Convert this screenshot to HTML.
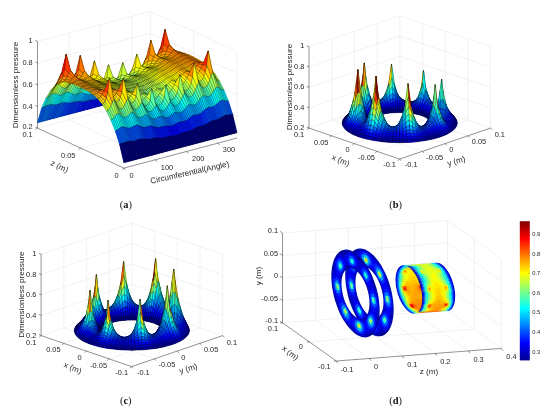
<!DOCTYPE html>
<html lang="en"><head><meta charset="utf-8"><title>Pressure distribution</title>
<style>html,body{margin:0;padding:0;background:#fff}body{width:550px;height:410px;overflow:hidden}svg{display:block}text{font-family:"Liberation Sans",sans-serif;fill:#262626}.cap{font-family:"Liberation Serif",serif;fill:#111}</style></head>
<body>
<svg width="550" height="410" viewBox="0 0 550 410">
<path d="M155.3 159.8L68.9 119.8M68.9 119.8L68.9 33.1M186.7 151.4L100.3 111.4M100.3 111.4L100.3 24.7M218.1 143.1L131.7 103.1M131.7 103.1L131.7 16.4M80.7 148.1L193.7 118.1M193.7 118.1L193.7 31.4M37.5 106.4L150.5 76.4M150.5 76.4L236.9 116.4M37.5 84.8L150.5 54.7M150.5 54.7L236.9 94.8M37.5 63.1L150.5 33.1M150.5 33.1L236.9 73.1M37.5 41.4L150.5 11.4M150.5 11.4L236.9 51.4M150.5 98.1L150.5 11.4M236.9 138.1L236.9 51.4M37.5 128.1L150.5 98.1M150.5 98.1L236.9 138.1" stroke="#e4e4e4" stroke-width=".5" fill="none"/>
<path d="M37.5 128.1L37.5 41.4M37.5 128.1L123.9 168.1M123.9 168.1L236.9 138.1M37.5 128.1L35.3 127.1M37.5 106.4L35.3 105.4M37.5 84.8L35.3 83.8M37.5 63.1L35.3 62.1M37.5 41.4L35.3 40.4M123.9 168.1L121.9 169.5M80.7 148.1L78.7 149.5M37.5 128.1L35.5 129.5M123.9 168.1L125.5 170.1M155.3 159.8L156.9 161.8M186.7 151.4L188.3 153.4M218.1 143.1L219.7 145.1" stroke="#262626" stroke-width=".5" fill="none"/>
<defs><g id="sa"><path color="#0063ff" d="M1534 780l14-3-43 150-14 4zm-14 1l14-1-43 151-14 3zm-14 1l14-1-43 153-14 4zm-14 1l14-1-43 156-15 4zm-14 3l14-3-44 159-14 4zm-15 7l15-7-44 160-14 3zm-14 8l14-8-43 156-14 4zm-14 10l14-10-43 152-14 4z"/>
<path color="#0053ff" d="M1421 819l14-8-43 146-14 4zm-14 8l14-8-43 142-14 3zm-14 5l14-5-43 137-14 4z"/>
<path color="#06fff9" d="M1577 681l14-2-43 98-14 3z"/>
<path color="#0053ff" d="M1379 835l14-3-43 136-15 4zm-14 3l14-3-44 137-14 4z"/>
<path color="#06fff9" d="M1563 680l14 1-43 99-14 1z"/>
<path color="#0053ff" d="M1350 841l15-3-44 138-14 3z"/>
<path color="#06fff9" d="M1549 677l14 3-43 101-14 1z"/>
<path color="#0053ff" d="M1336 846l14-5-43 138-14 4z"/>
<path color="#16ffe9" d="M1535 674l14 3-43 105-14 1z"/>
<path color="#0053ff" d="M1322 853l14-7-43 137-14 4z"/>
<path color="#16ffe9" d="M1521 676l14-2-43 109-14 3z"/>
<path color="#0043ff" d="M1308 862l14-9-43 134-14 4z"/>
<path color="#16ffe9" d="M1507 685l14-9-43 110-15 7z"/>
<path color="#0043ff" d="M1294 872l14-10-43 129-14 3z"/>
<path color="#16ffe9" d="M1493 698l14-13-44 108-14 8z"/>
<path color="#03f" d="M1280 881l14-9-43 122-14 4z"/>
<path color="#06fff9" d="M1478 713l15-15-44 103-14 10z"/>
<path color="#03f" d="M1266 889l14-8-43 117-15 4z"/>
<path color="#00f5ff" d="M1464 726l14-13-43 98-14 8z"/>
<path color="#00e5ff" d="M1450 736l14-10-43 93-14 8z"/>
<path color="#03f" d="M1252 895l14-6-44 113-14 4z"/>
<path color="#7f8" d="M1620 609l15-1-44 71-14 2z"/>
<path color="#00e5ff" d="M1436 742l14-6-43 91-14 5z"/>
<path color="#02f" d="M1237 900l15-5-44 111-14 3z"/>
<path color="#00e5ff" d="M1422 744l14-2-43 90-14 3z"/>
<path color="#7f8" d="M1606 604l14 5-43 72-14-1z"/>
<path color="#02f" d="M1223 903l14-3-43 109-14 4z"/>
<path color="#00e5ff" d="M1408 744l14 0-43 91-14 3z"/>
<path color="#02f" d="M1209 907l14-4-43 110-14 4z"/>
<path color="#8f7" d="M1592 593l14 11-43 76-14-3z"/>
<path color="#00e5ff" d="M1394 744l14 0-43 94-15 3z"/>
<path color="#02f" d="M1195 912l14-5-43 110-14 4z"/>
<path color="#98ff67" d="M1578 583l14 10-43 84-14-3z"/>
<path color="#02f" d="M1181 918l14-6-43 109-14 3z"/>
<path color="#00e5ff" d="M1380 749l14-5-44 97-14 5z"/>
<path color="#b8ff47" d="M1564 581l14 2-43 91-14 2z"/>
<path color="#00e5ff" d="M1365 759l15-10-44 97-14 7z"/>
<path color="#02f" d="M1167 926l14-8-43 106-14 4z"/>
<path color="#00e5ff" d="M1351 772l14-13-43 94-14 9z"/>
<path color="#02f" d="M1153 934l14-8-43 102-14 4z"/>
<path color="#b8ff47" d="M1550 594l14-13-43 95-14 9z"/>
<path color="#00d4ff" d="M1337 788l14-16-43 90-14 10z"/>
<path color="#a8ff57" d="M1536 617l14-23-43 91-14 13z"/>
<path color="#0012ff" d="M1139 941l14-7-43 98-15 4z"/>
<path color="#98ff67" d="M1522 639l14-22-43 81-15 15z"/>
<path color="#00c4ff" d="M1323 801l14-13-43 84-14 9z"/>
<path color="#7f8" d="M1507 658l15-19-44 74-14 13z"/>
<path color="#0012ff" d="M1124 947l15-6-44 95-14 3z"/>
<path color="#00b4ff" d="M1309 812l14-11-43 80-14 8z"/>
<path color="#67ff98" d="M1493 670l14-12-43 68-14 10z"/>
<path color="#d9ff26" d="M1664 559l14 0-43 49-15 1z"/>
<path color="#00b4ff" d="M1295 820l14-8-43 77-14 6z"/>
<path color="#0012ff" d="M1110 952l14-5-43 92-14 4z"/>
<path color="#57ffa8" d="M1479 676l14-6-43 66-14 6z"/>
<path color="#d9ff26" d="M1650 548l14 11-44 50-14-5z"/>
<path color="#00a4ff" d="M1281 824l14-4-43 75-15 5z"/>
<path color="#0012ff" d="M1096 955l14-3-43 91-14 4z"/>
<path color="#57ffa8" d="M1465 675l14 1-43 66-14 2z"/>
<path color="#00a4ff" d="M1267 826l14-2-44 76-14 3z"/>
<path color="#0012ff" d="M1082 958l14-3-43 92-14 4z"/>
<path color="#e9ff16" d="M1635 527l15 21-44 56-14-11z"/>
<path color="#57ffa8" d="M1451 669l14 6-43 69-14 0z"/>
<path color="#00a4ff" d="M1252 829l15-3-44 77-14 4z"/>
<path color="#0012ff" d="M1068 960l14-2-43 93-14 3z"/>
<path color="#67ff98" d="M1437 663l14 6-43 75-14 0z"/>
<path color="#00b4ff" d="M1238 833l14-4-43 78-14 5z"/>
<path color="#0012ff" d="M1054 964l14-4-43 94-14 4z"/>
<path color="#ffe500" d="M1621 495l14 32-43 66-14-10z"/>
<path color="#7f8" d="M1423 664l14-1-43 81-14 5z"/>
<path color="#00b4ff" d="M1224 842l14-9-43 79-14 6z"/>
<path color="#0012ff" d="M1040 968l14-4-43 94-15 4z"/>
<path color="#7f8" d="M1409 679l14-15-43 85-15 10z"/>
<path color="#00a4ff" d="M1210 853l14-11-43 76-14 8z"/>
<path color="#ffb400" d="M1607 475l14 20-43 88-14-2z"/>
<path color="#0012ff" d="M1026 974l14-6-44 94-14 4z"/>
<path color="#67ff98" d="M1394 701l15-22-44 80-14 13z"/>
<path color="#0094ff" d="M1196 865l14-12-43 73-14 8z"/>
<path color="#57ffa8" d="M1380 724l14-23-43 71-14 16z"/>
<path color="#ff9400" d="M1593 506l14-31-43 106-14 13z"/>
<path color="#fff500" d="M1565 586l14-35-43 66-14 22z"/>
<path color="#ffc400" d="M1579 551l14-45-43 88-14 23z"/>
<path color="#ffe500" d="M1707 530l14 0-43 29-14 0z"/>
<path color="#0012ff" d="M1011 980l15-6-44 92-14 3z"/>
<path color="#d9ff26" d="M1551 610l14-24-43 53-15 19z"/>
<path color="#37ffc8" d="M1366 743l14-19-43 64-14 13z"/>
<path color="#0094ff" d="M1182 876l14-11-43 69-14 7z"/>
<path color="#c8ff37" d="M1537 624l14-14-44 48-14 12z"/>
<path color="#26ffd9" d="M1352 757l14-14-43 58-14 11z"/>
<path color="#0012ff" d="M997 986l14-6-43 89-14 4z"/>
<path color="#0084ff" d="M1168 883l14-7-43 65-15 6z"/>
<path color="#ffe500" d="M1693 518l14 12-43 29-14-11z"/>
<path color="#b8ff47" d="M1522 630l15-6-44 46-14 6z"/>
<path color="#16ffe9" d="M1338 765l14-8-43 55-14 8z"/>
<path color="#0002ff" d="M983 990l14-4-43 87-14 4z"/>
<path color="#0084ff" d="M1154 888l14-5-44 64-14 5z"/>
<path color="#16ffe9" d="M1324 767l14-2-43 55-14 4z"/>
<path color="#b8ff47" d="M1508 625l14 5-43 46-14-1z"/>
<path color="#0002ff" d="M969 992l14-2-43 87-14 4z"/>
<path color="#0084ff" d="M1139 890l15-2-44 64-14 3z"/>
<path color="#ffc400" d="M1679 490l14 28-43 30-15-21z"/>
<path color="#16ffe9" d="M1310 765l14 2-43 57-14 2z"/>
<path color="#b8ff47" d="M1494 610l14 15-43 50-14-6z"/>
<path color="#0012ff" d="M955 993l14-1-43 89-14 3z"/>
<path color="#0084ff" d="M1125 891l14-1-43 65-14 3z"/>
<path color="#16ffe9" d="M1296 763l14 2-43 61-15 3z"/>
<path color="#0012ff" d="M941 994l14-1-43 91-14 4z"/>
<path color="#0084ff" d="M1111 891l14 0-43 67-14 2z"/>
<path color="#d9ff26" d="M1480 586l14 24-43 59-14-6z"/>
<path color="#ffa400" d="M1664 432l15 58-44 37-14-32z"/>
<path color="#26ffd9" d="M1281 765l15-2-44 66-14 4z"/>
<path color="#0012ff" d="M927 995l14-1-43 94-14 4z"/>
<path color="#0084ff" d="M1097 894l14-3-43 69-14 4z"/>
<path color="#26ffd9" d="M1267 777l14-12-43 68-14 9z"/>
<path color="#ffb400" d="M1750 519l14 0-43 11-14 0z"/>
<path color="#f9ff06" d="M1466 571l14 15-43 77-14 1z"/>
<path color="#0012ff" d="M913 996l14-1-43 97-15 4z"/>
<path color="#0094ff" d="M1083 900l14-6-43 70-14 4z"/>
<path color="#16ffe9" d="M1253 795l14-18-43 65-14 11z"/>
<path color="#ffe500" d="M1594 583l14-27-43 30-14 24z"/>
<path color="#ffa400" d="M1608 556l14-41-43 36-14 35z"/>
<path color="#ffe500" d="M1452 601l14-30-43 93-14 15z"/>
<path color="#06fff9" d="M1239 813l14-18-43 58-14 12z"/>
<path color="#e9ff16" d="M1438 644l14-43-43 78-15 22z"/>
<path color="#b8ff47" d="M1424 678l14-34-44 57-14 23z"/>
<path color="#f9ff06" d="M1580 598l14-15-43 27-14 14z"/>
<path color="#0084ff" d="M1069 909l14-9-43 68-14 6z"/>
<path color="#ffb400" d="M1736 510l14 9-43 11-14-12z"/>
<path color="#0012ff" d="M898 1000l15-4-44 100-14 3z"/>
<path color="#98ff67" d="M1409 702l15-24-44 46-14 19z"/>
<path color="#ff5300" d="M1622 515l14-72-43 63-14 45z"/>
<path color="#00f5ff" d="M1225 827l14-14-43 52-14 11z"/>
<path color="#7f8" d="M1395 718l14-16-43 41-14 14z"/>
<path color="#e9ff16" d="M1566 603l14-5-43 26-15 6z"/>
<path color="#0084ff" d="M1055 917l14-8-43 65-15 6z"/>
<path color="#ff5300" d="M1650 295l14 137-43 63-14-20z"/>
<path color="#02f" d="M884 1004l14-4-43 99-14 4z"/>
<path color="#00e5ff" d="M1211 837l14-10-43 49-14 7z"/>
<path color="#67ff98" d="M1381 726l14-8-43 39-14 8z"/>
<path color="#0084ff" d="M1041 924l14-7-44 63-14 6z"/>
<path color="#ffa400" d="M1722 491l14 19-43 8-14-28z"/>
<path color="#e9ff16" d="M1551 598l15 5-44 27-14-5z"/>
<path color="#ff1200" d="M1636 443l14-148-43 180-14 31z"/>
<path color="#00d4ff" d="M1197 842l14-5-43 46-14 5z"/>
<path color="#0012ff" d="M870 1008l14-4-43 99-14 4z"/>
<path color="#67ff98" d="M1367 726l14 0-43 39-14 2z"/>
<path color="#0073ff" d="M1026 929l15-5-44 62-14 4z"/>
<path color="#0012ff" d="M856 1012l14-4-43 99-14 4z"/>
<path color="#00d4ff" d="M1183 842l14 0-43 46-15 2z"/>
<path color="#f9ff06" d="M1537 578l14 20-43 27-14-15z"/>
<path color="#67ff98" d="M1353 718l14 8-43 41-14-2z"/>
<path color="#0073ff" d="M1012 930l14-1-43 61-14 2z"/>
<path color="#0012ff" d="M842 1014l14-2-43 99-14 3z"/>
<path color="#ff8400" d="M1708 465l14 26-43-1-15-58z"/>
<path color="#00e5ff" d="M1168 838l15 4-44 48-14 1z"/>
<path color="#0073ff" d="M998 929l14 1-43 62-14 1z"/>
<path color="#7f8" d="M1339 701l14 17-43 47-14-2z"/>
<path color="#ffa400" d="M1793 523l14-2-43-2-14 0z"/>
<path color="#02f" d="M828 1014l14 0-43 100-14 4z"/>
<path color="#00e5ff" d="M1154 833l14 5-43 53-14 0z"/>
<path color="#ffe500" d="M1523 531l14 47-43 32-14-24z"/>
<path color="#0084ff" d="M984 926l14 3-43 64-14 1z"/>
<path color="#02f" d="M814 1013l14 1-43 104-15 4z"/>
<path color="#ffa400" d="M1779 519l14 4-43-4-14-9z"/>
<path color="#98ff67" d="M1325 690l14 11-43 62-15 2z"/>
<path color="#ff9400" d="M1651 545l14-31-43 1-14 41z"/>
<path color="#ffb400" d="M1637 567l14-22-43 11-14 27z"/>
<path color="#00f5ff" d="M1140 833l14 0-43 58-14 3z"/>
<path color="#ffd500" d="M1623 581l14-14-43 16-14 15z"/>
<path color="#ff6300" d="M1665 514l14-38-43-33-14 72z"/>
<path color="#a8ff57" d="M1311 715l14-25-44 75-14 12z"/>
<path color="#0084ff" d="M970 924l14 2-43 68-14 1z"/>
<path color="#02f" d="M800 1012l14 1-44 109-14 4z"/>
<path color="#8f7" d="M1296 749l15-34-44 62-14 18z"/>
<path color="#c8ff37" d="M1453 679l14-26-43 25-15 24z"/>
<path color="#f9ff06" d="M1467 653l14-40-43 31-14 34z"/>
<path color="#ff6300" d="M1694 450l14 15-44-33-14-137z"/>
<path color="#00f5ff" d="M1126 842l14-9-43 61-14 6z"/>
<path color="#ffd500" d="M1609 586l14-5-43 17-14 5z"/>
<path color="#67ff98" d="M1282 776l14-27-43 46-14 18z"/>
<path color="#ff9400" d="M1765 511l14 8-43-9-14-19z"/>
<path color="#b8ff47" d="M1439 697l14-18-44 23-14 16z"/>
<path color="#ffa400" d="M1481 613l14-67-43 55-14 43z"/>
<path color="#47ffb8" d="M1268 794l14-18-43 37-14 14z"/>
<path color="#0094ff" d="M956 924l14 0-43 71-14 1z"/>
<path color="#00f5ff" d="M1112 856l14-14-43 58-14 9z"/>
<path color="#03f" d="M785 1011l15 1-44 114-14 3z"/>
<path color="#98ff67" d="M1424 705l15-8-44 21-14 8z"/>
<path color="#ff4300" d="M1679 476l15-26-44-155-14 148z"/>
<path color="#ffa400" d="M1509 404l14 127-43 55-14-15z"/>
<path color="#ffe500" d="M1595 583l14 3-43 17-15-5z"/>
<path color="#26ffd9" d="M1254 805l14-11-43 33-14 10z"/>
<path color="#00e5ff" d="M1098 870l14-14-43 53-14 8z"/>
<path color="#0094ff" d="M942 928l14-4-43 72-15 4z"/>
<path color="#ff8400" d="M1751 504l14 7-43-20-14-26z"/>
<path color="#98ff67" d="M1410 704l14 1-43 21-14 0z"/>
<path color="#03f" d="M771 1012l14-1-43 118-14 4z"/>
<path color="#ff6300" d="M1495 546l14-142-43 167-14 30z"/>
<path color="#26ffd9" d="M1240 810l14-5-43 32-14 5z"/>
<path color="#00d4ff" d="M1084 879l14-9-43 47-14 7z"/>
<path color="#ffd500" d="M1581 571l14 12-44 15-14-20z"/>
<path color="#0094ff" d="M928 934l14-6-44 72-14 4z"/>
<path color="#03f" d="M757 1014l14-2-43 121-14 4z"/>
<path color="#26ffd9" d="M1226 807l14 3-43 32-14 0z"/>
<path color="#ff9400" d="M1836 535l15-1-44-13-14 2z"/>
<path color="#00d4ff" d="M1070 884l14-5-43 45-15 5z"/>
<path color="#98ff67" d="M1396 692l14 12-43 22-14-8z"/>
<path color="#ff7300" d="M1737 503l14 1-43-39-14-15z"/>
<path color="#0094ff" d="M913 940l15-6-44 70-14 4z"/>
<path color="#03f" d="M743 1018l14-4-43 123-14 4z"/>
<path color="#00d4ff" d="M1055 885l15-1-44 45-14 1z"/>
<path color="#ff9400" d="M1822 535l14 0-43-12-14-4z"/>
<path color="#ff7300" d="M1723 514l14-11-43-53-15 26z"/>
<path color="#26ffd9" d="M1212 796l14 11-43 35-15-4z"/>
<path color="#ff7300" d="M1709 532l14-18-44-38-14 38z"/>
<path color="#0094ff" d="M899 944l14-4-43 68-14 4z"/>
<path color="#ffc400" d="M1566 552l15 19-44 7-14-47z"/>
<path color="#ff9400" d="M1694 551l15-19-44-18-14 31z"/>
<path color="#03f" d="M729 1023l14-5-43 123-14 3z"/>
<path color="#b8ff47" d="M1382 658l14 34-43 26-14-17z"/>
<path color="#ffa400" d="M1680 566l14-15-43-6-14 22z"/>
<path color="#00d4ff" d="M1041 880l14 5-43 45-14-1z"/>
<path color="#ff9400" d="M1808 533l14 2-43-16-14-8z"/>
<path color="#ffb400" d="M1666 577l14-11-43 1-14 14z"/>
<path color="#0094ff" d="M885 945l14-1-43 68-14 2z"/>
<path color="#37ffc8" d="M1198 778l14 18-44 42-14-5z"/>
<path color="#03f" d="M715 1026l14-3-43 121-14 4z"/>
<path color="#ffb400" d="M1652 583l14-6-43 4-14 5z"/>
<path color="#00e5ff" d="M1027 872l14 8-43 49-14-3z"/>
<path color="#ffd500" d="M1510 636l14-31-43 8-14 40z"/>
<path color="#fff500" d="M1496 658l14-22-43 17-14 26z"/>
<path color="#0094ff" d="M871 943l14 2-43 69-14 0z"/>
<path color="#ff8400" d="M1794 532l14 1-43-22-14-7z"/>
<path color="#03f" d="M701 1027l14-1-43 122-14 4z"/>
<path color="#e9ff16" d="M1482 674l14-16-43 21-14 18z"/>
<path color="#ffa400" d="M1524 605l14-37-43-22-14 67z"/>
<path color="#57ffa8" d="M1183 767l15 11-44 55-14 0z"/>
<path color="#98ff67" d="M1326 756l14-31-44 24-14 27z"/>
<path color="#ffc400" d="M1638 585l14-2-43 3-14-3z"/>
<path color="#d9ff26" d="M1340 725l14-53-43 43-15 34z"/>
<path color="#7f8" d="M1311 776l15-20-44 20-14 18z"/>
<path color="#ffa400" d="M1552 542l14 10-43-21-14-127z"/>
<path color="#d9ff26" d="M1468 683l14-9-43 23-15 8z"/>
<path color="#e9ff16" d="M1368 543l14 115-43 43-14-11z"/>
<path color="#0043ff" d="M687 1027l14 0-43 125-15 4z"/>
<path color="#00f5ff" d="M1013 864l14 8-43 54-14-2z"/>
<path color="#0094ff" d="M857 938l14 5-43 71-14-1z"/>
<path color="#ff8400" d="M1780 535l14-3-43-28-14-1z"/>
<path color="#67ff98" d="M1297 788l14-12-43 18-14 11z"/>
<path color="#7f8" d="M1169 787l14-20-43 66-14 9z"/>
<path color="#ff9400" d="M1538 568l14-26-43-138-14 142z"/>
<path color="#ffe500" d="M1354 672l14-129-43 147-14 25z"/>
<path color="#ff9400" d="M1880 553l14-2-43-17-15 1z"/>
<path color="#d9ff26" d="M1453 684l15-1-44 22-14-1z"/>
<path color="#57ffa8" d="M1155 815l14-28-43 55-14 14z"/>
<path color="#ffb400" d="M1624 582l14 3-43-2-14-12z"/>
<path color="#57ffa8" d="M1283 792l14-4-43 17-14 5z"/>
<path color="#ff8400" d="M1766 542l14-7-43-32-14 11z"/>
<path color="#0043ff" d="M672 1025l15 2-44 129-14 3z"/>
<path color="#37ffc8" d="M1141 836l14-21-43 41-14 14z"/>
<path color="#06fff9" d="M999 861l14 3-43 60-14 0z"/>
<path color="#00a4ff" d="M843 932l14 6-43 75-14-1z"/>
<path color="#ff8400" d="M1752 553l14-11-43-28-14 18z"/>
<path color="#ff9400" d="M1866 554l14-1-44-18-14 0z"/>
<path color="#26ffd9" d="M1127 849l14-13-43 34-14 9z"/>
<path color="#d9ff26" d="M1439 678l14 6-43 20-14-12z"/>
<path color="#57ffa8" d="M1269 789l14 3-43 18-14-3z"/>
<path color="#0043ff" d="M658 1023l14 2-43 134-14 4z"/>
<path color="#ffb400" d="M1610 580l14 2-43-11-15-19z"/>
<path color="#ff9400" d="M1738 564l14-11-43-21-15 19z"/>
<path color="#06fff9" d="M985 867l14-6-43 63-14 4z"/>
<path color="#00b4ff" d="M829 927l14 5-43 80-15-1z"/>
<path color="#16ffe9" d="M1113 854l14-5-43 30-14 5z"/>
<path color="#ff9400" d="M1851 555l15-1-44-19-14-2zm-128 21l15-12-44-13-14 15z"/>
<path color="#06fff9" d="M971 878l14-11-43 61-14 6z"/>
<path color="#0053ff" d="M644 1022l14 1-43 140-14 4z"/>
<path color="#57ffa8" d="M1255 774l14 15-43 18-14-11z"/>
<path color="#ffa400" d="M1709 584l14-8-43-10-14 11zm-113-1l14-3-44-28-14-10z"/>
<path color="#16ffe9" d="M1099 853l14 1-43 30-15 1z"/>
<path color="#00c4ff" d="M815 925l14 2-44 84-14 1z"/>
<path color="#e9ff16" d="M1425 666l14 12-43 14-14-34z"/>
<path color="#ff8400" d="M1837 556l14-1-43-22-14-1z"/>
<path color="#00f5ff" d="M957 888l14-10-43 56-15 6z"/>
<path color="#0053ff" d="M630 1022l14 0-43 145-14 4z"/>
<path color="#ffa400" d="M1695 591l14-7-43-7-14 6zm-114 5l15-13-44-41-14 26z"/>
<path color="#ffb400" d="M1567 615l14-19-43-28-14 37z"/>
<path color="#00c4ff" d="M800 928l15-3-44 87-14 2z"/>
<path color="#ffc400" d="M1553 635l14-20-43-10-14 31z"/>
<path color="#16ffe9" d="M1085 845l14 8-44 32-14-5z"/>
<path color="#00f5ff" d="M942 894l15-6-44 52-14 4z"/>
<path color="#ff8400" d="M1823 560l14-4-43-24-14 3z"/>
<path color="#ffe500" d="M1539 652l14-17-43 1-14 22z"/>
<path color="#0063ff" d="M616 1026l14-4-43 149-14 3z"/>
<path color="#7f8" d="M1241 741l14 33-43 22-14-18z"/>
<path color="#ffb400" d="M1681 595l14-4-43-8-14 2z"/>
<path color="#fff500" d="M1525 665l14-13-43 6-14 16z"/>
<path color="#00c4ff" d="M786 934l14-6-43 86-14 4z"/>
<path color="#00f5ff" d="M928 895l14-1-43 50-14 1z"/>
<path color="#ff9400" d="M1923 574l14-3-43-20-14 2z"/>
<path color="#ff8400" d="M1809 565l14-5-43-25-14 7z"/>
<path color="#c8ff37" d="M1369 735l14-24-43 14-14 31z"/>
<path color="#e9ff16" d="M1383 711l14-29-43-10-14 53z"/>
<path color="#0063ff" d="M602 1031l14-5-43 148-14 4z"/>
<path color="#a8ff57" d="M1355 753l14-18-43 21-15 20z"/>
<path color="#26ffd9" d="M1070 829l15 16-44 35-14-8z"/>
<path color="#f9ff06" d="M1511 674l14-9-43 9-14 9zm-100-13l14 5-43-8-14-115z"/>
<path color="#ffb400" d="M1667 597l14-2-43-10-14-3z"/>
<path color="#00c4ff" d="M772 940l14-6-43 84-14 5z"/>
<path color="#ff8400" d="M1795 573l14-8-43-23-14 11z"/>
<path color="#98ff67" d="M1340 764l15-11-44 23-14 12z"/>
<path color="#ff9400" d="M1909 575l14-1-43-21-14 1z"/>
<path color="#00f5ff" d="M914 891l14 4-43 50-14-2z"/>
<path color="#fff500" d="M1397 682l14-21-43-118-14 129z"/>
<path color="#0053ff" d="M588 1037l14-6-43 147-15 4z"/>
<path color="#f9ff06" d="M1497 678l14-4-43 9-15 1z"/>
<path color="#ffa400" d="M1653 600l14-3-43-15-14-2z"/>
<path color="#ff9400" d="M1781 582l14-9-43-20-14 11z"/>
<path color="#00c4ff" d="M758 944l14-4-43 83-14 3z"/>
<path color="#98ff67" d="M1326 769l14-5-43 24-14 4z"/>
<path color="#47ffb8" d="M1056 806l14 23-43 43-14-8z"/>
<path color="#a8ff57" d="M1227 627l14 114-43 37-15-11z"/>
<path color="#ff9400" d="M1895 576l14-1-43-21-15 1z"/>
<path color="#a8ff57" d="M1198 794l15-44-44 37-14 28z"/>
<path color="#0053ff" d="M574 1042l14-5-44 145-14 4z"/>
<path color="#7f8" d="M1184 818l14-24-43 21-14 21z"/>
<path color="#f9ff06" d="M1483 680l14-2-44 6-14-6z"/>
<path color="#ff9400" d="M1767 591l14-9-43-18-15 12z"/>
<path color="#06fff9" d="M900 881l14 10-43 52-14-5z"/>
<path color="#ffa400" d="M1639 606l14-6-43-20-14 3z"/>
<path color="#57ffa8" d="M1170 832l14-14-43 18-14 13z"/>
<path color="#00c4ff" d="M744 944l14 0-43 82-14 1z"/>
<path color="#8f7" d="M1312 768l14 1-43 23-14-3z"/>
<path color="#d9ff26" d="M1213 750l14-123-44 140-14 20z"/>
<path color="#ff9400" d="M1753 598l14-7-44-15-14 8zm127-20l15-2-44-21-14 1z"/>
<path color="#0053ff" d="M559 1045l15-3-44 144-14 3z"/>
<path color="#ffb400" d="M1625 616l14-10-43-23-15 13z"/>
<path color="#47ffb8" d="M1156 838l14-6-43 17-14 5z"/>
<path color="#67ff98" d="M1042 791l14 15-43 58-14-3z"/>
<path color="#f9ff06" d="M1468 680l15 0-44-2-14-12z"/>
<path color="#16ffe9" d="M886 868l14 13-43 57-14-6z"/>
<path color="#00c4ff" d="M730 941l14 3-43 83-14 0z"/>
<path color="#ffa400" d="M1738 605l15-7-44-14-14 7z"/>
<path color="#ffb400" d="M1610 629l15-13-44-20-14 19z"/>
<path color="#98ff67" d="M1298 760l14 8-43 21-14-15z"/>
<path color="#ff8400" d="M1866 582l14-4-43-22-14 4z"/>
<path color="#0053ff" d="M545 1046l14-1-43 144-14 4z"/>
<path color="#47ffb8" d="M1142 837l14 1-43 16-14-1z"/>
<path color="#ffc400" d="M1596 642l14-13-43-14-14 20z"/>
<path color="#8f7" d="M1028 809l14-18-43 70-14 6z"/>
<path color="#f9ff06" d="M1454 685l14-5-43-14-14-5z"/>
<path color="#ffa400" d="M1724 610l14-5-43-14-14 4z"/>
<path color="#00d4ff" d="M716 935l14 6-43 86-15-2z"/>
<path color="#ffd500" d="M1582 655l14-13-43-7-14 17z"/>
<path color="#ff9400" d="M1966 596l14-2-43-23-14 3z"/>
<path color="#ff8400" d="M1852 587l14-5-43-22-14 5z"/>
<path color="#67ff98" d="M1014 834l14-25-43 58-14 11z"/>
<path color="#0063ff" d="M531 1045l14 1-43 147-14 4z"/>
<path color="#26ffd9" d="M872 855l14 13-43 64-14-5z"/>
<path color="#f9ff06" d="M1440 697l14-12-43-24-14 21z"/>
<path color="#ffd500" d="M1568 666l14-11-43-3-14 13z"/>
<path color="#57ffa8" d="M1000 851l14-17-43 44-14 10z"/>
<path color="#47ffb8" d="M1128 828l14 9-43 16-14-8z"/>
<path color="#ffa400" d="M1710 615l14-5-43-15-14 2z"/>
<path color="#a8ff57" d="M1284 747l14 13-43 14-14-33z"/>
<path color="#ff8400" d="M1838 594l14-7-43-22-14 8z"/>
<path color="#f9ff06" d="M1426 713l14-16-43-15-14 29z"/>
<path color="#ff9400" d="M1952 597l14-1-43-22-14 1z"/>
<path color="#0063ff" d="M517 1043l14 2-43 152-14 4z"/>
<path color="#00e5ff" d="M702 927l14 8-44 90-14-2z"/>
<path color="#e9ff16" d="M1412 729l14-16-43-2-14 24z"/>
<path color="#ffe500" d="M1554 675l14-9-43-1-14 9z"/>
<path color="#47ffb8" d="M986 860l14-9-43 37-15 6z"/>
<path color="#37ffc8" d="M858 849l14 6-43 72-14-2z"/>
<path color="#ff9400" d="M1824 602l14-8-43-21-14 9z"/>
<path color="#ffa400" d="M1696 620l14-5-43-18-14 3z"/>
<path color="#d9ff26" d="M1398 742l14-13-43 6-14 18z"/>
<path color="#ff9400" d="M1938 598l14-1-43-22-14 1z"/>
<path color="#ffe500" d="M1540 681l14-6-43-1-14 4z"/>
<path color="#0063ff" d="M503 1043l14 0-43 158-14 3z"/>
<path color="#57ffa8" d="M1114 807l14 21-43 17-15-16z"/>
<path color="#37ffc8" d="M972 861l14-1-44 34-14 1z"/>
<path color="#c8ff37" d="M1384 752l14-10-43 11-15 11z"/>
<path color="#00f5ff" d="M687 921l15 6-44 96-14-1z"/>
<path color="#ff9400" d="M1810 610l14-8-43-20-14 9z"/>
<path color="#47ffb8" d="M844 855l14-6-43 76-15 3z"/>
<path color="#ffa400" d="M1682 626l14-6-43-20-14 6z"/>
<path color="#fff500" d="M1526 687l14-6-43-3-14 2z"/>
<path color="#b8ff47" d="M1370 758l14-6-44 12-14 5z"/>
<path color="#ff9400" d="M1924 599l14-1-43-22-15 2z"/>
<path color="#0073ff" d="M489 1045l14-2-43 161-14 4z"/>
<path color="#ff9400" d="M1796 617l14-7-43-19-14 7z"/>
<path color="#b8ff47" d="M1270 740l14 7-43-6-14-114z"/>
<path color="#47ffb8" d="M829 867l15-12-44 73-14 6z"/>
<path color="#37ffc8" d="M957 854l15 7-44 34-14-4z"/>
<path color="#ffb400" d="M1668 635l14-9-43-20-14 10z"/>
<path color="#b8ff47" d="M1242 781l14-24-43-7-15 44z"/>
<path color="#98ff67" d="M1227 800l15-19-44 13-14 24z"/>
<path color="#00f5ff" d="M673 919l14 2-43 101-14 0z"/>
<path color="#fff500" d="M1512 692l14-5-43-7-15 0z"/>
<path color="#8f7" d="M1213 812l14-12-43 18-14 14z"/>
<path color="#b8ff47" d="M1355 761l15-3-44 11-14-1z"/>
<path color="#ffa400" d="M1782 624l14-7-43-19-15 7z"/>
<path color="#ff8400" d="M1910 602l14-3-44-21-14 4z"/>
<path color="#ffb400" d="M1654 645l14-10-43-19-15 13z"/>
<path color="#0073ff" d="M475 1049l14-4-43 163-14 4z"/>
<path color="#37ffc8" d="M815 877l14-10-43 67-14 6z"/>
<path color="#7f8" d="M1100 767l14 40-44 22-14-23z"/>
<path color="#c8ff37" d="M1256 757l14-17-43-113-14 123z"/>
<path color="#06fff9" d="M659 923l14-4-43 103-14 4z"/>
<path color="#47ffb8" d="M943 840l14 14-43 37-14-10z"/>
<path color="#ffc400" d="M1640 656l14-11-44-16-14 13z"/>
<path color="#7f8" d="M1199 818l14-6-43 20-14 6z"/>
<path color="#ffa400" d="M2009 621l14-1-43-26-14 2z"/>
<path color="#fff500" d="M1497 699l15-7-44-12-14 5z"/>
<path color="#ffa400" d="M1768 629l14-5-44-19-14 5z"/>
<path color="#37ffc8" d="M801 884l14-7-43 63-14 4z"/>
<path color="#ff8400" d="M1895 608l15-6-44-20-14 5z"/>
<path color="#0073ff" d="M461 1056l14-7-43 163-15 4z"/>
<path color="#b8ff47" d="M1341 760l14 1-43 7-14-8z"/>
<path color="#ffc400" d="M1625 666l15-10-44-14-14 13z"/>
<path color="#06fff9" d="M645 931l14-8-43 103-14 5z"/>
<path color="#fff500" d="M1483 708l14-9-43-14-14 12z"/>
<path color="#7f8" d="M1185 818l14 0-43 20-14-1z"/>
<path color="#ffa400" d="M1753 635l15-6-44-19-14 5z"/>
<path color="#ff9400" d="M1881 616l14-8-43-21-14 7z"/>
<path color="#0063ff" d="M446 1064l15-8-44 160-14 3z"/>
<path color="#ffa400" d="M1995 621l14 0-43-25-14 1z"/>
<path color="#37ffc8" d="M787 884l14 0-43 60-14 0z"/>
<path color="#ffd500" d="M1611 676l14-10-43-11-14 11z"/>
<path color="#00f5ff" d="M631 940l14-9-43 100-14 6z"/>
<path color="#67ff98" d="M929 817l14 23-43 41-14-13z"/>
<path color="#f9ff06" d="M1469 720l14-12-43-11-14 16z"/>
<path color="#b8ff47" d="M1327 759l14 1-43 0-14-13z"/>
<path color="#ff9400" d="M1867 624l14-8-43-22-14 8z"/>
<path color="#ffa400" d="M1739 640l14-5-43-20-14 5z"/>
<path color="#0063ff" d="M432 1071l14-7-43 155-14 4z"/>
<path color="#ffd500" d="M1597 685l14-9-43-10-14 9z"/>
<path color="#f9ff06" d="M1455 731l14-11-43-7-14 16z"/>
<path color="#b8ff47" d="M1085 648l15 119-44 39-14-15z"/>
<path color="#8f7" d="M1171 811l14 7-43 19-14-9z"/>
<path color="#ff9400" d="M1981 619l14 2-43-24-14 1z"/>
<path color="#37ffc8" d="M773 878l14 6-43 60-14-3z"/>
<path color="#00f5ff" d="M617 947l14-7-43 97-14 5z"/>
<path color="#b8ff47" d="M1057 811l14-41-43 39-14 25z"/>
<path color="#8f7" d="M1043 832l14-21-43 23-14 17z"/>
<path color="#ff9400" d="M1853 633l14-9-43-22-14 8z"/>
<path color="#e9ff16" d="M1441 742l14-11-43-2-14 13z"/>
<path color="#ffa400" d="M1725 647l14-7-43-20-14 6z"/>
<path color="#ffe500" d="M1583 692l14-7-43-10-14 6z"/>
<path color="#0063ff" d="M418 1077l14-6-43 152-14 4z"/>
<path color="#c8ff37" d="M1313 762l14-3-43-12-14-7z"/>
<path color="#e9ff16" d="M1071 770l14-122-43 143-14 18z"/>
<path color="#7f8" d="M1029 841l14-9-43 19-14 9z"/>
<path color="#00f5ff" d="M603 950l14-3-43 95-15 3z"/>
<path color="#ff9400" d="M1967 618l14 1-43-21-14 1z"/>
<path color="#8f7" d="M915 786l14 31-43 51-14-13z"/>
<path color="#ffa400" d="M1839 641l14-8-43-23-14 7z"/>
<path color="#d9ff26" d="M1427 751l14-9-43 0-14 10z"/>
<path color="#ffb400" d="M1711 655l14-8-43-21-14 9z"/>
<path color="#47ffb8" d="M759 867l14 11-43 63-14-6z"/>
<path color="#ffe500" d="M1569 699l14-7-43-11-14 6z"/>
<path color="#8f7" d="M1157 798l14 13-43 17-14-21z"/>
<path color="#c8ff37" d="M1299 770l14-8-43-22-14 17z"/>
<path color="#67ff98" d="M1015 842l14-1-43 19-14 1z"/>
<path color="#d9ff26" d="M1413 758l14-7-43 1-14 6z"/>
<path color="#ffa400" d="M1825 648l14-7-43-24-14 7z"/>
<path color="#00f5ff" d="M589 949l14 1-44 95-14 1z"/>
<path color="#c8ff37" d="M1285 783l14-13-43-13-14 24z"/>
<path color="#ff8400" d="M1953 620l14-2-43-19-14 3z"/>
<path color="#ffb400" d="M1697 665l14-10-43-20-14 10z"/>
<path color="#ffe500" d="M1555 705l14-6-43-12-14 5z"/>
<path color="#b8ff47" d="M1271 795l14-12-43-2-15 19z"/>
<path color="#ffb400" d="M2052 651l15 0-44-31-14 1z"/>
<path color="#b8ff47" d="M901 766l14 20-43 69-14-6z"/>
<path color="#57ffa8" d="M745 851l14 16-43 68-14-8z"/>
<path color="#ffc400" d="M1683 674l14-9-43-20-14 11z"/>
<path color="#ffa400" d="M1811 653l14-5-43-24-14 5z"/>
<path color="#d9ff26" d="M1399 763l14-5-43 0-15 3z"/>
<path color="#ff8400" d="M1939 627l14-7-43-18-15 6z"/>
<path color="#7f8" d="M1001 835l14 7-43 19-15-7z"/>
<path color="#ffe500" d="M1541 713l14-8-43-13-15 7z"/>
<path color="#a8ff57" d="M1257 804l14-9-44 5-14 12z"/>
<path color="#00f5ff" d="M574 944l15 5-44 97-14-1z"/>
<path color="#a8ff57" d="M1143 780l14 18-43 9-14-40z"/>
<path color="#ffc400" d="M1669 684l14-10-43-18-15 10z"/>
<path color="#ffa400" d="M2038 647l14 4-43-30-14 0zm-241 11l14-5-43-24-15 6z"/>
<path color="#ff8400" d="M1925 638l14-11-44-19-14 8z"/>
<path color="#d9ff26" d="M887 786l14-20-43 83-14 6zm497-20l15-3-44-2-14-1z"/>
<path color="#fff500" d="M1527 722l14-9-44-14-14 9z"/>
<path color="#a8ff57" d="M1242 809l15-5-44 8-14 6z"/>
<path color="#7f8" d="M731 836l14 15-43 76-15-6z"/>
<path color="#ffd500" d="M1654 694l15-10-44-18-14 10z"/>
<path color="#c8ff37" d="M873 814l14-28-43 69-15 12z"/>
<path color="#06fff9" d="M560 938l14 6-43 101-14-2z"/>
<path color="#8f7" d="M986 819l15 16-44 19-14-14z"/>
<path color="#ff9400" d="M1910 649l15-11-44-22-14 8z"/>
<path color="#ffb400" d="M1782 663l15-5-44-23-14 5z"/>
<path color="#fff500" d="M1512 731l15-9-44-14-14 12z"/>
<path color="#a8ff57" d="M859 833l14-19-44 53-14 10z"/>
<path color="#d9ff26" d="M1370 770l14-4-43-6-14-1z"/>
<path color="#ffa400" d="M2024 639l14 8-43-26-14-2z"/>
<path color="#a8ff57" d="M1228 811l14-2-43 9-14 0z"/>
<path color="#ffd500" d="M1640 702l14-8-43-18-14 9z"/>
<path color="#ffa400" d="M1896 660l14-11-43-25-14 9z"/>
<path color="#f9ff06" d="M1498 741l14-10-43-11-14 11z"/>
<path color="#8f7" d="M844 842l15-9-44 44-14 7z"/>
<path color="#ffb400" d="M1768 670l14-7-43-23-14 7z"/>
<path color="#16ffe9" d="M546 933l14 5-43 105-14 0z"/>
<path color="#8f7" d="M716 829l15 7-44 85-14-2z"/>
<path color="#ffd500" d="M1626 709l14-7-43-17-14 7z"/>
<path color="#d9ff26" d="M1356 774l14-4-43-11-14 3z"/>
<path color="#ffa400" d="M1882 670l14-10-43-27-14 8z"/>
<path color="#f9ff06" d="M1484 751l14-10-43-10-14 11z"/>
<path color="#c8ff37" d="M1129 769l14 11-43-13-15-119z"/>
<path color="#a8ff57" d="M1214 808l14 3-43 7-14-7z"/>
<path color="#ff9400" d="M2010 632l14 7-43-20-14-1z"/>
<path color="#98ff67" d="M972 790l14 29-43 21-14-23z"/>
<path color="#ffb400" d="M1754 678l14-8-43-23-14 8z"/>
<path color="#c8ff37" d="M1100 804l14-21-43-13-14 41z"/>
<path color="#8f7" d="M830 842l14 0-43 42-14 0z"/>
<path color="#b8ff47" d="M1086 819l14-15-43 7-14 21z"/>
<path color="#ffe500" d="M1612 716l14-7-43-17-14 7z"/>
<path color="#98ff67" d="M702 837l14-8-43 90-14 4z"/>
<path color="#26ffd9" d="M532 932l14 1-43 110-14 2z"/>
<path color="#d9ff26" d="M1342 781l14-7-43-12-14 8z"/>
<path color="#e9ff16" d="M1470 759l14-8-43-9-14 9z"/>
<path color="#ffb400" d="M1868 676l14-6-43-29-14 7zm-128 12l14-10-43-23-14 10z"/>
<path color="#d9ff26" d="M1114 783l15-14-44-121-14 122z"/>
<path color="#ffc400" d="M2096 689l14 1-43-39-15 0z"/>
<path color="#a8ff57" d="M1072 826l14-7-43 13-14 9z"/>
<path color="#ff8400" d="M1996 631l14 1-43-14-14 2z"/>
<path color="#a8ff57" d="M1200 804l14 4-43 3-14-13z"/>
<path color="#98ff67" d="M688 852l14-15-43 86-14 8z"/>
<path color="#ffe500" d="M1598 723l14-7-43-17-14 6z"/>
<path color="#c8ff37" d="M1328 790l14-9-43-11-14 13z"/>
<path color="#e9ff16" d="M1456 766l14-7-43-8-14 7z"/>
<path color="#8f7" d="M816 834l14 8-43 42-14-6z"/>
<path color="#26ffd9" d="M518 939l14-7-43 113-14 4z"/>
<path color="#ffb400" d="M1854 681l14-5-43-28-14 5z"/>
<path color="#ffc400" d="M1726 699l14-11-43-23-14 9z"/>
<path color="#8f7" d="M674 867l14-15-43 79-14 9z"/>
<path color="#98ff67" d="M1058 827l14-1-43 15-14 1z"/>
<path color="#ff7300" d="M1982 642l14-11-43-11-14 7z"/>
<path color="#c8ff37" d="M1314 798l14-8-43-7-14 12z"/>
<path color="#ffe500" d="M1584 731l14-8-43-18-14 8z"/>
<path color="#ffc400" d="M2082 680l14 9-44-38-14-4z"/>
<path color="#e9ff16" d="M1442 772l14-6-43-8-14 5z"/>
<path color="#26ffd9" d="M504 950l14-11-43 110-14 7z"/>
<path color="#ffc400" d="M1712 709l14-10-43-25-14 10z"/>
<path color="#c8ff37" d="M958 738l14 52-43 27-14-31z"/>
<path color="#ffb400" d="M1840 684l14-3-43-28-14 5z"/>
<path color="#7f8" d="M660 878l14-11-43 73-14 7z"/>
<path color="#b8ff47" d="M1186 798l14 6-43-6-14-18z"/>
<path color="#ff8400" d="M1968 659l14-17-43-15-14 11z"/>
<path color="#c8ff37" d="M1300 805l14-7-43-3-14 9z"/>
<path color="#98ff67" d="M802 817l14 17-43 44-14-11z"/>
<path color="#fff500" d="M1570 740l14-9-43-18-14 9z"/>
<path color="#16ffe9" d="M490 962l14-12-43 106-15 8z"/>
<path color="#ffd500" d="M1698 718l14-9-43-25-15 10z"/>
<path color="#a8ff57" d="M1044 821l14 6-43 15-14-7z"/>
<path color="#e9ff16" d="M1428 778l14-6-43-9-15 3z"/>
<path color="#ff9400" d="M1954 678l14-19-43-21-15 11z"/>
<path color="#ffb400" d="M1826 688l14-4-43-26-15 5z"/>
<path color="#67ff98" d="M646 881l14-3-43 69-14 3z"/>
<path color="#ffb400" d="M2067 661l15 19-44-33-14-8z"/>
<path color="#b8ff47" d="M1286 811l14-6-43-1-15 5z"/>
<path color="#fff500" d="M1556 749l14-9-43-18-15 9z"/>
<path color="#06fff9" d="M476 972l14-10-44 102-14 7z"/>
<path color="#ffa400" d="M1939 694l15-16-44-29-14 11z"/>
<path color="#ffd500" d="M1684 726l14-8-44-24-14 8z"/>
<path color="#c8ff37" d="M1172 797l14 1-43-18-14-11z"/>
<path color="#d9ff26" d="M1414 783l14-5-44-12-14 4z"/>
<path color="#ffb400" d="M1812 694l14-6-44-25-14 7z"/>
<path color="#fff500" d="M1542 758l14-9-44-18-14 10z"/>
<path color="#ffb400" d="M1925 705l14-11-43-34-14 10z"/>
<path color="#67ff98" d="M632 878l14 3-43 69-14-1z"/>
<path color="#06fff9" d="M461 979l15-7-44 99-14 6z"/>
<path color="#b8ff47" d="M1271 813l15-2-44-2-14 2z"/>
<path color="#a8ff57" d="M1030 809l14 12-43 14-15-16z"/>
<path color="#b8ff47" d="M788 789l14 28-43 50-14-16z"/>
<path color="#ffe500" d="M1669 733l15-7-44-24-14 7z"/>
<path color="#d9ff26" d="M1399 789l15-6-44-13-14 4z"/>
<path color="#ffb400" d="M1797 703l15-9-44-24-14 8z"/>
<path color="#c8ff37" d="M1158 802l14-5-43-28-15 14z"/>
<path color="#fff500" d="M2139 742l14 1-43-53-14-1z"/>
<path color="#f9ff06" d="M1527 767l15-9-44-17-14 10z"/>
<path color="#ff9400" d="M2053 636l14 25-43-22-14-7z"/>
<path color="#ffc400" d="M1911 712l14-7-43-35-14 6z"/>
<path color="#ffe500" d="M1655 740l14-7-43-24-14 7zm-711-131l14 129-43 48-14-20z"/>
<path color="#b8ff47" d="M1257 814l14-1-43-2-14-3z"/>
<path color="#ffe500" d="M916 785l14-47-43 48-14 28z"/>
<path color="#c8ff37" d="M1144 811l14-9-44-19-14 21z"/>
<path color="#e9ff16" d="M902 808l14-23-43 29-14 19z"/>
<path color="#ffc400" d="M1783 715l14-12-43-25-14 10z"/>
<path color="#7f8" d="M618 868l14 10-43 71-15-5z"/>
<path color="#d9ff26" d="M1385 795l14-6-43-15-14 7z"/>
<path color="#f9ff06" d="M1513 776l14-9-43-16-14 8z"/>
<path color="#ffc400" d="M1897 714l14-2-43-36-14 5z"/>
<path color="#c8ff37" d="M888 819l14-11-43 25-15 9zm241 0l15-8-44-7-14 15z"/>
<path color="#ffe500" d="M1641 747l14-7-43-24-14 7z"/>
<path color="#c8ff37" d="M1016 789l14 20-44 10-14-29z"/>
<path color="#fff500" d="M2125 729l14 13-43-53-14-9z"/>
<path color="#ffc400" d="M1769 728l14-13-43-27-14 11z"/>
<path color="#d9ff26" d="M774 753l14 36-43 62-14-15z"/>
<path color="#ffb400" d="M930 738l14-129-43 157-14 20z"/>
<path color="#ff6300" d="M2039 621l14 15-43-4-14-1z"/>
<path color="#d9ff26" d="M1371 802l14-7-43-14-14 9z"/>
<path color="#e9ff16" d="M1499 783l14-7-43-17-14 7z"/>
<path color="#b8ff47" d="M1243 814l14 0-43-6-14-4zm-128 9l14-4-43 0-14 7z"/>
<path color="#ffd500" d="M1755 740l14-12-43-29-14 10z"/>
<path color="#b8ff47" d="M874 819l14 0-44 23-14 0z"/>
<path color="#ffe500" d="M1627 754l14-7-43-24-14 8z"/>
<path color="#ffc400" d="M1883 713l14 1-43-33-14 3z"/>
<path color="#8f7" d="M603 854l15 14-44 76-14-6z"/>
<path color="#d9ff26" d="M1357 809l14-7-43-12-14 8z"/>
<path color="#e9ff16" d="M1485 790l14-7-43-17-14 6z"/>
<path color="#ff5300" d="M2025 646l14-25-43 10-14 11z"/>
<path color="#ffe500" d="M1741 750l14-10-43-31-14 9z"/>
<path color="#ff7300" d="M2011 683l14-37-43-4-14 17z"/>
<path color="#fff500" d="M1613 763l14-9-43-23-14 9z"/>
<path color="#c8ff37" d="M1229 813l14 1-43-10-14-6z"/>
<path color="#ffa400" d="M1997 714l14-31-43-24-14 19z"/>
<path color="#b8ff47" d="M1101 824l14-1-43 3-14 1z"/>
<path color="#ffd500" d="M2111 701l14 28-43-49-15-19z"/>
<path color="#ffc400" d="M1869 712l14 1-43-29-14 4z"/>
<path color="#c8ff37" d="M1343 815l14-6-43-11-14 7z"/>
<path color="#ffe500" d="M760 729l14 24-43 83-15-7z"/>
<path color="#ffc400" d="M1983 736l14-22-43-36-15 16z"/>
<path color="#c8ff37" d="M859 810l15 9-44 23-14-8z"/>
<path color="#e9ff16" d="M1471 796l14-6-43-18-14 6zm-470-33l15 26-44 1-14-52z"/>
<path color="#ffe500" d="M1727 758l14-8-43-32-14 8z"/>
<path color="#a8ff57" d="M589 839l14 15-43 84-14-5z"/>
<path color="#c8ff37" d="M2182 810l14 2-43-69-14-1z"/>
<path color="#fff500" d="M1599 772l14-9-43-23-14 9z"/>
<path color="#ffd500" d="M1969 750l14-14-44-42-14 11z"/>
<path color="#c8ff37" d="M1215 814l14-1-43-15-14-1z"/>
<path color="#ffb400" d="M1855 715l14-3-43-24-14 6z"/>
<path color="#b8ff47" d="M1087 821l14 3-43 3-14-6z"/>
<path color="#c8ff37" d="M1329 820l14-5-43-10-14 6z"/>
<path color="#e9ff16" d="M1457 801l14-5-43-18-14 5z"/>
<path color="#ffc400" d="M746 754l14-25-44 100-14 8z"/>
<path color="#fff500" d="M1713 764l14-6-43-32-15 7z"/>
<path color="#f9ff06" d="M1585 782l14-10-43-23-14 9z"/>
<path color="#ffe500" d="M1954 756l15-6-44-45-14 7zm-1223 33l15-35-44 83-14 15z"/>
<path color="#b8ff47" d="M575 834l14 5-43 94-14-1z"/>
<path color="#d9ff26" d="M845 790l14 20-43 24-14-17z"/>
<path color="#ffb400" d="M1841 727l14-12-43-21-15 9z"/>
<path color="#c8ff37" d="M2168 799l14 11-43-68-14-13z"/>
<path color="#f9ff06" d="M717 815l14-26-43 63-14 15z"/>
<path color="#c8ff37" d="M1201 818l14-4-43-17-14 5zm114 6l14-4-43-9-15 2z"/>
<path color="#f9ff06" d="M1571 792l14-10-43-24-15 9z"/>
<path color="#d9ff26" d="M1443 807l14-6-43-18-15 6z"/>
<path color="#ffb400" d="M2096 645l15 56-44-40-14-25z"/>
<path color="#fff500" d="M1699 769l14-5-44-31-14 7z"/>
<path color="#d9ff26" d="M703 829l14-14-43 52-14 11z"/>
<path color="#c8ff37" d="M1073 813l14 8-43 0-14-12z"/>
<path color="#ffe500" d="M1940 755l14 1-43-44-14 2z"/>
<path color="#ffc400" d="M1826 745l15-18-44-24-14 12z"/>
<path color="#c8ff37" d="M561 845l14-11-43 98-14 7z"/>
<path color="#e9ff16" d="M1556 801l15-9-44-25-14 9z"/>
<path color="#c8ff37" d="M1187 822l14-4-43-16-14 9z"/>
<path color="#d9ff26" d="M1429 814l14-7-44-18-14 6z"/>
<path color="#c8ff37" d="M1301 826l14-2-44-11-14 1z"/>
<path color="#ffd500" d="M1812 763l14-18-43-30-14 13z"/>
<path color="#fff500" d="M1684 774l15-5-44-29-14 7z"/>
<path color="#c8ff37" d="M689 834l14-5-43 49-14 3z"/>
<path color="#b8ff47" d="M547 865l14-20-43 94-14 11z"/>
<path color="#fff500" d="M987 747l14 16-43-25-14-129z"/>
<path color="#67ff98" d="M2225 900l14 0-43-88-14-2z"/>
<path color="#ffe500" d="M1798 779l14-16-43-35-14 12zm128-33l14 9-43-41-14-1z"/>
<path color="#e9ff16" d="M2154 778l14 21-43-70-14-28zm-612 30l14-7-43-25-14 7z"/>
<path color="#c8ff37" d="M1173 827l14-5-43-11-15 8z"/>
<path color="#f9ff06" d="M831 756l14 34-43 27-14-28z"/>
<path color="#ffe500" d="M959 785l14-23-43-24-14 47z"/>
<path color="#d9ff26" d="M1414 821l15-7-44-19-14 7z"/>
<path color="#f9ff06" d="M945 801l14-16-43 0-14 23z"/>
<path color="#fff500" d="M1670 781l14-7-43-27-14 7z"/>
<path color="#a8ff57" d="M533 885l14-20-43 85-14 12z"/>
<path color="#d9ff26" d="M1059 803l14 10-43-4-14-20z"/>
<path color="#c8ff37" d="M1286 828l15-2-44-12-14 0z"/>
<path color="#fff500" d="M1784 790l14-11-43-39-14 10z"/>
<path color="#c8ff37" d="M675 828l14 6-43 47-14-3z"/>
<path color="#ffb400" d="M2040 766l14-41-43-42-14 31z"/>
<path color="#ffe500" d="M2026 792l14-26-43-52-14 22z"/>
<path color="#e9ff16" d="M931 808l14-7-43 7-14 11zm597 7l14-7-43-25-14 7z"/>
<path color="#8f7" d="M519 900l14-15-43 77-14 10z"/>
<path color="#ffd500" d="M973 762l14-15-43-138-14 129z"/>
<path color="#d9ff26" d="M1400 827l14-6-43-19-14 7z"/>
<path color="#c8ff37" d="M1158 830l15-3-44-8-14 4z"/>
<path color="#fff500" d="M1656 790l14-9-43-27-14 9z"/>
<path color="#f9ff06" d="M2012 808l14-16-43-56-14 14z"/>
<path color="#67ff98" d="M2211 894l14 6-43-90-14-11z"/>
<path color="#ff6300" d="M2054 725l14-69-43-10-14 37z"/>
<path color="#ffd500" d="M1912 730l14 16-43-33-14-1z"/>
<path color="#f9ff06" d="M1770 798l14-8-43-40-14 8z"/>
<path color="#c8ff37" d="M1272 830l14-2-43-14-14-1z"/>
<path color="#8f7" d="M505 908l14-8-43 72-15 7z"/>
<path color="#ff6300" d="M2082 509l14 136-43-9-14-15z"/>
<path color="#d9ff26" d="M1514 820l14-5-43-25-14 6z"/>
<path color="#e9ff16" d="M917 808l14 0-43 11-14 0zm1081 7l14-7-43-58-15 6z"/>
<path color="#f9ff06" d="M1642 802l14-12-43-27-14 9z"/>
<path color="#c8ff37" d="M1386 833l14-6-43-18-14 6z"/>
<path color="#e9ff16" d="M1045 793l14 10-43-14-15-26z"/>
<path color="#c8ff37" d="M1144 830l14 0-43-7-14 1z"/>
<path color="#d9ff26" d="M661 813l14 15-43 50-14-10z"/>
<path color="#00f5ff" d="M2268 1010l15-1-44-109-14 0z"/>
<path color="#f9ff06" d="M1756 802l14-4-43-40-14 6z"/>
<path color="#fff500" d="M2140 746l14 32-43-77-15-56z"/>
<path color="#f9ff06" d="M1628 814l14-12-43-30-14 10z"/>
<path color="#c8ff37" d="M1258 832l14-2-43-17-14 1z"/>
<path color="#f20" d="M2068 656l14-147-43 112-14 25z"/>
<path color="#ffb400" d="M1898 722l14 8-43-18-14 3z"/>
<path color="#d9ff26" d="M1500 826l14-6-43-24-14 5z"/>
<path color="#ffd500" d="M817 694l14 62-43 33-14-36z"/>
<path color="#7f8" d="M2197 883l14 11-43-95-14-21z"/>
<path color="#c8ff37" d="M1372 838l14-5-43-18-14 5z"/>
<path color="#d9ff26" d="M1984 811l14 4-44-59-14-1z"/>
<path color="#e9ff16" d="M903 801l14 7-43 11-15-9z"/>
<path color="#d9ff26" d="M1130 829l14 1-43-6-14-3z"/>
<path color="#f9ff06" d="M1742 803l14-1-43-38-14 5z"/>
<path color="#e9ff16" d="M1614 825l14-11-43-32-14 10z"/>
<path color="#00f5ff" d="M2254 1008l14 2-43-110-14-6z"/>
<path color="#ffa400" d="M1884 745l14-23-43-7-14 12z"/>
<path color="#d9ff26" d="M1486 832l14-6-43-25-14 6zm-242 3l14-3-43-18-14 4z"/>
<path color="#f9ff06" d="M1031 788l14 5-44-30-14-16z"/>
<path color="#0053ff" d="M2312 1146l14-3-43-134-15 1z"/>
<path color="#c8ff37" d="M1358 842l14-4-43-18-14 4z"/>
<path color="#ffc400" d="M1870 779l14-34-43-18-15 18z"/>
<path color="#e9ff16" d="M647 786l14 27-43 55-15-14z"/>
<path color="#000080" d="M2355 1331l14-4-43-184-14 3z"/>
<path color="#ffe500" d="M1856 807l14-28-44-34-14 18z"/>
<path color="#d9ff26" d="M1600 834l14-9-43-33-15 9z"/>
<path color="#f9ff06" d="M1728 803l14 0-43-34-15 5z"/>
<path color="#e9ff16" d="M1969 794l15 17-44-56-14-9z"/>
<path color="#f9ff06" d="M1841 827l15-20-44-44-14 16z"/>
<path color="#c8ff37" d="M2069 860l14-25-43-69-14 26z"/>
<path color="#d9ff26" d="M1472 838l14-6-43-25-14 7z"/>
<path color="#f9ff06" d="M2083 835l14-34-43-76-14 41z"/>
<path color="#d9ff26" d="M1116 825l14 4-43-8-14-8z"/>
<path color="#98ff67" d="M2183 872l14 11-43-105-14-32z"/>
<path color="#d9ff26" d="M1230 838l14-3-43-17-14 4z"/>
<path color="#f9ff06" d="M888 785l15 16-44 9-14-20z"/>
<path color="#00f5ff" d="M2240 1004l14 4-43-114-14-11z"/>
<path color="#c8ff37" d="M1344 845l14-3-43-18-14 2z"/>
<path color="#b8ff47" d="M2055 875l14-15-43-68-14 16z"/>
<path color="#0053ff" d="M2298 1147l14-1-44-136-14-2z"/>
<path color="#fff500" d="M1016 792l15-4-44-41-14 15z"/>
<path color="#000080" d="M2341 1334l14-3-43-185-14 1z"/>
<path color="#d9ff26" d="M1586 842l14-8-44-33-14 7zm241-1l14-14-43-48-14 11z"/>
<path color="#ffd500" d="M2097 801l14-44-43-101-14 69z"/>
<path color="#f9ff06" d="M1713 808l15-5-44-29-14 7z"/>
<path color="#d9ff26" d="M1458 846l14-8-43-24-15 7z"/>
<path color="#fff500" d="M1002 800l14-8-43-30-14 23z"/>
<path color="#a8ff57" d="M2041 881l14-6-43-67-14 7z"/>
<path color="#d9ff26" d="M1216 841l14-3-43-16-14 5z"/>
<path color="#c8ff37" d="M1813 848l14-7-43-51-14 8z"/>
<path color="#ffc400" d="M2126 726l14 20-44-101-14-136z"/>
<path color="#c8ff37" d="M1571 847l15-5-44-34-14 7z"/>
<path color="#ffe500" d="M633 749l14 37-44 68-14-15z"/>
<path color="#ffc400" d="M760 786l15-31-44 34-14 26z"/>
<path color="#c8ff37" d="M1330 848l14-3-43-19-15 2z"/>
<path color="#e9ff16" d="M1102 820l14 5-43-12-14-10z"/>
<path color="#000080" d="M2327 1338l14-4-43-187-15 0z"/>
<path color="#0063ff" d="M2283 1147l15 0-44-139-14-4z"/>
<path color="#f9ff06" d="M1699 819l14-11-43-27-14 9z"/>
<path color="#ff7300" d="M775 755l14-60-43 59-15 35z"/>
<path color="#fff500" d="M988 808l14-8-43-15-14 16z"/>
<path color="#06fff9" d="M2226 1002l14 2-43-121-14-11z"/>
<path color="#ffe500" d="M746 802l14-16-43 29-14 14z"/>
<path color="#fff500" d="M1955 753l14 41-43-48-14-16z"/>
<path color="#c8ff37" d="M1443 853l15-7-44-25-14 6z"/>
<path color="#ff8400" d="M803 555l14 139-43 59-14-24z"/>
<path color="#a8ff57" d="M2169 870l14 2-43-126-14-20zm-142 8l14 3-43-66-14-4z"/>
<path color="#d9ff26" d="M1202 843l14-2-43-14-15 3z"/>
<path color="#ffa400" d="M2111 757l15-31-44-217-14 147z"/>
<path color="#c8ff37" d="M1799 849l14-1-43-50-14 4z"/>
<path color="#ffe500" d="M874 761l14 24-43 5-14-34z"/>
<path color="#c8ff37" d="M1557 852l14-5-43-32-14 5z"/>
<path color="#e9ff16" d="M1685 836l14-17-43-29-14 12z"/>
<path color="#c8ff37" d="M1316 850l14-2-44-20-14 2z"/>
<path color="#fff500" d="M732 806l14-4-43 27-14 5z"/>
<path color="#f9ff06" d="M974 812l14-4-43-7-14 7z"/>
<path color="#000080" d="M2312 1342l15-4-44-191-14 1z"/>
<path color="#c8ff37" d="M1429 859l14-6-43-26-14 6z"/>
<path color="#0063ff" d="M2269 1148l14-1-43-143-14-2z"/>
<path color="#a8ff57" d="M2155 883l14-13-43-144-15 31z"/>
<path color="#e9ff16" d="M1088 816l14 4-43-17-14-10z"/>
<path color="#8f7" d="M2126 928l15-22-44-105-14 34z"/>
<path color="#98ff67" d="M2141 906l14-23-44-126-14 44z"/>
<path color="#d9ff26" d="M1671 852l14-16-43-34-14 12z"/>
<path color="#ff4300" d="M789 695l14-140-43 174-14 25z"/>
<path color="#16ffe9" d="M2212 1004l14-2-43-130-14-2z"/>
<path color="#67ff98" d="M2112 947l14-19-43-93-14 25z"/>
<path color="#c8ff37" d="M1543 856l14-4-43-32-14 6z"/>
<path color="#ffb400" d="M618 726l15 23-44 90-14-5z"/>
<path color="#d9ff26" d="M1188 844l14-1-44-13-14 0z"/>
<path color="#c8ff37" d="M1785 842l14 7-43-47-14 1zm-484 10l15-2-44-20-14 2z"/>
<path color="#f9ff06" d="M960 811l14 1-43-4-14 0z"/>
<path color="#000080" d="M2298 1346l14-4-43-194-14 3z"/>
<path color="#c8ff37" d="M1657 866l14-14-43-38-14 11z"/>
<path color="#57ffa8" d="M2098 959l14-12-43-87-14 15z"/>
<path color="#c8ff37" d="M1415 864l14-5-43-26-14 5z"/>
<path color="#a8ff57" d="M2013 866l14 12-43-67-15-17z"/>
<path color="#fff500" d="M718 800l14 6-43 28-14-6z"/>
<path color="#0063ff" d="M2255 1151l14-3-43-146-14 2z"/>
<path color="#16ffe9" d="M2198 1012l14-8-43-134-14 13z"/>
<path color="#e9ff16" d="M1899 865l14-36-43-50-14 28z"/>
<path color="#b8ff47" d="M1885 889l14-24-43-58-15 20z"/>
<path color="#c8ff37" d="M1529 861l14-5-43-30-14 6z"/>
<path color="#f9ff06" d="M1074 814l14 2-43-23-14-5z"/>
<path color="#ffc400" d="M1913 829l14-61-43-23-14 34z"/>
<path color="#ff8400" d="M604 755l14-29-43 108-14 11z"/>
<path color="#b8ff47" d="M1643 877l14-11-43-41-14 9z"/>
<path color="#47ffb8" d="M2084 966l14-7-43-84-14 6z"/>
<path color="#d9ff26" d="M1173 843l15 1-44-14-14-1z"/>
<path color="#ffb400" d="M590 797l14-42-43 90-14 20z"/>
<path color="#a8ff57" d="M1870 904l15-15-44-62-14 14z"/>
<path color="#06fff9" d="M2184 1026l14-14-43-129-14 23z"/>
<path color="#000080" d="M2284 1349l14-3-43-195-14 6z"/>
<path color="#ffe500" d="M576 829l14-32-43 68-14 20z"/>
<path color="#d9ff26" d="M1287 855l14-3-43-20-14 3z"/>
<path color="#c8ff37" d="M1401 868l14-4-43-26-14 4z"/>
<path color="#ffb400" d="M1941 631l14 122-43-23-14-8z"/>
<path color="#d9ff26" d="M1771 830l14 12-43-39-14 0z"/>
<path color="#0063ff" d="M2241 1157l14-6-43-147-14 8z"/>
<path color="#fff500" d="M946 806l14 5-43-3-14-7z"/>
<path color="#ffc400" d="M860 730l14 31-43-5-14-62z"/>
<path color="#f9ff06" d="M562 849l14-20-43 56-14 15z"/>
<path color="#06fff9" d="M2170 1040l14-14-43-120-15 22z"/>
<path color="#c8ff37" d="M1515 868l14-7-43-29-14 6z"/>
<path color="#b8ff47" d="M1629 884l14-7-43-43-14 8z"/>
<path color="#ffe500" d="M704 782l14 18-43 28-14-15z"/>
<path color="#98ff67" d="M1856 911l14-7-43-63-14 7z"/>
<path color="#fff500" d="M1060 815l14-1-43-26-15 4z"/>
<path color="#47ffb8" d="M2070 966l14 0-43-85-14-3z"/>
<path color="#00f5ff" d="M2155 1053l15-13-44-112-14 19z"/>
<path color="#000080" d="M2270 1353l14-4-43-192-14 9z"/>
<path color="#ff8400" d="M1927 768l14-137-43 91-14 23z"/>
<path color="#d9ff26" d="M548 859l14-10-43 51-14 8z"/>
<path color="#c8ff37" d="M1387 871l14-3-43-26-14 3z"/>
<path color="#d9ff26" d="M1273 858l14-3-43-20-14 3z"/>
<path color="#0063ff" d="M2227 1166l14-9-43-145-14 14z"/>
<path color="#b8ff47" d="M1998 844l15 22-44-72-14-41z"/>
<path color="#e9ff16" d="M1159 841l14 2-43-14-14-4z"/>
<path color="#c8ff37" d="M1501 877l14-9-43-30-14 8z"/>
<path color="#f9ff06" d="M1757 824l14 6-43-27-15 5z"/>
<path color="#b8ff47" d="M1615 888l14-4-43-42-15 5z"/>
<path color="#00e5ff" d="M2141 1063l14-10-43-106-14 12z"/>
<path color="#8f7" d="M1842 910l14 1-43-63-14 1z"/>
<path color="#fff500" d="M932 796l14 10-43-5-15-16z"/>
<path color="#0053ff" d="M2213 1175l14-9-43-140-14 14z"/>
<path color="#fff500" d="M1045 818l15-3-44-23-14 8z"/>
<path color="#000080" d="M2256 1357l14-4-43-187-14 9z"/>
<path color="#d9ff26" d="M1259 861l14-3-43-20-14 3z"/>
<path color="#c8ff37" d="M1373 873l14-2-43-26-14 3z"/>
<path color="#47ffb8" d="M2056 963l14 3-43-88-14-12z"/>
<path color="#b8ff47" d="M1487 885l14-8-43-31-15 7z"/>
<path color="#f9ff06" d="M1743 845l14-21-44-16-14 11z"/>
<path color="#00d4ff" d="M2127 1070l14-7-43-104-14 7z"/>
<path color="#e9ff16" d="M1145 839l14 2-43-16-14-5z"/>
<path color="#0053ff" d="M2199 1184l14-9-43-135-15 13z"/>
<path color="#b8ff47" d="M1600 888l15 0-44-41-14 5z"/>
<path color="#e9ff16" d="M1728 875l15-30-44-26-14 17z"/>
<path color="#ffc400" d="M690 749l14 33-43 31-14-27z"/>
<path color="#fff500" d="M1031 822l14-4-43-18-14 8z"/>
<path color="#000080" d="M2242 1361l14-4-43-182-14 9z"/>
<path color="#c8ff37" d="M1714 899l14-24-43-39-14 16z"/>
<path color="#98ff67" d="M1828 896l14 14-43-61-14-7z"/>
<path color="#b8ff47" d="M1473 892l14-7-44-32-14 6z"/>
<path color="#d9ff26" d="M1245 862l14-1-43-20-14 2z"/>
<path color="#c8ff37" d="M1359 875l14-2-43-25-14 2z"/>
<path color="#a8ff57" d="M1942 930l14-31-43-70-14 36z"/>
<path color="#0053ff" d="M2185 1192l14-8-44-131-14 10z"/>
<path color="#8f7" d="M1928 952l14-22-43-65-14 24z"/>
<path color="#00d4ff" d="M2113 1073l14-3-43-104-14 0z"/>
<path color="#a8ff57" d="M1700 917l14-18-43-47-14 14z"/>
<path color="#ffd500" d="M918 783l14 13-44-11-14-24z"/>
<path color="#ffa400" d="M804 781l14-21-43-5-15 31z"/>
<path color="#b8ff47" d="M1586 889l14-1-43-36-14 4z"/>
<path color="#d9ff26" d="M1956 899l14-39-43-92-14 61z"/>
<path color="#f9ff06" d="M1131 837l14 2-43-19-14-4z"/>
<path color="#000080" d="M2228 1364l14-3-43-177-14 8z"/>
<path color="#ff8400" d="M818 760l14-30-43-35-14 60z"/>
<path color="#57ffa8" d="M2042 958l14 5-43-97-15-22z"/>
<path color="#67ff98" d="M1914 966l14-14-43-63-15 15z"/>
<path color="#fff500" d="M1017 823l14-1-43-14-14 4z"/>
<path color="#ff9400" d="M846 711l14 19-43-36-14-139z"/>
<path color="#ffc400" d="M790 794l14-13-44 5-14 16z"/>
<path color="#b8ff47" d="M1458 898l15-6-44-33-14 5z"/>
<path color="#98ff67" d="M1686 930l14-13-43-51-14 11z"/>
<path color="#e9ff16" d="M1984 831l14 13-43-91-14-122z"/>
<path color="#0043ff" d="M2170 1197l15-5-44-129-14 7z"/>
<path color="#c8ff37" d="M1345 877l14-2-43-25-15 2z"/>
<path color="#d9ff26" d="M1231 863l14-1-43-19-14 1z"/>
<path color="#57ffa8" d="M1900 973l14-7-44-62-14 7z"/>
<path color="#00d4ff" d="M2099 1074l14-1-43-107-14-3z"/>
<path color="#b8ff47" d="M1572 892l14-3-43-33-14 5z"/>
<path color="#000080" d="M2214 1368l14-4-43-172-15 5z"/>
<path color="#ffd500" d="M775 797l15-3-44 8-14 4z"/>
<path color="#fff500" d="M1003 822l14 1-43-11-14-1z"/>
<path color="#a8ff57" d="M1814 862l14 34-43-54-14-12z"/>
<path color="#f9ff06" d="M1117 836l14 1-43-21-14-2z"/>
<path color="#ff7300" d="M832 730l14-19-43-156-14 140z"/>
<path color="#8f7" d="M1672 936l14-6-43-53-14 7z"/>
<path color="#f9ff06" d="M1970 860l14-29-43-200-14 137z"/>
<path color="#b8ff47" d="M1444 901l14-3-43-34-14 4z"/>
<path color="#0043ff" d="M2156 1201l14-4-43-127-14 3z"/>
<path color="#67ff98" d="M2028 959l14-1-44-114-14-13z"/>
<path color="#c8ff37" d="M1330 880l15-3-44-25-14 3z"/>
<path color="#ff9400" d="M676 685l14 64-43 37-14-37z"/>
<path color="#d9ff26" d="M1217 863l14 0-43-19-15-1z"/>
<path color="#ffc400" d="M903 771l15 12-44-22-14-31z"/>
<path color="#b8ff47" d="M1558 901l14-9-43-31-14 7z"/>
<path color="#57ffa8" d="M1885 972l15 1-44-62-14-1z"/>
<path color="#000080" d="M2200 1372l14-4-44-171-14 4z"/>
<path color="#00d4ff" d="M2085 1075l14-1-43-111-14-5z"/>
<path color="#8f7" d="M1658 937l14-1-43-52-14 4z"/>
<path color="#ffd500" d="M761 792l14 5-43 9-14-6z"/>
<path color="#f9ff06" d="M1103 837l14-1-43-22-14 1z"/>
<path color="#b8ff47" d="M1430 903l14-2-43-33-14 3z"/>
<path color="#fff500" d="M989 819l14 3-43-11-14-5z"/>
<path color="#67ff98" d="M2013 973l15-14-44-128-14 29z"/>
<path color="#0043ff" d="M2142 1204l14-3-43-128-14 1z"/>
<path color="#57ffa8" d="M1999 994l14-21-43-113-14 39z"/>
<path color="#b8ff47" d="M1544 913l14-12-43-33-14 9z"/>
<path color="#c8ff37" d="M1316 883l14-3-43-25-14 3z"/>
<path color="#47ffb8" d="M1985 1014l14-20-43-95-14 31z"/>
<path color="#e9ff16" d="M1202 862l15 1-44-20-14-2z"/>
<path color="#000080" d="M2185 1376l15-4-44-171-14 3z"/>
<path color="#26ffd9" d="M1971 1032l14-18-43-84-14 22z"/>
<path color="#00e5ff" d="M2071 1080l14-5-43-117-14 1z"/>
<path color="#57ffa8" d="M1871 962l14 10-43-62-14-14z"/>
<path color="#8f7" d="M1644 931l14 6-43-49-15 0z"/>
<path color="#a8ff57" d="M1530 925l14-12-43-36-14 8z"/>
<path color="#fff500" d="M1089 838l14-1-43-22-15 3z"/>
<path color="#b8ff47" d="M1416 903l14 0-43-32-14 2z"/>
<path color="#ffb400" d="M889 766l14 5-43-41-14-19z"/>
<path color="#16ffe9" d="M1957 1044l14-12-43-80-14 14z"/>
<path color="#0043ff" d="M2128 1207l14-3-43-130-14 1z"/>
<path color="#98ff67" d="M1758 960l14-31-44-54-14 24z"/>
<path color="#c8ff37" d="M1302 886l14-3-43-25-14 3z"/>
<path color="#d9ff26" d="M1772 929l14-53-43-31-15 30z"/>
<path color="#ffc400" d="M747 779l14 13-43 8-14-18z"/>
<path color="#ffe500" d="M975 814l14 5-43-13-14-10z"/>
<path color="#7f8" d="M1743 981l15-21-44-61-14 18z"/>
<path color="#e9ff16" d="M1800 746l14 116-43-32-14-6z"/>
<path color="#000080" d="M2171 1379l14-3-43-172-14 3z"/>
<path color="#00e5ff" d="M2057 1089l14-9-43-121-15 14z"/>
<path color="#e9ff16" d="M1188 860l14 2-43-21-14-2z"/>
<path color="#98ff67" d="M1516 934l14-9-43-40-14 7z"/>
<path color="#ff9400" d="M619 798l14-38-43 37-14 32z"/>
<path color="#06fff9" d="M1943 1050l14-6-43-78-14 7z"/>
<path color="#ffc400" d="M605 820l14-22-43 31-14 20z"/>
<path color="#57ffa8" d="M1729 994l14-13-43-64-14 13z"/>
<path color="#fff500" d="M1075 839l14-1-44-20-14 4z"/>
<path color="#0043ff" d="M2114 1212l14-5-43-132-14 5z"/>
<path color="#b8ff47" d="M1402 904l14-1-43-30-14 2z"/>
<path color="#98ff67" d="M1630 921l14 10-44-43-14 1z"/>
<path color="#ffa400" d="M875 771l14-5-43-55-14 19z"/>
<path color="#00d4ff" d="M2042 1102l15-13-44-116-14 21z"/>
<path color="#c8ff37" d="M1288 887l14-1-43-25-14 1z"/>
<path color="#ffe500" d="M1786 876l14-130-43 78-14 21z"/>
<path color="#ff4300" d="M633 760l15-69-44 64-14 42z"/>
<path color="#ffd500" d="M591 830l14-10-43 29-14 10z"/>
<path color="#000080" d="M2157 1383l14-4-43-172-14 5z"/>
<path color="#7f8" d="M1857 944l14 18-43-66-14-34z"/>
<path color="#98ff67" d="M1502 940l14-6-43-42-15 6z"/>
<path color="#47ffb8" d="M1715 1000l14-6-43-64-14 6z"/>
<path color="#00c4ff" d="M2028 1116l14-14-43-108-14 20z"/>
<path color="#ffa400" d="M861 782l14-11-43-41-14 30z"/>
<path color="#ffd500" d="M961 807l14 7-43-18-14-13z"/>
<path color="#06fff9" d="M1929 1052l14-2-43-77-15-1z"/>
<path color="#e9ff16" d="M1174 859l14 1-43-21-14-2z"/>
<path color="#ff4300" d="M662 543l14 142-43 64-15-23z"/>
<path color="#0043ff" d="M2100 1219l14-7-43-132-14 9z"/>
<path color="#fff500" d="M1060 840l15-1-44-17-14 1z"/>
<path color="#ffb400" d="M847 793l14-11-43-22-14 21z"/>
<path color="#b8ff47" d="M1388 905l14-1-43-29-14 2z"/>
<path color="#00b4ff" d="M2014 1128l14-12-43-102-14 18z"/>
<path color="#ffa400" d="M733 755l14 24-43 3-14-33z"/>
<path color="#d9ff26" d="M1274 888l14-1-43-25-14 1z"/>
<path color="#a8ff57" d="M1615 916l15 5-44-32-14 3z"/>
<path color="#000080" d="M2143 1387l14-4-43-171-14 7z"/>
<path color="#98ff67" d="M1487 942l15-2-44-42-14 3z"/>
<path color="#47ffb8" d="M1701 999l14 1-43-64-14 1z"/>
<path color="#0043ff" d="M2086 1228l14-9-43-130-15 13z"/>
<path color="#ffb400" d="M833 800l14-7-43-12-14 13z"/>
<path color="#ff0200" d="M648 691l14-148-44 183-14 29z"/>
<path color="#00b4ff" d="M2000 1138l14-10-43-96-14 12z"/>
<path color="#f9ff06" d="M1160 858l14 1-43-22-14-1z"/>
<path color="#06fff9" d="M1915 1050l14 2-44-80-14-10z"/>
<path color="#b8ff47" d="M1374 908l14-3-43-28-15 3z"/>
<path color="#ffc400" d="M947 802l14 5-43-24-15-12z"/>
<path color="#fff500" d="M1046 839l14 1-43-17-14-1z"/>
<path color="#b8ff47" d="M1601 932l14-16-43-24-14 9z"/>
<path color="#000080" d="M2129 1391l14-4-43-168-14 9z"/>
<path color="#03f" d="M2072 1237l14-9-44-126-14 14z"/>
<path color="#d9ff26" d="M1260 887l14 1-43-25-14 0z"/>
<path color="#98ff67" d="M1473 942l14 0-43-41-14 2z"/>
<path color="#00a4ff" d="M1986 1145l14-7-43-94-14 6z"/>
<path color="#ffc400" d="M819 803l14-3-43-6-15 3z"/>
<path color="#a8ff57" d="M1587 955l14-23-43-31-14 12z"/>
<path color="#57ffa8" d="M1801 1020l14-27-43-64-14 31zm-114-33l14 12-43-62-14-6z"/>
<path color="#37ffc8" d="M1787 1039l14-19-43-60-15 21z"/>
<path color="#8f7" d="M1815 993l14-34-43-83-14 53z"/>
<path color="#f9ff06" d="M1146 858l14 0-43-22-14 1z"/>
<path color="#03f" d="M2057 1245l15-8-44-121-14 12z"/>
<path color="#c8ff37" d="M1360 912l14-4-44-28-14 3z"/>
<path color="#000080" d="M2115 1394l14-3-43-163-14 9z"/>
<path color="#8f7" d="M1843 934l14 10-43-82-14-116z"/>
<path color="#ffe500" d="M1032 837l14 2-43-17-14-3z"/>
<path color="#8f7" d="M1573 972l14-17-43-42-14 12z"/>
<path color="#16ffe9" d="M1900 1046l15 4-44-88-14-18z"/>
<path color="#ffc400" d="M932 800l15 2-44-31-14-5z"/>
<path color="#00a4ff" d="M1972 1148l14-3-43-95-14 2z"/>
<path color="#d9ff26" d="M1246 885l14 2-43-24-15-1z"/>
<path color="#26ffd9" d="M1772 1052l15-13-44-58-14 13z"/>
<path color="#98ff67" d="M1459 938l14 4-43-39-14 0z"/>
<path color="#ff8400" d="M719 724l14 31-43-6-14-64z"/>
<path color="#ffb400" d="M805 800l14 3-44-6-14-5z"/>
<path color="#03f" d="M2043 1252l14-7-43-117-14 10z"/>
<path color="#7f8" d="M1559 984l14-12-43-47-14 9z"/>
<path color="#000080" d="M2101 1398l14-4-43-157-15 8z"/>
<path color="#c8ff37" d="M1345 916l15-4-44-29-14 3z"/>
<path color="#a8ff57" d="M1829 959l14-25-43-188-14 130z"/>
<path color="#fff500" d="M1132 859l14-1-43-21-14 1z"/>
<path color="#16ffe9" d="M1758 1057l14-5-43-58-14 6z"/>
<path color="#67ff98" d="M1673 958l14 29-43-56-14-10z"/>
<path color="#ffe500" d="M1018 834l14 3-43-18-14-5z"/>
<path color="#00a4ff" d="M1958 1150l14-2-43-96-14-2z"/>
<path color="#ffb400" d="M918 801l14-1-43-34-14 5z"/>
<path color="#02f" d="M2029 1258l14-6-43-114-14 7z"/>
<path color="#e9ff16" d="M1232 883l14 2-44-23-14-2z"/>
<path color="#16ffe9" d="M1886 1048l14-2-43-102-14-10z"/>
<path color="#67ff98" d="M1545 991l14-7-43-50-14 6z"/>
<path color="#a8ff57" d="M1445 935l14 3-43-35-14 1z"/>
<path color="#000080" d="M2086 1402l15-4-44-153-14 7z"/>
<path color="#ffb400" d="M790 792l15 8-44-8-14-13z"/>
<path color="#c8ff37" d="M1331 918l14-2-43-30-14 1z"/>
<path color="#fff500" d="M1118 860l14-1-43-21-14 1z"/>
<path color="#16ffe9" d="M1744 1056l14 1-43-57-14-1z"/>
<path color="#ffb400" d="M904 806l14-5-43-30-14 11z"/>
<path color="#26ffd9" d="M1872 1061l14-13-43-114-14 25z"/>
<path color="#02f" d="M2015 1262l14-4-43-113-14 3z"/>
<path color="#00a4ff" d="M1944 1152l14-2-43-100-15-4z"/>
<path color="#67ff98" d="M1531 992l14-1-43-51-15 2z"/>
<path color="#ffd500" d="M1004 830l14 4-43-20-14-7z"/>
<path color="#000080" d="M2072 1406l14-4-43-150-14 6z"/>
<path color="#e9ff16" d="M1217 881l15 2-44-23-14-1z"/>
<path color="#16ffe9" d="M1858 1079l14-18-43-102-14 34z"/>
<path color="#a8ff57" d="M1431 934l14 1-43-31-14 1z"/>
<path color="#06fff9" d="M1844 1097l14-18-43-86-14 27z"/>
<path color="#c8ff37" d="M1317 919l14-1-43-31-14 1z"/>
<path color="#fff500" d="M1104 860l14 0-43-21-15 1z"/>
<path color="#ff8400" d="M662 792l15-27-44-5-14 38z"/>
<path color="#ffb400" d="M890 811l14-5-43-24-14 11z"/>
<path color="#ffa400" d="M648 810l14-18-43 6-14 22z"/>
<path color="#00e5ff" d="M1830 1112l14-15-43-77-14 19z"/>
<path color="#02f" d="M2001 1266l14-4-43-114-14 2z"/>
<path color="#16ffe9" d="M1730 1048l14 8-43-57-14-12z"/>
<path color="#ff5300" d="M677 765l14-36-43-38-15 69z"/>
<path color="#ffa400" d="M776 780l14 12-43-13-14-24z"/>
<path color="#00a4ff" d="M1929 1156l15-4-44-106-14 2z"/>
<path color="#000080" d="M2058 1409l14-3-43-148-14 4z"/>
<path color="#67ff98" d="M1517 988l14 4-44-50-14 0z"/>
<path color="#b8ff47" d="M1417 939l14-5-43-29-14 3z"/>
<path color="#ffb400" d="M634 819l14-9-43 10-14 10z"/>
<path color="#98ff67" d="M1659 849l14 109-43-37-15-5z"/>
<path color="#f9ff06" d="M1203 880l14 1-43-22-14-1z"/>
<path color="#ff5300" d="M705 706l14 18-43-39-14-142z"/>
<path color="#00e5ff" d="M1816 1123l14-11-43-73-15 13z"/>
<path color="#ffd500" d="M990 827l14 3-43-23-14-5z"/>
<path color="#ffb400" d="M876 815l14-4-43-18-14 7z"/>
<path color="#8f7" d="M1630 1009l15-41-44-36-14 23z"/>
<path color="#c8ff37" d="M1303 917l14 2-43-31-14-1z"/>
<path color="#fff500" d="M1090 859l14 1-44-20-14-1z"/>
<path color="#57ffa8" d="M1616 1032l14-23-43-54-14 17z"/>
<path color="#00a4ff" d="M1915 1165l14-9-43-108-14 13z"/>
<path color="#02f" d="M1987 1269l14-3-43-116-14 2z"/>
<path color="#000080" d="M2044 1413l14-4-43-147-14 4z"/>
<path color="#47ffb8" d="M1602 1046l14-14-43-60-14 12z"/>
<path color="#00d4ff" d="M1802 1129l14-6-44-71-14 5z"/>
<path color="#b8ff47" d="M1403 946l14-7-43-31-14 4z"/>
<path color="#c8ff37" d="M1645 968l14-119-44 67-14 16z"/>
<path color="#f30" d="M691 729l14-23-43-163-14 148z"/>
<path color="#7f8" d="M1502 978l15 10-44-46-14-4z"/>
<path color="#ffb400" d="M862 817l14-2-43-15-14 3z"/>
<path color="#f9ff06" d="M1189 881l14-1-43-22-14 0z"/>
<path color="#00a4ff" d="M1901 1176l14-11-43-104-14 18z"/>
<path color="#ffc400" d="M976 826l14 1-43-25-15-2z"/>
<path color="#26ffd9" d="M1716 1033l14 15-43-61-14-29z"/>
<path color="#c8ff37" d="M1289 913l14 4-43-30-14-2z"/>
<path color="#ff9400" d="M762 769l14 11-43-25-14-31z"/>
<path color="#ffe500" d="M1075 858l15 1-44-20-14-2z"/>
<path color="#02f" d="M1973 1274l14-5-43-117-15 4z"/>
<path color="#37ffc8" d="M1588 1053l14-7-43-62-14 7z"/>
<path color="#000080" d="M2030 1417l14-4-43-147-14 3z"/>
<path color="#0094ff" d="M1887 1189l14-13-43-97-14 18z"/>
<path color="#a8ff57" d="M1389 952l14-6-43-34-15 4z"/>
<path color="#00d4ff" d="M1787 1130l15-1-44-72-14-1z"/>
<path color="#f9ff06" d="M1175 882l14-1-43-23-14 1z"/>
<path color="#ffb400" d="M848 815l14 2-43-14-14-3z"/>
<path color="#0094ff" d="M1873 1200l14-11-43-92-14 15z"/>
<path color="#ffc400" d="M962 827l14-1-44-26-14 1z"/>
<path color="#02f" d="M1959 1280l14-6-44-118-14 9z"/>
<path color="#8f7" d="M1488 964l14 14-43-40-14-3z"/>
<path color="#37ffc8" d="M1574 1053l14 0-43-62-14 1z"/>
<path color="#d9ff26" d="M1275 909l14 4-43-28-14-2z"/>
<path color="#000080" d="M2016 1421l14-4-43-148-14 5z"/>
<path color="#ffe500" d="M1061 855l14 3-43-21-14-3z"/>
<path color="#a8ff57" d="M1374 956l15-4-44-36-14 2z"/>
<path color="#00d4ff" d="M1773 1128l14 2-43-74-14-8z"/>
<path color="#0084ff" d="M1859 1208l14-8-43-88-14 11z"/>
<path color="#ff7300" d="M748 765l14 4-43-45-14-18z"/>
<path color="#02f" d="M1944 1288l15-8-44-115-14 11z"/>
<path color="#fff500" d="M1161 883l14-1-43-23-14 1z"/>
<path color="#ffb400" d="M947 829l15-2-44-26-14 5zm-113-18l14 4-43-15-15-8z"/>
<path color="#000080" d="M2002 1424l14-3-43-147-14 6z"/>
<path color="#37ffc8" d="M1560 1046l14 7-43-61-14-4z"/>
<path color="#a8ff57" d="M1360 956l14 0-43-38-14 1zm114 0l14 8-43-29-14-1z"/>
<path color="#47ffb8" d="M1702 1023l14 10-43-75-14-109z"/>
<path color="#e9ff16" d="M1261 905l14 4-43-26-15-2z"/>
<path color="#0073ff" d="M1845 1214l14-6-43-85-14 6z"/>
<path color="#ffd500" d="M1047 852l14 3-43-21-14-4z"/>
<path color="#02f" d="M1930 1296l14-8-43-112-14 13z"/>
<path color="#47ffb8" d="M1674 1070l14-27-43-75-15 41z"/>
<path color="#26ffd9" d="M1659 1089l15-19-44-61-14 23z"/>
<path color="#ff7300" d="M734 773l14-8-43-59-14 23z"/>
<path color="#fff500" d="M1147 884l14-1-43-23-14 0z"/>
<path color="#ffb400" d="M933 832l14-3-43-23-14 5z"/>
<path color="#00d4ff" d="M1759 1125l14 3-43-80-14-15z"/>
<path color="#000080" d="M1988 1428l14-4-43-144-15 8z"/>
<path color="#ff7300" d="M720 788l14-15-43-44-14 36z"/>
<path color="#16ffe9" d="M1645 1102l14-13-43-57-14 14z"/>
<path color="#0012ff" d="M1916 1304l14-8-43-107-14 11z"/>
<path color="#57ffa8" d="M1688 1043l14-20-43-174-14 119z"/>
<path color="#ffa400" d="M819 806l15 5-44-19-14-12z"/>
<path color="#ff8400" d="M706 803l14-15-43-23-15 27z"/>
<path color="#b8ff47" d="M1460 967l14-11-43-22-14 5z"/>
<path color="#0073ff" d="M1831 1217l14-3-43-85-15 1z"/>
<path color="#b8ff47" d="M1346 952l14 4-43-37-14-2z"/>
<path color="#e9ff16" d="M1247 903l14 2-44-24-14-1z"/>
<path color="#ffd500" d="M1033 850l14 2-43-22-14-3z"/>
<path color="#47ffb8" d="M1546 1031l14 15-43-58-15-10z"/>
<path color="#ff9400" d="M692 815l14-12-44-11-14 18z"/>
<path color="#ffb400" d="M919 835l14-3-43-21-14 4z"/>
<path color="#06fff9" d="M1631 1109l14-7-43-56-14 7z"/>
<path color="#000080" d="M1974 1432l14-4-44-140-14 8z"/>
<path color="#fff500" d="M1133 883l14 1-43-24-14-1z"/>
<path color="#0012ff" d="M1902 1310l14-6-43-104-14 8z"/>
<path color="#a8ff57" d="M1446 984l14-17-43-28-14 7z"/>
<path color="#00e5ff" d="M1745 1126l14-1-43-92-14-10z"/>
<path color="#0073ff" d="M1816 1218l15-1-44-87-14-2z"/>
<path color="#ffa400" d="M677 821l15-6-44-5-14 9z"/>
<path color="#f9ff06" d="M1232 904l15-1-44-23-14 1z"/>
<path color="#b8ff47" d="M1332 945l14 7-43-35-14-4z"/>
<path color="#ff9400" d="M805 802l14 4-43-26-14-11z"/>
<path color="#ffc400" d="M1019 849l14 1-43-23-14-1z"/>
<path color="#000080" d="M1959 1436l15-4-44-136-14 8z"/>
<path color="#98ff67" d="M1432 996l14-12-43-38-14 6z"/>
<path color="#06fff9" d="M1617 1109l14 0-43-56-14 0z"/>
<path color="#ffb400" d="M905 835l14 0-43-20-14 2z"/>
<path color="#0012ff" d="M1888 1315l14-5-43-102-14 6z"/>
<path color="#fff500" d="M1119 881l14 2-43-24-15-1z"/>
<path color="#00e5ff" d="M1731 1135l14-9-43-103-14 20z"/>
<path color="#57ffa8" d="M1532 997l14 34-44-53-14-14z"/>
<path color="#0084ff" d="M1802 1220l14-2-43-90-14-3z"/>
<path color="#00e5ff" d="M1717 1149l14-14-43-92-14 27z"/>
<path color="#8f7" d="M1418 1002l14-6-43-44-15 4z"/>
<path color="#000080" d="M1945 1439l14-3-43-132-14 6z"/>
<path color="#f9ff06" d="M1218 906l14-2-43-23-14 1z"/>
<path color="#0012ff" d="M1874 1319l14-4-43-101-14 3z"/>
<path color="#ffc400" d="M1005 850l14-1-43-23-14 1z"/>
<path color="#ffb400" d="M891 835l14 0-43-18-14-2z"/>
<path color="#ff8400" d="M791 802l14 0-43-33-14-4z"/>
<path color="#06fff9" d="M1603 1104l14 5-43-56-14-7z"/>
<path color="#c8ff37" d="M1318 936l14 9-43-32-14-4z"/>
<path color="#00d4ff" d="M1703 1162l14-13-43-79-15 19z"/>
<path color="#ffe500" d="M1104 877l15 4-44-23-14-3z"/>
<path color="#000080" d="M1931 1443l14-4-43-129-14 5z"/>
<path color="#0084ff" d="M1788 1223l14-3-43-95-14 1z"/>
<path color="#00c4ff" d="M1689 1172l14-10-44-73-14 13z"/>
<path color="#8f7" d="M1404 1002l14 0-44-46-14 0z"/>
<path color="#f9ff06" d="M1204 909l14-3-43-24-14 1z"/>
<path color="#0012ff" d="M1860 1322l14-3-43-102-15 1z"/>
<path color="#ffc400" d="M991 852l14-2-43-23-15 2z"/>
<path color="#ff8400" d="M777 806l14-4-43-37-14 8z"/>
<path color="#ffa400" d="M877 833l14 2-43-20-14-4z"/>
<path color="#d9ff26" d="M1304 926l14 10-43-27-14-4z"/>
<path color="#00c4ff" d="M1674 1177l15-5-44-70-14 7z"/>
<path color="#16ffe9" d="M1589 1091l14 13-43-58-14-15z"/>
<path color="#ffe500" d="M1090 874l14 3-43-22-14-3z"/>
<path color="#0084ff" d="M1774 1230l14-7-43-97-14 9z"/>
<path color="#000080" d="M1917 1447l14-4-43-128-14 4z"/>
<path color="#ff8400" d="M763 813l14-7-43-33-14 15z"/>
<path color="#f9ff06" d="M1190 910l14-1-43-26-14 1z"/>
<path color="#0012ff" d="M1846 1325l14-3-44-104-14 2z"/>
<path color="#8f7" d="M1389 996l15 6-44-46-14-4z"/>
<path color="#ffb400" d="M976 854l15-2-44-23-14 3z"/>
<path color="#8f7" d="M1517 886l15 111-44-33-14-8z"/>
<path color="#0084ff" d="M1760 1238l14-8-43-95-14 14z"/>
<path color="#ffa400" d="M863 831l14 2-43-22-15-5z"/>
<path color="#00c4ff" d="M1660 1179l14-2-43-68-14 0z"/>
<path color="#ff8400" d="M749 822l14-9-43-25-14 15z"/>
<path color="#000080" d="M1903 1451l14-4-43-128-14 3z"/>
<path color="#98ff67" d="M1489 1035l14-34-43-34-14 17z"/>
<path color="#e9ff16" d="M1290 922l14 4-43-21-14-2z"/>
<path color="#ffd500" d="M1076 871l14 3-43-22-14-2z"/>
<path color="#0012ff" d="M1831 1329l15-4-44-105-14 3z"/>
<path color="#f9ff06" d="M1176 909l14 1-43-26-14-1z"/>
<path color="#ffb400" d="M962 856l14-2-43-22-14 3z"/>
<path color="#67ff98" d="M1475 1051l14-16-43-51-14 12z"/>
<path color="#0073ff" d="M1746 1247l14-9-43-89-14 13z"/>
<path color="#c8ff37" d="M1503 1001l14-115-43 70-14 11z"/>
<path color="#ff9400" d="M735 829l14-7-43-19-14 12z"/>
<path color="#98ff67" d="M1375 984l14 12-43-44-14-7z"/>
<path color="#26ffd9" d="M1575 1073l14 18-43-60-14-34z"/>
<path color="#000080" d="M1889 1454l14-3-43-129-14 3z"/>
<path color="#ffa400" d="M849 829l14 2-44-25-14-4z"/>
<path color="#00c4ff" d="M1646 1176l14 3-43-70-14-5z"/>
<path color="#57ffa8" d="M1461 1059l14-8-43-55-14 6z"/>
<path color="#0073ff" d="M1732 1254l14-7-43-85-14 10z"/>
<path color="#f9ff06" d="M1276 925l14-3-43-19-15 1z"/>
<path color="#0012ff" d="M1817 1334l14-5-43-106-14 7z"/>
<path color="#ffc400" d="M1062 870l14 1-43-21-14-1z"/>
<path color="#ffb400" d="M948 857l14-1-43-21-14 0z"/>
<path color="#ff9400" d="M721 834l14-5-43-14-15 6z"/>
<path color="#fff500" d="M1162 906l14 3-43-26-14-2z"/>
<path color="#000080" d="M1875 1458l14-4-43-129-15 4z"/>
<path color="#0063ff" d="M1718 1259l14-5-43-82-15 5z"/>
<path color="#0012ff" d="M1803 1340l14-6-43-104-14 8z"/>
<path color="#57ffa8" d="M1447 1058l14 1-43-57-14 0z"/>
<path color="#ff9400" d="M834 830l15-1-44-27-14 0z"/>
<path color="#a8ff57" d="M1361 965l14 19-43-39-14-9z"/>
<path color="#f9ff06" d="M1261 932l15-7-44-21-14 2z"/>
<path color="#00c4ff" d="M1632 1170l14 6-43-72-14-13z"/>
<path color="#ffc400" d="M1048 871l14-1-43-21-14 1z"/>
<path color="#ffb400" d="M934 856l14 1-43-22-14 0z"/>
<path color="#fff500" d="M1148 901l14 5-43-25-15-4z"/>
<path color="#000080" d="M1860 1462l15-4-44-129-14 5z"/>
<path color="#0002ff" d="M1789 1346l14-6-43-102-14 9z"/>
<path color="#0063ff" d="M1703 1261l15-2-44-82-14 2z"/>
<path color="#f9ff06" d="M1247 938l14-6-43-26-14 3z"/>
<path color="#ff9400" d="M820 833l14-3-43-28-14 4z"/>
<path color="#57ffa8" d="M1433 1051l14 7-43-56-15-6z"/>
<path color="#ffc400" d="M1034 873l14-2-43-21-14 2z"/>
<path color="#47ffb8" d="M1561 1060l14 13-43-76-15-111z"/>
<path color="#ffb400" d="M920 855l14 1-43-21-14-2z"/>
<path color="#0002ff" d="M1775 1352l14-6-43-99-14 7z"/>
<path color="#000080" d="M1846 1466l14-4-43-128-14 6z"/>
<path color="#c8ff37" d="M1347 942l14 23-43-29-14-10z"/>
<path color="#00d4ff" d="M1618 1164l14 6-43-79-14-18z"/>
<path color="#47ffb8" d="M1532 1096l14-21-43-74-14 34z"/>
<path color="#ffe500" d="M1134 895l14 6-44-24-14-3z"/>
<path color="#e9ff16" d="M1233 942l14-4-43-29-14 1z"/>
<path color="#0063ff" d="M1689 1261l14 0-43-82-14-3z"/>
<path color="#ff9400" d="M806 837l14-4-43-27-14 7z"/>
<path color="#37ffc8" d="M1518 1110l14-14-43-61-14 16z"/>
<path color="#ffc400" d="M1020 876l14-3-43-21-15 2z"/>
<path color="#57ffa8" d="M1546 1075l15-15-44-174-14 115z"/>
<path color="#0002ff" d="M1761 1356l14-4-43-98-14 5z"/>
<path color="#000080" d="M1832 1469l14-3-43-126-14 6z"/>
<path color="#67ff98" d="M1418 1035l15 16-44-55-14-12z"/>
<path color="#ffa400" d="M906 854l14 1-43-22-14-2z"/>
<path color="#26ffd9" d="M1504 1117l14-7-43-59-14 8z"/>
<path color="#ff9400" d="M792 842l14-5-43-24-14 9z"/>
<path color="#f9ff06" d="M1219 941l14 1-43-32-14-1z"/>
<path color="#ffd500" d="M1119 890l15 5-44-21-14-3z"/>
<path color="#0073ff" d="M1675 1260l14 1-43-85-14-6z"/>
<path color="#00e5ff" d="M1604 1162l14 2-43-91-14-13z"/>
<path color="#f9ff06" d="M1333 927l14 15-43-16-14-4z"/>
<path color="#ffc400" d="M1006 878l14-2-44-22-14 2z"/>
<path color="#0002ff" d="M1747 1359l14-3-43-97-15 2z"/>
<path color="#000080" d="M1818 1473l14-4-43-123-14 6z"/>
<path color="#ff9400" d="M778 847l14-5-43-20-14 7z"/>
<path color="#26ffd9" d="M1490 1117l14 0-43-58-14-1z"/>
<path color="#ffa400" d="M892 853l14 1-43-23-14-2z"/>
<path color="#f9ff06" d="M1205 936l14 5-43-32-14-3z"/>
<path color="#00e5ff" d="M1590 1167l14-5-43-102-15 15z"/>
<path color="#ffc400" d="M1105 888l14 2-43-19-14-1z"/>
<path color="#fff500" d="M1319 941l14-14-43-5-14 3z"/>
<path color="#ffb400" d="M991 879l15-1-44-22-14 1z"/>
<path color="#0073ff" d="M1661 1259l14 1-43-90-14-6z"/>
<path color="#8f7" d="M1404 1009l14 26-43-51-14-19z"/>
<path color="#000080" d="M1804 1477l14-4-43-121-14 4z"/>
<path color="#0002ff" d="M1733 1361l14-2-44-98-14 0z"/>
<path color="#ff9400" d="M764 851l14-4-43-18-14 5z"/>
<path color="#00e5ff" d="M1576 1177l14-10-44-92-14 21z"/>
<path color="#ff9400" d="M878 854l14-1-43-24-15 1z"/>
<path color="#26ffd9" d="M1476 1110l14 7-43-59-14-7z"/>
<path color="#f9ff06" d="M1305 961l14-20-43-16-15 7z"/>
<path color="#ffc400" d="M1091 890l14-2-43-18-14 1z"/>
<path color="#000080" d="M1790 1481l14-4-43-121-14 3z"/>
<path color="#ffb400" d="M977 879l14 0-43-22-14-1z"/>
<path color="#00e5ff" d="M1561 1185l15-8-44-81-14 14z"/>
<path color="#fff500" d="M1191 927l14 9-43-30-14-5z"/>
<path color="#0084ff" d="M1647 1259l14 0-43-95-14-2z"/>
<path color="#0002ff" d="M1718 1362l15-1-44-100-14-1z"/>
<path color="#e9ff16" d="M1291 975l14-14-44-29-14 6z"/>
<path color="#ff9400" d="M864 856l14-2-44-24-14 3z"/>
<path color="#00d4ff" d="M1547 1189l14-4-43-75-14 7z"/>
<path color="#000080" d="M1776 1484l14-3-43-122-14 2z"/>
<path color="#ffc400" d="M1077 894l14-4-43-19-14 2z"/>
<path color="#37ffc8" d="M1462 1097l14 13-43-59-15-16z"/>
<path color="#a8ff57" d="M1390 961l14 48-43-44-14-23z"/>
<path color="#d9ff26" d="M1276 981l15-6-44-37-14 4z"/>
<path color="#ffb400" d="M963 878l14 1-43-23-14-1z"/>
<path color="#0084ff" d="M1633 1263l14-4-43-97-14 5z"/>
<path color="#0002ff" d="M1704 1363l14-1-43-102-14-1z"/>
<path color="#ffe500" d="M1177 915l14 12-43-26-14-6z"/>
<path color="#ff9400" d="M849 860l15-4-44-23-14 4z"/>
<path color="#00d4ff" d="M1533 1190l14-1-43-72-14 0z"/>
<path color="#ffc400" d="M1063 899l14-5-43-21-14 3z"/>
<path color="#000080" d="M1762 1488l14-4-43-123-15 1z"/>
<path color="#0084ff" d="M1619 1268l14-5-43-96-14 10z"/>
<path color="#d9ff26" d="M1262 980l14 1-43-39-14-1z"/>
<path color="#ffa400" d="M949 876l14 2-43-23-14-1z"/>
<path color="#0012ff" d="M1690 1366l14-3-43-104-14 0z"/>
<path color="#ff9400" d="M835 864l14-4-43-23-14 5z"/>
<path color="#47ffb8" d="M1448 1076l14 21-44-62-14-26z"/>
<path color="#ffd500" d="M1163 903l14 12-43-20-15-5z"/>
<path color="#0084ff" d="M1605 1273l14-5-43-91-15 8z"/>
<path color="#ffc400" d="M1049 903l14-4-43-23-14 2z"/>
<path color="#000080" d="M1748 1492l14-4-44-126-14 1z"/>
<path color="#00e5ff" d="M1519 1185l14 5-43-73-14-7z"/>
<path color="#0012ff" d="M1676 1369l14-3-43-107-14 4z"/>
<path color="#d9ff26" d="M1248 973l14 7-43-39-14-5z"/>
<path color="#ff9400" d="M821 868l14-4-43-22-14 5z"/>
<path color="#ffa400" d="M935 875l14 1-43-22-14-1z"/>
<path color="#0084ff" d="M1590 1276l15-3-44-88-14 4z"/>
<path color="#ffc400" d="M1035 905l14-2-43-25-15 1z"/>
<path color="#000080" d="M1733 1496l15-4-44-129-14 3z"/>
<path color="#f9ff06" d="M1376 837l14 124-43-19-14-15z"/>
<path color="#ffc400" d="M1148 898l15 5-44-13-14-2z"/>
<path color="#0012ff" d="M1662 1373l14-4-43-106-14 5z"/>
<path color="#ff9400" d="M807 871l14-3-43-21-14 4z"/>
<path color="#00e5ff" d="M1505 1176l14 9-43-75-14-13z"/>
<path color="#f9ff06" d="M1348 1003l14-42-43-20-14 20z"/>
<path color="#ffa400" d="M921 875l14 0-43-22-14 1z"/>
<path color="#c8ff37" d="M1334 1024l14-21-43-42-14 14z"/>
<path color="#e9ff16" d="M1234 958l14 15-43-37-14-9z"/>
<path color="#0084ff" d="M1576 1277l14-1-43-87-14 1z"/>
<path color="#000080" d="M1719 1499l14-3-43-130-14 3z"/>
<path color="#ffc400" d="M1021 904l14 1-44-26-14 0z"/>
<path color="#67ff98" d="M1433 1047l15 29-44-67-14-48z"/>
<path color="#ffd500" d="M1362 961l14-124-43 90-14 14z"/>
<path color="#0012ff" d="M1648 1377l14-4-43-105-14 5z"/>
<path color="#ffb400" d="M1134 903l14-5-43-10-14 2z"/>
<path color="#b8ff47" d="M1320 1033l14-9-43-49-15 6z"/>
<path color="#ff9400" d="M907 878l14-3-43-21-14 2z"/>
<path color="#000080" d="M1705 1503l14-4-43-130-14 4z"/>
<path color="#0084ff" d="M1562 1275l14 2-43-87-14-5z"/>
<path color="#00f5ff" d="M1491 1164l14 12-43-79-14-21z"/>
<path color="#ffb400" d="M1006 900l15 4-44-25-14-1zm114 14l14-11-43-13-14 4z"/>
<path color="#0012ff" d="M1634 1380l14-3-43-104-15 3z"/>
<path color="#a8ff57" d="M1306 1032l14 1-44-52-14-1z"/>
<path color="#fff500" d="M1220 936l14 22-43-31-14-12z"/>
<path color="#ff9400" d="M893 882l14-4-43-22-15 4z"/>
<path color="#000080" d="M1691 1507l14-4-43-130-14 4z"/>
<path color="#ffc400" d="M1106 924l14-10-43-20-14 5z"/>
<path color="#0012ff" d="M1620 1381l14-1-44-104-14 1z"/>
<path color="#0094ff" d="M1548 1270l14 5-43-90-14-9z"/>
<path color="#ffb400" d="M992 896l14 4-43-22-14-2z"/>
<path color="#ff9400" d="M878 887l15-5-44-22-14 4z"/>
<path color="#b8ff47" d="M1291 1023l15 9-44-52-14-7z"/>
<path color="#16ffe9" d="M1477 1152l14 12-43-88-15-29z"/>
<path color="#000080" d="M1677 1511l14-4-43-130-14 3z"/>
<path color="#ffc400" d="M1092 931l14-7-43-25-14 4z"/>
<path color="#98ff67" d="M1419 1028l14 19-43-86-14-124z"/>
<path color="#ffd500" d="M1206 907l14 29-43-21-14-12z"/>
<path color="#0012ff" d="M1605 1382l15-1-44-104-14-2z"/>
<path color="#a8ff57" d="M1391 1071l14-25-43-85-14 42z"/>
<path color="#ff9400" d="M864 891l14-4-43-23-14 4z"/>
<path color="#ffa400" d="M978 893l14 3-43-20-14-1z"/>
<path color="#8f7" d="M1377 1088l14-17-43-68-14 21z"/>
<path color="#0094ff" d="M1534 1264l14 6-43-94-14-12z"/>
<path color="#ffc400" d="M1078 934l14-3-43-28-14 2z"/>
<path color="#000080" d="M1663 1514l14-3-43-131-14 1z"/>
<path color="#c8ff37" d="M1277 1005l14 18-43-50-14-15z"/>
<path color="#7f8" d="M1363 1096l14-8-43-64-14 9z"/>
<path color="#b8ff47" d="M1405 1046l14-18-43-191-14 124z"/>
<path color="#ff9400" d="M850 894l14-3-43-23-14 3z"/>
<path color="#26ffd9" d="M1463 1146l14 6-44-105-14-19z"/>
<path color="#0012ff" d="M1591 1381l14 1-43-107-14-5z"/>
<path color="#ff9400" d="M964 893l14 0-43-18-14 0z"/>
<path color="#ffa400" d="M1192 890l14 17-43-4-15-5z"/>
<path color="#000080" d="M1649 1518l14-4-43-133-15 1z"/>
<path color="#ffc400" d="M1064 932l14 2-43-29-14-1z"/>
<path color="#00a4ff" d="M1520 1259l14 5-43-100-14-12z"/>
<path color="#7f8" d="M1349 1096l14 0-43-63-14-1z"/>
<path color="#37ffc8" d="M1448 1151l15-5-44-118-14 18z"/>
<path color="#02f" d="M1577 1380l14 1-43-111-14-6z"/>
<path color="#ff9400" d="M950 896l14-3-43-18-14 3z"/>
<path color="#000080" d="M1634 1522l15-4-44-136-14-1z"/>
<path color="#ff9400" d="M1178 908l14-18-44 8-14 5z"/>
<path color="#e9ff16" d="M1263 973l14 32-43-47-14-22z"/>
<path color="#ffc400" d="M1050 925l14 7-43-28-15-4z"/>
<path color="#37ffc8" d="M1434 1161l14-10-43-105-14 25z"/>
<path color="#00b4ff" d="M1506 1257l14 2-43-107-14-6z"/>
<path color="#7f8" d="M1335 1088l14 8-43-64-15-9z"/>
<path color="#ffa400" d="M1163 935l15-27-44-5-14 11z"/>
<path color="#ff9400" d="M936 903l14-7-43-18-14 4z"/>
<path color="#26ffd9" d="M1420 1171l14-10-43-90-14 17z"/>
<path color="#02f" d="M1563 1379l14 1-43-116-14-5z"/>
<path color="#000080" d="M1620 1526l14-4-43-141-14-1z"/>
<path color="#ffc400" d="M1149 956l14-21-43-21-14 10z"/>
<path color="#ffb400" d="M1035 915l15 10-44-25-14-4z"/>
<path color="#26ffd9" d="M1406 1176l14-5-43-83-14 8z"/>
<path color="#00b4ff" d="M1492 1260l14-3-43-111-15 5z"/>
<path color="#ff9400" d="M922 910l14-7-43-21-15 5z"/>
<path color="#ffd500" d="M1135 967l14-11-43-32-14 7z"/>
<path color="#8f7" d="M1320 1071l15 17-44-65-14-18z"/>
<path color="#000080" d="M1606 1529l14-3-43-146-14-1z"/>
<path color="#02f" d="M1549 1379l14 0-43-120-14-2z"/>
<path color="#00b4ff" d="M1477 1265l15-5-44-109-14 10z"/>
<path color="#ffe500" d="M1249 915l14 58-43-37-14-29z"/>
<path color="#26ffd9" d="M1392 1176l14 0-43-80-14 0z"/>
<path color="#ffa400" d="M908 916l14-6-44-23-14 4z"/>
<path color="#ffe500" d="M1121 971l14-4-43-36-14 3z"/>
<path color="#ffa400" d="M1021 906l14 9-43-19-14-3z"/>
<path color="#000080" d="M1592 1533l14-4-43-150-14 0z"/>
<path color="#03f" d="M1535 1382l14-3-43-122-14 3z"/>
<path color="#00b4ff" d="M1463 1270l14-5-43-104-14 10z"/>
<path color="#ffa400" d="M893 920l15-4-44-25-14 3z"/>
<path color="#ffe500" d="M1107 968l14 3-43-37-14-2z"/>
<path color="#26ffd9" d="M1378 1170l14 6-43-80-14-8z"/>
<path color="#a8ff57" d="M1306 1046l14 25-43-66-14-32z"/>
<path color="#000080" d="M1578 1537l14-4-43-154-14 3z"/>
<path color="#ff9400" d="M1007 902l14 4-43-13-14 0z"/>
<path color="#00b4ff" d="M1449 1274l14-4-43-99-14 5z"/>
<path color="#03f" d="M1521 1385l14-3-43-122-15 5z"/>
<path color="#ffd500" d="M1093 956l14 12-43-36-14-7z"/>
<path color="#000080" d="M1564 1541l14-4-43-155-14 3z"/>
<path color="#03f" d="M1507 1389l14-4-44-120-14 5z"/>
<path color="#ff8400" d="M993 909l14-7-43-9-14 3z"/>
<path color="#00b4ff" d="M1435 1274l14 0-43-98-14 0z"/>
<path color="#37ffc8" d="M1364 1160l14 10-43-82-15-17z"/>
<path color="#ffd500" d="M1192 1001l15-29-44-37-14 21z"/>
<path color="#ff9400" d="M1235 780l14 135-43-8-14-17zm-28 192l14-55-43-9-15 27z"/>
<path color="#ff8400" d="M979 923l14-14-43-13-14 7z"/>
<path color="#000080" d="M1550 1544l14-3-43-156-14 4z"/>
<path color="#03f" d="M1492 1392l15-3-44-119-14 4z"/>
<path color="#fff500" d="M1178 1017l14-16-43-45-14 11z"/>
<path color="#00b4ff" d="M1421 1271l14 3-43-98-14-6z"/>
<path color="#c8ff37" d="M1292 1011l14 35-43-73-14-58z"/>
<path color="#ffc400" d="M1079 935l14 21-43-31-15-10z"/>
<path color="#ff9400" d="M965 936l14-13-43-20-14 7z"/>
<path color="#ff6300" d="M1221 917l14-137-43 110-14 18z"/>
<path color="#f9ff06" d="M1164 1022l14-5-43-50-14 4z"/>
<path color="#47ffb8" d="M1350 1145l14 15-44-89-14-25z"/>
<path color="#000080" d="M1536 1548l14-4-43-155-15 3z"/>
<path color="#03f" d="M1478 1394l14-2-43-118-14 0z"/>
<path color="#ffa400" d="M951 946l14-10-43-26-14 6z"/>
<path color="#00c4ff" d="M1407 1265l14 6-43-101-14-10z"/>
<path color="#f9ff06" d="M1150 1017l14 5-43-51-14-3z"/>
<path color="#000080" d="M1522 1552l14-4-44-156-14 2z"/>
<path color="#03f" d="M1464 1394l14 0-43-120-14-3z"/>
<path color="#ffa400" d="M1065 908l14 27-44-20-14-9z"/>
<path color="#ffb400" d="M937 951l14-5-43-30-15 4z"/>
<path color="#57ffa8" d="M1335 1130l15 15-44-99-14-35z"/>
<path color="#000080" d="M1507 1556l15-4-44-158-14 0z"/>
<path color="#00d4ff" d="M1393 1258l14 7-43-105-14-15z"/>
<path color="#f9ff06" d="M1136 1002l14 15-43-49-14-12z"/>
<path color="#03f" d="M1450 1392l14 2-43-123-14-6z"/>
<path color="#d9ff26" d="M1236 1070l14-24-43-74-15 29z"/>
<path color="#fff500" d="M1250 1046l14-34-43-95-14 55z"/>
<path color="#f9ff06" d="M1278 989l14 22-43-96-14-135z"/>
<path color="#ff7300" d="M1050 892l15 16-44-2-14-4z"/>
<path color="#c8ff37" d="M1222 1084l14-14-44-69-14 16z"/>
<path color="#000080" d="M1493 1559l14-3-43-162-14-2z"/>
<path color="#00e5ff" d="M1379 1252l14 6-43-113-15-15z"/>
<path color="#7f8" d="M1321 1124l14 6-43-119-14-22z"/>
<path color="#b8ff47" d="M1207 1089l15-5-44-67-14 5z"/>
<path color="#0043ff" d="M1436 1390l14 2-43-127-14-7z"/>
<path color="#ff6300" d="M1036 913l14-21-43 10-14 7z"/>
<path color="#ffe500" d="M1264 1012l14-23-43-209-14 137z"/>
<path color="#000080" d="M1479 1563l14-4-43-167-14-2z"/>
<path color="#ffe500" d="M1122 972l14 30-43-46-14-21z"/>
<path color="#ff7300" d="M1022 944l14-31-43-4-14 14z"/>
<path color="#ff9400" d="M1008 968l14-24-43-21-14 13z"/>
<path color="#8f7" d="M1307 1132l14-8-43-135-14 23z"/>
<path color="#b8ff47" d="M1193 1085l14 4-43-67-14-5z"/>
<path color="#0043ff" d="M1422 1389l14 1-43-132-14-6z"/>
<path color="#00e5ff" d="M1364 1251l15 1-44-122-14-6z"/>
<path color="#7f8" d="M1293 1147l14-15-43-120-14 34z"/>
<path color="#000080" d="M1465 1567l14-4-43-173-14-1z"/>
<path color="#ffb400" d="M994 983l14-15-43-32-14 10z"/>
<path color="#7f8" d="M1279 1161l14-14-43-101-14 24z"/>
<path color="#67ff98" d="M1265 1171l14-10-43-91-14 14z"/>
<path color="#ffc400" d="M980 990l14-7-43-37-14 5z"/>
<path color="#00f5ff" d="M1350 1255l14-4-43-127-14 8z"/>
<path color="#0053ff" d="M1408 1390l14-1-43-137-15-1z"/>
<path color="#b8ff47" d="M1179 1072l14 13-43-68-14-15z"/>
<path color="#000080" d="M1451 1571l14-4-43-178-14 1z"/>
<path color="#ffb400" d="M1108 915l14 57-43-37-14-27z"/>
<path color="#57ffa8" d="M1251 1175l14-4-43-87-15 5z"/>
<path color="#00f5ff" d="M1336 1263l14-8-43-123-14 15z"/>
<path color="#0053ff" d="M1394 1393l14-3-44-139-14 4z"/>
<path color="#000080" d="M1437 1574l14-3-43-181-14 3z"/>
<path color="#00f5ff" d="M1322 1271l14-8-43-116-14 14z"/>
<path color="#57ffa8" d="M1237 1173l14 2-44-86-14-4z"/>
<path color="#d9ff26" d="M1165 1048l14 24-43-70-14-30z"/>
<path color="#0053ff" d="M1379 1398l15-5-44-138-14 8z"/>
<path color="#000080" d="M1423 1578l14-4-43-181-15 5z"/>
<path color="#00e5ff" d="M1308 1278l14-7-43-110-14 10z"/>
<path color="#0053ff" d="M1365 1404l14-6-43-135-14 8z"/>
<path color="#00e5ff" d="M1294 1281l14-3-43-107-14 4z"/>
<path color="#000080" d="M1408 1582l15-4-44-180-14 6z"/>
<path color="#67ff98" d="M1222 1165l15 8-44-88-14-13z"/>
<path color="#ffb400" d="M1051 1016l14-34-43-38-14 24z"/>
<path color="#ff6300" d="M1065 982l15-61-44-8-14 31z"/>
<path color="#ffd500" d="M1037 1035l14-19-43-48-14 15z"/>
<path color="#ff6300" d="M1094 780l14 135-43-7-15-16z"/>
<path color="#0053ff" d="M1351 1409l14-5-43-133-14 7z"/>
<path color="#000080" d="M1394 1586l14-4-43-178-14 5z"/>
<path color="#00e5ff" d="M1280 1281l14 0-43-106-14-2z"/>
<path color="#fff500" d="M1023 1043l14-8-43-52-14 7z"/>
<path color="#f9ff06" d="M1151 1015l14 33-43-76-14-57z"/>
<path color="#0053ff" d="M1337 1412l14-3-43-131-14 3z"/>
<path color="#f30" d="M1080 921l14-141-44 112-14 21z"/>
<path color="#7f8" d="M1208 1152l14 13-43-93-14-24z"/>
<path color="#000080" d="M1380 1589l14-3-43-177-14 3z"/>
<path color="#00e5ff" d="M1266 1277l14 4-43-108-15-8z"/>
<path color="#0053ff" d="M1323 1413l14-1-43-131-14 0z"/>
<path color="#000080" d="M1366 1593l14-4-43-177-14 1z"/>
<path color="#8f7" d="M1194 1140l14 12-43-104-14-33z"/>
<path color="#00f5ff" d="M1251 1272l15 5-44-112-14-13z"/>
<path color="#0053ff" d="M1309 1413l14 0-43-132-14-4z"/>
<path color="#000080" d="M1352 1597l14-4-43-180-14 0z"/>
<path color="#f9ff06" d="M1094 1086l15-28-44-76-14 34z"/>
<path color="#d9ff26" d="M1080 1104l14-18-43-70-14 19z"/>
<path color="#ffd500" d="M1109 1058l14-37-43-100-15 61zm28-64l14 21-43-100-14-135z"/>
<path color="#c8ff37" d="M1066 1112l14-8-43-69-14 8z"/>
<path color="#0053ff" d="M1295 1412l14 1-43-136-15-5z"/>
<path color="#000080" d="M1338 1601l14-4-43-184-14-1z"/>
<path color="#06fff9" d="M1237 1268l14 4-43-120-14-12z"/>
<path color="#98ff67" d="M1180 1135l14 5-43-125-14-21z"/>
<path color="#ffb400" d="M1123 1021l14-27-43-214-14 141z"/>
<path color="#000080" d="M1324 1604l14-3-43-189-14 0z"/>
<path color="#0063ff" d="M1281 1412l14 0-44-140-14-4z"/>
<path color="#a8ff57" d="M1166 1145l14-10-43-141-14 27z"/>
<path color="#06fff9" d="M1223 1268l14 0-43-128-14-5z"/>
<path color="#a8ff57" d="M1152 1163l14-18-43-124-14 37z"/>
<path color="#8f7" d="M1138 1180l14-17-43-105-15 28z"/>
<path color="#000080" d="M1310 1608l14-4-43-192-15 2z"/>
<path color="#7f8" d="M1124 1193l14-13-44-94-14 18z"/>
<path color="#0063ff" d="M1266 1414l15-2-44-144-14 0z"/>
<path color="#16ffe9" d="M1209 1273l14-5-43-133-14 10z"/>
<path color="#67ff98" d="M1109 1200l15-7-44-89-14 8z"/>
<path color="#000080" d="M1296 1612l14-4-44-194-14 5z"/>
<path color="#06fff9" d="M1195 1283l14-10-43-128-14 18z"/>
<path color="#0063ff" d="M1252 1419l14-5-43-146-14 5z"/>
<path color="#06fff9" d="M1181 1294l14-11-43-120-14 17z"/>
<path color="#000080" d="M1281 1616l15-4-44-193-14 6z"/>
<path color="#0063ff" d="M1238 1425l14-6-43-146-14 10z"/>
<path color="#00f5ff" d="M1167 1303l14-9-43-114-14 13z"/>
<path color="#000080" d="M1267 1619l14-3-43-191-14 7z"/>
<path color="#0063ff" d="M1224 1432l14-7-43-142-14 11z"/>
<path color="#00f5ff" d="M1153 1309l14-6-43-110-15 7z"/>
<path color="#0053ff" d="M1210 1438l14-6-43-138-14 9z"/>
<path color="#000080" d="M1253 1623l14-4-43-187-14 6z"/>
<path color="#0053ff" d="M1196 1443l14-5-43-135-14 6z"/>
<path color="#000080" d="M1239 1627l14-4-43-185-14 5z"/></g></defs>
<g transform="scale(.1)" fill="currentColor" stroke="currentColor" stroke-width="4" stroke-linejoin="round"><use href="#sa"/></g>
<g transform="scale(.1)" fill="currentColor" stroke="#000" stroke-width="2.4" stroke-linejoin="round"><use href="#sa"/></g>
<path d="M377 151.3L467.9 120.3M467.9 120.3L467.9 38.9M422.3 151.3L331.7 120.3M331.7 120.3L331.7 38.9M354.3 143.6L445.2 112.6M445.2 112.6L445.2 31.2M445.1 143.6L354.4 112.6M354.4 112.6L354.4 31.2M331.7 135.8L422.6 104.8M422.6 104.8L422.6 23.4M467.8 135.8L377.2 104.8M377.2 104.8L377.2 23.4M309 107.8L399.9 76.8M399.9 76.8L490.5 107.8M309 87.4L399.9 56.4M399.9 56.4L490.5 87.4M309 67L399.9 36M399.9 36L490.5 67M309 46.7L399.9 15.7M399.9 15.7L490.5 46.7M399.9 97.1L399.9 15.7M490.5 128.1L490.5 46.7M309 128.1L399.9 97.1M399.9 97.1L490.5 128.1" stroke="#e4e4e4" stroke-width=".5" fill="none"/>
<path d="M309 128.1L309 46.7M309 128.1L399.6 159.1M399.6 159.1L490.5 128.1M309 128.1L306.8 127.1M309 107.8L306.8 106.8M309 87.4L306.8 86.4M309 67L306.8 66M309 46.7L306.8 45.7M399.6 159.1L397.8 160.7M399.6 159.1L401.4 160.7M377 151.3L375.2 152.9M422.3 151.3L424.1 152.9M354.3 143.6L352.5 145.2M445.1 143.6L446.9 145.2M331.7 135.8L329.9 137.4M467.8 135.8L469.6 137.4M309 128.1L307.2 129.7M490.5 128.1L492.3 129.7" stroke="#262626" stroke-width=".5" fill="none"/>
<defs><g id="sb"><path color="#000090" d="M3998 1026l37 2 1 6-38 0zm-36-3l36 3 0 8-37 0zm73 5l36 3 2 5-37-2zm-110-6l37 1-1 11-38 2zm146 9l37 3 2 4-37-2z"/>
<path color="#0000a0" d="M3889 1023l36-1-2 14-37 2z"/>
<path color="#000090" d="M4108 1034l35 2 4 5-37-3z"/>
<path color="#0000a0" d="M3854 1027l35-4-3 15-36 3zm144-10l36 5 1 6-37-2zm36 5l35 5 2 4-36-3z"/>
<path color="#0000b0" d="M3963 1012l35 5 0 9-36-3z"/>
<path color="#000090" d="M4143 1036l35 3 5 5-36-3z"/>
<path color="#0000c0" d="M3927 1009l36 3-1 11-37-1z"/>
<path color="#0000a0" d="M4069 1027l36 3 3 4-37-3zm-250 6l35-6-4 14-36 3z"/>
<path color="#0000c0" d="M3892 1009l35 0-2 13-36 1z"/>
<path color="#0000a0" d="M4105 1030l34 2 4 4-35-2z"/>
<path color="#000090" d="M4178 1039l34 3 6 7-35-5zm-394 1l35-7-5 11-35 5z"/>
<path color="#0000d0" d="M3857 1013l35-4-3 14-35 4z"/>
<path color="#0000c0" d="M3998 1009l35 8 1 5-36-5zm35 8l35 5 1 5-35-5z"/>
<path color="#0000d0" d="M3964 1001l34 8 0 8-35-5z"/>
<path color="#0000a0" d="M4139 1032l34 2 5 5-35-3z"/>
<path color="#0000b0" d="M4068 1022l34 4 3 4-36-3z"/>
<path color="#0000c0" d="M3823 1021l34-8-3 14-35 6z"/>
<path color="#0000e1" d="M3929 995l35 6-1 11-36-3z"/>
<path color="#0000b0" d="M4102 1026l34 2 3 4-34-2z"/>
<path color="#000090" d="M3751 1047l33-7-5 9-35 5zm461-5l34 3 6 9-34-5z"/>
<path color="#0000f1" d="M3895 993l34 2-2 14-35 0z"/>
<path color="#0000b0" d="M4173 1034l34 0 5 8-34-3z"/>
<path color="#0000c0" d="M3790 1030l33-9-4 12-35 7z"/>
<path color="#0000d0" d="M4032 1011l34 7 2 4-35-5zm-34-10l34 10 1 6-35-8z"/>
<path color="#0000c0" d="M4136 1028l33 0 4 6-34-2z"/>
<path color="#0002ff" d="M3861 999l34-6-3 16-35 4z"/>
<path color="#0000d0" d="M4066 1018l33 5 3 3-34-4z"/>
<path color="#0000e1" d="M3965 990l33 11 0 8-34-8z"/>
<path color="#000090" d="M3719 1054l32-7-7 7-33 6z"/>
<path color="#0000f1" d="M3828 1009l33-10-4 14-34 8z"/>
<path color="#0000a0" d="M4246 1045l32 3 7 12-33-6z"/>
<path color="#0000d0" d="M4099 1023l33 2 4 3-34-2z"/>
<path color="#0002ff" d="M3931 980l34 10-1 11-35-6z"/>
<path color="#0000b0" d="M3757 1039l33-9-6 10-33 7zm450-5l32 1 7 10-34-3z"/>
<path color="#0000c0" d="M4169 1028l32-1 6 7-34 0z"/>
<path color="#02f" d="M3898 977l33 3-2 15-34-2z"/>
<path color="#0000e1" d="M3796 1021l32-12-5 12-33 9zm235-15l33 9 2 3-34-7z"/>
<path color="#0000d0" d="M4132 1025l32-1 5 4-33 0z"/>
<path color="#0000f1" d="M3998 994l33 12 1 5-34-10z"/>
<path color="#0000e1" d="M4064 1015l32 5 3 3-33-5z"/>
<path color="#03f" d="M3865 984l33-7-3 16-34 6z"/>
<path color="#0002ff" d="M3966 978l32 16 0 7-33-11z"/>
<path color="#0000b0" d="M3726 1047l31-8-6 8-32 7z"/>
<path color="#0000e1" d="M4096 1020l32 1 4 4-33-2z"/>
<path color="#000090" d="M3687 1061l32-7-8 6-32 7z"/>
<path color="#0000a0" d="M4278 1048l31 6 8 13-32-7z"/>
<path color="#0000c0" d="M4239 1035l32 1 7 12-32-3z"/>
<path color="#0000d0" d="M3764 1032l32-11-6 9-33 9zm437-5l32-2 6 10-32-1z"/>
<path color="#02f" d="M3833 997l32-13-4 15-33 10zm100-34l33 15-1 12-34-10z"/>
<path color="#0000e1" d="M4164 1024l31-4 6 7-32 1z"/>
<path color="#0002ff" d="M4030 1002l32 10 2 3-33-9z"/>
<path color="#0000f1" d="M4128 1021l31-2 5 5-32 1z"/>
<path color="#0002ff" d="M3801 1012l32-15-5 12-32 12z"/>
<path color="#0000f1" d="M4062 1012l31 6 3 2-32-5z"/>
<path color="#0002ff" d="M3998 987l32 15 1 4-33-12z"/>
<path color="#0043ff" d="M3901 958l32 5-2 17-33-3z"/>
<path color="#0000c0" d="M3733 1041l31-9-7 7-31 8z"/>
<path color="#0000a0" d="M3696 1054l30-7-7 7-32 7z"/>
<path color="#0000f1" d="M4093 1018l31 1 4 2-32-1z"/>
<path color="#02f" d="M3967 967l31 20 0 7-32-16z"/>
<path color="#0063ff" d="M3869 967l32-9-3 19-33 7z"/>
<path color="#0000c0" d="M4271 1036l30 5 8 13-31-6z"/>
<path color="#0000e1" d="M4233 1025l30-1 8 12-32-1z"/>
<path color="#0000f1" d="M3770 1026l31-14-5 9-32 11z"/>
<path color="#000090" d="M3658 1067l29-6-8 6-30 7z"/>
<path color="#0000f1" d="M4195 1020l31-5 7 10-32 2z"/>
<path color="#0000a0" d="M4309 1054l30 8 9 12-31-7z"/>
<path color="#0002ff" d="M4159 1019l31-6 5 7-31 4z"/>
<path color="#0043ff" d="M3837 985l32-18-4 17-32 13z"/>
<path color="#0002ff" d="M4124 1019l30-4 5 4-31 2z"/>
<path color="#0012ff" d="M4029 999l31 12 2 1-32-10z"/>
<path color="#0043ff" d="M3935 942l32 25-1 11-33-15z"/>
<path color="#0012ff" d="M4060 1011l30 6 3 1-31-6z"/>
<path color="#02f" d="M3998 981l31 18 1 3-32-15zm-191 23l30-19-4 12-32 15z"/>
<path color="#0000c0" d="M3704 1048l29-7-7 6-30 7z"/>
<path color="#0000e1" d="M3741 1036l29-10-6 6-31 9z"/>
<path color="#0012ff" d="M4090 1017l30 1 4 1-31-1z"/>
<path color="#0000a0" d="M3667 1059l29-5-9 7-29 6z"/>
<path color="#0084ff" d="M3904 929l31 13-2 21-32-5z"/>
<path color="#03f" d="M3967 955l31 26 0 6-31-20z"/>
<path color="#0002ff" d="M3777 1019l30-15-6 8-31 14z"/>
<path color="#0000f1" d="M4263 1024l30 4 8 13-30-5z"/>
<path color="#0012ff" d="M4226 1015l30-4 7 13-30 1zm-36-2l30-9 6 11-31 5z"/>
<path color="#0000c0" d="M4301 1041l29 9 9 12-30-8z"/>
<path color="#0012ff" d="M4154 1015l30-8 6 6-31 6z"/>
<path color="#000090" d="M3629 1073l29-6-9 7-29 9zm710-11l28 10 10 11-29-9z"/>
<path color="#0012ff" d="M4120 1018l30-5 4 2-30 4z"/>
<path color="#00b4ff" d="M3873 945l31-16-3 29-32 9z"/>
<path color="#02f" d="M4028 998l30 13 2 0-31-12zm30 13l29 6 3 0-30-6z"/>
<path color="#0084ff" d="M3842 973l31-28-4 22-32 18z"/>
<path color="#03f" d="M3998 977l30 21 1 1-31-18z"/>
<path color="#0000d0" d="M3712 1042l29-6-8 5-29 7z"/>
<path color="#0043ff" d="M3812 996l30-23-5 12-30 19z"/>
<path color="#0000f1" d="M3748 1031l29-12-7 7-29 10z"/>
<path color="#02f" d="M4087 1017l29 1 4 0-30-1z"/>
<path color="#0063ff" d="M3937 913l30 42 0 12-32-25z"/>
<path color="#0000c0" d="M3676 1052l28-4-8 6-29 5z"/>
<path color="#02f" d="M3783 1014l29-18-5 8-30 15z"/>
<path color="#03f" d="M4150 1013l28-11 6 5-30 8zm34-6l29-13 7 10-30 9z"/>
<path color="#0053ff" d="M3968 940l30 37 0 4-31-26z"/>
<path color="#02f" d="M4256 1011l28 2 9 15-30-4z"/>
<path color="#0000e1" d="M4293 1028l28 9 9 13-29-9z"/>
<path color="#03f" d="M4220 1004l28-8 8 15-30 4z"/>
<path color="#0000a0" d="M3639 1063l28-4-9 8-29 6z"/>
<path color="#03f" d="M4116 1018l29-6 5 1-30 5zm-89-20l29 14 2-1-30-13z"/>
<path color="#0000b0" d="M4330 1050l27 12 10 10-28-10z"/>
<path color="#03f" d="M4056 1012l28 7 3-2-29-6z"/>
<path color="#0043ff" d="M3998 976l29 22 1 0-30-21z"/>
<path color="#00c4ff" d="M3906 889l31 24-2 29-31-13z"/>
<path color="#0000f1" d="M3720 1037l28-6-7 5-29 6z"/>
<path color="#03f" d="M4084 1019l28 0 4-1-29-1z"/>
<path color="#0012ff" d="M3755 1026l28-12-6 5-29 12z"/>
<path color="#000090" d="M4367 1072l27 11 10 8-27-8zm-764 6l26-5-9 10-28 8z"/>
<path color="#0000d0" d="M3685 1045l27-3-8 6-28 4z"/>
<path color="#0063ff" d="M3818 990l29-30-5 13-30 23z"/>
<path color="#00c4ff" d="M3847 960l29-45-3 30-31 28z"/>
<path color="#06fff9" d="M3876 915l30-26-2 40-31 16z"/>
<path color="#0043ff" d="M3790 1010l28-20-6 6-29 18zm355 2l28-13 5 3-28 11z"/>
<path color="#0000c0" d="M3649 1054l27-2-9 7-28 4z"/>
<path color="#0053ff" d="M4178 1002l28-18 7 10-29 13z"/>
<path color="#0043ff" d="M4112 1019l28-7 5 0-29 6z"/>
<path color="#0084ff" d="M3939 880l29 60-1 15-30-42z"/>
<path color="#0043ff" d="M4026 1002l28 13 2-3-29-14zm28 13l27 7 3-3-28-7z"/>
<path color="#0012ff" d="M4284 1013l28 11 9 13-28-9z"/>
<path color="#0063ff" d="M3969 930l29 46 0 1-30-37zm244 64l28-14 7 16-28 8z"/>
<path color="#0053ff" d="M4248 996l28 0 8 17-28-2z"/>
<path color="#0000d0" d="M4321 1037l27 14 9 11-27-12z"/>
<path color="#0053ff" d="M3998 978l28 24 1-4-29-22z"/>
<path color="#0002ff" d="M3728 1033l27-7-7 5-28 6z"/>
<path color="#0043ff" d="M4081 1022l28 0 3-3-28 0z"/>
<path color="#02f" d="M3763 1023l27-13-7 4-28 12z"/>
<path color="#0000b0" d="M4357 1062l26 13 11 8-27-11zm-744 4l26-3-10 10-26 5z"/>
<path color="#0000f1" d="M3694 1039l26-2-8 5-27 3z"/>
<path color="#0094ff" d="M3824 985l28-40-5 15-29 30z"/>
<path color="#0053ff" d="M4140 1012l27-14 6 1-28 13zm-343-4l27-23-6 5-28 20zm312 14l26-7 5-3-28 7z"/>
<path color="#03f" d="M4025 1007l27 14 2-6-28-13zm27 14l26 7 3-6-27-7z"/>
<path color="#0000e1" d="M3658 1045l27 0-9 7-27 2z"/>
<path color="#000090" d="M4394 1083l25 11 11 7-26-10z"/>
<path color="#0073ff" d="M4173 999l27-24 6 9-28 18z"/>
<path color="#06fff9" d="M3852 945l28-62-4 32-29 45z"/>
<path color="#000090" d="M3577 1084l26-6-11 13-26 10z"/>
<path color="#0073ff" d="M3970 929l28 49 0-2-29-46z"/>
<path color="#0000f1" d="M4312 1024l26 17 10 10-27-14z"/>
<path color="#03f" d="M4078 1028l27 0 4-6-28 0z"/>
<path color="#0043ff" d="M3998 985l27 22 1-5-28-24z"/>
<path color="#03f" d="M4276 996l27 13 9 15-28-11z"/>
<path color="#06fff9" d="M3909 837l30 43-2 33-31-24z"/>
<path color="#0012ff" d="M3737 1030l26-7-8 3-27 7z"/>
<path color="#0094ff" d="M4206 984l28-28 7 24-28 14z"/>
<path color="#0084ff" d="M4241 980l27-5 8 21-28 0z"/>
<path color="#03f" d="M3770 1022l27-14-7 2-27 13z"/>
<path color="#0000c0" d="M4348 1051l25 16 10 8-26-13z"/>
<path color="#0002ff" d="M3703 1034l25-1-8 4-26 2z"/>
<path color="#0000d0" d="M3623 1053l26 1-10 9-26 3z"/>
<path color="#00a4ff" d="M3941 850l28 80-1 10-29-60z"/>
<path color="#7f8" d="M3880 883l29-46-3 52-30 26z"/>
<path color="#02f" d="M4024 1016l26 13 2-8-27-14zm26 13l26 6 2-7-26-7z"/>
<path color="#0043ff" d="M4105 1028l25-7 5-6-26 7z"/>
<path color="#0073ff" d="M4135 1015l26-15 6-2-27 14z"/>
<path color="#0063ff" d="M3803 1008l26-25-5 2-27 23z"/>
<path color="#00b4ff" d="M3829 983l27-49-4 11-28 40z"/>
<path color="#0000f1" d="M3668 1036l26 3-9 6-27 0z"/>
<path color="#0000a0" d="M4383 1075l25 13 11 6-25-11z"/>
<path color="#02f" d="M4076 1035l25 0 4-7-27 0z"/>
<path color="#03f" d="M3998 996l26 20 1-9-27-22z"/>
<path color="#0063ff" d="M3971 938l27 47 0-7-28-49z"/>
<path color="#0094ff" d="M4167 998l26-32 7 9-27 24z"/>
<path color="#0000b0" d="M3589 1068l24-2-10 12-26 6z"/>
<path color="#03f" d="M3745 1028l25-6-7 1-26 7z"/>
<path color="#0012ff" d="M4303 1009l25 21 10 11-26-17z"/>
<path color="#0053ff" d="M3778 1022l25-14-6 0-27 14z"/>
<path color="#0000e1" d="M4338 1041l24 18 11 8-25-16z"/>
<path color="#0012ff" d="M3712 1030l25 0-9 3-25 1z"/>
<path color="#0063ff" d="M4268 975l26 18 9 16-27-13z"/>
<path color="#0000e1" d="M3634 1040l24 5-9 9-26-1z"/>
<path color="#0012ff" d="M4023 1028l25 11 2-10-26-13zm25 11l25 6 3-10-26-6z"/>
<path color="#03f" d="M4101 1035l25-6 4-8-25 7z"/>
<path color="#37ffc8" d="M3856 934l28-82-4 31-28 62z"/>
<path color="#0053ff" d="M4130 1021l26-15 5-6-26 15z"/>
<path color="#00d4ff" d="M4200 975l26-48 8 29-28 28z"/>
<path color="#000090" d="M4419 1094l23 11 12 6-24-10z"/>
<path color="#0084ff" d="M3810 1010l25-25-6-2-26 25z"/>
<path color="#0000c0" d="M4373 1067l24 14 11 7-25-13z"/>
<path color="#02f" d="M3998 1011l25 17 1-12-26-20z"/>
<path color="#0053ff" d="M3972 959l26 37 0-11-27-47z"/>
<path color="#00d4ff" d="M4234 956l26-16 8 35-27 5z"/>
<path color="#0012ff" d="M4073 1045l24 0 4-10-25 0z"/>
<path color="#00c4ff" d="M3943 838l27 91-1 1-28-80z"/>
<path color="#0002ff" d="M3678 1029l25 5-9 5-26-3z"/>
<path color="#0000a0" d="M3554 1091l23-7-11 17-24 10z"/>
<path color="#00c4ff" d="M3835 985l26-52-5 1-27 49z"/>
<path color="#0043ff" d="M3753 1029l25-7-8 0-25 6z"/>
<path color="#00a4ff" d="M4161 1000l26-35 6 1-26 32z"/>
<path color="#0063ff" d="M3785 1025l25-15-7-2-25 14z"/>
<path color="#0000d0" d="M3600 1051l23 2-10 13-24 2z"/>
<path color="#0000f1" d="M4022 1043l24 9 2-13-25-11z"/>
<path color="#02f" d="M3721 1028l24 0-8 2-25 0z"/>
<path color="#0000f1" d="M4046 1052l24 5 3-12-25-6z"/>
<path color="#0002ff" d="M4328 1030l24 21 10 8-24-18z"/>
<path color="#0012ff" d="M4097 1045l24-5 5-11-25 6z"/>
<path color="#03f" d="M4294 993l24 26 10 11-25-21zm-321-7l25 25 0-15-26-37z"/>
<path color="#37ffc8" d="M3912 754l29 96-2 30-30-43z"/>
<path color="#0043ff" d="M4126 1029l24-13 6-10-26 15z"/>
<path color="#0002ff" d="M3998 1029l24 14 1-15-25-17zm-354-1l24 8-10 9-24-5z"/>
<path color="#0000a0" d="M4408 1088l22 11 12 6-23-11z"/>
<path color="#0000f1" d="M4070 1057l23 1 4-13-24 0z"/>
<path color="#0073ff" d="M3816 1016l25-24-6-7-25 25z"/>
<path color="#0000d0" d="M4362 1059l23 16 12 6-24-14z"/>
<path color="#00b4ff" d="M3944 859l27 79-1-9-27-91z"/>
<path color="#02f" d="M3688 1023l24 7-9 4-25-5z"/>
<path color="#00b4ff" d="M3841 992l25-50-5-9-26 52z"/>
<path color="#fff500" d="M3884 852l28-98-3 83-29 46z"/>
<path color="#0094ff" d="M4260 940l25 28 9 25-26-18z"/>
<path color="#02f" d="M3974 1011l24 18 0-18-25-25z"/>
<path color="#0053ff" d="M3761 1031l24-6-7-3-25 7z"/>
<path color="#47ffb8" d="M3861 933l27-93-4 12-28 82z"/>
<path color="#0000e1" d="M4021 1060l23 8 2-16-24-9z"/>
<path color="#0000c0" d="M3566 1071l23-3-12 16-23 7z"/>
<path color="#0094ff" d="M4156 1006l24-32 7-9-26 35z"/>
<path color="#0053ff" d="M3792 1030l24-14-6-6-25 15z"/>
<path color="#0000e1" d="M4044 1068l23 4 3-15-24-5z"/>
<path color="#06fff9" d="M4193 966l26-67 7 28-26 48z"/>
<path color="#0002ff" d="M4093 1058l23-4 5-14-24 5z"/>
<path color="#0000e1" d="M3998 1050l23 10 1-17-24-14z"/>
<path color="#0043ff" d="M3730 1027l23 2-8-1-24 0z"/>
<path color="#03f" d="M4121 1040l23-11 6-13-24 13z"/>
<path color="#0094ff" d="M3946 902l26 57-1-21-27-79z"/>
<path color="#0000e1" d="M4067 1072l22 0 4-14-23-1z"/>
<path color="#0000f1" d="M3611 1034l23 6-11 13-23-2z"/>
<path color="#0012ff" d="M4318 1019l23 25 11 7-24-21z"/>
<path color="#0000b0" d="M4397 1081l21 13 12 5-22-11z"/>
<path color="#0053ff" d="M3823 1024l23-22-5-10-25 24z"/>
<path color="#0000f1" d="M3975 1038l23 12 0-21-24-18z"/>
<path color="#0063ff" d="M3948 949l25 37-1-27-26-57z"/>
<path color="#0094ff" d="M3846 1002l25-40-5-20-25 50z"/>
<path color="#0012ff" d="M3655 1017l23 12-10 7-24-8z"/>
<path color="#47ffb8" d="M4226 927l25-35 9 48-26 16z"/>
<path color="#000090" d="M4442 1105l21 11 13 5-22-10z"/>
<path color="#0000f1" d="M4352 1051l22 18 11 6-23-16z"/>
<path color="#0053ff" d="M4285 968l23 40 10 11-24-26z"/>
<path color="#0000c0" d="M4020 1080l22 5 2-17-23-8z"/>
<path color="#0043ff" d="M3950 994l24 17-1-25-25-37z"/>
<path color="#0000c0" d="M3998 1073l22 7 1-20-23-10zm44 12l22 3 3-16-23-4z"/>
<path color="#0073ff" d="M4150 1016l24-24 6-18-24 32z"/>
<path color="#03f" d="M3697 1019l24 9-9 2-24-7z"/>
<path color="#0000a0" d="M3533 1100l21-9-12 20-22 10z"/>
<path color="#0043ff" d="M3769 1036l23-6-7-5-24 6z"/>
<path color="#0000e1" d="M4089 1072l22-2 5-16-23 4z"/>
<path color="#0043ff" d="M3800 1037l23-13-7-8-24 14z"/>
<path color="#0012ff" d="M4116 1054l23-8 5-17-23 11z"/>
<path color="#37ffc8" d="M3866 942l26-81-4-21-27 93z"/>
<path color="#0000d0" d="M3976 1065l22 8 0-23-23-12z"/>
<path color="#0012ff" d="M3952 1027l23 11-1-27-24-17z"/>
<path color="#0000c0" d="M4064 1088l21 1 4-17-22 0z"/>
<path color="#0053ff" d="M3738 1029l23 2-8-2-23-2z"/>
<path color="#0063ff" d="M3852 1017l23-27-4-28-25 40z"/>
<path color="#0043ff" d="M3829 1036l23-19-6-15-23 22z"/>
<path color="#0000f1" d="M3578 1050l22 1-11 17-23 3z"/>
<path color="#0000d0" d="M4385 1075l22 14 11 5-21-13z"/>
<path color="#0000a0" d="M4019 1102l21 3 2-20-22-5zm-21-4l21 4 1-22-22-7z"/>
<path color="#0000e1" d="M3954 1059l22 6-1-27-23-11z"/>
<path color="#0053ff" d="M4144 1029l23-17 7-20-24 24z"/>
<path color="#0000a0" d="M4040 1105l21 2 3-19-22-3z"/>
<path color="#06fff9" d="M3871 962l24-58-3-43-26 81z"/>
<path color="#26ffd9" d="M4187 965l24-77 8 11-26 67z"/>
<path color="#0000a0" d="M4430 1099l21 11 12 6-21-11z"/>
<path color="#03f" d="M4308 1008l23 30 10 6-23-25z"/>
<path color="#0000a0" d="M3977 1094l21 4 0-25-22-8z"/>
<path color="#0000c0" d="M4085 1089l22-1 4-18-22 2z"/>
<path color="#0012ff" d="M3622 1017l22 11-10 12-23-6z"/>
<path color="#03f" d="M3929 1023l23 4-2-33-24-11z"/>
<path color="#0073ff" d="M3926 983l24 11-2-45-24-20z"/>
<path color="#0000f1" d="M4111 1070l22-5 6-19-23 8z"/>
<path color="#0002ff" d="M4341 1044l22 21 11 4-22-18z"/>
<path color="#00b4ff" d="M3875 990l24-39-4-47-24 58z"/>
<path color="#02f" d="M3807 1048l22-12-6-12-23 13z"/>
<path color="#03f" d="M3778 1043l22-6-8-7-23 6zm-113-35l23 15-10 6-23-12z"/>
<path color="#0043ff" d="M3858 1035l22-19-5-26-23 27z"/>
<path color="#0000b0" d="M3956 1092l21 2-1-29-22-6z"/>
<path color="#0000a0" d="M4061 1107l21 1 3-19-21-1z"/>
<path color="#0000f1" d="M3932 1057l22 2-2-32-23-4z"/>
<path color="#0043ff" d="M3707 1017l23 10-9 1-24-9z"/>
<path color="#0073ff" d="M3880 1016l23-20-4-45-24 39z"/>
<path color="#00d4ff" d="M4251 892l25 47 9 29-25-28z"/>
<path color="#000080" d="M3998 1125l20 0 1-23-21-4z"/>
<path color="#00b4ff" d="M3924 929l24 20-2-47-25-40z"/>
<path color="#02f" d="M3836 1051l22-16-6-18-23 19z"/>
<path color="#0043ff" d="M3907 1029l22-6-3-40-23 13z"/>
<path color="#000080" d="M3978 1125l20 0 0-27-21-4zm40 0l20 1 2-21-21-3z"/>
<path color="#0094ff" d="M3903 996l23-13-2-54-25 22z"/>
<path color="#0043ff" d="M3747 1034l22 2-8-5-23-2z"/>
<path color="#03f" d="M4139 1046l21-12 7-22-23 17z"/>
<path color="#0000b0" d="M3935 1091l21 1-2-33-22-2z"/>
<path color="#03f" d="M3885 1042l22-13-4-33-23 20z"/>
<path color="#000080" d="M3958 1126l20-1-1-31-21-2zm80 0l20 1 3-20-21-2z"/>
<path color="#0073ff" d="M4276 939l23 59 9 10-23-40z"/>
<path color="#0000d0" d="M3545 1078l21-7-12 20-21 9z"/>
<path color="#0002ff" d="M3911 1061l21-4-3-34-22 6z"/>
<path color="#0000a0" d="M4082 1108l20 1 5-21-22 1z"/>
<path color="#0012ff" d="M3863 1056l22-14-5-26-22 19z"/>
<path color="#47ffb8" d="M3915 640l28 198-2 12-29-96z"/>
<path color="#0000d0" d="M4107 1088l20-2 6-21-22 5z"/>
<path color="#0000e1" d="M4374 1069l21 15 12 5-22-14z"/>
<path color="#00f5ff" d="M3899 951l25-22-3-67-26 42z"/>
<path color="#000080" d="M3938 1127l20-1-2-34-21-1z"/>
<path color="#0000b0" d="M4418 1094l21 11 12 5-21-11z"/>
<path color="#0000c0" d="M3914 1094l21-3-3-34-21 4z"/>
<path color="#0000f1" d="M3890 1070l21-9-4-32-22 13z"/>
<path color="#000080" d="M4058 1127l20 1 4-20-21-1z"/>
<path color="#0012ff" d="M3814 1061l22-10-7-15-22 12z"/>
<path color="#06fff9" d="M4180 974l24-67 7-19-24 77zm-259-112l25 40-2-43-26-93z"/>
<path color="#02f" d="M3786 1053l21-5-7-11-22 6z"/>
<path color="#0002ff" d="M3842 1068l21-12-5-21-22 16z"/>
<path color="#0012ff" d="M3589 1029l22 5-11 17-22-1z"/>
<path color="#0002ff" d="M4133 1065l21-7 6-24-21 12z"/>
<path color="#000080" d="M3918 1128l20-1-3-36-21 3z"/>
<path color="#0043ff" d="M4299 998l21 35 11 5-23-30z"/>
<path color="#0012ff" d="M4331 1038l21 23 11 4-22-21z"/>
<path color="#ff5300" d="M3888 840l27-200-3 114-28 98z"/>
<path color="#0000e1" d="M3869 1080l21-10-5-28-22 14z"/>
<path color="#0000b0" d="M3894 1099l20-5-3-33-21 9z"/>
<path color="#0053ff" d="M3717 1019l21 10-8-2-23-10z"/>
<path color="#000080" d="M4078 1128l19 2 5-21-20-1z"/>
<path color="#0000a0" d="M4102 1109l20-1 5-22-20 2z"/>
<path color="#0043ff" d="M3676 997l21 22-9 4-23-15z"/>
<path color="#03f" d="M3633 996l22 21-11 11-22-11z"/>
<path color="#67ff98" d="M3895 904l26-42-3-96-26 95z"/>
<path color="#03f" d="M3756 1042l22 1-9-7-22-2z"/>
<path color="#000090" d="M4463 1116l20 10 12 6-19-11z"/>
<path color="#c8ff37" d="M4219 899l24-84 8 77-25 35z"/>
<path color="#00d4ff" d="M4174 992l22-46 8-39-24 67z"/>
<path color="#000080" d="M3899 1130l19-2-4-34-20 5z"/>
<path color="#0000b0" d="M3874 1105l20-6-4-29-21 10z"/>
<path color="#0000d0" d="M3849 1089l20-9-6-24-21 12z"/>
<path color="#0000f1" d="M3822 1077l20-9-6-17-22 10z"/>
<path color="#0000d0" d="M4127 1086l20-4 7-24-21 7z"/>
<path color="#0000b0" d="M3513 1111l20-11-13 21-19 11z"/>
<path color="#0000f1" d="M4363 1065l20 15 12 4-21-15z"/>
<path color="#0094ff" d="M4167 1012l22-25 7-41-22 46z"/>
<path color="#0002ff" d="M3794 1066l20-5-7-13-21 5z"/>
<path color="#0000d0" d="M4407 1089l19 11 13 5-21-11z"/>
<path color="#37ffc8" d="M3918 766l26 93-1-21-28-198z"/>
<path color="#000080" d="M4097 1130l19 3 6-25-20 1zm-217 3l19-3-5-31-20 6z"/>
<path color="#0053ff" d="M4160 1034l22-11 7-36-22 25z"/>
<path color="#0012ff" d="M3557 1056l21-6-12 21-21 7z"/>
<path color="#0000a0" d="M3855 1111l19-6-5-25-20 9zm267-3l19 0 6-26-20 4z"/>
<path color="#02f" d="M4320 1033l21 25 11 3-21-23z"/>
<path color="#0043ff" d="M3727 1024l20 10-9-5-21-10z"/>
<path color="#0094ff" d="M4267 911l22 78 10 9-23-59z"/>
<path color="#0012ff" d="M3765 1052l21 1-8-10-22-1z"/>
<path color="#0000c0" d="M3829 1095l20-6-7-21-20 9z"/>
<path color="#0053ff" d="M4289 989l21 42 10 2-21-35z"/>
<path color="#0000a0" d="M4451 1110l19 10 13 6-20-10z"/>
<path color="#fff500" d="M3892 861l26-95-3-126-27 200z"/>
<path color="#02f" d="M4154 1058l20-6 8-29-22 11z"/>
<path color="#0000e1" d="M3802 1082l20-5-8-16-20 5z"/>
<path color="#0053ff" d="M3686 991l21 26-10 2-21-22z"/>
<path color="#0043ff" d="M3601 1003l21 14-11 17-22-5z"/>
<path color="#000080" d="M4116 1133l18 3 7-28-19 0zm-254 3l18-3-6-28-19 6z"/>
<path color="#0012ff" d="M4352 1061l19 16 12 3-20-15z"/>
<path color="#0000e1" d="M4147 1082l20-2 7-28-20 6zm248 2l19 11 12 5-19-11z"/>
<path color="#06fff9" d="M4243 815l24 96 9 28-25-47z"/>
<path color="#0000a0" d="M3837 1116l18-5-6-22-20 6z"/>
<path color="#0053ff" d="M3644 973l21 35-10 9-22-21z"/>
<path color="#0002ff" d="M3774 1066l20 0-8-13-21-1z"/>
<path color="#0000e1" d="M3526 1091l19-13-12 22-20 11z"/>
<path color="#0000b0" d="M4141 1108l18 1 8-29-20 2z"/>
<path color="#03f" d="M3736 1032l20 10-9-8-20-10z"/>
<path color="#0000c0" d="M3810 1100l19-5-7-18-20 5z"/>
<path color="#0043ff" d="M4310 1031l20 26 11 1-21-25z"/>
<path color="#0000b0" d="M4439 1105l18 9 13 6-19-10z"/>
<path color="#000080" d="M3844 1139l18-3-7-25-18 5zm290-3l18 3 7-30-18-1z"/>
<path color="#0063ff" d="M4279 987l20 45 11-1-21-42z"/>
<path color="#0043ff" d="M3570 1032l19-3-11 21-21 6z"/>
<path color="#0073ff" d="M4182 1023l20-3 8-46-21 13z"/>
<path color="#03f" d="M4174 1052l20 0 8-32-20 3z"/>
<path color="#0073ff" d="M3697 990l20 29-10-2-21-26z"/>
<path color="#0000e1" d="M3783 1082l19 0-8-16-20 0z"/>
<path color="#0000a0" d="M3819 1120l18-4-8-21-19 5z"/>
<path color="#02f" d="M4341 1058l19 18 11 1-19-16z"/>
<path color="#0000f1" d="M4383 1080l19 11 12 4-19-11z"/>
<path color="#00a4ff" d="M4258 899l21 88 10 2-22-78z"/>
<path color="#0000f1" d="M4167 1080l19 2 8-30-20 0z"/>
<path color="#02f" d="M3746 1044l19 8-9-10-20-10z"/>
<path color="#00c4ff" d="M4189 987l21-13 8-60-22 32z"/>
<path color="#0000b0" d="M4159 1109l18 3 9-30-19-2z"/>
<path color="#000090" d="M4483 1126l17 10 13 7-18-11z"/>
<path color="#0000d0" d="M4426 1100l18 8 13 6-18-9z"/>
<path color="#000080" d="M3827 1143l17-4-7-23-18 4z"/>
<path color="#0053ff" d="M4299 1032l20 27 11-2-20-26z"/>
<path color="#0000c0" d="M3792 1101l18-1-8-18-19 0z"/>
<path color="#0063ff" d="M3613 967l20 29-11 21-21-14z"/>
<path color="#0000a0" d="M3496 1125l17-14-12 21-18 11z"/>
<path color="#000080" d="M4152 1139l17 4 8-31-18-3z"/>
<path color="#0073ff" d="M3655 952l21 45-11 11-21-35z"/>
<path color="#0053ff" d="M4269 995l20 42 10-5-20-45z"/>
<path color="#ff9400" d="M4211 888l24-183 8 110-24 84z"/>
<path color="#02f" d="M3539 1069l18-13-12 22-19 13z"/>
<path color="#0002ff" d="M3756 1060l18 6-9-14-19-8z"/>
<path color="#37ffc8" d="M4196 946l22-32 9-88-23 81z"/>
<path color="#0063ff" d="M3707 996l20 28-10-5-20-29z"/>
<path color="#0002ff" d="M4371 1077l18 12 13 2-19-11z"/>
<path color="#03f" d="M4330 1057l18 18 12 1-19-18z"/>
<path color="#0094ff" d="M4249 918l20 77 10-8-21-88z"/>
<path color="#02f" d="M4194 1052l18 9 10-29-20-12z"/>
<path color="#0053ff" d="M4202 1020l20 12 9-35-21-23z"/>
<path color="#0000a0" d="M3801 1123l18-3-9-20-18 1z"/>
<path color="#0000e1" d="M4186 1082l17 7 9-28-18-9z"/>
<path color="#0000a0" d="M4470 1120l16 8 14 8-17-10z"/>
<path color="#0094ff" d="M4210 974l21 23 9-41-22-42z"/>
<path color="#0043ff" d="M4289 1037l18 26 12-4-20-27zm-29-25l19 34 10-9-20-42z"/>
<path color="#0000e1" d="M4414 1095l17 8 13 5-18-8zm-648-17l17 4-9-16-18-6z"/>
<path color="#0000b0" d="M4177 1112l17 5 9-28-17-7z"/>
<path color="#0073ff" d="M4240 956l20 56 9-17-20-77z"/>
<path color="#000080" d="M3810 1147l17-4-8-23-18 3z"/>
<path color="#0073ff" d="M3582 999l19 4-12 26-19 3z"/>
<path color="#0053ff" d="M4231 997l19 35 10-20-20-56z"/>
<path color="#000080" d="M4169 1143l16 4 9-30-17-5z"/>
<path color="#0043ff" d="M3717 1009l19 23-9-8-20-28z"/>
<path color="#03f" d="M4222 1032l18 21 10-21-19-35z"/>
<path color="#c8ff37" d="M4204 907l23-81 8-121-24 183z"/>
<path color="#0043ff" d="M4319 1059l17 18 12-2-18-18z"/>
<path color="#0012ff" d="M4360 1076l17 11 12 2-18-12z"/>
<path color="#0000c0" d="M3775 1100l17 1-9-19-17-4z"/>
<path color="#0000d0" d="M3509 1107l17-16-13 20-17 14z"/>
<path color="#0002ff" d="M4212 1061l18 15 10-23-18-21z"/>
<path color="#03f" d="M4250 1032l18 27 11-13-19-34z"/>
<path color="#0084ff" d="M3666 937l20 54-10 6-21-45z"/>
<path color="#00d4ff" d="M4218 914l22 42 9-38-22-92z"/>
<path color="#26ffd9" d="M4235 705l23 194 9 12-24-96z"/>
<path color="#03f" d="M4279 1046l17 24 11-7-18-26z"/>
<path color="#0000c0" d="M4457 1114l16 6 13 8-16-8z"/>
<path color="#0000d0" d="M4203 1089l18 10 9-23-18-15z"/>
<path color="#03f" d="M3728 1028l18 16-10-12-19-23z"/>
<path color="#0000a0" d="M3785 1124l16-1-9-22-17-1z"/>
<path color="#0053ff" d="M3552 1047l18-15-13 24-18 13z"/>
<path color="#0000f1" d="M4402 1091l16 7 13 5-17-8z"/>
<path color="#0000a0" d="M4194 1117l17 7 10-25-18-10z"/>
<path color="#0012ff" d="M4240 1053l18 21 10-15-18-27z"/>
<path color="#0094ff" d="M3624 928l20 45-11 23-20-29z"/>
<path color="#000080" d="M3795 1151l15-4-9-24-16 1zm390-4l16 4 10-27-17-7z"/>
<path color="#03f" d="M4307 1063l17 17 12-3-17-18z"/>
<path color="#02f" d="M4348 1075l17 11 12 1-17-11z"/>
<path color="#0012ff" d="M3738 1048l18 12-10-16-18-16zm530 11l17 20 11-9-17-24z"/>
<path color="#0000f1" d="M4230 1076l17 16 11-18-18-21z"/>
<path color="#0000d0" d="M4444 1108l16 5 13 7-16-6z"/>
<path color="#06fff9" d="M4227 826l22 92 9-19-23-194z"/>
<path color="#0000f1" d="M3749 1071l17 7-10-18-18-12z"/>
<path color="#0012ff" d="M4389 1089l17 5 12 4-16-7z"/>
<path color="#0000d0" d="M4221 1099l16 12 10-19-17-16z"/>
<path color="#0012ff" d="M3523 1089l16-20-13 22-17 16z"/>
<path color="#00a4ff" d="M3677 933l20 57-11 1-20-54z"/>
<path color="#000090" d="M4500 1136l15 9 13 10-15-12z"/>
<path color="#0000a0" d="M3481 1140l15-15-13 18-16 12z"/>
<path color="#02f" d="M4296 1070l17 16 11-6-17-17z"/>
<path color="#0002ff" d="M4258 1074l16 17 11-12-17-20z"/>
<path color="#0000d0" d="M3759 1097l16 3-9-22-17-7z"/>
<path color="#0000a0" d="M4211 1124l15 9 11-22-16-12z"/>
<path color="#00c4ff" d="M3594 957l19 10-12 36-19-4z"/>
<path color="#0043ff" d="M4336 1077l16 11 13-2-17-11z"/>
<path color="#0000a0" d="M3770 1125l15-1-10-24-16-3z"/>
<path color="#000080" d="M4201 1151l15 5 10-23-15-9zm-421 5l15-5-10-27-15 1z"/>
<path color="#0000e1" d="M4247 1092l16 14 11-15-16-17z"/>
<path color="#00a4ff" d="M3565 1020l17-21-12 33-18 15z"/>
<path color="#0000f1" d="M4431 1103l16 3 13 7-16-5z"/>
<path color="#02f" d="M4377 1087l16 5 13 2-17-5z"/>
<path color="#0012ff" d="M4285 1079l16 15 12-8-17-16z"/>
<path color="#0094ff" d="M3689 942l18 54-10-6-20-57z"/>
<path color="#0000b0" d="M4486 1128l15 7 14 10-15-9z"/>
<path color="#03f" d="M4324 1080l16 11 12-3-16-11z"/>
<path color="#0000c0" d="M4237 1111l15 11 11-16-16-14z"/>
<path color="#00c4ff" d="M3636 887l19 65-11 21-20-45z"/>
<path color="#0000c0" d="M3495 1125l14-18-13 18-15 15z"/>
<path color="#0043ff" d="M3536 1071l16-24-13 22-16 20z"/>
<path color="#0000f1" d="M4274 1091l15 14 12-11-16-15z"/>
<path color="#0000a0" d="M4226 1133l15 8 11-19-15-11z"/>
<path color="#0073ff" d="M3700 964l17 45-10-13-18-54z"/>
<path color="#03f" d="M4365 1086l15 5 13 1-16-5z"/>
<path color="#0002ff" d="M4418 1098l15 2 14 6-16-3z"/>
<path color="#000080" d="M4216 1156l13 5 12-20-15-8z"/>
<path color="#0053ff" d="M3711 994l17 34-11-19-17-45z"/>
<path color="#02f" d="M4313 1086l15 10 12-5-16-11z"/>
<path color="#0000c0" d="M4473 1120l14 5 14 10-15-7z"/>
<path color="#03f" d="M3722 1030l16 18-10-20-17-34z"/>
<path color="#0000e1" d="M4263 1106l14 11 12-12-15-14z"/>
<path color="#000080" d="M3766 1161l14-5-10-31-15 0z"/>
<path color="#0012ff" d="M3733 1061l16 10-11-23-16-18z"/>
<path color="#0000e1" d="M3744 1092l15 5-10-26-16-10z"/>
<path color="#0000b0" d="M3755 1125l15 0-11-28-15-5z"/>
<path color="#0043ff" d="M4352 1088l15 4 13-1-15-5z"/>
<path color="#0000c0" d="M4252 1122l14 10 11-15-14-11z"/>
<path color="#0002ff" d="M4301 1094l14 10 13-8-15-10z"/>
<path color="#0000f1" d="M3508 1110l15-21-14 18-14 18z"/>
<path color="#0012ff" d="M4406 1094l14 1 13 5-15-2z"/>
<path color="#06fff9" d="M3607 907l17 21-11 39-19-10zm-30 77l17-27-12 42-17 21z"/>
<path color="#0000e1" d="M4460 1113l14 2 13 10-14-5z"/>
<path color="#0000a0" d="M4241 1141l13 7 12-16-14-10z"/>
<path color="#0073ff" d="M3549 1052l16-32-13 27-16 24z"/>
<path color="#0000f1" d="M4289 1105l14 8 12-9-14-10z"/>
<path color="#000090" d="M4515 1145l13 9 14 13-14-12z"/>
<path color="#000080" d="M4229 1161l13 5 12-18-13-7z"/>
<path color="#03f" d="M4340 1091l14 4 13-3-15-4z"/>
<path color="#00e5ff" d="M3648 849l18 88-11 15-19-65z"/>
<path color="#000090" d="M3468 1154l13-14-14 15-13 12z"/>
<path color="#03f" d="M4393 1092l14-1 13 4-14-1z"/>
<path color="#000080" d="M3753 1166l13-5-11-36-13 2z"/>
<path color="#0000d0" d="M4277 1117l14 8 12-12-14-8z"/>
<path color="#0002ff" d="M4447 1106l13 0 14 9-14-2z"/>
<path color="#0012ff" d="M3522 1095l14-24-13 18-15 21z"/>
<path color="#0000b0" d="M3742 1127l13-2-11-33-14-3z"/>
<path color="#02f" d="M4328 1096l13 5 13-6-14-4z"/>
<path color="#0000c0" d="M4266 1132l13 7 12-14-14-8z"/>
<path color="#0000f1" d="M3730 1089l14 3-11-31-15-8z"/>
<path color="#0000b0" d="M4501 1135l13 7 14 12-13-9z"/>
<path color="#0043ff" d="M4380 1091l13-2 14 2-14 1z"/>
<path color="#0000b0" d="M3482 1141l13-16-14 15-13 14z"/>
<path color="#000090" d="M4254 1148l12 7 13-16-13-7z"/>
<path color="#03f" d="M3718 1053l15 8-11-31-15-24z"/>
<path color="#0012ff" d="M4315 1104l14 4 12-7-13-5z"/>
<path color="#00c4ff" d="M3562 1029l15-45-12 36-16 32z"/>
<path color="#000080" d="M4242 1166l12 6 12-17-12-7z"/>
<path color="#0012ff" d="M4433 1100l13-3 14 9-13 0z"/>
<path color="#00f5ff" d="M3660 832l17 101-11 4-18-88z"/>
<path color="#0063ff" d="M3707 1006l15 24-11-36-16-40z"/>
<path color="#0000f1" d="M4303 1113l13 5 13-10-14-4z"/>
<path color="#0053ff" d="M4367 1092l13-2 13-1-13 2z"/>
<path color="#0043ff" d="M3536 1081l13-29-13 19-14 24z"/>
<path color="#67ff98" d="M3590 944l17-37-13 50-17 27z"/>
<path color="#000080" d="M3742 1172l11-6-11-39-13 4z"/>
<path color="#0000d0" d="M4487 1125l13 4 14 13-13-7z"/>
<path color="#47ffb8" d="M3619 843l17 44-12 41-17-21z"/>
<path color="#0000e1" d="M3496 1129l12-19-13 15-13 16zm795-4l12 5 13-12-13-5z"/>
<path color="#0094ff" d="M3695 954l16 40-11-30-17-63z"/>
<path color="#0000c0" d="M3729 1131l13-4-12-38-13 3z"/>
<path color="#03f" d="M4420 1095l13-6 13 8-13 3z"/>
<path color="#0043ff" d="M4354 1095l13-2 13-3-13 2z"/>
<path color="#00e5ff" d="M3671 854l18 88-12-9-17-101z"/>
<path color="#0000c0" d="M4279 1139l11 5 13-14-12-5z"/>
<path color="#00c4ff" d="M3683 901l17 63-11-22-18-88z"/>
<path color="#0012ff" d="M3717 1092l13-3-12-36-13 0z"/>
<path color="#0000a0" d="M4266 1155l11 5 13-16-11-5z"/>
<path color="#0000f1" d="M4474 1115l12 0 14 14-13-4z"/>
<path color="#03f" d="M4341 1101l13-3 13-5-13 2z"/>
<path color="#000080" d="M4254 1172l11 6 12-18-11-5z"/>
<path color="#0063ff" d="M3549 1068l13-39-13 23-13 29z"/>
<path color="#0002ff" d="M3510 1116l12-21-14 15-12 19z"/>
<path color="#06fff9" d="M3576 1004l14-60-13 40-15 45z"/>
<path color="#0043ff" d="M4407 1091l12-8 14 6-13 6z"/>
<path color="#000090" d="M3457 1168l11-14-14 13-11 12z"/>
<path color="#0000a0" d="M4528 1154l10 10 14 15-10-12z"/>
<path color="#000080" d="M3731 1178l11-6-13-41-11 7z"/>
<path color="#0012ff" d="M4329 1108l11-1 14-9-13 3z"/>
<path color="#0053ff" d="M3705 1053l13 0-11-47-14-8z"/>
<path color="#0012ff" d="M4460 1106l12-4 14 13-12 0z"/>
<path color="#0002ff" d="M4316 1118l11 0 13-11-11 1z"/>
<path color="#0053ff" d="M4393 1089l12-10 14 4-12 8z"/>
<path color="#0000d0" d="M3718 1138l11-7-12-39-12 9z"/>
<path color="#0000b0" d="M3472 1156l10-15-14 13-11 14z"/>
<path color="#02f" d="M3524 1105l12-24-14 14-12 21z"/>
<path color="#0000c0" d="M4514 1142l10 7 14 15-10-10z"/>
<path color="#0000e1" d="M4303 1130l11 1 13-13-11 0z"/>
<path color="#0094ff" d="M3563 1056l13-52-14 25-13 39z"/>
<path color="#d9ff26" d="M3603 903l16-60-12 64-17 37z"/>
<path color="#0000c0" d="M4290 1144l11 3 13-16-11-1z"/>
<path color="#00a4ff" d="M3693 998l14 8-12-52-15-18z"/>
<path color="#02f" d="M3705 1101l12-9-12-39-12 12z"/>
<path color="#0000a0" d="M4277 1160l10 4 14-17-11-3z"/>
<path color="#0073ff" d="M4380 1090l12-12 13 1-12 10z"/>
<path color="#000080" d="M4265 1178l9 6 13-20-10-4z"/>
<path color="#03f" d="M4446 1097l12-8 14 13-12 4z"/>
<path color="#0000d0" d="M3486 1145l10-16-14 12-10 15z"/>
<path color="#57ffa8" d="M3589 982l14-79-13 41-14 60z"/>
<path color="#000080" d="M3721 1184l10-6-13-40-10 11z"/>
<path color="#8f7" d="M3631 748l17 101-12 38-17-44z"/>
<path color="#03f" d="M3538 1095l11-27-13 13-12 24z"/>
<path color="#0000e1" d="M4500 1129l10 4 14 16-10-7z"/>
<path color="#0063ff" d="M4367 1093l11-11 14-4-12 12z"/>
<path color="#0073ff" d="M3693 1065l12-12-12-55-13 20z"/>
<path color="#0000c0" d="M3708 1149l10-11-13-37-10 15z"/>
<path color="#00c4ff" d="M3577 1042l12-60-13 22-13 52z"/>
<path color="#0053ff" d="M4433 1089l11-13 14 13-12 8z"/>
<path color="#0043ff" d="M4354 1098l10-9 14-7-11 11z"/>
<path color="#06fff9" d="M3680 936l15 18-12-53-15-40z"/>
<path color="#0000e1" d="M3500 1134l10-18-14 13-10 16z"/>
<path color="#0053ff" d="M3552 1086l11-30-14 12-11 27z"/>
<path color="#03f" d="M4340 1107l11-7 13-11-10 9z"/>
<path color="#0012ff" d="M3695 1116l10-15-12-36-11 20zm791-1l9 2 15 16-10-4zm-159 3l10-4 14-14-11 7z"/>
<path color="#00d4ff" d="M3680 1018l13-20-13-62-13 31z"/>
<path color="#0000f1" d="M4314 1131l9-1 14-16-10 4z"/>
<path color="#000080" d="M4274 1184l8 6 14-22-9-4z"/>
<path color="#000090" d="M3449 1180l8-12-14 11-9 13z"/>
<path color="#0000d0" d="M4301 1147l9 1 13-18-9 1z"/>
<path color="#0000a0" d="M4287 1164l9 4 14-20-9-1z"/>
<path color="#0073ff" d="M4419 1083l11-20 14 13-11 13z"/>
<path color="#0000a0" d="M4538 1164l8 12 15 16-9-13z"/>
<path color="#0053ff" d="M3682 1085l11-20-13-47-12 36z"/>
<path color="#000080" d="M3713 1190l8-6-13-35-9 11z"/>
<path color="#0002ff" d="M3514 1124l10-19-14 11-10 18z"/>
<path color="#00e5ff" d="M3590 1033l12-67-13 16-12 60z"/>
<path color="#8f7" d="M3602 966l14-102-13 39-14 79z"/>
<path color="#0073ff" d="M3566 1079l11-37-14 14-11 30z"/>
<path color="#03f" d="M4472 1102l9-3 14 18-9-2z"/>
<path color="#0000b0" d="M3699 1160l9-11-13-33-9 16zm-236 8l9-12-15 12-8 12z"/>
<path color="#ff9400" d="M3616 864l15-116-12 95-16 60z"/>
<path color="#47ffb8" d="M3668 861l15 40-12-47-15-98z"/>
<path color="#00a4ff" d="M3668 1054l12-36-13-51-12 52z"/>
<path color="#0094ff" d="M4405 1079l10-28 15 12-11 20z"/>
<path color="#0000c0" d="M4524 1149l8 10 14 17-8-12z"/>
<path color="#02f" d="M3529 1115l9-20-14 10-10 19z"/>
<path color="#0000f1" d="M3686 1132l9-16-13-31-10 22z"/>
<path color="#00f5ff" d="M3604 1031l11-70-13 5-12 67z"/>
<path color="#57ffa8" d="M3667 967l13-31-12-75-14 54z"/>
<path color="#0094ff" d="M3580 1075l10-42-13 9-11 37z"/>
<path color="#03f" d="M3672 1107l10-22-14-31-10 31z"/>
<path color="#0000c0" d="M3478 1157l8-12-14 11-9 12z"/>
<path color="#0063ff" d="M4458 1089l9-10 14 20-9 3z"/>
<path color="#00a4ff" d="M4392 1078l9-31 14 4-10 28z"/>
<path color="#06fff9" d="M3655 1019l12-52-13-52-12 75z"/>
<path color="#0063ff" d="M3658 1085l10-31-13-35-10 47z"/>
<path color="#98ff67" d="M3615 961l14-114-13 17-14 102z"/>
<path color="#03f" d="M3543 1107l9-21-14 9-9 20z"/>
<path color="#000080" d="M4282 1190l7 6 14-24-7-4z"/>
<path color="#00e5ff" d="M3618 1035l11-66-14-8-11 70z"/>
<path color="#000080" d="M3706 1196l7-6-14-30-7 10z"/>
<path color="#98ff67" d="M3643 629l17 203-12 17-17-101z"/>
<path color="#0000f1" d="M4510 1133l7 9 15 17-8-10z"/>
<path color="#0094ff" d="M3645 1066l10-47-13-29-11 57z"/>
<path color="#00a4ff" d="M3594 1074l10-43-14 2-10 42z"/>
<path color="#0000b0" d="M4296 1168l7 4 14-24-7 0z"/>
<path color="#00c4ff" d="M3631 1047l11-57-13-21-11 66z"/>
<path color="#0094ff" d="M4378 1082l9-29 14-6-9 31z"/>
<path color="#0000d0" d="M4310 1148l7 0 14-22-8 4z"/>
<path color="#57ffa8" d="M3642 990l12-75-13-47-12 101z"/>
<path color="#0000e1" d="M3492 1146l8-12-14 11-8 12z"/>
<path color="#0000b0" d="M3692 1170l7-10-13-28-8 14z"/>
<path color="#0002ff" d="M4323 1130l8-4 14-21-8 9z"/>
<path color="#0073ff" d="M4364 1089l9-21 14-15-9 29z"/>
<path color="#8f7" d="M3629 969l12-101-12-21-14 114z"/>
<path color="#03f" d="M4337 1114l8-9 14-19-8 14z"/>
<path color="#0053ff" d="M3557 1101l9-22-14 7-9 21zm794-1l8-14 14-18-9 21z"/>
<path color="#0094ff" d="M3608 1077l10-42-14-4-10 43z"/>
<path color="#0000e1" d="M3678 1146l8-14-14-25-8 19z"/>
<path color="#8f7" d="M3656 756l15 98-11-22-17-203z"/>
<path color="#00a4ff" d="M4444 1076l8-25 15 28-9 10z"/>
<path color="#0012ff" d="M3664 1126l8-19-14-22-8 23z"/>
<path color="#0073ff" d="M3622 1084l9-37-13-12-10 42z"/>
<path color="#02f" d="M4495 1117l8 6 14 19-7-9z"/>
<path color="#03f" d="M3650 1108l8-23-13-19-9 28z"/>
<path color="#c8ff37" d="M3654 915l14-54-12-105-15 112z"/>
<path color="#0053ff" d="M3636 1094l9-28-14-19-9 37z"/>
<path color="#0000f1" d="M3507 1136l7-12-14 10-8 12z"/>
<path color="#0063ff" d="M3572 1098l8-23-14 4-9 22z"/>
<path color="#000090" d="M3443 1191l6-11-15 12-6 13z"/>
<path color="#0000a0" d="M4546 1176l6 13 15 16-6-13z"/>
<path color="#000080" d="M3700 1203l6-7-14-26-6 9z"/>
<path color="#0073ff" d="M3586 1097l8-23-14 1-8 23z"/>
<path color="#000080" d="M4289 1196l6 7 14-27-6-4z"/>
<path color="#0012ff" d="M3521 1127l8-12-15 9-7 12z"/>
<path color="#0053ff" d="M4481 1099l7 4 15 20-8-6z"/>
<path color="#00d4ff" d="M4430 1063l8-45 14 33-8 25z"/>
<path color="#0000a0" d="M3686 1179l6-9-14-24-6 12z"/>
<path color="#0063ff" d="M3600 1099l8-22-14-3-8 23z"/>
<path color="#0000b0" d="M3458 1179l5-11-14 12-6 11z"/>
<path color="#f10000" d="M3629 847l14-218-12 119-15 116z"/>
<path color="#0000b0" d="M4303 1172l6 4 15-27-7-1z"/>
<path color="#0000c0" d="M4532 1159l6 14 14 16-6-13z"/>
<path color="#0000d0" d="M3672 1158l6-12-14-20-7 14z"/>
<path color="#02f" d="M3536 1120l7-13-14 8-8 12z"/>
<path color="#0053ff" d="M3614 1104l8-20-14-7-8 22z"/>
<path color="#0002ff" d="M3657 1140l7-14-14-18-7 17z"/>
<path color="#0000f1" d="M4317 1148l7 1 14-25-7 2z"/>
<path color="#03f" d="M3629 1113l7-19-14-10-8 20z"/>
<path color="#02f" d="M3643 1125l7-17-14-14-7 19z"/>
<path color="#0000c0" d="M3472 1166l6-9-15 11-5 11z"/>
<path color="#ff9400" d="M3641 868l15-112-13-127-14 218z"/>
<path color="#02f" d="M4331 1126l7-2 14-27-7 8z"/>
<path color="#0043ff" d="M3550 1114l7-13-14 6-7 13z"/>
<path color="#0094ff" d="M4467 1079l7-1 14 25-7-4z"/>
<path color="#0000e1" d="M4517 1142l6 14 15 17-6-14z"/>
<path color="#06fff9" d="M4415 1051l9-64 14 31-8 45z"/>
<path color="#0053ff" d="M4345 1105l7-8 15-33-8 22z"/>
<path color="#0000e1" d="M3487 1154l5-8-14 11-6 9z"/>
<path color="#000080" d="M3696 1210l4-7-14-24-5 8z"/>
<path color="#0053ff" d="M3565 1110l7-12-15 3-7 13z"/>
<path color="#000080" d="M4295 1203l5 7 14-29-5-5z"/>
<path color="#0000a0" d="M3681 1187l5-8-14-21-6 8z"/>
<path color="#0063ff" d="M3579 1109l7-12-14 1-7 12z"/>
<path color="#0094ff" d="M4359 1086l8-22 14-39-8 43z"/>
<path color="#0012ff" d="M4503 1123l5 16 15 17-6-14z"/>
<path color="#0000f1" d="M3502 1143l5-7-15 10-5 8z"/>
<path color="#0000b0" d="M4309 1176l5 5 15-27-5-5z"/>
<path color="#26ffd9" d="M4401 1047l9-75 14 15-9 64z"/>
<path color="#0000d0" d="M3666 1166l6-8-15-18-5 9z"/>
<path color="#0053ff" d="M3594 1111l6-12-14-2-7 12z"/>
<path color="#00e5ff" d="M4452 1051l7-12 15 39-7 1z"/>
<path color="#00d4ff" d="M4373 1068l8-43 14-36-8 64z"/>
<path color="#0000f1" d="M3652 1149l5-9-14-15-6 9z"/>
<path color="#0043ff" d="M3608 1115l6-11-14-5-6 12z"/>
<path color="#0012ff" d="M3637 1134l6-9-14-12-6 10z"/>
<path color="#02f" d="M3623 1123l6-10-15-9-6 11z"/>
<path color="#16ffe9" d="M4387 1053l8-64 15-17-9 75z"/>
<path color="#0012ff" d="M3516 1133l5-6-14 9-5 7z"/>
<path color="#0000f1" d="M4324 1149l5 5 14-27-5-3z"/>
<path color="#000090" d="M3439 1202l4-11-15 14-4 12zm1113-13l4 14 15 14-4-12z"/>
<path color="#03f" d="M4488 1103l6 17 14 19-5-16z"/>
<path color="#02f" d="M3531 1124l5-4-15 7-5 6z"/>
<path color="#000080" d="M3692 1216l4-6-15-23-3 5z"/>
<path color="#03f" d="M4338 1124l5 3 15-29-6-1z"/>
<path color="#000080" d="M4300 1210l3 6 15-26-4-9z"/>
<path color="#0000b0" d="M3454 1186l4-7-15 12-4 11zm1084-13l3 16 15 14-4-14z"/>
<path color="#03f" d="M3546 1117l4-3-14 6-5 4z"/>
<path color="#0000a0" d="M3678 1192l3-5-15-21-3 5z"/>
<path color="#0063ff" d="M4474 1078l5 22 15 20-6-17z"/>
<path color="#47ffb8" d="M4438 1018l7-31 14 52-7 12z"/>
<path color="#0000b0" d="M4314 1181l4 9 14-26-3-10z"/>
<path color="#0000c0" d="M3469 1171l3-5-14 13-4 7z"/>
<path color="#0053ff" d="M3560 1113l5-3-15 4-4 3z"/>
<path color="#0000d0" d="M4523 1156l3 18 15 15-3-16z"/>
<path color="#0073ff" d="M4352 1097l6 1 14-45-5 11z"/>
<path color="#0000d0" d="M3663 1171l3-5-14-17-4 4z"/>
<path color="#0063ff" d="M3575 1111l4-2-14 1-5 3z"/>
<path color="#0000f1" d="M3648 1153l4-4-15-15-3 3z"/>
<path color="#0000e1" d="M3484 1157l3-3-15 12-3 5z"/>
<path color="#0053ff" d="M3590 1113l4-2-15-2-4 2z"/>
<path color="#0000f1" d="M4329 1154l3 10 15-25-4-12z"/>
<path color="#0012ff" d="M3634 1137l3-3-14-11-4 3z"/>
<path color="#0000f1" d="M4508 1139l4 21 14 14-3-18z"/>
<path color="#0043ff" d="M3604 1117l4-2-14-4-4 2z"/>
<path color="#02f" d="M3619 1126l4-3-15-8-4 2z"/>
<path color="#00a4ff" d="M4459 1039l5 32 15 29-5-22z"/>
<path color="#000080" d="M4303 1216l2 7 15-24-2-9zm-613 7l2-7-14-24-3 4z"/>
<path color="#0002ff" d="M3498 1143l4 0-15 11-3 3z"/>
<path color="#00d4ff" d="M4367 1064l5-11 15-57-6 29z"/>
<path color="#02f" d="M4343 1127l4 12 15-26-4-15z"/>
<path color="#0012ff" d="M4494 1120l3 25 15 15-4-21zm-981 10l3 3-14 10-4 0z"/>
<path color="#0000a0" d="M3675 1196l3-4-15-21-2 1z"/>
<path color="#0000b0" d="M4318 1190l2 9 14-22-2-13z"/>
<path color="#d9ff26" d="M4424 987l6-81 15 81-7 31z"/>
<path color="#000090" d="M4556 1203l1 15 15 12-1-13zm-1118 8l1-9-15 15-1 13z"/>
<path color="#03f" d="M4479 1100l3 30 15 15-3-25z"/>
<path color="#0053ff" d="M4358 1098l4 15 14-33-4-27z"/>
<path color="#03f" d="M3528 1119l3 5-15 9-3-3z"/>
<path color="#0000d0" d="M3661 1172l2-1-15-18-2-2z"/>
<path color="#0000e1" d="M4332 1164l2 13 15-21-2-17z"/>
<path color="#0000b0" d="M4541 1189l1 17 15 12-1-15z"/>
<path color="#00d4ff" d="M4445 987l5 50 14 34-5-32z"/>
<path color="#0043ff" d="M3543 1111l3 6-15 7-3-5z"/>
<path color="#0000b0" d="M3453 1192l1-6-15 16-1 9z"/>
<path color="#47ffb8" d="M4381 1025l6-29 14-86-6 79z"/>
<path color="#0000f1" d="M3646 1151l2 2-14-16-3-4z"/>
<path color="#000080" d="M4305 1223l1 7 14-20 0-11zm-616 7l1-7-15-27 0 3z"/>
<path color="#0000c0" d="M4526 1174l1 19 15 13-1-17z"/>
<path color="#0053ff" d="M4464 1071l3 45 15 14-3-30zm-907 33l3 9-14 4-3-6z"/>
<path color="#0002ff" d="M4347 1139l2 17 15-19-2-24z"/>
<path color="#0012ff" d="M3631 1133l3 4-15-11-3-6z"/>
<path color="#0000d0" d="M3468 1173l1-2-15 15-1 6z"/>
<path color="#0063ff" d="M3572 1100l3 11-15 2-3-9z"/>
<path color="#03f" d="M3616 1120l3 6-15-9-2-7z"/>
<path color="#0094ff" d="M4372 1053l4 27 15-39-4-45z"/>
<path color="#0000e1" d="M4512 1160l1 21 14 12-1-19z"/>
<path color="#0053ff" d="M3587 1102l3 11-15-2-3-11z"/>
<path color="#0043ff" d="M3602 1110l2 7-14-4-3-11z"/>
<path color="#0000a0" d="M4320 1199l0 11 15-19-1-14z"/>
<path color="#03f" d="M4362 1113l2 24 15-18-3-39z"/>
<path color="#0000a0" d="M3675 1199l0-3-14-24-1-2z"/>
<path color="#0073ff" d="M4450 1037l3 64 14 15-3-45z"/>
<path color="#0000f1" d="M3482 1155l2 2-15 14-1 2z"/>
<path color="#0002ff" d="M4497 1145l1 25 15 11-1-21z"/>
<path color="#0000d0" d="M4334 1177l1 14 15-16-1-19z"/>
<path color="#ff9400" d="M4410 972l6-180 14 114-6 81z"/>
<path color="#0012ff" d="M4482 1130l1 29 15 11-1-25z"/>
<path color="#06fff9" d="M4430 906l5 100 15 31-5-50z"/>
<path color="#0053ff" d="M4376 1080l3 39 14-18-2-60z"/>
<path color="#0012ff" d="M3497 1137l1 6-14 14-2-2z"/>
<path color="#c8ff37" d="M4395 989l6-79 15-118-6 180z"/>
<path color="#000080" d="M4306 1230l-1 7 15-17 0-10z"/>
<path color="#0000d0" d="M3660 1170l1 2-15-21-1-6z"/>
<path color="#0000f1" d="M4349 1156l1 19 15-15-1-23z"/>
<path color="#0094ff" d="M4435 1006l3 82 15 13-3-64z"/>
<path color="#000080" d="M3690 1237l-1-7-14-31 0 1z"/>
<path color="#03f" d="M4467 1116l1 33 15 10-1-29z"/>
<path color="#00d4ff" d="M4387 996l4 45 15-35-5-96z"/>
<path color="#02f" d="M3512 1120l1 10-15 13-1-6z"/>
<path color="#0012ff" d="M4364 1137l1 23 14-12 0-29z"/>
<path color="#000090" d="M4557 1218l-1 14 15 11 1-13z"/>
<path color="#0073ff" d="M4391 1041l2 60 15-14-2-81z"/>
<path color="#0000a0" d="M4320 1210l0 10 14-16 1-13z"/>
<path color="#0002ff" d="M3645 1145l1 6-15-18-1-11z"/>
<path color="#0000a0" d="M3439 1220l-1-9-15 19 1 13z"/>
<path color="#0043ff" d="M4453 1101l0 39 15 9-1-33z"/>
<path color="#0000a0" d="M4542 1206l-1 15 15 11 1-14z"/>
<path color="#00a4ff" d="M4420 990l3 93 15 5-3-82z"/>
<path color="#03f" d="M4379 1119l0 29 15-9-1-38z"/>
<path color="#0043ff" d="M3527 1100l1 19-15 11-1-10z"/>
<path color="#0094ff" d="M4406 1006l2 81 15-4-3-93z"/>
<path color="#0053ff" d="M4438 1088l1 47 14 5 0-39z"/>
<path color="#0000c0" d="M4335 1191l-1 13 15-13 1-16zm192 2l-1 18 15 10 1-15z"/>
<path color="#02f" d="M3630 1122l1 11-15-13 0-21z"/>
<path color="#0043ff" d="M4393 1101l1 38 15-5-1-47z"/>
<path color="#0000b0" d="M3675 1200l0-1-15-29 1-4z"/>
<path color="#0000c0" d="M3454 1196l-1-4-15 19 1 9z"/>
<path color="#0073ff" d="M4423 1083l1 49 15 3-1-47z"/>
<path color="#0063ff" d="M4408 1087l1 47 15-2-1-49z"/>
<path color="#0053ff" d="M3542 1083l1 28-15 8-1-19z"/>
<path color="#0000d0" d="M4513 1181l-2 20 15 10 1-18z"/>
<path color="#000080" d="M4305 1237l-2 7 14-16 3-8z"/>
<path color="#0000e1" d="M4350 1175l-1 16 15-12 1-19z"/>
<path color="#0043ff" d="M3616 1099l0 21-14-10-1-30z"/>
<path color="#0000f1" d="M4498 1170l-1 21 14 10 2-20z"/>
<path color="#0073ff" d="M3556 1071l1 33-14 7-1-28z"/>
<path color="#0000e1" d="M3469 1173l-1 0-15 19 1 4z"/>
<path color="#000080" d="M3692 1244l-2-7-15-37 2 3z"/>
<path color="#26ffd9" d="M4416 792l4 198 15 16-5-100z"/>
<path color="#0063ff" d="M3601 1080l1 30-15-8-1-33z"/>
<path color="#0002ff" d="M4365 1160l-1 19 15-8 0-23zm118-1l-1 23 15 9 1-21z"/>
<path color="#0084ff" d="M3571 1066l1 34-15 4-1-33z"/>
<path color="#16ffe9" d="M4401 910l5 96 14-16-4-198z"/>
<path color="#0073ff" d="M3586 1069l1 33-15-2-1-34z"/>
<path color="#0000a0" d="M4320 1220l-3 8 15-13 2-11z"/>
<path color="#0000e1" d="M3661 1166l-1 4-15-25 1-10z"/>
<path color="#0012ff" d="M4468 1149l-1 25 15 8 1-23z"/>
<path color="#02f" d="M4379 1148l0 23 14-7 1-25z"/>
<path color="#03f" d="M4453 1140l-1 28 15 6 1-25z"/>
<path color="#0002ff" d="M3483 1149l-1 6-14 18 1 0z"/>
<path color="#03f" d="M4394 1139l-1 25 15-3 1-27z"/>
<path color="#0043ff" d="M4439 1135l-1 28 14 5 1-28zm-30-1l-1 27 15 0 1-29z"/>
<path color="#0053ff" d="M4424 1132l-1 29 15 2 1-28z"/>
<path color="#0000c0" d="M4334 1204l-2 11 15-12 2-12z"/>
<path color="#02f" d="M3498 1124l-1 13-15 18 1-6z"/>
<path color="#0012ff" d="M3646 1135l-1 10-15-23 1-24z"/>
<path color="#000080" d="M4303 1244l-4 7 15-15 3-8z"/>
<path color="#0000c0" d="M3677 1203l-2-3-14-34 2-2z"/>
<path color="#0000e1" d="M4349 1191l-2 12 14-9 3-15z"/>
<path color="#000090" d="M4556 1232l-4 14 15 10 4-13z"/>
<path color="#000080" d="M3695 1251l-3-7-15-41 4 5z"/>
<path color="#0000a0" d="M4541 1221l-4 15 15 10 4-14z"/>
<path color="#0000f1" d="M4364 1179l-3 15 15-7 3-16z"/>
<path color="#0000a0" d="M3443 1229l-4-9-15 23 4 13z"/>
<path color="#0043ff" d="M3513 1092l-1 28-15 17 1-13z"/>
<path color="#0000c0" d="M4526 1211l-3 15 14 10 4-15z"/>
<path color="#0000a0" d="M4317 1228l-3 8 15-13 3-8z"/>
<path color="#0012ff" d="M4379 1171l-3 16 15-5 2-18z"/>
<path color="#0000d0" d="M4511 1201l-3 15 15 10 3-15z"/>
<path color="#0043ff" d="M3631 1098l-1 24-14-23 0-38z"/>
<path color="#0000e1" d="M4497 1191l-4 16 15 9 3-15z"/>
<path color="#02f" d="M4393 1164l-2 18 14-2 3-19z"/>
<path color="#0002ff" d="M4482 1182l-3 17 14 8 4-16z"/>
<path color="#0000d0" d="M3457 1201l-3-5-15 24 4 9z"/>
<path color="#03f" d="M4408 1161l-3 19 15 0 3-19z"/>
<path color="#0012ff" d="M4467 1174l-3 18 15 7 3-17z"/>
<path color="#0000c0" d="M4332 1215l-3 8 14-11 4-9z"/>
<path color="#0002ff" d="M3663 1164l-2 2-15-31 2-11z"/>
<path color="#0073ff" d="M3528 1061l-1 39-15 20 1-28z"/>
<path color="#02f" d="M4452 1168l-3 18 15 6 3-18z"/>
<path color="#0043ff" d="M4423 1161l-3 19 15 2 3-19z"/>
<path color="#03f" d="M4438 1163l-3 19 14 4 3-18z"/>
<path color="#000080" d="M4299 1251l-4 6 14-15 5-6z"/>
<path color="#0002ff" d="M3472 1174l-3-1-15 23 3 5z"/>
<path color="#0000e1" d="M4347 1203l-4 9 15-9 3-9z"/>
<path color="#0073ff" d="M3616 1061l0 38-15-19 1-49z"/>
<path color="#0000d0" d="M3681 1208l-4-5-14-39 3 4z"/>
<path color="#0094ff" d="M3542 1034l0 49-15 17 1-39z"/>
<path color="#000080" d="M3700 1257l-5-6-14-43 5 9z"/>
<path color="#0000f1" d="M4361 1194l-3 9 14-7 4-9z"/>
<path color="#0000a0" d="M4314 1236l-5 6 14-14 6-5z"/>
<path color="#02f" d="M3487 1145l-4 4-14 24 3 1z"/>
<path color="#0094ff" d="M3602 1031l-1 49-15-11 1-58z"/>
<path color="#00a4ff" d="M3557 1014l-1 57-14 12 0-49z"/>
<path color="#0043ff" d="M3648 1124l-2 11-15-37 2-27z"/>
<path color="#0012ff" d="M4376 1187l-4 9 15-4 4-10z"/>
<path color="#00b4ff" d="M3587 1011l-1 58-15-3 1-61z"/>
<path color="#00c4ff" d="M3572 1005l-1 61-15 5 1-57z"/>
<path color="#02f" d="M4391 1182l-4 10 14-2 4-10z"/>
<path color="#0000c0" d="M4329 1223l-6 5 15-12 5-4z"/>
<path color="#000090" d="M4552 1246l-6 12 15 10 6-12z"/>
<path color="#03f" d="M4405 1180l-4 10 15 1 4-11z"/>
<path color="#0053ff" d="M3501 1105l-3 19-15 25 4-4z"/>
<path color="#000080" d="M4295 1257l-6 7 14-18 6-4z"/>
<path color="#0000a0" d="M4537 1236l-5 12 14 10 6-12z"/>
<path color="#0000b0" d="M4523 1226l-6 12 15 10 5-12z"/>
<path color="#02f" d="M3666 1168l-3-4-15-40 4-2z"/>
<path color="#0043ff" d="M4420 1180l-4 11 14 3 5-12z"/>
<path color="#0000d0" d="M4508 1216l-5 13 14 9 6-12z"/>
<path color="#0000b0" d="M3449 1240l-6-11-15 27 6 12z"/>
<path color="#03f" d="M4435 1182l-5 12 15 4 4-12z"/>
<path color="#0000e1" d="M4493 1207l-5 12 15 10 5-13z"/>
<path color="#0000f1" d="M4479 1199l-5 12 14 8 5-12z"/>
<path color="#02f" d="M4449 1186l-4 12 14 6 5-12z"/>
<path color="#0012ff" d="M4464 1192l-5 12 15 7 5-12z"/>
<path color="#000080" d="M3706 1264l-6-7-14-40 6 11z"/>
<path color="#0000d0" d="M3686 1217l-5-9-15-40 5 11z"/>
<path color="#0000e1" d="M4343 1212l-5 4 14-9 6-4zm-880-1l-6-10-14 28 6 11z"/>
<path color="#0000a0" d="M4309 1242l-6 4 14-16 6-2z"/>
<path color="#0084ff" d="M3633 1071l-2 27-15-37 3-43zm-117-10l-3 31-15 32 3-19z"/>
<path color="#0002ff" d="M4358 1203l-6 4 14-7 6-4z"/>
<path color="#0012ff" d="M4372 1196l-6 4 15-4 6-4z"/>
<path color="#02f" d="M3478 1181l-6-7-15 27 6 10z"/>
<path color="#000080" d="M4289 1264l-7 6 14-21 7-3z"/>
<path color="#0000c0" d="M4323 1228l-6 2 14-13 7-1z"/>
<path color="#000080" d="M3713 1270l-7-6-14-36 7 12z"/>
<path color="#02f" d="M4387 1192l-6 4 14-2 6-4z"/>
<path color="#0000d0" d="M3692 1228l-6-11-15-38 7 16z"/>
<path color="#0073ff" d="M3652 1122l-4 2-15-53 4-8z"/>
<path color="#03f" d="M3671 1179l-5-11-14-46 5 17z"/>
<path color="#00c4ff" d="M3531 1014l-3 47-15 31 3-31z"/>
<path color="#03f" d="M4401 1190l-6 4 14 1 7-4z"/>
<path color="#0053ff" d="M3492 1149l-5-4-15 29 6 7z"/>
<path color="#00c4ff" d="M3619 1018l-3 43-14-30 2-67z"/>
<path color="#0053ff" d="M4416 1191l-7 4 14 3 7-4z"/>
<path color="#0000f1" d="M4338 1216l-7 1 14-12 7 2z"/>
<path color="#03f" d="M4430 1194l-7 4 15 5 7-5z"/>
<path color="#0000a0" d="M4303 1246l-7 3 13-19 8 0z"/>
<path color="#02f" d="M4445 1198l-7 5 14 6 7-5z"/>
<path color="#0012ff" d="M4459 1204l-7 5 14 9 8-7z"/>
<path color="#000090" d="M4546 1258l-8 12 14 11 9-13z"/>
<path color="#0000a0" d="M4532 1248l-9 10 15 12 8-12z"/>
<path color="#0002ff" d="M4474 1211l-8 7 15 9 7-8z"/>
<path color="#0000c0" d="M4517 1238l-8 9 14 11 9-10z"/>
<path color="#0000d0" d="M4503 1229l-8 8 14 10 8-9z"/>
<path color="#0000e1" d="M4488 1219l-7 8 14 10 8-8z"/>
<path color="#00e5ff" d="M3545 964l-3 70-14 27 3-47z"/>
<path color="#0002ff" d="M4352 1207l-7-2 14-8 7 3z"/>
<path color="#0000b0" d="M3457 1253l-8-13-15 28 9 13z"/>
<path color="#00a4ff" d="M3507 1102l-6 3-14 40 5 4z"/>
<path color="#000080" d="M4282 1270l-8 7 13-25 9-3zm-561 7l-8-7-14-30 9 11z"/>
<path color="#0000c0" d="M3699 1240l-7-12-14-33 7 18z"/>
<path color="#02f" d="M3678 1195l-7-16-14-40 7 25z"/>
<path color="#0000d0" d="M4317 1230l-8 0 14-17 8 4z"/>
<path color="#0000f1" d="M3471 1225l-8-14-14 29 8 13z"/>
<path color="#02f" d="M4366 1200l-7-3 14-6 8 5z"/>
<path color="#00f5ff" d="M3604 964l-2 67-15-20 2-94z"/>
<path color="#0094ff" d="M3657 1139l-5-17-15-59 6 24z"/>
<path color="#00d4ff" d="M3637 1063l-4 8-14-53 4-19z"/>
<path color="#06fff9" d="M3560 919l-3 95-15 20 3-70z"/>
<path color="#03f" d="M4381 1196l-8-5 14-2 8 5zm-896 1l-7-16-15 30 8 14z"/>
<path color="#00f5ff" d="M3521 1051l-5 10-15 44 6-3z"/>
<path color="#0000b0" d="M4296 1249l-9 3 13-23 9 1z"/>
<path color="#0002ff" d="M4331 1217l-8-4 14-14 8 6z"/>
<path color="#16ffe9" d="M3589 917l-2 94-15-6 3-107z"/>
<path color="#0053ff" d="M4395 1194l-8-5 14 1 8 5z"/>
<path color="#0002ff" d="M3685 1213l-7-18-14-31 8 25z"/>
<path color="#26ffd9" d="M3575 898l-3 107-15 9 3-95z"/>
<path color="#0000b0" d="M3708 1251l-9-11-14-27 9 15z"/>
<path color="#000080" d="M3730 1283l-9-6-13-26 10 9zm544-6l-10 6 13-28 10-3z"/>
<path color="#0073ff" d="M3500 1167l-8-18-14 32 7 16z"/>
<path color="#0063ff" d="M4409 1195l-8-5 14 3 8 5z"/>
<path color="#0073ff" d="M3664 1164l-7-25-14-52 7 41z"/>
<path color="#0043ff" d="M4423 1198l-8-5 14 7 9 3z"/>
<path color="#03f" d="M4438 1203l-9-3 14 8 9 1z"/>
<path color="#02f" d="M4345 1205l-8-6 13-12 9 10zm107 4l-9-1 14 10 9 0z"/>
<path color="#0012ff" d="M4466 1218l-9 0 14 11 10-2z"/>
<path color="#0000e1" d="M4309 1230l-9-1 13-22 10 6z"/>
<path color="#0000f1" d="M4481 1227l-10 2 14 12 10-4z"/>
<path color="#37ffc8" d="M3536 991l-5 23-15 47 5-10z"/>
<path color="#0000e1" d="M4495 1237l-10 4 14 13 10-7z"/>
<path color="#0000c0" d="M4509 1247l-10 7 14 13 10-9z"/>
<path color="#0000a0" d="M4523 1258l-10 9 14 13 11-10z"/>
<path color="#000090" d="M4538 1270l-11 10 14 13 11-12z"/>
<path color="#00d4ff" d="M3514 1126l-7-24-15 47 8 18z"/>
<path color="#16ffe9" d="M3643 1087l-6-24-14-64 5 34z"/>
<path color="#0000f1" d="M3694 1228l-9-15-13-24 9 20z"/>
<path color="#0000b0" d="M3467 1268l-10-15-14 28 10 12z"/>
<path color="#0043ff" d="M3672 1189l-8-25-14-36 8 40z"/>
<path color="#37ffc8" d="M3623 999l-4 19-15-54 4-43z"/>
<path color="#0000b0" d="M3718 1260l-10-9-14-23 11 12z"/>
<path color="#000080" d="M3741 1289l-11-6-12-23 11 7z"/>
<path color="#0043ff" d="M4359 1197l-9-10 14-9 9 13z"/>
<path color="#0000c0" d="M4287 1252l-10 3 13-27 10 1z"/>
<path color="#000080" d="M4264 1283l-11 6 13-30 11-4z"/>
<path color="#0000e1" d="M3481 1243l-10-18-14 28 10 15z"/>
<path color="#0012ff" d="M4323 1213l-10-6 14-20 10 12z"/>
<path color="#00d4ff" d="M3650 1128l-7-41-15-54 8 59z"/>
<path color="#0053ff" d="M4373 1191l-9-13 13-4 10 15z"/>
<path color="#02f" d="M3495 1218l-10-21-14 28 10 18z"/>
<path color="#37ffc8" d="M3528 1081l-7-30-14 51 7 24z"/>
<path color="#02f" d="M3681 1209l-9-20-14-21 10 25z"/>
<path color="#8f7" d="M3550 918l-5 46-14 50 5-23z"/>
<path color="#0053ff" d="M3509 1193l-9-26-15 30 10 21z"/>
<path color="#0073ff" d="M4387 1189l-10-15 14 0 10 16z"/>
<path color="#0000e1" d="M3705 1240l-11-12-13-19 11 15z"/>
<path color="#0084ff" d="M3658 1168l-8-40-14-36 8 53z"/>
<path color="#0000a0" d="M3729 1267l-11-7-13-20 11 8z"/>
<path color="#000080" d="M3753 1294l-12-5-12-22 12 4z"/>
<path color="#0002ff" d="M4300 1229l-10-1 12-26 11 5z"/>
<path color="#000080" d="M4253 1289l-11 5 11-28 13-7z"/>
<path color="#0084ff" d="M4401 1190l-10-16 14 5 10 14z"/>
<path color="#0000c0" d="M4277 1255l-11 4 12-28 12-3z"/>
<path color="#0043ff" d="M4337 1199l-10-12 13-21 10 21z"/>
<path color="#00a4ff" d="M3523 1166l-9-40-14 41 9 26z"/>
<path color="#0073ff" d="M4415 1193l-10-14 13 9 11 12z"/>
<path color="#8f7" d="M3628 1033l-5-34-15-78 6 59z"/>
<path color="#a8ff57" d="M3543 1033l-7-42-15 60 7 30z"/>
<path color="#0053ff" d="M4429 1200l-11-12 14 11 11 9z"/>
<path color="#0043ff" d="M3668 1193l-10-25-14-23 11 36zm775 15l-11-9 14 13 11 6z"/>
<path color="#02f" d="M4457 1218l-11-6 13 15 12 2z"/>
<path color="#0002ff" d="M3692 1224l-11-15-13-16 11 18z"/>
<path color="#8f7" d="M3608 921l-4 43-15-47 5-101z"/>
<path color="#0002ff" d="M4471 1229l-12-2 14 15 12-1z"/>
<path color="#37ffc8" d="M3636 1092l-8-59-14-53 8 83z"/>
<path color="#0000f1" d="M4485 1241l-12 1 14 16 12-4z"/>
<path color="#0000d0" d="M4499 1254l-12 4 13 15 13-6z"/>
<path color="#0000b0" d="M4513 1267l-13 6 14 16 13-9z"/>
<path color="#00f5ff" d="M3537 1133l-9-52-14 45 9 40z"/>
<path color="#000090" d="M4527 1280l-13 9 14 16 13-12z"/>
<path color="#00c4ff" d="M3644 1145l-8-53-14-29 9 64z"/>
<path color="#0000a0" d="M3480 1284l-13-16-14 25 14 12z"/>
<path color="#0000d0" d="M3716 1248l-11-8-13-16 12 9z"/>
<path color="#000080" d="M3766 1299l-13-5-12-23 13 3z"/>
<path color="#0073ff" d="M4350 1187l-10-21 13-21 11 33z"/>
<path color="#000080" d="M4242 1294l-13 5 11-24 13-9z"/>
<path color="#0000a0" d="M3741 1271l-12-4-13-19 13 4z"/>
<path color="#03f" d="M4313 1207l-11-5 13-29 12 14z"/>
<path color="#0000d0" d="M3494 1262l-13-19-14 25 13 16z"/>
<path color="#b8ff47" d="M3565 816l-5 103-15 45 5-46z"/>
<path color="#0002ff" d="M3508 1241l-13-23-14 25 13 19z"/>
<path color="#0000c0" d="M4266 1259l-13 7 12-26 13-9z"/>
<path color="#0073ff" d="M3655 1181l-11-36-13-18 10 45z"/>
<path color="#0002ff" d="M4290 1228l-12 3 12-28 12-1z"/>
<path color="#37ffc8" d="M3551 1100l-8-67-15 48 9 52z"/>
<path color="#02f" d="M3679 1211l-11-18-13-12 11 21zm-158 9l-12-27-14 25 13 23z"/>
<path color="#ffe500" d="M3557 983l-7-65-14 73 7 42z"/>
<path color="#00f5ff" d="M3631 1127l-9-64-14-19 9 74z"/>
<path color="#0053ff" d="M3535 1200l-12-34-14 27 12 27z"/>
<path color="#0094ff" d="M4364 1178l-11-33 13-14 11 43z"/>
<path color="#0000f1" d="M3704 1233l-12-9-13-13 13 10z"/>
<path color="#8f7" d="M3622 1063l-8-83-14-46 8 110z"/>
<path color="#0084ff" d="M3549 1181l-12-48-14 33 12 34z"/>
<path color="#000080" d="M4229 1299l-14 6 10-21 15-9z"/>
<path color="#0094ff" d="M3641 1172l-10-45-14-9 11 49z"/>
<path color="#000080" d="M3779 1305l-13-6-12-25 15 0z"/>
<path color="#0000d0" d="M3729 1252l-13-4-12-15 14 2z"/>
<path color="#8f7" d="M3565 1071l-8-88-14 50 8 67z"/>
<path color="#0043ff" d="M3666 1202l-11-21-14-9 13 24z"/>
<path color="#00c4ff" d="M3562 1158l-11-58-14 33 12 48z"/>
<path color="#0000a0" d="M3754 1274l-13-3-12-19 14-1z"/>
<path color="#0073ff" d="M4327 1187l-12-14 13-40 12 33z"/>
<path color="#16ffe9" d="M3617 1118l-9-74-14-4 9 77z"/>
<path color="#00b4ff" d="M4377 1174l-11-43 14-3 11 46z"/>
<path color="#0000b0" d="M4253 1266l-13 9 11-23 14-12z"/>
<path color="#fff500" d="M3614 980l-6-59-14-105 6 118z"/>
<path color="#00e5ff" d="M3576 1138l-11-67-14 29 11 58z"/>
<path color="#00b4ff" d="M3628 1167l-11-49-14-1 12 50z"/>
<path color="#26ffd9" d="M3603 1117l-9-77-14 10 10 74z"/>
<path color="#0002ff" d="M4278 1231l-13 9 12-26 13-11z"/>
<path color="#16ffe9" d="M3590 1124l-10-74-15 21 11 67z"/>
<path color="#0012ff" d="M3692 1221l-13-10-13-9 14 10z"/>
<path color="#b8ff47" d="M3594 816l-5 101-14-19 4-203z"/>
<path color="#00c4ff" d="M4391 1174l-11-46 13 9 12 42z"/>
<path color="#0053ff" d="M4302 1202l-12 1 12-36 13 6z"/>
<path color="#b8ff47" d="M3580 1050l-9-112-14 45 8 88z"/>
<path color="#c8ff37" d="M3608 1044l-8-110-15-19 9 125z"/>
<path color="#d9ff26" d="M3579 695l-4 203-15 21 5-103z"/>
<path color="#0063ff" d="M3654 1196l-13-24-13-5 13 27z"/>
<path color="#000080" d="M4215 1305l-15 4 10-17 15-8z"/>
<path color="#00b4ff" d="M4405 1179l-12-42 13 18 12 33z"/>
<path color="#00c4ff" d="M3615 1167l-12-50-13 7 12 50z"/>
<path color="#0094ff" d="M4418 1188l-12-33 13 23 13 21z"/>
<path color="#0073ff" d="M4432 1199l-13-21 14 22 13 12z"/>
<path color="#0043ff" d="M4446 1212l-13-12 13 20 13 7z"/>
<path color="#02f" d="M4459 1227l-13-7 13 20 14 2z"/>
<path color="#0002ff" d="M4473 1242l-14-2 13 19 15-1z"/>
<path color="#0000e1" d="M4487 1258l-15 1 14 20 14-6z"/>
<path color="#0000c0" d="M4500 1273l-14 6 13 19 15-9z"/>
<path color="#000090" d="M4514 1289l-15 9 13 19 16-12z"/>
<path color="#d9ff26" d="M3594 1040l-9-125-14 23 9 112z"/>
<path color="#000080" d="M3794 1309l-15-4-10-31 15-1z"/>
<path color="#0000a0" d="M3495 1298l-15-14-13 21 15 12z"/>
<path color="#ff5300" d="M3571 938l-6-122-15 102 7 65z"/>
<path color="#0000f1" d="M3718 1235l-14-2-12-12 14 1z"/>
<path color="#0000c0" d="M3509 1279l-15-17-14 22 15 14z"/>
<path color="#00b4ff" d="M3602 1174l-12-50-14 14 12 47z"/>
<path color="#0000e1" d="M3522 1261l-14-20-14 21 15 17z"/>
<path color="#0002ff" d="M3535 1243l-14-23-13 21 14 20z"/>
<path color="#0094ff" d="M3588 1185l-12-47-14 20 13 39z"/>
<path color="#03f" d="M3548 1226l-13-26-14 20 14 23z"/>
<path color="#0053ff" d="M3562 1211l-13-30-14 19 13 26z"/>
<path color="#0073ff" d="M3575 1197l-13-39-13 23 13 30z"/>
<path color="#0000a0" d="M4240 1275l-15 9 11-19 15-13z"/>
<path color="#0073ff" d="M3641 1194l-13-27-13 0 13 29z"/>
<path color="#03f" d="M3680 1212l-14-10-12-6 13 11z"/>
<path color="#0000d0" d="M3743 1251l-14 1-11-17 14-4z"/>
<path color="#0000b0" d="M3769 1274l-15 0-11-23 15-5z"/>
<path color="#00c4ff" d="M4340 1166l-12-33 13-41 12 53z"/>
<path color="#0000e1" d="M4265 1240l-14 12 11-21 15-17z"/>
<path color="#000080" d="M4200 1309l-15 5 9-16 16-6z"/>
<path color="#0084ff" d="M3628 1196l-13-29-13 7 13 27z"/>
<path color="#03f" d="M4290 1203l-13 11 11-29 14-18z"/>
<path color="#0012ff" d="M3706 1222l-14-1-12-9 14 1z"/>
<path color="#000080" d="M3810 1314l-16-5-10-36 17-1z"/>
<path color="#0053ff" d="M3667 1207l-13-11-13-2 14 12z"/>
<path color="#0000a0" d="M4225 1284l-15 8 10-15 16-12z"/>
<path color="#0073ff" d="M3615 1201l-13-27-14 11 14 24z"/>
<path color="#00a4ff" d="M4315 1173l-13-6 13-49 13 15z"/>
<path color="#0063ff" d="M3602 1209l-14-24-13 12 14 22z"/>
<path color="#ff5300" d="M3600 934l-6-118-15-121 6 220z"/>
<path color="#0000d0" d="M4251 1252l-15 13 10-16 16-18z"/>
<path color="#0002ff" d="M3732 1231l-14 4-12-13 15-6z"/>
<path color="#000080" d="M4185 1314l-17 4 8-16 18-4z"/>
<path color="#0043ff" d="M3589 1219l-14-22-13 14 15 21z"/>
<path color="#0063ff" d="M3655 1206l-14-12-13 2 15 12z"/>
<path color="#0000b0" d="M3784 1273l-15 1-11-28 16-7z"/>
<path color="#a00000" d="M3585 915l-6-220-14 121 6 122z"/>
<path color="#03f" d="M3577 1232l-15-21-14 15 16 20z"/>
<path color="#16ffe9" d="M4353 1145l-12-53 13-36 12 75z"/>
<path color="#0000e1" d="M3758 1246l-15 5-11-20 16-9z"/>
<path color="#03f" d="M3694 1213l-14-1-13-5 15 1z"/>
<path color="#000080" d="M3826 1318l-16-4-9-42 17 2z"/>
<path color="#0012ff" d="M3564 1246l-16-20-13 17 16 18zm713-32l-15 17 11-19 15-27z"/>
<path color="#0000a0" d="M4210 1292l-16 6 9-13 17-8z"/>
<path color="#0000f1" d="M3551 1261l-16-18-13 18 16 16z"/>
<path color="#0000d0" d="M3538 1277l-16-16-13 18 16 15z"/>
<path color="#0073ff" d="M3643 1208l-15-12-13 5 15 12z"/>
<path color="#0000b0" d="M3525 1294l-16-15-14 19 17 13z"/>
<path color="#000090" d="M3512 1311l-17-13-13 19 18 11z"/>
<path color="#0000a0" d="M4499 1298l-17 8 12 22 18-11z"/>
<path color="#0000d0" d="M4486 1279l-17 5 13 22 17-8z"/>
<path color="#0000f1" d="M4472 1259l-16 3 13 22 17-5z"/>
<path color="#02f" d="M4459 1240l-16-2 13 24 16-3z"/>
<path color="#000080" d="M4168 1318l-17 3 7-16 18-3z"/>
<path color="#0053ff" d="M4446 1220l-16-7 13 25 16 2z"/>
<path color="#0000d0" d="M4236 1265l-16 12 9-13 17-15z"/>
<path color="#0094ff" d="M4433 1200l-15-19 12 32 16 7z"/>
<path color="#02f" d="M3721 1216l-15 6-12-9 16-9z"/>
<path color="#0043ff" d="M3682 1208l-15-1-12-1 16 1z"/>
<path color="#0063ff" d="M3630 1213l-15-12-13 8 16 12z"/>
<path color="#00d4ff" d="M4419 1178l-14-36 13 39 15 19z"/>
<path color="#0073ff" d="M4302 1167l-14 18 12-39 15-28z"/>
<path color="#000080" d="M3843 1321l-17-3-8-44 18 6z"/>
<path color="#0002ff" d="M4262 1231l-16 18 11-13 16-24z"/>
<path color="#47ffb8" d="M4366 1131l-12-75 12-15 14 87z"/>
<path color="#0000a0" d="M4194 1298l-18 4 9-12 18-5z"/>
<path color="#0000c0" d="M3801 1272l-17 1-10-34 18-5z"/>
<path color="#16ffe9" d="M4406 1155l-14-54 13 41 14 36z"/>
<path color="#0043ff" d="M3618 1221l-16-12-13 10 17 13z"/>
<path color="#000080" d="M4151 1321l-18 3 7-19 18 0z"/>
<path color="#16ffe9" d="M4328 1133l-13-15 12-61 14 35z"/>
<path color="#0002ff" d="M3748 1222l-16 9-11-15 16-17z"/>
<path color="#47ffb8" d="M4393 1137l-14-75 13 39 14 54z"/>
<path color="#0000c0" d="M4220 1277l-17 8 9-11 17-10z"/>
<path color="#67ff98" d="M4380 1128l-14-87 13 21 14 75z"/>
<path color="#0053ff" d="M3671 1207l-16-1-12 2 16 1z"/>
<path color="#03f" d="M3606 1232l-17-13-12 13 16 12z"/>
<path color="#0000f1" d="M3774 1239l-16 7-10-24 17-13z"/>
<path color="#000080" d="M3861 1324l-18-3-7-41 18 9z"/>
<path color="#0043ff" d="M4288 1185l-15 27 11-21 16-45z"/>
<path color="#02f" d="M3593 1244l-16-12-13 14 17 12z"/>
<path color="#0000f1" d="M4246 1249l-17 15 10-10 18-18z"/>
<path color="#03f" d="M3710 1204l-16 9-12-5 17-14z"/>
<path color="#0000a0" d="M4176 1302l-18 3 8-14 19-1z"/>
<path color="#0002ff" d="M3581 1258l-17-12-13 15 18 12z"/>
<path color="#000080" d="M4133 1324l-18 3 6-24 19 2z"/>
<path color="#0073ff" d="M3659 1209l-16-1-13 5 17 1z"/>
<path color="#000080" d="M3879 1327l-18-3-7-35 19 9z"/>
<path color="#0000d0" d="M3818 1274l-17-2-9-38 17 0z"/>
<path color="#0000e1" d="M3569 1273l-18-12-13 16 18 12z"/>
<path color="#02f" d="M4273 1212l-16 24 10-11 17-34z"/>
<path color="#0000c0" d="M4203 1285l-18 5 8-11 19-5z"/>
<path color="#0000d0" d="M3556 1289l-18-12-13 17 19 11z"/>
<path color="#0000b0" d="M3544 1305l-19-11-13 17 20 11z"/>
<path color="#0053ff" d="M3647 1214l-17-1-12 8 17 2z"/>
<path color="#000080" d="M4115 1327l-19 3 5-29 20 2zm-217 3l-19-3-6-29 20 8z"/>
<path color="#0000e1" d="M4229 1264l-17 10 9-8 18-12z"/>
<path color="#03f" d="M3737 1199l-16 17-11-12 17-28z"/>
<path color="#000090" d="M3532 1322l-20-11-12 17 19 11z"/>
<path color="#0053ff" d="M3699 1194l-17 14-11-1 17-18z"/>
<path color="#0000d0" d="M4469 1284l-19 8 12 24 20-10z"/>
<path color="#0000a0" d="M4482 1306l-20 10 13 23 19-11z"/>
<path color="#0002ff" d="M4456 1262l-18 6 12 24 19-8z"/>
<path color="#03f" d="M4443 1238l-18 5 13 25 18-6z"/>
<path color="#0000a0" d="M4158 1305l-18 0 6-17 20 3z"/>
<path color="#00c4ff" d="M4315 1118l-15 28 12-41 15-48z"/>
<path color="#0073ff" d="M4430 1213l-17 2 12 28 18-5z"/>
<path color="#0012ff" d="M4257 1236l-18 18 10-7 18-22z"/>
<path color="#0043ff" d="M3635 1223l-17-2-12 11 18 2z"/>
<path color="#0012ff" d="M3792 1234l-18 5-9-30 18-19z"/>
<path color="#0000e1" d="M3836 1280l-18-6-9-40 19 8z"/>
<path color="#000080" d="M3917 1332l-19-2-5-24 20 5z"/>
<path color="#00c4ff" d="M4418 1181l-17-7 12 41 17-2z"/>
<path color="#000080" d="M4096 1330l-19 2 4-34 20 3z"/>
<path color="#02f" d="M3765 1209l-17 13-11-23 18-31z"/>
<path color="#0073ff" d="M4300 1146l-16 45 11-20 17-66z"/>
<path color="#0000c0" d="M4185 1290l-19 1 7-12 20 0z"/>
<path color="#03f" d="M3624 1234l-18-2-13 12 19 3z"/>
<path color="#000080" d="M3937 1333l-20-1-4-21 21 4z"/>
<path color="#0043ff" d="M4284 1191l-17 34 11-7 17-47z"/>
<path color="#0063ff" d="M3688 1189l-17 18-12 2 17-18z"/>
<path color="#8f7" d="M4341 1092l-14-35 12-91 15 90z"/>
<path color="#26ffd9" d="M4405 1142l-17-17 13 49 17 7z"/>
<path color="#0000e1" d="M4212 1274l-19 5 8-8 20-5z"/>
<path color="#000080" d="M4077 1332l-20 1 3-35 21 0z"/>
<path color="#0000d0" d="M3854 1289l-18-9-8-38 20 14z"/>
<path color="#0000b0" d="M4140 1305l-19-2 5-21 20 6z"/>
<path color="#000080" d="M3957 1334l-20-1-3-18 21 1z"/>
<path color="#0012ff" d="M3612 1247l-19-3-12 14 19 4z"/>
<path color="#0002ff" d="M4239 1254l-18 12 9-5 19-14z"/>
<path color="#000080" d="M3977 1335l-20-1-2-18 21-2zm80-2l-20 1 2-33 21-3z"/>
<path color="#0053ff" d="M3727 1176l-17 28-11-10 17-35z"/>
<path color="#0002ff" d="M3600 1262l-19-4-12 15 19 5z"/>
<path color="#02f" d="M4267 1225l-18 22 10-4 19-25z"/>
<path color="#000080" d="M3997 1335l-20 0-1-21 21-4zm40-1l-20 1 1-30 21-4zm-20 1l-20 0 0-25 21-5z"/>
<path color="#0000c0" d="M3873 1298l-19-9-6-33 20 16z"/>
<path color="#0073ff" d="M3676 1191l-17 18-12 5 18-16z"/>
<path color="#0000e1" d="M3588 1278l-19-5-13 16 21 6z"/>
<path color="#0000d0" d="M4166 1291l-20-3 7-14 20 5z"/>
<path color="#8f7" d="M4392 1101l-16-39 12 63 17 17z"/>
<path color="#03f" d="M3809 1234l-17 0-9-44 18-5z"/>
<path color="#0000b0" d="M3893 1306l-20-8-5-26 20 13z"/>
<path color="#0000c0" d="M4121 1303l-20-2 4-27 21 8zm-544-8l-21-6-12 16 21 8z"/>
<path color="#0063ff" d="M4295 1171l-17 47 10-4 18-56z"/>
<path color="#0000f1" d="M4193 1279l-20 0 8-9 20 1z"/>
<path color="#0063ff" d="M3665 1198l-18 16-12 9 19-12z"/>
<path color="#0000b0" d="M3565 1313l-21-8-12 17 21 9z"/>
<path color="#00a4ff" d="M4312 1105l-17 66 11-13 18-89z"/>
<path color="#0002ff" d="M4221 1266l-20 5 8-5 21-5z"/>
<path color="#0000b0" d="M3913 1311l-20-5-5-21 22 9z"/>
<path color="#02f" d="M4425 1243l-19 14 11 24 21-13zm-176 4l-19 14 9-3 20-15z"/>
<path color="#0053ff" d="M4413 1215l-19 16 12 26 19-14z"/>
<path color="#0000f1" d="M4438 1268l-21 13 12 23 21-12z"/>
<path color="#000090" d="M3553 1331l-21-9-13 17 22 11z"/>
<path color="#0053ff" d="M3755 1168l-18 31-10-23 18-43z"/>
<path color="#0000d0" d="M4450 1292l-21 12 12 23 21-11z"/>
<path color="#0000a0" d="M4462 1316l-21 11 12 23 22-11z"/>
<path color="#0043ff" d="M4278 1218l-19 25 9 0 20-29z"/>
<path color="#0073ff" d="M3716 1159l-17 35-11-5 18-39z"/>
<path color="#0094ff" d="M4401 1174l-19 24 12 33 19-16z"/>
<path color="#0000a0" d="M3934 1315l-21-4-3-17 21 5z"/>
<path color="#0053ff" d="M3654 1211l-19 12-11 11 19-7zm129-21l-18 19-10-41 18-31z"/>
<path color="#16ffe9" d="M4327 1057l-15 48 12-36 15-103z"/>
<path color="#0000c0" d="M4101 1301l-20-3 3-31 21 7z"/>
<path color="#0043ff" d="M3828 1242l-19-8-8-49 20 14z"/>
<path color="#0000e1" d="M4146 1288l-20-6 6-19 21 11z"/>
<path color="#ffe500" d="M4379 1062l-15-93 12 93 16 39z"/>
<path color="#0000a0" d="M3955 1316l-21-1-3-16 22 0z"/>
<path color="#03f" d="M3643 1227l-19 7-12 13 20-5z"/>
<path color="#00d4ff" d="M4388 1125l-17 33 11 40 19-24z"/>
<path color="#0073ff" d="M4306 1158l-18 56 10 2 20-60z"/>
<path color="#0000a0" d="M3976 1314l-21 2-2-17 22-3z"/>
<path color="#0000f1" d="M4173 1279l-20-5 6-12 22 8z"/>
<path color="#0000d0" d="M4081 1298l-21 0 3-33 21 2z"/>
<path color="#03f" d="M3848 1256l-20-14-7-43 20 28z"/>
<path color="#02f" d="M3632 1242l-20 5-12 15 21-2z"/>
<path color="#0012ff" d="M4201 1271l-20-1 7-5 21 1z"/>
<path color="#03f" d="M4259 1243l-20 15 9 1 20-16z"/>
<path color="#0000a0" d="M3997 1310l-21 4-1-18 22-8z"/>
<path color="#02f" d="M4230 1261l-21 5 8-1 22-7z"/>
<path color="#0053ff" d="M4288 1214l-20 29 10 2 20-29z"/>
<path color="#0084ff" d="M3706 1150l-18 39-12 2 20-40z"/>
<path color="#00c4ff" d="M4324 1069l-18 89 12-2 17-101z"/>
<path color="#0012ff" d="M3868 1272l-20-16-7-29 21 22z"/>
<path color="#0000c0" d="M4060 1298l-21 3 2-32 22-4z"/>
<path color="#0000b0" d="M4018 1305l-21 5 0-22 22-10z"/>
<path color="#ffe500" d="M4354 1056l-15-90 13-120 14 195z"/>
<path color="#0002ff" d="M3621 1260l-21 2-12 16 22 0z"/>
<path color="#0000c0" d="M4039 1301l-21 4 1-27 22-9z"/>
<path color="#16ffe9" d="M4376 1062l-17 54 12 42 17-33z"/>
<path color="#0000f1" d="M3888 1285l-20-13-6-23 22 18z"/>
<path color="#0084ff" d="M4318 1156l-20 60 11 7 20-56z"/>
<path color="#0000f1" d="M4126 1282l-21-8 5-24 22 13z"/>
<path color="#0000e1" d="M3610 1278l-22 0-11 17 21 3zm300 16l-22-9-4-18 22 13z"/>
<path color="#0053ff" d="M4382 1198l-20 36 11 21 21-24z"/>
<path color="#0073ff" d="M4371 1158l-20 52 11 24 20-36z"/>
<path color="#02f" d="M4394 1231l-21 24 11 22 22-20z"/>
<path color="#0084ff" d="M3745 1133l-18 43-11-17 19-55z"/>
<path color="#ff4300" d="M4366 1041l-14-195 12 123 15 93z"/>
<path color="#0000d0" d="M3598 1298l-21-3-12 18 22 5z"/>
<path color="#00d4ff" d="M4335 1055l-17 101 11 11 18-91z"/>
<path color="#0002ff" d="M4406 1257l-22 20 11 20 22-16z"/>
<path color="#0063ff" d="M4298 1216l-20 29 10 7 21-29z"/>
<path color="#0094ff" d="M4359 1116l-19 70 11 24 20-52zm-663 35l-20 40-11 7 20-38z"/>
<path color="#0000d0" d="M3931 1299l-21-5-4-14 22 6z"/>
<path color="#0073ff" d="M4329 1167l-20 56 10 11 21-48z"/>
<path color="#0043ff" d="M4268 1243l-20 16 9 3 21-17z"/>
<path color="#0084ff" d="M3801 1185l-18 5-10-53 20-12z"/>
<path color="#00b4ff" d="M4347 1076l-18 91 11 19 19-70z"/>
<path color="#0000e1" d="M4417 1281l-22 16 11 21 23-14z"/>
<path color="#0012ff" d="M4153 1274l-21-11 5-16 22 15z"/>
<path color="#03f" d="M4239 1258l-22 7 9 0 22-6z"/>
<path color="#0000b0" d="M3587 1318l-22-5-12 18 23 8z"/>
<path color="#0000c0" d="M4429 1304l-23 14 12 21 23-12z"/>
<path color="#02f" d="M4209 1266l-21-1 7-3 22 3z"/>
<path color="#0000d0" d="M3953 1299l-22 0-3-13 23 0z"/>
<path color="#02f" d="M4181 1270l-22-8 7-8 22 11z"/>
<path color="#0053ff" d="M4340 1186l-21 48 11 13 21-37z"/>
<path color="#000090" d="M3576 1339l-23-8-12 19 24 9z"/>
<path color="#47ffb8" d="M4364 969l-17 107 12 40 17-54z"/>
<path color="#0000a0" d="M4441 1327l-23 12 11 20 24-9z"/>
<path color="#0012ff" d="M4105 1274l-21-7 4-30 22 13z"/>
<path color="#0084ff" d="M3685 1160l-20 38-11 13 21-34z"/>
<path color="#0000d0" d="M3975 1296l-22 3-2-13 23-6z"/>
<path color="#0053ff" d="M4309 1223l-21 29 10 8 21-26z"/>
<path color="#0094ff" d="M3773 1137l-18 31-10-35 19-50z"/>
<path color="#0043ff" d="M4351 1210l-21 37 10 16 22-29z"/>
<path color="#0063ff" d="M3675 1177l-21 34-11 16 21-28z"/>
<path color="#0053ff" d="M4278 1245l-21 17 8 6 23-16z"/>
<path color="#0000d0" d="M3997 1288l-22 8-1-16 23-11z"/>
<path color="#02f" d="M4362 1234l-22 29 11 16 22-24z"/>
<path color="#47ffb8" d="M4339 966l-15 103 11-14 17-209z"/>
<path color="#00b4ff" d="M3821 1199l-20-14-8-60 20 22z"/>
<path color="#0043ff" d="M4248 1259l-22 6 8 4 23-7z"/>
<path color="#0053ff" d="M3664 1199l-21 28-11 15 22-17z"/>
<path color="#02f" d="M4084 1267l-21-2 3-35 22 7zm-200 0l-22-18-6-21 23 25z"/>
<path color="#0053ff" d="M3862 1249l-21-22-6-40 21 41z"/>
<path color="#0043ff" d="M4319 1234l-21 26 9 11 23-24z"/>
<path color="#0000e1" d="M4019 1278l-22 10 0-19 23-15z"/>
<path color="#00a4ff" d="M3735 1104l-19 55-10-9 20-64z"/>
<path color="#0084ff" d="M3841 1227l-20-28-8-52 22 40z"/>
<path color="#0012ff" d="M4373 1255l-22 24 10 18 23-20z"/>
<path color="#03f" d="M4132 1263l-22-13 5-27 22 24z"/>
<path color="#0002ff" d="M3906 1280l-22-13-5-14 23 16z"/>
<path color="#03f" d="M4217 1265l-22-3 8 1 23 2zm-563-40l-22 17-11 18 22-11z"/>
<path color="#0002ff" d="M4041 1269l-22 9 1-24 23-15z"/>
<path color="#0012ff" d="M4063 1265l-22 4 2-30 23-9z"/>
<path color="#03f" d="M4188 1265l-22-11 6-4 23 12z"/>
<path color="#0000f1" d="M3928 1286l-22-6-4-11 23 8z"/>
<path color="#03f" d="M4159 1262l-22-15 6-13 23 20z"/>
<path color="#0000f1" d="M4384 1277l-23 20 11 17 23-17z"/>
<path color="#0043ff" d="M4288 1252l-23 16 9 8 24-16z"/>
<path color="#0012ff" d="M3643 1249l-22 11-11 18 23-6z"/>
<path color="#67ff98" d="M4352 846l-17 209 12 21 17-107z"/>
<path color="#02f" d="M4330 1247l-23 24 10 13 23-21z"/>
<path color="#0000f1" d="M3951 1286l-23 0-3-9 24 0zm-318-14l-23 6-12 20 24-2z"/>
<path color="#0000d0" d="M4395 1297l-23 17 10 18 24-14z"/>
<path color="#0053ff" d="M4257 1262l-23 7 8 6 23-7z"/>
<path color="#0000d0" d="M3622 1296l-24 2-11 20 25 2z"/>
<path color="#0000b0" d="M4406 1318l-24 14 10 19 26-12z"/>
<path color="#0000f1" d="M3974 1280l-23 6-2-9 24-8z"/>
<path color="#0012ff" d="M4340 1263l-23 21 10 14 24-19z"/>
<path color="#0000b0" d="M3612 1320l-25-2-11 21 25 5z"/>
<path color="#03f" d="M4298 1260l-24 16 9 11 24-16z"/>
<path color="#0053ff" d="M4226 1265l-23-2 7 3 24 3z"/>
<path color="#00c4ff" d="M3726 1086l-20 64-10 1 20-68z"/>
<path color="#000090" d="M4418 1339l-26 12 11 18 26-10zm-817 5l-25-5-11 20 26 10z"/>
<path color="#0063ff" d="M4110 1250l-22-13 4-44 23 30z"/>
<path color="#0002ff" d="M3997 1269l-23 11-1-11 24-16z"/>
<path color="#0053ff" d="M4195 1262l-23-12 7 0 24 13z"/>
<path color="#0000f1" d="M4351 1279l-24 19 10 15 24-16z"/>
<path color="#00f5ff" d="M3793 1125l-20 12-9-54 21-23z"/>
<path color="#0043ff" d="M4265 1268l-23 7 8 9 24-8z"/>
<path color="#03f" d="M3902 1269l-23-16-5-9 24 18z"/>
<path color="#0053ff" d="M3879 1253l-23-25-5-23 23 39z"/>
<path color="#00d4ff" d="M3764 1083l-19 50-10-29 20-74z"/>
<path color="#02f" d="M4307 1271l-24 16 9 11 25-14zm-382 6l-23-8-4-7 24 9z"/>
<path color="#0063ff" d="M4166 1254l-23-20 6-13 23 29zm-29-7l-22-24 5-29 23 40z"/>
<path color="#0012ff" d="M4020 1254l-23 15 0-16 24-27z"/>
<path color="#0000e1" d="M4361 1297l-24 16 9 16 26-15z"/>
<path color="#00d4ff" d="M3716 1083l-20 68-11 9 21-64z"/>
<path color="#0094ff" d="M3856 1228l-21-41-7-35 23 53z"/>
<path color="#0063ff" d="M4234 1269l-24-3 7 7 25 2z"/>
<path color="#0012ff" d="M3949 1277l-24 0-3-6 25-1z"/>
<path color="#0084ff" d="M4088 1237l-22-7 3-50 23 13z"/>
<path color="#03f" d="M4274 1276l-24 8 8 10 25-7z"/>
<path color="#0002ff" d="M4317 1284l-25 14 9 13 26-13z"/>
<path color="#0000c0" d="M4372 1314l-26 15 10 16 26-13z"/>
<path color="#03f" d="M4043 1239l-23 15 1-28 24-31z"/>
<path color="#00c4ff" d="M3706 1096l-21 64-10 17 21-56z"/>
<path color="#0012ff" d="M3973 1269l-24 8-2-7 25-10z"/>
<path color="#00f5ff" d="M3835 1187l-22-40-7-54 22 59z"/>
<path color="#0063ff" d="M4203 1263l-24-13 6 3 25 13z"/>
<path color="#37ffc8" d="M3813 1147l-20-22-8-65 21 33z"/>
<path color="#00a4ff" d="M3696 1121l-21 56-11 22 23-46z"/>
<path color="#0063ff" d="M4066 1230l-23 9 2-44 24-15z"/>
<path color="#0084ff" d="M3687 1153l-23 46-10 26 23-35z"/>
<path color="#0053ff" d="M3677 1190l-23 35-11 24 24-21z"/>
<path color="#03f" d="M3667 1228l-24 21-10 23 24-10z"/>
<path color="#0000b0" d="M4382 1332l-26 13 10 16 26-10z"/>
<path color="#0012ff" d="M3657 1262l-24 10-11 24 25-5z"/>
<path color="#0043ff" d="M4242 1275l-25-2 8 9 25 2z"/>
<path color="#0000f1" d="M4327 1298l-26 13 9 14 27-12z"/>
<path color="#0053ff" d="M3898 1262l-24-18-5-9 25 24z"/>
<path color="#02f" d="M3997 1253l-24 16-1-9 25-23z"/>
<path color="#0000e1" d="M3647 1291l-25 5-10 24 26 0z"/>
<path color="#02f" d="M4283 1287l-25 7 9 12 25-8z"/>
<path color="#0084ff" d="M4172 1250l-23-29 5-6 25 35z"/>
<path color="#03f" d="M3922 1271l-24-9-4-3 25 10z"/>
<path color="#0000c0" d="M3638 1320l-26 0-11 24 27 5z"/>
<path color="#000090" d="M4392 1351l-26 10 9 17 28-9z"/>
<path color="#0084ff" d="M3874 1244l-23-39-6-15 24 45z"/>
<path color="#0000a0" d="M3628 1349l-27-5-10 25 27 9z"/>
<path color="#03f" d="M3947 1270l-25 1-3-2 26-1z"/>
<path color="#0000d0" d="M4337 1313l-27 12 9 15 27-11z"/>
<path color="#0073ff" d="M4210 1266l-25-13 7 7 25 13z"/>
<path color="#00b4ff" d="M4115 1223l-23-30 4-46 24 47z"/>
<path color="#00a4ff" d="M4143 1234l-23-40 4-24 25 51z"/>
<path color="#06fff9" d="M3755 1030l-20 74-9-18 20-102z"/>
<path color="#03f" d="M4250 1284l-25-2 7 11 26 1z"/>
<path color="#0002ff" d="M4292 1298l-25 8 8 13 26-8z"/>
<path color="#0043ff" d="M4021 1226l-24 27 0-16 25-41z"/>
<path color="#00d4ff" d="M3851 1205l-23-53-7-28 24 66z"/>
<path color="#03f" d="M3972 1260l-25 10-2-2 26-12z"/>
<path color="#0000c0" d="M4346 1329l-27 11 9 15 28-10z"/>
<path color="#0094ff" d="M4179 1250l-25-35 6 2 25 36z"/>
<path color="#0063ff" d="M3894 1259l-25-24-4-3 25 27z"/>
<path color="#0000f1" d="M4301 1311l-26 8 8 14 27-8z"/>
<path color="#0063ff" d="M4217 1273l-25-13 6 11 27 11z"/>
<path color="#57ffa8" d="M3785 1060l-21 23-9-53 22-48z"/>
<path color="#0053ff" d="M3919 1269l-25-10-4 0 27 11z"/>
<path color="#02f" d="M4258 1294l-26-1 8 13 27 0z"/>
<path color="#0000a0" d="M4356 1345l-28 10 9 15 29-9z"/>
<path color="#0043ff" d="M3997 1237l-25 23-1-4 26-31z"/>
<path color="#00a4ff" d="M3869 1235l-24-45-6-7 26 49z"/>
<path color="#0043ff" d="M3945 1268l-26 1-2 1 26-1z"/>
<path color="#0073ff" d="M4045 1195l-24 31 1-30 25-47z"/>
<path color="#57ffa8" d="M3828 1152l-22-59-7-53 22 84z"/>
<path color="#0000d0" d="M4310 1325l-27 8 8 14 28-7z"/>
<path color="#00f5ff" d="M4092 1193l-23-13 2-57 25 24z"/>
<path color="#000090" d="M4366 1361l-29 9 9 16 29-8z"/>
<path color="#03f" d="M3683 1251l-26 11-10 29 27-4z"/>
<path color="#0002ff" d="M3674 1287l-27 4-9 29 27 0z"/>
<path color="#0063ff" d="M3692 1203l-25 25-10 34 26-11z"/>
<path color="#0012ff" d="M4267 1306l-27 0 7 14 28-1z"/>
<path color="#0000d0" d="M3665 1320l-27 0-10 29 28 4z"/>
<path color="#0053ff" d="M4225 1282l-27-11 7 12 27 10z"/>
<path color="#0043ff" d="M3971 1256l-26 12-2 1 27-14z"/>
<path color="#0000a0" d="M3656 1353l-28-4-10 29 29 8z"/>
<path color="#00d4ff" d="M4149 1221l-25-51 5-14 25 59z"/>
<path color="#00a4ff" d="M4185 1253l-25-36 6 10 26 33z"/>
<path color="#26ffd9" d="M3746 984l-20 102-10-3 21-115z"/>
<path color="#00b4ff" d="M4069 1180l-24 15 2-46 24-26z"/>
<path color="#00a4ff" d="M3701 1152l-24 38-10 38 25-25z"/>
<path color="#a8ff57" d="M3806 1093l-21-33-8-78 22 58z"/>
<path color="#0084ff" d="M3890 1259l-25-27-5 3 26 29z"/>
<path color="#06fff9" d="M3845 1190l-24-66-6-17 24 76z"/>
<path color="#0000c0" d="M4319 1340l-28 7 8 15 29-7z"/>
<path color="#0063ff" d="M3917 1270l-27-11-4 5 28 10zm105-74l-25 41 0-12 26-52z"/>
<path color="#00d4ff" d="M3710 1099l-23 54-10 37 24-38z"/>
<path color="#0000f1" d="M4275 1319l-28 1 7 15 29-2z"/>
<path color="#16ffe9" d="M4120 1194l-24-47 4-47 24 70z"/>
<path color="#0053ff" d="M3943 1269l-26 1-3 4 27-1z"/>
<path color="#03f" d="M4232 1293l-27-10 7 15 28 8z"/>
<path color="#00c4ff" d="M3865 1232l-26-49-5 1 26 51z"/>
<path color="#0053ff" d="M3997 1225l-26 31-1-1 27-36z"/>
<path color="#06fff9" d="M3719 1044l-23 77-9 32 23-54z"/>
<path color="#0094ff" d="M4192 1260l-26-33 5 16 27 28z"/>
<path color="#37ffc8" d="M3737 968l-21 115-10 13 22-103z"/>
<path color="#0000a0" d="M4328 1355l-29 7 9 16 29-8z"/>
<path color="#26ffd9" d="M3728 993l-22 103-10 25 23-77z"/>
<path color="#0053ff" d="M3970 1255l-27 14-2 4 28-14z"/>
<path color="#0000e1" d="M4283 1333l-29 2 8 16 29-4z"/>
<path color="#0094ff" d="M3886 1264l-26-29-5 9 28 27z"/>
<path color="#00f5ff" d="M4154 1215l-25-59 5-2 26 63z"/>
<path color="#02f" d="M4240 1306l-28-8 6 16 29 6z"/>
<path color="#0073ff" d="M3914 1274l-28-10-3 7 28 10z"/>
<path color="#000090" d="M4337 1370l-29 8 8 15 30-7z"/>
<path color="#0073ff" d="M4198 1271l-27-28 6 20 28 20z"/>
<path color="#26ffd9" d="M3839 1183l-24-76-7-2 26 79z"/>
<path color="#02f" d="M3702 1289l-28-2-9 33 29 4z"/>
<path color="#00d4ff" d="M3860 1235l-26-51-6 10 27 50z"/>
<path color="#0063ff" d="M3711 1248l-28 3-9 36 28 2z"/>
<path color="#0000f1" d="M3694 1324l-29-4-9 33 30 6z"/>
<path color="#0063ff" d="M3941 1273l-27 1-3 7 28-1z"/>
<path color="#0000b0" d="M3686 1359l-30-6-9 33 31 7z"/>
<path color="#a8ff57" d="M3821 1124l-22-84-8-45 24 112z"/>
<path color="#0000c0" d="M4291 1347l-29 4 7 16 30-5z"/>
<path color="#00a4ff" d="M4047 1149l-25 47 1-23 26-71z"/>
<path color="#00b4ff" d="M3719 1195l-27 8-9 48 28-3z"/>
<path color="#0002ff" d="M4247 1320l-29-6 7 18 29 3z"/>
<path color="#0073ff" d="M3997 1219l-27 36-1 4 28-38z"/>
<path color="#0084ff" d="M4023 1173l-26 52 0-6 27-60z"/>
<path color="#0053ff" d="M4205 1283l-28-20 6 20 29 15z"/>
<path color="#0084ff" d="M3883 1271l-28-27-5 14 29 23z"/>
<path color="#a8ff57" d="M3777 982l-22 48-9-46 22-105z"/>
<path color="#0063ff" d="M3969 1259l-28 14-2 7 29-13z"/>
<path color="#06fff9" d="M4160 1217l-26-63 5 13 27 60z"/>
<path color="#0063ff" d="M3911 1281l-28-10-4 10 29 10z"/>
<path color="#0000b0" d="M4299 1362l-30 5 7 16 32-5z"/>
<path color="#06fff9" d="M3727 1137l-26 15-9 51 27-8z"/>
<path color="#00b4ff" d="M3855 1244l-27-50-6 18 28 46z"/>
<path color="#67ff98" d="M4096 1147l-25-24 3-70 26 47z"/>
<path color="#37ffc8" d="M3834 1184l-26-79-6 13 26 76z"/>
<path color="#0000e1" d="M4254 1335l-29-3 6 18 31 1z"/>
<path color="#0053ff" d="M3939 1280l-28 1-3 10 29-1z"/>
<path color="#67ff98" d="M4124 1170l-24-70 3-40 26 96z"/>
<path color="#0043ff" d="M4212 1298l-29-15 5 20 30 11z"/>
<path color="#16ffe9" d="M4071 1123l-24 26 2-47 25-49z"/>
<path color="#000090" d="M4308 1378l-32 5 8 17 32-7z"/>
<path color="#0063ff" d="M3879 1281l-29-23-5 16 30 20z"/>
<path color="#00f5ff" d="M4166 1227l-27-60 4 24 28 52z"/>
<path color="#57ffa8" d="M3735 1071l-25 28-9 53 26-15z"/>
<path color="#0094ff" d="M3739 1264l-28-16-9 41 30 11z"/>
<path color="#0043ff" d="M3732 1300l-30-11-8 35 30 10z"/>
<path color="#0084ff" d="M3997 1221l-28 38-1 8 29-36z"/>
<path color="#00a4ff" d="M3850 1258l-28-46-5 23 28 39z"/>
<path color="#0000f1" d="M3724 1334l-30-10-8 35 31 8z"/>
<path color="#0053ff" d="M3968 1267l-29 13-2 10 30-11z"/>
<path color="#0000d0" d="M4262 1351l-31-1 7 18 31-1z"/>
<path color="#0043ff" d="M3908 1291l-29-10-4 13 30 9z"/>
<path color="#26ffd9" d="M3828 1194l-26-76-7 26 27 68z"/>
<path color="#0000b0" d="M3717 1367l-31-8-8 34 32 7z"/>
<path color="#ffc400" d="M3799 1040l-22-58-9-103 23 116z"/>
<path color="#00f5ff" d="M3747 1216l-28-21-8 53 28 16z"/>
<path color="#e9ff16" d="M3815 1107l-24-112-7-17 24 127z"/>
<path color="#02f" d="M4218 1314l-30-11 6 21 31 8z"/>
<path color="#00a4ff" d="M4024 1159l-27 60 0 2 28-63z"/>
<path color="#00d4ff" d="M4171 1243l-28-52 5 30 29 42z"/>
<path color="#0043ff" d="M3937 1290l-29 1-3 12 30 0z"/>
<path color="#06fff9" d="M3822 1212l-27-68-6 34 28 57z"/>
<path color="#0084ff" d="M3845 1274l-28-39-6 27 30 29z"/>
<path color="#57ffa8" d="M3754 1165l-27-28-8 58 28 21z"/>
<path color="#0043ff" d="M3875 1294l-30-20-4 17 30 18z"/>
<path color="#0000b0" d="M4269 1367l-31 1 6 19 32-4z"/>
<path color="#a8ff57" d="M3744 991l-25 53-9 55 25-28z"/>
<path color="#00d4ff" d="M3817 1235l-28-57-7 37 29 47zm232-133l-26 71 1-14 27-97z"/>
<path color="#00a4ff" d="M4177 1263l-29-42 5 33 30 29z"/>
<path color="#00b4ff" d="M3775 1254l-28-38-8 48 30 24z"/>
<path color="#0002ff" d="M4225 1332l-31-8 5 21 32 5z"/>
<path color="#0063ff" d="M3997 1231l-29 36-1 12 30-31zm-228 57l-30-24-7 36 30 18z"/>
<path color="#03f" d="M3905 1303l-30-9-4 15 31 8z"/>
<path color="#0043ff" d="M3967 1279l-30 11-2 13 31-10z"/>
<path color="#00a4ff" d="M3811 1262l-29-47-7 39 30 33z"/>
<path color="#06fff9" d="M3782 1215l-28-50-7 51 28 38z"/>
<path color="#02f" d="M3762 1318l-30-18-8 34 32 13z"/>
<path color="#0053ff" d="M3841 1291l-30-29-6 25 31 23z"/>
<path color="#57ffa8" d="M3789 1178l-28-67-7 54 28 50z"/>
<path color="#c8ff37" d="M3761 1111l-26-40-8 66 27 28z"/>
<path color="#f9ff06" d="M3808 1105l-24-127-8 27 26 113z"/>
<path color="#0063ff" d="M3805 1287l-30-33-6 34 31 23z"/>
<path color="#0000f1" d="M3756 1347l-32-13-7 33 32 10z"/>
<path color="#0073ff" d="M4183 1283l-30-29 5 32 30 17z"/>
<path color="#000090" d="M4276 1383l-32 4 7 19 33-6z"/>
<path color="#98ff67" d="M4129 1156l-26-96 4-15 27 109z"/>
<path color="#03f" d="M3935 1303l-30 0-3 14 31 0zm-64 6l-30-18-5 19 31 15z"/>
<path color="#00b4ff" d="M4025 1158l-28 63 0 10 29-60z"/>
<path color="#a8ff57" d="M3795 1144l-26-89-8 56 28 67z"/>
<path color="#0000e1" d="M4231 1350l-32-5 6 22 33 1z"/>
<path color="#0000b0" d="M3749 1377l-32-10-7 33 33 6z"/>
<path color="#d9ff26" d="M3802 1118l-26-113-7 50 26 89z"/>
<path color="#03f" d="M3800 1311l-31-23-7 30 32 18zm36-1l-31-23-5 24 31 19z"/>
<path color="#0053ff" d="M3997 1248l-30 31-1 14 31-24z"/>
<path color="#02f" d="M3902 1317l-31-8-4 16 32 8z"/>
<path color="#0043ff" d="M4188 1303l-30-17 4 26 32 12z"/>
<path color="#03f" d="M3966 1293l-31 10-2 14 32-8z"/>
<path color="#d9ff26" d="M3752 884l-24 109-9 51 25-53z"/>
<path color="#0002ff" d="M3794 1336l-32-18-6 29 32 14z"/>
<path color="#0000c0" d="M4238 1368l-33-1 6 22 33-2z"/>
<path color="#ffc400" d="M3769 1055l-25-64-9 80 26 40z"/>
<path color="#0012ff" d="M3867 1325l-31-15-5 20 32 13zm66-8l-31 0-3 16 32 0z"/>
<path color="#e9ff16" d="M3768 879l-22 105-9-16 23-207z"/>
<path color="#0012ff" d="M3831 1330l-31-19-6 25 32 15z"/>
<path color="#00a4ff" d="M4026 1171l-29 60 0 17 30-53z"/>
<path color="#02f" d="M4194 1324l-32-12 5 26 32 7z"/>
<path color="#0000d0" d="M3788 1361l-32-14-7 30 34 9z"/>
<path color="#b8ff47" d="M4134 1154l-27-109 4 26 28 96z"/>
<path color="#0043ff" d="M3997 1269l-31 24-1 16 32-18z"/>
<path color="#0002ff" d="M3899 1333l-32-8-4 18 33 7z"/>
<path color="#e9ff16" d="M4100 1100l-26-47 3-99 26 106z"/>
<path color="#000090" d="M4244 1387l-33 2 5 22 35-5z"/>
<path color="#00f5ff" d="M4051 1062l-27 97 1-1 27-111z"/>
<path color="#0012ff" d="M3965 1309l-32 8-2 16 33-7z"/>
<path color="#0000a0" d="M3783 1386l-34-9-6 29 34 5z"/>
<path color="#0000e1" d="M3826 1351l-32-15-6 25 34 11z"/>
<path color="#0000f1" d="M3863 1343l-32-13-5 21 33 10zm336 2l-32-7 5 26 33 3z"/>
<path color="#98ff67" d="M4139 1167l-28-96 4 47 28 73z"/>
<path color="#0084ff" d="M4027 1195l-30 53 0 21 31-44z"/>
<path color="#67ff98" d="M4143 1191l-28-73 4 51 29 52z"/>
<path color="#16ffe9" d="M4148 1221l-29-52 3 49 31 36z"/>
<path color="#67ff98" d="M4074 1053l-25 49 2-40 26-108z"/>
<path color="#0002ff" d="M3931 1333l-32 0-3 17 33 0z"/>
<path color="#00d4ff" d="M4153 1254l-31-36 4 45 32 23z"/>
<path color="#f9ff06" d="M3760 761l-23 207-9 25 24-109z"/>
<path color="#f30" d="M3776 1005l-24-121-8 107 25 64z"/>
<path color="#0084ff" d="M4158 1286l-32-23 4 38 32 11z"/>
<path color="#02f" d="M3997 1291l-32 18-1 17 33-14z"/>
<path color="#0000c0" d="M3822 1372l-34-11-5 25 34 8z"/>
<path color="#0000e1" d="M3896 1350l-33-7-4 18 34 6z"/>
<path color="#0000d0" d="M4205 1367l-33-3 4 26 35-1z"/>
<path color="#0063ff" d="M4028 1225l-31 44 0 22 31-32z"/>
<path color="#f30" d="M3791 995l-23-116-8-118 24 217z"/>
<path color="#0000d0" d="M3859 1361l-33-10-4 21 34 8z"/>
<path color="#0002ff" d="M3964 1326l-33 7-2 17 34-5z"/>
<path color="#0043ff" d="M4162 1312l-32-11 4 31 33 6z"/>
<path color="#0000e1" d="M3929 1350l-33 0-3 17 34 1z"/>
<path color="#0000a0" d="M3817 1394l-34-8-6 25 35 5zm394-5l-35 1 5 26 35-5z"/>
<path color="#06fff9" d="M4052 1047l-27 111 1 13 28-98z"/>
<path color="#0043ff" d="M4028 1259l-31 32 0 21 32-20z"/>
<path color="#0012ff" d="M3997 1312l-33 14-1 19 34-11zm170 26l-33-6 4 29 34 3z"/>
<path color="#0000d0" d="M3893 1367l-34-6-3 19 34 5z"/>
<path color="#0000b0" d="M3856 1380l-34-8-5 22 35 6z"/>
<path color="#0000e1" d="M3963 1345l-34 5-2 18 35-3z"/>
<path color="#00f5ff" d="M4054 1073l-28 98 1 24 29-75z"/>
<path color="#00b4ff" d="M4126 1263l-32-11 3 45 33 4z"/>
<path color="#0000e1" d="M4172 1364l-34-3 3 30 35-1z"/>
<path color="#02f" d="M4029 1292l-32 20 0 22 33-15z"/>
<path color="#800000" d="M3784 978l-24-217-8 123 24 121z"/>
<path color="#00d4ff" d="M4056 1120l-29 75 1 30 30-54z"/>
<path color="#16ffe9" d="M4122 1218l-31-18 3 52 32 11z"/>
<path color="#00a4ff" d="M4058 1171l-30 54 0 34 32-39z"/>
<path color="#0063ff" d="M4130 1301l-33-4 3 33 34 2z"/>
<path color="#0000c0" d="M3927 1368l-34-1-3 18 36 2z"/>
<path color="#0073ff" d="M4060 1220l-32 39 1 33 33-26z"/>
<path color="#0000f1" d="M3997 1334l-34 11-1 20 35-8z"/>
<path color="#000090" d="M3852 1400l-35-6-5 22 36 4z"/>
<path color="#7f8" d="M4119 1169l-30-29 2 60 31 18z"/>
<path color="#0000b0" d="M3890 1385l-34-5-4 20 35 4z"/>
<path color="#0043ff" d="M4062 1266l-33 26 1 27 34-15z"/>
<path color="#0000a0" d="M4176 1390l-35 1 4 29 36-4z"/>
<path color="#02f" d="M4134 1332l-34-2 3 31 35 0z"/>
<path color="#0084ff" d="M4094 1252l-32 14 2 38 33-7z"/>
<path color="#00d4ff" d="M4091 1200l-31 20 2 46 32-14z"/>
<path color="#0000c0" d="M3962 1365l-35 3-1 19 35-2z"/>
<path color="#0002ff" d="M4030 1319l-33 15 0 23 34-11z"/>
<path color="#0043ff" d="M4097 1297l-33 7 2 32 34-6z"/>
<path color="#02f" d="M4064 1304l-34 15 1 27 35-10z"/>
<path color="#0000e1" d="M4138 1361l-35 0 3 31 35-1z"/>
<path color="#f9ff06" d="M4115 1118l-29-52 3 74 30 29z"/>
<path color="#26ffd9" d="M4089 1140l-31 31 2 49 31-20z"/>
<path color="#0000b0" d="M3926 1387l-36-2-3 19 37 2z"/>
<path color="#0000d0" d="M3997 1357l-35 8-1 20 36-5z"/>
<path color="#0012ff" d="M4100 1330l-34 6 2 30 35-5z"/>
<path color="#000090" d="M3887 1404l-35-4-4 20 37 3z"/>
<path color="#0000e1" d="M4031 1346l-34 11 0 23 35-7z"/>
<path color="#0000b0" d="M4141 1391l-35 1 3 31 36-3z"/>
<path color="#0000f1" d="M4066 1336l-35 10 1 27 36-7z"/>
<path color="#0000b0" d="M3961 1385l-35 2-2 19 36-1z"/>
<path color="#67ff98" d="M4086 1066l-30 54 2 51 31-31z"/>
<path color="#0000e1" d="M4103 1361l-35 5 2 29 36-3z"/>
<path color="#ff7300" d="M4103 1060l-26-106 3-118 27 209z"/>
<path color="#0000b0" d="M3997 1380l-36 5-1 20 37-2z"/>
<path color="#000090" d="M3924 1406l-37-2-2 19 37 2z"/>
<path color="#ff7300" d="M4111 1071l-28-109 3 104 29 52z"/>
<path color="#0000d0" d="M4068 1366l-36 7 1 26 37-4z"/>
<path color="#0000c0" d="M4032 1373l-35 7 0 23 36-4z"/>
<path color="#0000b0" d="M4106 1392l-36 3 2 30 37-2z"/>
<path color="#98ff67" d="M4077 954l-26 108 1-15 28-211z"/>
<path color="#000090" d="M3960 1405l-36 1-2 19 37 1z"/>
<path color="#0000a0" d="M4070 1395l-37 4 1 27 38-1z"/>
<path color="#98ff67" d="M4083 962l-29 111 2 47 30-54z"/>
<path color="#000090" d="M3997 1403l-37 2-1 21 38 0zm36-4l-36 4 0 23 37 0z"/>
<path color="#d00000" d="M4107 1045l-27-209 3 126 28 109z"/>
<path color="#b8ff47" d="M4080 836l-28 211 2 26 29-111z"/></g></defs>
<g transform="scale(.1)" fill="currentColor" stroke="currentColor" stroke-width="4" stroke-linejoin="round"><use href="#sb"/></g>
<g transform="scale(.1)" fill="currentColor" stroke="#000" stroke-width="2.2" stroke-linejoin="round"><use href="#sb"/></g>
<path d="M109.1 358.9L200 327.9M200 327.9L200 246.5M154.4 358.9L63.8 327.9M63.8 327.9L63.8 246.5M86.4 351.1L177.3 320.1M177.3 320.1L177.3 238.7M177.2 351.1L86.6 320.1M86.6 320.1L86.6 238.7M63.8 343.4L154.7 312.4M154.7 312.4L154.7 231M199.9 343.4L109.3 312.4M109.3 312.4L109.3 231M41.1 315.3L132 284.3M132 284.3L222.6 315.3M41.1 294.9L132 263.9M132 263.9L222.6 294.9M41.1 274.6L132 243.6M132 243.6L222.6 274.6M41.1 254.2L132 223.2M132 223.2L222.6 254.2M132 304.6L132 223.2M222.6 335.6L222.6 254.2M41.1 335.6L132 304.6M132 304.6L222.6 335.6" stroke="#e4e4e4" stroke-width=".5" fill="none"/>
<path d="M41.1 335.6L41.1 254.2M41.1 335.6L131.7 366.6M131.7 366.6L222.6 335.6M41.1 335.6L38.9 334.6M41.1 315.3L38.9 314.3M41.1 294.9L38.9 293.9M41.1 274.6L38.9 273.6M41.1 254.2L38.9 253.2M131.7 366.6L129.9 368.2M131.7 366.6L133.5 368.2M109.1 358.9L107.3 360.5M154.4 358.9L156.2 360.5M86.4 351.1L84.6 352.8M177.2 351.1L179 352.8M63.8 343.4L62 345M199.9 343.4L201.7 345M41.1 335.6L39.3 337.2M222.6 335.6L224.4 337.2" stroke="#262626" stroke-width=".5" fill="none"/>
<defs><g id="sc"><path color="#000090" d="M1319 3096l37 3 1 11-38-1zm-36-3l36 3 0 13-37 1zm73 6l36 3 2 9-37-1z"/>
<path color="#0000a0" d="M1246 3091l37 2-1 17-38 1z"/>
<path color="#000090" d="M1392 3102l37 2 2 9-37-2z"/>
<path color="#0000b0" d="M1210 3092l36-1-2 20-37 2z"/>
<path color="#000090" d="M1429 3104l35 2 4 10-37-3z"/>
<path color="#0000b0" d="M1175 3096l35-4-3 21-36 3zm144-14l36 6 1 11-37-3zm36 6l35 4 2 10-36-3z"/>
<path color="#0000c0" d="M1284 3075l35 7 0 14-36-3z"/>
<path color="#000090" d="M1464 3106l35 1 5 13-36-4z"/>
<path color="#0000b0" d="M1140 3103l35-7-4 20-36 4zm250-11l36 3 3 9-37-2z"/>
<path color="#0000d0" d="M1248 3071l36 4-1 18-37-2z"/>
<path color="#0000e1" d="M1213 3070l35 1-2 20-36 1z"/>
<path color="#0000b0" d="M1426 3095l34 1 4 10-35-2z"/>
<path color="#0000a0" d="M1499 3107l34 1 6 16-35-4zm-394 4l35-8-5 17-35 4z"/>
<path color="#0000e1" d="M1178 3076l35-6-3 22-35 4z"/>
<path color="#0000d0" d="M1319 3069l35 8 1 11-36-6z"/>
<path color="#0000c0" d="M1354 3077l35 6 1 9-35-4z"/>
<path color="#0000b0" d="M1460 3096l34-2 5 13-35-1z"/>
<path color="#0000e1" d="M1285 3058l34 11 0 13-35-7z"/>
<path color="#0000c0" d="M1389 3083l34 3 3 9-36-3z"/>
<path color="#0000e1" d="M1144 3086l34-10-3 20-35 7z"/>
<path color="#000090" d="M1072 3119l33-8-5 13-35 6z"/>
<path color="#0000a0" d="M1533 3108l34 0 6 22-34-6z"/>
<path color="#0000f1" d="M1250 3050l35 8-1 17-36-4z"/>
<path color="#0000d0" d="M1423 3086l34 0 3 10-34-1z"/>
<path color="#0000c0" d="M1494 3094l34-3 5 17-34-1z"/>
<path color="#0000d0" d="M1111 3098l33-12-4 17-35 8z"/>
<path color="#0012ff" d="M1216 3048l34 2-2 21-35-1z"/>
<path color="#0000e1" d="M1353 3067l34 8 2 8-35-6z"/>
<path color="#0000f1" d="M1319 3056l34 11 1 10-35-8z"/>
<path color="#0000d0" d="M1457 3086l33-4 4 12-34 2z"/>
<path color="#02f" d="M1182 3055l34-7-3 22-35 6z"/>
<path color="#000090" d="M1040 3127l32-8-7 11-33 6z"/>
<path color="#0000e1" d="M1387 3075l33 3 3 8-34-3z"/>
<path color="#0000b0" d="M1567 3108l32 3 7 25-33-6z"/>
<path color="#0002ff" d="M1286 3041l33 15 0 13-34-11z"/>
<path color="#0000c0" d="M1078 3109l33-11-6 13-33 8z"/>
<path color="#0012ff" d="M1149 3069l33-14-4 21-34 10z"/>
<path color="#0000e1" d="M1420 3078l33-1 4 9-34 0z"/>
<path color="#0000d0" d="M1528 3091l32-4 7 21-34 0z"/>
<path color="#02f" d="M1252 3028l34 13-1 17-35-8z"/>
<path color="#0000e1" d="M1490 3082l32-7 6 16-34 3z"/>
<path color="#0000f1" d="M1117 3085l32-16-5 17-33 12z"/>
<path color="#0043ff" d="M1219 3024l33 4-2 22-34-2z"/>
<path color="#0002ff" d="M1352 3058l33 10 2 7-34-8z"/>
<path color="#000090" d="M1008 3135l32-8-8 9-32 7z"/>
<path color="#0000b0" d="M1047 3119l31-10-6 10-32 8z"/>
<path color="#0000f1" d="M1453 3077l32-7 5 12-33 4z"/>
<path color="#0012ff" d="M1319 3043l33 15 1 9-34-11z"/>
<path color="#0002ff" d="M1385 3068l32 3 3 7-33-3z"/>
<path color="#0000b0" d="M1599 3111l31 5 8 27-32-7z"/>
<path color="#0000e1" d="M1085 3099l32-14-6 13-33 11z"/>
<path color="#0063ff" d="M1186 3033l33-9-3 24-34 7z"/>
<path color="#02f" d="M1287 3023l32 20 0 13-33-15z"/>
<path color="#0000f1" d="M1560 3087l32-1 7 25-32-3z"/>
<path color="#0002ff" d="M1417 3071l32-3 4 9-33 1z"/>
<path color="#0043ff" d="M1154 3052l32-19-4 22-33 14z"/>
<path color="#0002ff" d="M1522 3075l32-9 6 21-32 4z"/>
<path color="#0012ff" d="M1485 3070l31-11 6 16-32 7z"/>
<path color="#0043ff" d="M1254 2997l33 26-1 18-34-13z"/>
<path color="#02f" d="M1122 3072l32-20-5 17-32 16z"/>
<path color="#0000b0" d="M1017 3128l30-9-7 8-32 8z"/>
<path color="#0000d0" d="M1054 3111l31-12-7 10-31 10z"/>
<path color="#0012ff" d="M1351 3050l32 12 2 6-33-10z"/>
<path color="#000090" d="M979 3142l29-7-8 8-30 7z"/>
<path color="#0012ff" d="M1449 3068l31-9 5 11-32 7zm-66-6l31 3 3 6-32-3z"/>
<path color="#02f" d="M1319 3032l32 18 1 8-33-15z"/>
<path color="#0000b0" d="M1630 3116l30 8 9 26-31-7z"/>
<path color="#0002ff" d="M1091 3090l31-18-5 13-32 14z"/>
<path color="#0094ff" d="M1222 2987l32 10-2 31-33-4z"/>
<path color="#0002ff" d="M1592 3086l30 3 8 27-31-5z"/>
<path color="#02f" d="M1414 3065l31-3 4 6-32 3z"/>
<path color="#0043ff" d="M1288 2998l31 34 0 11-32-20z"/>
<path color="#02f" d="M1554 3066l30-6 8 26-32 1z"/>
<path color="#00c4ff" d="M1190 3003l32-16-3 37-33 9z"/>
<path color="#0000c0" d="M1025 3120l29-9-7 8-30 9z"/>
<path color="#03f" d="M1516 3059l31-14 7 21-32 9z"/>
<path color="#0094ff" d="M1158 3034l32-31-4 30-32 19z"/>
<path color="#0000e1" d="M1062 3104l29-14-6 9-31 12z"/>
<path color="#03f" d="M1480 3059l31-15 5 15-31 11z"/>
<path color="#0000a0" d="M988 3134l29-6-9 7-29 7z"/>
<path color="#03f" d="M1350 3044l31 13 2 5-32-12z"/>
<path color="#0043ff" d="M1128 3060l30-26-4 18-32 20z"/>
<path color="#03f" d="M1381 3057l30 4 3 4-31-3zm64 5l30-12 5 9-31 9z"/>
<path color="#0043ff" d="M1319 3018l31 26 1 6-32-18z"/>
<path color="#000090" d="M950 3149l29-7-9 8-29 8z"/>
<path color="#0073ff" d="M1256 2960l32 38-1 25-33-26z"/>
<path color="#02f" d="M1098 3081l30-21-6 12-31 18z"/>
<path color="#0000a0" d="M1660 3124l28 12 10 22-29-8z"/>
<path color="#03f" d="M1411 3061l30-5 4 6-31 3z"/>
<path color="#0000f1" d="M1622 3089l29 10 9 25-30-8z"/>
<path color="#0000e1" d="M1033 3114l29-10-8 7-29 9z"/>
<path color="#0043ff" d="M1584 3060l30 1 8 28-30-3z"/>
<path color="#0000c0" d="M997 3127l28-7-8 8-29 6z"/>
<path color="#0063ff" d="M1288 2973l31 45 0 14-31-34z"/>
<path color="#0002ff" d="M1069 3097l29-16-7 9-29 14z"/>
<path color="#0063ff" d="M1547 3045l30-14 7 29-30 6z"/>
<path color="#0043ff" d="M1349 3040l30 14 2 3-31-13zm30 14l29 4 3 3-30-4z"/>
<path color="#0053ff" d="M1475 3050l30-23 6 17-31 15z"/>
<path color="#0063ff" d="M1511 3044l30-26 6 27-31 14z"/>
<path color="#00d4ff" d="M1225 2943l31 17-2 37-32-10z"/>
<path color="#0043ff" d="M1441 3056l30-14 4 8-30 12z"/>
<path color="#0000a0" d="M960 3140l28-6-9 8-29 7z"/>
<path color="#0073ff" d="M1133 3048l30-38-5 24-30 26z"/>
<path color="#00d4ff" d="M1163 3010l31-44-4 37-32 31z"/>
<path color="#0053ff" d="M1319 3006l30 34 1 4-31-26z"/>
<path color="#0043ff" d="M1104 3073l29-25-5 12-30 21z"/>
<path color="#16ffe9" d="M1194 2966l31-23-3 44-32 16z"/>
<path color="#0043ff" d="M1408 3058l29-5 4 3-30 5z"/>
<path color="#000090" d="M924 3155l26-6-9 9-28 9z"/>
<path color="#0000f1" d="M1041 3108l28-11-7 7-29 10z"/>
<path color="#0000d0" d="M1651 3099l27 15 10 22-28-12z"/>
<path color="#0000a0" d="M1688 3136l27 13 10 18-27-9z"/>
<path color="#0000d0" d="M1006 3120l27-6-8 6-28 7z"/>
<path color="#02f" d="M1614 3061l28 12 9 26-29-10zm-538 30l28-18-6 8-29 16z"/>
<path color="#00b4ff" d="M1258 2920l30 53 0 25-32-38z"/>
<path color="#0053ff" d="M1348 3037l29 17 2 0-30-14zm29 17l28 4 3 0-29-4z"/>
<path color="#0000c0" d="M970 3131l27-4-9 7-28 6z"/>
<path color="#0063ff" d="M1437 3053l29-19 5 8-30 14z"/>
<path color="#0094ff" d="M1577 3031l28-5 9 35-30-1z"/>
<path color="#0084ff" d="M1289 2952l30 54 0 12-31-45zm182 90l28-34 6 19-30 23z"/>
<path color="#0063ff" d="M1405 3058l28-6 4 1-29 5z"/>
<path color="#00a4ff" d="M1505 3027l29-39 7 30-30 26z"/>
<path color="#0073ff" d="M1319 3000l29 37 1 3-30-34z"/>
<path color="#00c4ff" d="M1541 3018l28-28 8 41-30 14z"/>
<path color="#0063ff" d="M1111 3067l28-31-6 12-29 25z"/>
<path color="#00a4ff" d="M1139 3036l29-51-5 25-30 38z"/>
<path color="#0000b0" d="M934 3144l26-4-10 9-26 6z"/>
<path color="#0012ff" d="M1049 3103l27-12-7 6-28 11z"/>
<path color="#0000f1" d="M1015 3114l26-6-8 6-27 6z"/>
<path color="#03f" d="M1084 3087l27-20-7 6-28 18z"/>
<path color="#0000c0" d="M1678 3114l26 17 11 18-27-13z"/>
<path color="#26ffd9" d="M1168 2985l29-59-3 40-31 44z"/>
<path color="#0002ff" d="M1642 3073l27 19 9 22-27-15z"/>
<path color="#0063ff" d="M1347 3039l28 18 2-3-29-17zm28 18l27 4 3-3-28-4z"/>
<path color="#26ffd9" d="M1227 2892l31 28-2 40-31-17z"/>
<path color="#0000d0" d="M979 3122l27-2-9 7-27 4z"/>
<path color="#000090" d="M898 3162l26-7-11 12-26 9z"/>
<path color="#0084ff" d="M1433 3052l28-23 5 5-29 19z"/>
<path color="#000090" d="M1715 3149l25 12 11 15-26-9z"/>
<path color="#8f7" d="M1197 2926l30-34-2 51-31 23z"/>
<path color="#0063ff" d="M1605 3026l28 17 9 30-28-12z"/>
<path color="#0073ff" d="M1402 3061l28-6 3-3-28 6z"/>
<path color="#00a4ff" d="M1466 3034l28-40 5 14-28 34z"/>
<path color="#0084ff" d="M1319 3000l28 39 1-2-29-37z"/>
<path color="#00a4ff" d="M1290 2938l29 62 0 6-30-54z"/>
<path color="#0000c0" d="M944 3132l26-1-10 9-26 4z"/>
<path color="#02f" d="M1058 3099l26-12-8 4-27 12z"/>
<path color="#0084ff" d="M1118 3063l27-38-6 11-28 31z"/>
<path color="#0002ff" d="M1024 3108l25-5-8 5-26 6z"/>
<path color="#00d4ff" d="M1260 2878l29 74-1 21-30-53zm-115 147l28-61-5 21-29 51z"/>
<path color="#0053ff" d="M1091 3085l27-22-7 4-27 20zm282-23l26 5 3-6-27-4zm-27-17l27 17 2-5-28-18z"/>
<path color="#00d4ff" d="M1499 3008l28-49 7 29-29 39z"/>
<path color="#00f5ff" d="M1569 2990l28-9 8 45-28 5z"/>
<path color="#0000f1" d="M989 3114l26 0-9 6-27 2zm680-22l25 21 10 18-26-17z"/>
<path color="#16ffe9" d="M1534 2988l28-41 7 43-28 28z"/>
<path color="#0094ff" d="M1430 3055l26-25 5-1-28 23z"/>
<path color="#0000b0" d="M910 3147l24-3-10 11-26 7z"/>
<path color="#0063ff" d="M1399 3067l27-7 4-5-28 6z"/>
<path color="#03f" d="M1633 3043l26 27 10 22-27-19z"/>
<path color="#0000b0" d="M1704 3131l25 16 11 14-25-12z"/>
<path color="#0073ff" d="M1319 3007l27 38 1-6-28-39z"/>
<path color="#03f" d="M1066 3097l25-12-7 2-26 12z"/>
<path color="#0000e1" d="M955 3121l24 1-9 9-26 1z"/>
<path color="#02f" d="M1033 3104l25-5-9 4-25 5z"/>
<path color="#00c4ff" d="M1461 3029l27-43 6 8-28 40z"/>
<path color="#0094ff" d="M1124 3062l26-44-5 7-27 38z"/>
<path color="#67ff98" d="M1173 2964l28-80-4 42-29 59z"/>
<path color="#00b4ff" d="M1291 2935l28 65 0 0-29-62z"/>
<path color="#0043ff" d="M1345 3058l26 14 2-10-27-17zm26 14l26 3 2-8-26-5z"/>
<path color="#0063ff" d="M1099 3084l25-22-6 1-27 22z"/>
<path color="#000090" d="M1740 3161l23 12 12 13-24-10z"/>
<path color="#0002ff" d="M999 3107l25 1-9 6-26 0z"/>
<path color="#0000a0" d="M875 3169l23-7-11 14-24 10z"/>
<path color="#00c4ff" d="M1597 2981l27 21 9 41-28-17z"/>
<path color="#0053ff" d="M1397 3075l25-5 4-10-27 7z"/>
<path color="#0084ff" d="M1426 3060l25-23 5-7-26 25z"/>
<path color="#00f5ff" d="M1150 3018l27-68-4 14-28 61z"/>
<path color="#67ff98" d="M1230 2826l30 52-2 42-31-28z"/>
<path color="#0053ff" d="M1319 3023l26 35 1-13-27-38z"/>
<path color="#0000d0" d="M921 3132l23 0-10 12-24 3z"/>
<path color="#0012ff" d="M1659 3070l24 26 11 17-25-21z"/>
<path color="#06fff9" d="M1494 2994l27-60 6 25-28 49z"/>
<path color="#00f5ff" d="M1262 2840l28 98-1 14-29-74z"/>
<path color="#0000d0" d="M1694 3113l24 20 11 14-25-16z"/>
<path color="#0043ff" d="M1074 3097l25-13-8 1-25 12z"/>
<path color="#03f" d="M1344 3072l25 13 2-13-26-14zm25 13l25 3 3-13-26-3zm-327 17l24-5-8 2-25 5z"/>
<path color="#f9ff06" d="M1201 2884l29-58-3 66-30 34z"/>
<path color="#0002ff" d="M965 3110l24 4-10 8-24-1z"/>
<path color="#00a4ff" d="M1292 2946l27 61 0-7-28-65z"/>
<path color="#00b4ff" d="M1131 3064l25-46-6 0-26 44z"/>
<path color="#00d4ff" d="M1456 3030l26-45 6 1-27 43z"/>
<path color="#0073ff" d="M1106 3087l25-23-7-2-25 22z"/>
<path color="#0043ff" d="M1319 3047l25 25 1-14-26-35z"/>
<path color="#03f" d="M1394 3088l24-5 4-13-25 5z"/>
<path color="#0063ff" d="M1624 3002l25 40 10 28-26-27z"/>
<path color="#57ffa8" d="M1562 2947l27-17 8 51-28 9z"/>
<path color="#02f" d="M1009 3102l24 2-9 4-25-1z"/>
<path color="#0063ff" d="M1422 3070l25-21 4-12-25 23z"/>
<path color="#0000b0" d="M1729 3147l22 14 12 12-23-12z"/>
<path color="#67ff98" d="M1527 2959l28-58 7 46-28 41z"/>
<path color="#0000c0" d="M887 3151l23-4-12 15-23 7z"/>
<path color="#0012ff" d="M1343 3091l24 10 2-16-25-13zm24 10l24 3 3-16-25-3z"/>
<path color="#06fff9" d="M1156 3018l26-72-5 4-27 68z"/>
<path color="#0000f1" d="M932 3117l23 4-11 11-23 0z"/>
<path color="#0063ff" d="M1082 3099l24-12-7-3-25 13z"/>
<path color="#0084ff" d="M1293 2971l26 52 0-16-27-61z"/>
<path color="#a8ff57" d="M1177 2950l28-104-4 38-28 80z"/>
<path color="#02f" d="M1319 3074l24 17 1-19-25-25z"/>
<path color="#0043ff" d="M1051 3101l23-4-8 0-24 5z"/>
<path color="#02f" d="M1391 3104l23-4 4-17-24 5z"/>
<path color="#00a4ff" d="M1137 3070l25-45-6-7-25 46z"/>
<path color="#0000f1" d="M1683 3096l23 23 12 14-24-20z"/>
<path color="#0012ff" d="M976 3100l23 7-10 7-24-4z"/>
<path color="#0063ff" d="M1113 3092l24-22-6-6-25 23z"/>
<path color="#00c4ff" d="M1451 3037l26-44 5-8-26 45z"/>
<path color="#0053ff" d="M1418 3083l24-14 5-20-25 21z"/>
<path color="#03f" d="M1649 3042l24 38 10 16-24-26z"/>
<path color="#0000f1" d="M1342 3114l23 7 2-20-24-10z"/>
<path color="#26ffd9" d="M1488 2986l26-69 7 17-27 60z"/>
<path color="#000090" d="M1763 3173l21 11 13 13-22-11z"/>
<path color="#0000f1" d="M1365 3121l23 3 3-20-24-3z"/>
<path color="#0063ff" d="M1294 3005l25 42 0-24-26-52z"/>
<path color="#03f" d="M1018 3098l24 4-9 2-24-2z"/>
<path color="#0000a0" d="M854 3178l21-9-12 17-22 11z"/>
<path color="#16ffe9" d="M1264 2824l27 111-1 3-28-98z"/>
<path color="#0002ff" d="M1319 3101l23 13 1-23-24-17z"/>
<path color="#0000d0" d="M1718 3133l21 16 12 12-22-14z"/>
<path color="#16ffe9" d="M1589 2930l26 28 9 44-27-21z"/>
<path color="#0043ff" d="M1295 3046l24 28 0-27-25-42z"/>
<path color="#0000e1" d="M899 3133l22-1-11 15-23 4z"/>
<path color="#0000f1" d="M1388 3124l22-3 4-21-23 4z"/>
<path color="#0053ff" d="M1090 3104l23-12-7-5-24 12z"/>
<path color="#0000d0" d="M1341 3139l22 6 2-24-23-7z"/>
<path color="#03f" d="M1414 3100l23-11 5-20-24 14z"/>
<path color="#00f5ff" d="M1162 3025l25-68-5-11-26 72z"/>
<path color="#0053ff" d="M1059 3103l23-4-8-2-23 4z"/>
<path color="#0084ff" d="M1144 3079l23-39-5-15-25 45z"/>
<path color="#0000d0" d="M1319 3131l22 8 1-25-23-13zm44 14l22 2 3-23-23-3z"/>
<path color="#0012ff" d="M1296 3086l23 15 0-27-24-28z"/>
<path color="#00a4ff" d="M1447 3049l24-39 6-17-26 44z"/>
<path color="#0053ff" d="M1121 3100l23-21-7-9-24 22z"/>
<path color="#0012ff" d="M943 3102l22 8-10 11-23-4z"/>
<path color="#02f" d="M986 3091l23 11-10 5-23-7z"/>
<path color="#0000e1" d="M1297 3122l22 9 0-30-23-15z"/>
<path color="#00a4ff" d="M1615 2958l24 52 10 32-25-40z"/>
<path color="#0000a0" d="M1340 3169l21 3 2-27-22-6z"/>
<path color="#0000d0" d="M1385 3147l21-2 4-24-22 3z"/>
<path color="#0000a0" d="M1319 3164l21 5 1-30-22-8z"/>
<path color="#0012ff" d="M1673 3080l22 27 11 12-23-23z"/>
<path color="#0043ff" d="M1028 3097l23 4-9 1-24-4z"/>
<path color="#a8ff57" d="M1233 2731l29 109-2 38-30-52z"/>
<path color="#0000b0" d="M1751 3161l21 11 12 12-21-11z"/>
<path color="#0002ff" d="M1410 3121l22-8 5-24-23 11z"/>
<path color="#0000a0" d="M1361 3172l21 1 3-26-22-2z"/>
<path color="#0000b0" d="M1298 3160l21 4 0-33-22-9z"/>
<path color="#06fff9" d="M1265 2849l27 97-1-11-27-111z"/>
<path color="#00d4ff" d="M1167 3040l25-59-5-24-25 68z"/>
<path color="#a8ff57" d="M1521 2934l26-81 8 48-28 58z"/>
<path color="#b8ff47" d="M1182 2946l27-116-4 16-28 104z"/>
<path color="#0084ff" d="M1442 3069l23-34 6-25-24 39z"/>
<path color="#0063ff" d="M1150 3093l23-30-6-23-23 39z"/>
<path color="#0043ff" d="M1099 3112l22-12-8-8-23 12z"/>
<path color="#37ffc8" d="M1482 2985l26-73 6 5-26 69z"/>
<path color="#000080" d="M1319 3200l20 1 1-32-21-5z"/>
<path color="#0000d0" d="M866 3159l21-8-12 18-21 9z"/>
<path color="#0000f1" d="M1706 3119l22 18 11 12-21-16z"/>
<path color="#000080" d="M1339 3201l20 0 2-29-21-3zm-40 0l20-1 0-36-21-4z"/>
<path color="#0002ff" d="M1275 3114l22 8-1-36-23-15z"/>
<path color="#03f" d="M1273 3071l23 15-1-40-24-31z"/>
<path color="#0053ff" d="M1639 3010l23 51 11 19-24-38z"/>
<path color="#0000a0" d="M1382 3173l21 0 3-28-21 2z"/>
<path color="#03f" d="M1128 3111l22-18-6-14-23 21z"/>
<path color="#c8ff37" d="M1555 2901l26-29 8 58-27 17z"/>
<path color="#0043ff" d="M1068 3108l22-4-8-5-23 4z"/>
<path color="#ff7300" d="M1205 2846l28-115-3 95-29 58z"/>
<path color="#0000c0" d="M1277 3156l21 4-1-38-22-8z"/>
<path color="#000080" d="M1279 3201l20 0-1-41-21-4zm80 0l20 1 3-29-21-1z"/>
<path color="#0073ff" d="M1271 3015l24 31-1-41-25-47z"/>
<path color="#0000e1" d="M1406 3145l22-5 4-27-22 8z"/>
<path color="#0002ff" d="M910 3114l22 3-11 15-22 1z"/>
<path color="#00e5ff" d="M1267 2900l26 71-1-25-27-97z"/>
<path color="#00b4ff" d="M1269 2958l25 47-1-34-26-71z"/>
<path color="#00a4ff" d="M1173 3063l23-47-4-35-25 59z"/>
<path color="#0053ff" d="M1437 3089l23-22 5-32-23 34z"/>
<path color="#000080" d="M1259 3202l20-1-2-45-21 0z"/>
<path color="#0000d0" d="M1256 3156l21 0-2-42-22-2z"/>
<path color="#000080" d="M1379 3202l20 2 4-31-21 0z"/>
<path color="#03f" d="M1157 3110l22-22-6-25-23 30z"/>
<path color="#0012ff" d="M1253 3112l22 2-2-43-23-7z"/>
<path color="#02f" d="M954 3087l22 13-11 10-22-8z"/>
<path color="#0043ff" d="M997 3085l21 13-9 4-23-11z"/>
<path color="#0000b0" d="M1403 3173l20-1 5-32-22 5z"/>
<path color="#0073ff" d="M1179 3088l22-32-5-40-23 47z"/>
<path color="#0053ff" d="M1038 3098l21 5-8-2-23-4z"/>
<path color="#000080" d="M1239 3204l20-2-3-46-21 3z"/>
<path color="#02f" d="M1107 3122l21-11-7-11-22 12zm325-9l22-13 6-33-23 22z"/>
<path color="#0000d0" d="M1235 3159l21-3-3-44-21 5z"/>
<path color="#0063ff" d="M1250 3064l23 7-2-56-24-13z"/>
<path color="#02f" d="M1135 3126l22-16-7-17-22 18z"/>
<path color="#0000d0" d="M1739 3149l21 12 12 11-21-11z"/>
<path color="#02f" d="M1232 3117l21-5-3-48-22 12z"/>
<path color="#03f" d="M1184 3114l22-20-5-38-22 32z"/>
<path color="#000080" d="M1399 3204l19 2 5-34-20 1z"/>
<path color="#000090" d="M1784 3184l20 10 12 14-19-11z"/>
<path color="#03f" d="M1662 3061l22 35 11 11-22-27zm-585 55l22-4-9-8-22 4z"/>
<path color="#0012ff" d="M1211 3129l21-12-4-41-22 18z"/>
<path color="#26ffd9" d="M1477 2993l24-69 7-12-26 73z"/>
<path color="#a8ff57" d="M1187 2957l26-103-4-24-27 116z"/>
<path color="#0012ff" d="M1163 3131l21-17-5-26-22 22z"/>
<path color="#0000a0" d="M834 3190l20-12-13 19-19 11z"/>
<path color="#0063ff" d="M1206 3094l22-18-4-56-23 36z"/>
<path color="#0000c0" d="M1215 3166l20-7-3-42-21 12z"/>
<path color="#000080" d="M1220 3206l19-2-4-45-20 7z"/>
<path color="#0000f1" d="M1428 3140l20-8 6-32-22 13z"/>
<path color="#0084ff" d="M1228 3076l22-12-3-62-23 18z"/>
<path color="#0002ff" d="M1695 3107l21 20 12 10-22-18zm-505 35l21-13-5-35-22 20z"/>
<path color="#00c4ff" d="M1201 3056l23-36-4-57-24 53z"/>
<path color="#0002ff" d="M878 3140l21-7-12 18-21 8z"/>
<path color="#00c4ff" d="M1247 3002l24 13-2-57-24-24z"/>
<path color="#0000b0" d="M1423 3172l20-3 5-37-20 8z"/>
<path color="#0000c0" d="M1195 3174l20-8-4-37-21 13z"/>
<path color="#16ffe9" d="M1196 3016l24-53-4-58-24 76z"/>
<path color="#67ff98" d="M1192 2981l24-76-3-51-26 103z"/>
<path color="#0002ff" d="M1143 3144l20-13-6-21-22 16z"/>
<path color="#67ff98" d="M1581 2872l25 40 9 46-26-28z"/>
<path color="#0000e1" d="M1170 3155l20-13-6-28-21 17z"/>
<path color="#0012ff" d="M1115 3136l20-10-7-15-21 11z"/>
<path color="#000080" d="M1418 3206l19 2 6-39-20 3zm-217 2l19-2-5-40-20 8z"/>
<path color="#0043ff" d="M1048 3103l20 5-9-5-21-5z"/>
<path color="#03f" d="M922 3094l21 8-11 15-22-3z"/>
<path color="#0053ff" d="M1007 3079l21 18-10 1-21-13z"/>
<path color="#00f5ff" d="M1224 3020l23-18-2-68-25 29z"/>
<path color="#00d4ff" d="M1606 2912l23 69 10 29-24-52z"/>
<path color="#06fff9" d="M1471 3010l24-60 6-26-24 69z"/>
<path color="#02f" d="M1086 3126l21-4-8-10-22 4z"/>
<path color="#0084ff" d="M1629 2981l23 60 10 20-23-51z"/>
<path color="#0000b0" d="M1176 3182l19-8-5-32-20 13z"/>
<path color="#0043ff" d="M965 3066l21 25-10 9-22-13z"/>
<path color="#0000e1" d="M1728 3137l19 13 13 11-21-12z"/>
<path color="#0000d0" d="M1150 3165l20-10-7-24-20 13z"/>
<path color="#0000b0" d="M1772 3172l19 9 13 13-20-10z"/>
<path color="#e9ff16" d="M1514 2917l26-106 7 42-26 81z"/>
<path color="#16ffe9" d="M1245 2934l24 24-2-58-25-47z"/>
<path color="#000080" d="M1183 3211l18-3-6-34-19 8z"/>
<path color="#0000f1" d="M1123 3152l20-8-8-18-20 10z"/>
<path color="#00d4ff" d="M1465 3035l23-47 7-38-24 60z"/>
<path color="#0053ff" d="M1454 3100l21-18 6-49-21 34z"/>
<path color="#0094ff" d="M1460 3067l21-34 7-45-23 47z"/>
<path color="#000080" d="M1437 3208l18 3 7-46-19 4z"/>
<path color="#0012ff" d="M1448 3132l20-9 7-41-21 18z"/>
<path color="#0000d0" d="M847 3172l19-13-12 19-20 12z"/>
<path color="#0000c0" d="M1443 3169l19-4 6-42-20 9z"/>
<path color="#0053ff" d="M1652 3041l21 45 11 10-22-35z"/>
<path color="#02f" d="M1684 3096l20 21 12 10-21-20z"/>
<path color="#0000a0" d="M1158 3188l18-6-6-27-20 10z"/>
<path color="#03f" d="M1057 3111l20 5-9-8-20-5z"/>
<path color="#67ff98" d="M1220 2963l25-29-3-81-26 52z"/>
<path color="#0002ff" d="M1095 3140l20-4-8-14-21 4z"/>
<path color="#02f" d="M891 3119l19-5-11 19-21 7z"/>
<path color="#0000c0" d="M1131 3172l19-7-7-21-20 8z"/>
<path color="#0063ff" d="M1018 3078l20 20-10-1-21-18z"/>
<path color="#000080" d="M1165 3215l18-4-7-29-18 6z"/>
<path color="#ffc400" d="M1547 2853l25-53 9 72-26 29z"/>
<path color="#b8ff47" d="M1236 2615l28 209-2 16-29-109z"/>
<path color="#0002ff" d="M1716 3127l19 13 12 10-19-13z"/>
<path color="#67ff98" d="M1242 2853l25 47-2-51-26-105z"/>
<path color="#000080" d="M1455 3211l18 4 7-51-18 1z"/>
<path color="#0000e1" d="M1104 3156l19-4-8-16-20 4z"/>
<path color="#0053ff" d="M934 3064l20 23-11 15-21-8z"/>
<path color="#0000d0" d="M1760 3161l18 8 13 12-19-9z"/>
<path color="#0000a0" d="M1140 3194l18-6-8-23-19 7z"/>
<path color="#02f" d="M1067 3123l19 3-9-10-20-5z"/>
<path color="#0063ff" d="M976 3048l21 37-11 6-21-25z"/>
<path color="#0000d0" d="M1462 3165l18-1 8-48-20 7z"/>
<path color="#d00000" d="M1209 2830l27-215-3 116-28 115z"/>
<path color="#e9ff16" d="M1216 2905l26-52-3-109-26 110z"/>
<path color="#00a4ff" d="M1620 2955l21 71 11 15-23-60z"/>
<path color="#03f" d="M1673 3086l19 24 12 7-20-21z"/>
<path color="#000090" d="M1804 3194l17 9 13 16-18-11z"/>
<path color="#000080" d="M1148 3218l17-3-7-27-18 6z"/>
<path color="#0000a0" d="M817 3203l17-13-12 18-18 11z"/>
<path color="#0002ff" d="M860 3153l18-13-12 19-19 13z"/>
<path color="#03f" d="M1468 3123l20-7 7-54-20 20z"/>
<path color="#0053ff" d="M1028 3084l20 19-10-5-20-20z"/>
<path color="#0000c0" d="M1113 3176l18-4-8-20-19 4z"/>
<path color="#0063ff" d="M1641 3026l21 49 11 11-21-45z"/>
<path color="#0002ff" d="M1077 3138l18 2-9-14-19-3z"/>
<path color="#f9ff06" d="M1508 2912l24-119 8 18-26 106z"/>
<path color="#06fff9" d="M1597 2864l23 91 9 26-23-69z"/>
<path color="#000080" d="M1473 3215l17 3 8-53-18-1z"/>
<path color="#0094ff" d="M1475 3082l20-20 8-63-22 34z"/>
<path color="#0053ff" d="M903 3095l19-1-12 20-19 5z"/>
<path color="#0000a0" d="M1122 3198l18-4-9-22-18 4z"/>
<path color="#0012ff" d="M1704 3117l19 14 12 9-19-13z"/>
<path color="#a8ff57" d="M1239 2744l26 105-1-25-28-209z"/>
<path color="#0000e1" d="M1747 3150l18 7 13 12-18-8z"/>
<path color="#a8ff57" d="M1572 2800l25 64 9 48-25-40z"/>
<path color="#0043ff" d="M1038 3097l19 14-9-8-20-19z"/>
<path color="#0000e1" d="M1087 3156l17 0-9-16-18-2zm393 8l18 1 9-50-19 1z"/>
<path color="#0073ff" d="M987 3035l20 44-10 6-21-37z"/>
<path color="#000080" d="M1131 3222l17-4-8-24-18 4z"/>
<path color="#00f5ff" d="M1481 3033l22-34 7-63-22 52z"/>
<path color="#ff7300" d="M1213 2854l26-110-3-129-27 215z"/>
<path color="#0053ff" d="M1662 3075l19 30 11 5-19-24z"/>
<path color="#0000b0" d="M1791 3181l16 7 14 15-17-9z"/>
<path color="#0000d0" d="M830 3188l17-16-13 18-17 13z"/>
<path color="#0073ff" d="M945 3029l20 37-11 21-20-23z"/>
<path color="#0000c0" d="M1096 3177l17-1-9-20-17 0z"/>
<path color="#000080" d="M1490 3218l16 4 9-51-17-6z"/>
<path color="#0043ff" d="M1488 3116l19-1 8-60-20 7zm-615 18l18-15-13 21-18 13z"/>
<path color="#0084ff" d="M1631 3016l20 53 11 6-21-49z"/>
<path color="#e9ff16" d="M1501 2924l24-105 7-26-24 119z"/>
<path color="#03f" d="M1049 3112l18 11-10-12-19-14z"/>
<path color="#00c4ff" d="M1610 2937l21 79 10 10-21-71z"/>
<path color="#57ffa8" d="M1488 2988l22-52 7-63-22 77z"/>
<path color="#03f" d="M1692 3110l18 14 13 7-19-14z"/>
<path color="#0000a0" d="M1106 3201l16-3-9-22-17 1z"/>
<path color="#a8ff57" d="M1495 2950l22-77 8-54-24 105z"/>
<path color="#0002ff" d="M1735 3140l17 6 13 11-18-7z"/>
<path color="#0000d0" d="M1498 3165l17 6 9-47-17-9z"/>
<path color="#0012ff" d="M1059 3130l18 8-10-15-18-11z"/>
<path color="#000080" d="M1116 3227l15-5-9-24-16 3z"/>
<path color="#0084ff" d="M998 3031l20 47-11 1-20-44z"/>
<path color="#0063ff" d="M1651 3069l18 33 12 3-19-30z"/>
<path color="#00b4ff" d="M1495 3062l20-7 8-69-20 13z"/>
<path color="#0000d0" d="M1778 3169l16 4 13 15-16-7z"/>
<path color="#0094ff" d="M915 3057l19 7-12 30-19 1z"/>
<path color="#000080" d="M1506 3222l16 5 10-46-17-10z"/>
<path color="#0002ff" d="M844 3172l16-19-13 19-17 16z"/>
<path color="#0000f1" d="M1070 3152l17 4-10-18-18-8z"/>
<path color="#03f" d="M1507 3115l17 9 9-54-18-15z"/>
<path color="#0094ff" d="M1620 3014l20 54 11 1-20-53z"/>
<path color="#26ffd9" d="M1588 2821l22 116 10 18-23-91z"/>
<path color="#f30" d="M1540 2811l24-110 8 99-25 53z"/>
<path color="#0043ff" d="M1681 3105l17 14 12 5-18-14z"/>
<path color="#0000a0" d="M802 3218l15-15-13 16-16 12z"/>
<path color="#0000d0" d="M1080 3176l16 1-9-21-17-4z"/>
<path color="#00d4ff" d="M1600 2932l20 82 11 2-21-79z"/>
<path color="#0000c0" d="M1515 3171l17 10 10-42-18-15z"/>
<path color="#0000a0" d="M1821 3203l15 8 13 20-15-12z"/>
<path color="#02f" d="M1723 3131l16 5 13 10-17-6z"/>
<path color="#0073ff" d="M886 3113l17-18-12 24-18 15zm124-73l18 44-10-6-20-47z"/>
<path color="#0000a0" d="M1091 3202l15-1-10-24-16-1z"/>
<path color="#00a4ff" d="M957 2992l19 56-11 18-20-37z"/>
<path color="#0073ff" d="M1640 3068l17 34 12 0-18-33z"/>
<path color="#000080" d="M1101 3231l15-4-10-26-15 1z"/>
<path color="#37ffc8" d="M1503 2999l20-13 8-75-21 25z"/>
<path color="#0012ff" d="M1524 3124l18 15 9-40-18-29z"/>
<path color="#0094ff" d="M1515 3055l18 15 10-62-20-22z"/>
<path color="#0000f1" d="M1765 3157l16 2 13 14-16-4z"/>
<path color="#0084ff" d="M1610 3021l18 52 12-5-20-54z"/>
<path color="#000080" d="M1522 3227l15 4 10-39-15-11z"/>
<path color="#0063ff" d="M1021 3060l17 37-10-13-18-44z"/>
<path color="#0053ff" d="M1669 3102l17 14 12 3-17-14z"/>
<path color="#02f" d="M857 3157l16-23-13 19-16 19z"/>
<path color="#0000b0" d="M1532 3181l15 11 11-36-16-17z"/>
<path color="#00c4ff" d="M1590 2943l20 78 10-7-20-82z"/>
<path color="#0053ff" d="M1533 3070l18 29 10-49-18-42z"/>
<path color="#0000c0" d="M816 3205l14-17-13 15-15 15z"/>
<path color="#03f" d="M1710 3124l17 5 12 7-16-5z"/>
<path color="#0043ff" d="M1032 3088l17 24-11-15-17-37z"/>
<path color="#0000f1" d="M1542 3139l16 17 10-32-17-25z"/>
<path color="#0000c0" d="M1807 3188l15 4 14 19-15-8z"/>
<path color="#0063ff" d="M1628 3073l17 33 12-4-17-34z"/>
<path color="#e9ff16" d="M1564 2701l24 120 9 43-25-64z"/>
<path color="#0073ff" d="M1600 3037l17 48 11-12-18-52z"/>
<path color="#02f" d="M1043 3118l16 12-10-18-17-24zm508-19l17 25 11-31-18-43z"/>
<path color="#0002ff" d="M1054 3145l16 7-11-22-16-12z"/>
<path color="#00d4ff" d="M928 3012l17 17-11 35-19-7z"/>
<path color="#00a4ff" d="M1581 2968l19 69 10-16-20-78z"/>
<path color="#37ffc8" d="M1579 2803l21 129 10 5-22-116z"/>
<path color="#b8ff47" d="M1510 2936l21-25 8-87-22 49z"/>
<path color="#00f5ff" d="M1523 2986l20 22 9-63-21-34z"/>
<path color="#0012ff" d="M1752 3146l16 0 13 13-16-2z"/>
<path color="#0053ff" d="M1561 3050l18 43 10-32-18-56z"/>
<path color="#0000d0" d="M1065 3173l15 3-10-24-16-7z"/>
<path color="#0053ff" d="M1589 3061l17 42 11-18-17-48z"/>
<path color="#0084ff" d="M1571 3005l18 56 11-24-19-69z"/>
<path color="#0000a0" d="M1076 3204l15-2-11-26-15-3z"/>
<path color="#000080" d="M1087 3236l14-5-10-29-15 2z"/>
<path color="#0094ff" d="M1543 3008l18 42 10-45-19-60z"/>
<path color="#00d4ff" d="M898 3083l17-26-12 38-17 18z"/>
<path color="#0073ff" d="M1657 3102l16 15 13-1-17-14z"/>
<path color="#000080" d="M1537 3231l13 5 12-33-15-11z"/>
<path color="#0053ff" d="M1617 3085l17 29 11-8-17-33z"/>
<path color="#03f" d="M1579 3093l16 30 11-20-17-42z"/>
<path color="#0000b0" d="M1547 3192l15 11 11-31-15-16z"/>
<path color="#0012ff" d="M1568 3124l16 21 11-22-16-30z"/>
<path color="#00c4ff" d="M969 2957l18 78-11 13-19-56z"/>
<path color="#0000e1" d="M1558 3156l15 16 11-27-16-21z"/>
<path color="#0053ff" d="M1698 3119l16 4 13 6-17-5z"/>
<path color="#0000e1" d="M829 3193l15-21-14 16-14 17z"/>
<path color="#0053ff" d="M870 3141l16-28-13 21-16 23z"/>
<path color="#00d4ff" d="M1552 2945l19 60 10-37-20-86z"/>
<path color="#0000e1" d="M1794 3173l14 1 14 18-15-4z"/>
<path color="#0043ff" d="M1606 3103l16 23 12-12-17-29z"/>
<path color="#0063ff" d="M1645 3106l16 14 12-3-16-15z"/>
<path color="#37ffc8" d="M1570 2828l20 115 10-11-21-129z"/>
<path color="#03f" d="M1739 3136l15-2 14 12-16 0z"/>
<path color="#06fff9" d="M1561 2882l20 86 9-25-20-115z"/>
<path color="#02f" d="M1595 3123l15 19 12-16-16-23z"/>
<path color="#57ffa8" d="M1531 2911l21 34 9-63-22-58z"/>
<path color="#000090" d="M789 3232l13-14-14 13-13 12z"/>
<path color="#0063ff" d="M1686 3116l15 4 13 3-16-4z"/>
<path color="#ffc400" d="M1517 2873l22-49 9-112-23 107z"/>
<path color="#0002ff" d="M1584 3145l14 16 12-19-15-19z"/>
<path color="#0000a0" d="M1836 3211l13 8 14 24-14-12z"/>
<path color="#000080" d="M1550 3236l13 6 12-30-13-9zm-476 6l13-6-11-32-13 2z"/>
<path color="#0002ff" d="M843 3180l14-23-13 15-15 21z"/>
<path color="#0000d0" d="M1573 3172l14 13 11-24-14-16z"/>
<path color="#0043ff" d="M1634 3114l15 13 12-7-16-14z"/>
<path color="#0000a0" d="M1562 3203l13 9 12-27-14-13z"/>
<path color="#0000b0" d="M1063 3206l13-2-11-31-14-1z"/>
<path color="#800000" d="M1532 2793l24-207 8 115-24 110z"/>
<path color="#0000e1" d="M1051 3172l14 1-11-28-15-6z"/>
<path color="#00d4ff" d="M981 2942l17 89-11 4-18-78z"/>
<path color="#0012ff" d="M1781 3159l14-3 13 18-14-1z"/>
<path color="#0094ff" d="M883 3125l15-42-12 30-16 28z"/>
<path color="#02f" d="M1039 3139l15 6-11-27-15-17z"/>
<path color="#0043ff" d="M1727 3129l14-6 13 11-15 2z"/>
<path color="#03f" d="M1622 3126l14 12 13-11-15-13z"/>
<path color="#26ffd9" d="M911 3048l17-36-13 45-17 26z"/>
<path color="#0000b0" d="M803 3222l13-17-14 13-13 14z"/>
<path color="#0073ff" d="M1673 3117l15 2 13 1-15-4z"/>
<path color="#16ffe9" d="M940 2953l17 39-12 37-17-17z"/>
<path color="#0043ff" d="M1028 3101l15 17-11-30-16-34z"/>
<path color="#0012ff" d="M1610 3142l14 11 12-15-14-12z"/>
<path color="#03f" d="M857 3168l13-27-13 16-14 23z"/>
<path color="#0073ff" d="M1016 3054l16 34-11-28-17-54z"/>
<path color="#0000d0" d="M1822 3192l13 4 14 23-13-8z"/>
<path color="#a8ff57" d="M1539 2824l22 58 9-54-22-116z"/>
<path color="#00c4ff" d="M992 2962l18 78-12-9-17-89z"/>
<path color="#0000f1" d="M1598 3161l14 10 12-18-14-11z"/>
<path color="#f30" d="M1525 2819l23-107 8-126-24 207z"/>
<path color="#000080" d="M1563 3242l12 5 12-28-12-7z"/>
<path color="#00a4ff" d="M1004 3006l17 54-11-20-18-78z"/>
<path color="#0063ff" d="M1661 3120l14 3 13-4-15-2z"/>
<path color="#0000d0" d="M1587 3185l13 8 12-22-14-10z"/>
<path color="#0000a0" d="M1575 3212l12 7 13-26-13-8z"/>
<path color="#000080" d="M1063 3247l11-5-11-36-13 5z"/>
<path color="#03f" d="M1768 3146l13-8 14 18-14 3z"/>
<path color="#0000d0" d="M817 3211l12-18-13 12-13 17z"/>
<path color="#0063ff" d="M1714 3123l14-11 13 11-14 6z"/>
<path color="#f9ff06" d="M1556 2586l23 217 9 18-24-120z"/>
<path color="#0000c0" d="M1050 3211l13-5-12-34-13 4z"/>
<path color="#0053ff" d="M1649 3127l13 3 13-7-14-3z"/>
<path color="#00d4ff" d="M897 3104l14-56-13 35-15 42z"/>
<path color="#0002ff" d="M1038 3176l13-4-12-33-13 2z"/>
<path color="#0053ff" d="M870 3157l13-32-13 16-13 27z"/>
<path color="#0002ff" d="M1808 3174l13-2 14 24-13-4z"/>
<path color="#03f" d="M1636 3138l14 3 12-11-13-3z"/>
<path color="#0000f1" d="M831 3201l12-21-14 13-12 18z"/>
<path color="#0084ff" d="M1701 3120l13-15 14 7-14 11z"/>
<path color="#0043ff" d="M1026 3141l13-2-11-38-14-5z"/>
<path color="#0053ff" d="M1754 3134l13-15 14 19-13 8z"/>
<path color="#e9ff16" d="M1548 2712l22 116 9-25-23-217z"/>
<path color="#02f" d="M1624 3153l13 3 13-15-14-3z"/>
<path color="#000090" d="M778 3246l11-14-14 11-11 12z"/>
<path color="#000080" d="M1575 3247l11 6 12-29-11-5z"/>
<path color="#98ff67" d="M924 3010l16-57-12 59-17 36z"/>
<path color="#0002ff" d="M1612 3171l12 4 13-19-13-3z"/>
<path color="#000080" d="M1052 3253l11-6-13-36-11 7z"/>
<path color="#0000a0" d="M1587 3219l11 5 13-26-11-5z"/>
<path color="#0000b0" d="M1849 3219l10 9 14 27-10-12z"/>
<path color="#0000d0" d="M1600 3193l11 5 13-23-12-4z"/>
<path color="#0084ff" d="M1014 3096l14 5-12-47-15-14z"/>
<path color="#0073ff" d="M884 3147l13-43-14 21-13 32z"/>
<path color="#0094ff" d="M1688 3119l13-16 13 2-13 15z"/>
<path color="#0012ff" d="M845 3192l12-24-14 12-12 21z"/>
<path color="#0000c0" d="M1039 3218l11-7-12-35-12 10z"/>
<path color="#57ffa8" d="M952 2864l17 93-12 35-17-39z"/>
<path color="#0000b0" d="M793 3237l10-15-14 10-11 14z"/>
<path color="#03f" d="M1795 3156l12-7 14 23-13 2z"/>
<path color="#16ffe9" d="M910 3085l14-75-13 38-14 56z"/>
<path color="#0002ff" d="M1026 3186l12-10-12-35-12 12z"/>
<path color="#0073ff" d="M1741 3123l13-25 13 21-13 15z"/>
<path color="#0084ff" d="M1675 3123l13-16 13-4-13 16z"/>
<path color="#02f" d="M859 3184l11-27-13 11-12 24z"/>
<path color="#0053ff" d="M1014 3153l12-12-12-45-13 20z"/>
<path color="#00d4ff" d="M1001 3040l15 14-12-48-15-35z"/>
<path color="#0000c0" d="M807 3228l10-17-14 11-10 15z"/>
<path color="#0000f1" d="M1835 3196l10 4 14 28-10-9z"/>
<path color="#00a4ff" d="M898 3139l12-54-13 19-13 43z"/>
<path color="#0063ff" d="M1662 3130l13-13 13-10-13 16z"/>
<path color="#000080" d="M1586 3253l9 6 13-32-10-3zm-544 6l10-6-13-35-10 10z"/>
<path color="#0053ff" d="M1650 3141l11-7 14-17-13 13z"/>
<path color="#0000b0" d="M1598 3224l10 3 14-29-11 0z"/>
<path color="#0063ff" d="M1781 3138l12-17 14 28-12 7z"/>
<path color="#00a4ff" d="M1728 3112l12-30 14 16-13 25z"/>
<path color="#0000c0" d="M1029 3228l10-10-13-32-10 14z"/>
<path color="#03f" d="M1637 3156l11-4 13-18-11 7z"/>
<path color="#0000e1" d="M1611 3198l11 0 13-25-11 2z"/>
<path color="#0002ff" d="M1624 3175l11-2 13-21-11 4z"/>
<path color="#00b4ff" d="M1001 3116l13-20-13-56-13 30z"/>
<path color="#0043ff" d="M873 3177l11-30-14 10-11 27z"/>
<path color="#0000e1" d="M821 3219l10-18-14 10-10 17z"/>
<path color="#57ffa8" d="M923 3071l14-96-13 35-14 75z"/>
<path color="#0002ff" d="M1016 3200l10-14-12-33-11 20z"/>
<path color="#00c4ff" d="M911 3134l12-63-13 14-12 54z"/>
<path color="#ffd500" d="M937 2975l15-111-12 89-16 57z"/>
<path color="#0043ff" d="M1003 3173l11-20-13-37-12 31z"/>
<path color="#02f" d="M1821 3172l10 1 14 27-10-4z"/>
<path color="#16ffe9" d="M989 2971l15 35-12-44-15-90z"/>
<path color="#0000f1" d="M835 3211l10-19-14 9-10 18z"/>
<path color="#0053ff" d="M887 3171l11-32-14 8-11 30z"/>
<path color="#00b4ff" d="M1714 3105l12-34 14 11-12 30z"/>
<path color="#000090" d="M770 3259l8-13-14 9-9 12z"/>
<path color="#0084ff" d="M989 3147l12-31-13-46-12 49z"/>
<path color="#000080" d="M1034 3265l8-6-13-31-9 11z"/>
<path color="#16ffe9" d="M988 3070l13-30-12-69-14 51z"/>
<path color="#000080" d="M1595 3259l8 6 14-36-9-2z"/>
<path color="#0094ff" d="M1767 3119l12-31 14 33-12 17z"/>
<path color="#00d4ff" d="M925 3132l11-66-13 5-12 63z"/>
<path color="#0000b0" d="M1859 3228l8 10 15 29-9-12zm-839 11l9-11-13-28-9 15z"/>
<path color="#0012ff" d="M850 3204l9-20-14 8-10 19z"/>
<path color="#67ff98" d="M964 2745l17 197-12 15-17-93zm-28 321l14-107-13 16-14 96z"/>
<path color="#0073ff" d="M901 3168l10-34-13 5-11 32z"/>
<path color="#0000a0" d="M784 3250l9-13-15 9-8 13z"/>
<path color="#00d4ff" d="M976 3119l12-49-13-48-12 70z"/>
<path color="#0000e1" d="M1007 3215l9-15-13-27-10 21z"/>
<path color="#0000b0" d="M1608 3227l9 2 14-33-9 2z"/>
<path color="#00d4ff" d="M1701 3103l12-36 13 4-12 34z"/>
<path color="#00c4ff" d="M939 3136l11-62-14-8-11 66z"/>
<path color="#0012ff" d="M993 3194l10-21-14-26-10 27z"/>
<path color="#0063ff" d="M1807 3149l9-7 15 31-10-1z"/>
<path color="#0043ff" d="M979 3174l10-27-13-28-10 39z"/>
<path color="#0000f1" d="M1622 3198l9-2 13-30-9 7z"/>
<path color="#00a4ff" d="M952 3145l11-53-13-18-11 62z"/>
<path color="#16ffe9" d="M963 3092l12-70-13-43-12 95z"/>
<path color="#0073ff" d="M966 3158l10-39-13-27-11 53z"/>
<path color="#57ffa8" d="M950 3074l12-95-12-20-14 107z"/>
<path color="#0084ff" d="M915 3168l10-36-14 2-10 34z"/>
<path color="#02f" d="M864 3199l9-22-14 7-9 20z"/>
<path color="#0000c0" d="M799 3241l8-13-14 9-9 13z"/>
<path color="#57ffa8" d="M977 2872l15 90-11-20-17-197z"/>
<path color="#00c4ff" d="M1688 3107l11-35 14-5-12 36z"/>
<path color="#02f" d="M1635 3173l9-7 14-28-10 14z"/>
<path color="#0000f1" d="M1845 3200l8 9 14 29-8-10z"/>
<path color="#98ff67" d="M975 3022l14-51-12-99-15 107z"/>
<path color="#0053ff" d="M1648 3152l10-14 14-30-11 26z"/>
<path color="#00a4ff" d="M1675 3117l10-31 14-14-11 35z"/>
<path color="#00d4ff" d="M1754 3098l11-41 14 31-12 31z"/>
<path color="#0073ff" d="M929 3170l10-34-14-4-10 36z"/>
<path color="#0084ff" d="M1661 3134l11-26 13-22-10 31z"/>
<path color="#000080" d="M1027 3272l7-7-14-26-7 11z"/>
<path color="#03f" d="M878 3194l9-23-14 6-9 22z"/>
<path color="#0000d0" d="M813 3233l8-14-14 9-8 13z"/>
<path color="#000080" d="M1603 3265l7 7 14-42-7-1z"/>
<path color="#0000a0" d="M1013 3250l7-11-13-24-8 15z"/>
<path color="#0053ff" d="M943 3176l9-31-13-9-10 34z"/>
<path color="#0000d0" d="M999 3230l8-15-14-21-8 18z"/>
<path color="#0043ff" d="M957 3185l9-27-14-13-9 31z"/>
<path color="#0002ff" d="M985 3212l8-18-14-20-8 23z"/>
<path color="#02f" d="M971 3197l8-23-13-16-9 27z"/>
<path color="#0053ff" d="M893 3191l8-23-14 3-9 23z"/>
<path color="#0000f1" d="M828 3226l7-15-14 8-8 14z"/>
<path color="#00b4ff" d="M1793 3121l9-21 14 42-9 7z"/>
<path color="#f30" d="M950 2959l14-214-12 119-15 111z"/>
<path color="#0000c0" d="M1617 3229l7 1 14-39-7 5z"/>
<path color="#0063ff" d="M907 3191l8-23-14 0-8 23z"/>
<path color="#03f" d="M1831 3173l7 7 15 29-8-9z"/>
<path color="#06fff9" d="M1740 3082l11-52 14 27-11 41z"/>
<path color="#0002ff" d="M842 3219l8-15-15 7-7 15z"/>
<path color="#000090" d="M764 3271l6-12-15 8-6 13z"/>
<path color="#0053ff" d="M921 3193l8-23-14-2-8 23z"/>
<path color="#ffd500" d="M962 2979l15-107-13-127-14 214z"/>
<path color="#000080" d="M1021 3278l6-6-14-22-6 9z"/>
<path color="#0002ff" d="M1631 3196l7-5 14-36-8 11z"/>
<path color="#0000b0" d="M1867 3238l6 14 15 28-6-13z"/>
<path color="#0043ff" d="M935 3197l8-21-14-6-8 23z"/>
<path color="#0012ff" d="M857 3214l7-15-14 5-8 15z"/>
<path color="#0000a0" d="M1007 3259l6-9-14-20-6 12zm-228 2l5-11-14 9-6 12z"/>
<path color="#02f" d="M950 3205l7-20-14-9-8 21z"/>
<path color="#000080" d="M1610 3272l6 6 14-46-6-2z"/>
<path color="#0000c0" d="M993 3242l6-12-14-18-7 15z"/>
<path color="#0012ff" d="M964 3214l7-17-14-12-7 20z"/>
<path color="#0000f1" d="M978 3227l7-15-14-15-7 17z"/>
<path color="#0043ff" d="M1644 3166l8-11 14-45-8 28z"/>
<path color="#02f" d="M871 3209l7-15-14 5-7 15z"/>
<path color="#26ffd9" d="M1726 3071l10-61 15 20-11 52z"/>
<path color="#06fff9" d="M1779 3088l9-33 14 45-9 21z"/>
<path color="#0000c0" d="M793 3252l6-11-15 9-5 11z"/>
<path color="#0084ff" d="M1816 3142l8 2 14 36-7-7z"/>
<path color="#03f" d="M886 3207l7-16-15 3-7 15z"/>
<path color="#0000f1" d="M1853 3209l6 15 14 28-6-14z"/>
<path color="#0094ff" d="M1658 3138l8-28 14-41-8 39z"/>
<path color="#0000d0" d="M808 3244l5-11-14 8-6 11zm816-14l6 2 15-44-7 3z"/>
<path color="#0053ff" d="M900 3206l7-15-14 0-7 16z"/>
<path color="#37ffc8" d="M1713 3067l9-64 14 7-10 61z"/>
<path color="#000080" d="M1017 3285l4-7-14-19-5 8z"/>
<path color="#0043ff" d="M915 3207l6-14-14-2-7 15z"/>
<path color="#0000e1" d="M823 3236l5-10-15 7-5 11z"/>
<path color="#00d4ff" d="M1672 3108l8-39 14-35-9 52z"/>
<path color="#0000a0" d="M1002 3267l5-8-14-17-6 10z"/>
<path color="#03f" d="M929 3211l6-14-14-4-6 14z"/>
<path color="#26ffd9" d="M1699 3072l9-61 14-8-9 64z"/>
<path color="#0000c0" d="M987 3252l6-10-15-15-5 11z"/>
<path color="#000080" d="M1616 3278l5 7 14-48-5-5z"/>
<path color="#06fff9" d="M1685 3086l9-52 14-23-9 61z"/>
<path color="#0012ff" d="M944 3218l6-13-15-8-6 14z"/>
<path color="#0000e1" d="M973 3238l5-11-14-13-6 13z"/>
<path color="#0002ff" d="M958 3227l6-13-14-9-6 13zm-121 1l5-9-14 7-5 10z"/>
<path color="#02f" d="M1638 3191l7-3 14-48-7 15zm200-11l6 16 15 28-6-15z"/>
<path color="#00e5ff" d="M1802 3100l7-3 15 47-8-2z"/>
<path color="#57ffa8" d="M1765 3057l8-50 15 48-9 33z"/>
<path color="#0012ff" d="M852 3222l5-8-15 5-5 9z"/>
<path color="#000090" d="M760 3282l4-11-15 9-4 13z"/>
<path color="#02f" d="M867 3217l4-8-14 5-5 8z"/>
<path color="#0000a0" d="M1873 3252l4 16 15 25-4-13z"/>
<path color="#0000e1" d="M1630 3232l5 5 15-45-5-4z"/>
<path color="#000080" d="M1013 3292l4-7-15-18-3 7z"/>
<path color="#0000a0" d="M775 3271l4-10-15 10-4 11z"/>
<path color="#0084ff" d="M1652 3155l7-15 14-58-7 28z"/>
<path color="#03f" d="M881 3214l5-7-15 2-4 8z"/>
<path color="#0063ff" d="M1824 3144l5 21 15 31-6-16z"/>
<path color="#0000a0" d="M999 3274l3-7-15-15-3 6z"/>
<path color="#0043ff" d="M896 3213l4-7-14 1-5 7z"/>
<path color="#0000c0" d="M790 3261l3-9-14 9-4 10z"/>
<path color="#000080" d="M1621 3285l3 7 15-46-4-9z"/>
<path color="#0000c0" d="M984 3258l3-6-14-14-4 7z"/>
<path color="#03f" d="M911 3214l4-7-15-1-4 7z"/>
<path color="#0000e1" d="M969 3245l4-7-15-11-3 6z"/>
<path color="#98ff67" d="M1751 3030l8-73 14 50-8 50z"/>
<path color="#0000d0" d="M1859 3224l3 20 15 24-4-16z"/>
<path color="#02f" d="M925 3218l4-7-14-4-4 7z"/>
<path color="#0000f1" d="M955 3233l3-6-14-9-4 6z"/>
<path color="#0012ff" d="M940 3224l4-6-15-7-4 7z"/>
<path color="#0000d0" d="M805 3250l3-6-15 8-3 9z"/>
<path color="#47ffb8" d="M1788 3055l7-11 14 53-7 3z"/>
<path color="#03f" d="M1645 3188l5 4 14-54-5 2z"/>
<path color="#00e5ff" d="M1666 3110l7-28 15-59-8 46z"/>
<path color="#0000e1" d="M819 3241l4-5-15 8-3 6z"/>
<path color="#0000d0" d="M1635 3237l4 9 14-42-3-12z"/>
<path color="#000080" d="M1011 3299l2-7-14-18-3 6z"/>
<path color="#0002ff" d="M834 3232l3-4-14 8-4 5zm1010-36l3 24 15 24-3-20z"/>
<path color="#00b4ff" d="M1809 3097l6 26 14 42-5-21z"/>
<path color="#000080" d="M1624 3292l2 7 15-40-2-13z"/>
<path color="#0012ff" d="M849 3224l3-2-15 6-3 4z"/>
<path color="#0000a0" d="M996 3280l3-6-15-16-2 5z"/>
<path color="#d9ff26" d="M1736 3010l9-97 14 44-8 73z"/>
<path color="#47ffb8" d="M1680 3069l8-46 14-58-8 69z"/>
<path color="#02f" d="M864 3218l3-1-15 5-3 2z"/>
<path color="#0000c0" d="M982 3263l2-5-15-13-2 2z"/>
<path color="#000090" d="M759 3293l1-11-15 11-1 13z"/>
<path color="#00a4ff" d="M1659 3140l5-2 15-64-6 8z"/>
<path color="#03f" d="M878 3214l3 0-14 3-3 1zm951-49l4 30 14 25-3-24z"/>
<path color="#0000e1" d="M967 3247l2-2-14-12-3 2z"/>
<path color="#0000a0" d="M1877 3268l1 17 15 21-1-13z"/>
<path color="#b8ff47" d="M1773 3007l7-23 15 60-7 11z"/>
<path color="#0043ff" d="M893 3212l3 1-15 1-3 0z"/>
<path color="#02f" d="M1650 3192l3 12 15-48-4-18z"/>
<path color="#0002ff" d="M952 3235l3-2-15-9-3 1z"/>
<path color="#0000a0" d="M774 3280l1-9-15 11-1 11z"/>
<path color="#03f" d="M908 3214l3 0-15-1-3-1z"/>
<path color="#0012ff" d="M937 3225l3-1-15-6-2 0z"/>
<path color="#02f" d="M923 3218l2 0-14-4-3 0z"/>
<path color="#0000c0" d="M1639 3246l2 13 14-37-2-18z"/>
<path color="#98ff67" d="M1694 3034l8-69 14-51-8 97z"/>
<path color="#e9ff16" d="M1722 3003l9-111 14 21-9 97z"/>
<path color="#000080" d="M1010 3306l1-7-15-19 0 4z"/>
<path color="#0000c0" d="M789 3267l1-6-15 10-1 9z"/>
<path color="#06fff9" d="M1795 3044l5 33 15 46-6-26z"/>
<path color="#0000c0" d="M1862 3244l1 21 15 20-1-17z"/>
<path color="#000080" d="M1626 3299l1 7 14-34 0-13z"/>
<path color="#d9ff26" d="M1708 3011l8-97 15-22-9 111z"/>
<path color="#0063ff" d="M1815 3123l3 43 15 29-4-30z"/>
<path color="#0000d0" d="M803 3254l2-4-15 11-1 6z"/>
<path color="#0000a0" d="M996 3284l0-4-14-17-1 1z"/>
<path color="#0000f1" d="M818 3241l1 0-14 9-2 4z"/>
<path color="#0000e1" d="M1847 3220l1 25 15 20-1-21z"/>
<path color="#26ffd9" d="M1673 3082l6-8 14-71-5 20z"/>
<path color="#0002ff" d="M1653 3204l2 18 15-35-2-31z"/>
<path color="#0000c0" d="M981 3264l1-1-15-16-1 0z"/>
<path color="#0084ff" d="M1664 3138l4 18 15-57-4-25z"/>
<path color="#0002ff" d="M833 3230l1 2-15 9-1 0z"/>
<path color="#0000b0" d="M1641 3259l0 13 15-31-1-19z"/>
<path color="#0000e1" d="M966 3247l1 0-15-12-1-4z"/>
<path color="#ffd500" d="M1759 2957l7-47 14 74-7 23z"/>
<path color="#02f" d="M848 3219l1 5-15 8-1-2z"/>
<path color="#0012ff" d="M1833 3195l1 30 14 20-1-25z"/>
<path color="#000080" d="M1011 3313l-1-7-14-22 0 4z"/>
<path color="#0094ff" d="M1800 3077l3 56 15 33-3-43z"/>
<path color="#000080" d="M1627 3306l-1 7 15-29 0-12z"/>
<path color="#0002ff" d="M951 3231l1 4-15-10 0-7z"/>
<path color="#03f" d="M863 3210l1 8-15 6-1-5z"/>
<path color="#57ffa8" d="M1780 2984l5 45 15 48-5-33z"/>
<path color="#0043ff" d="M877 3204l1 10-14 4-1-8z"/>
<path color="#02f" d="M937 3218l0 7-14-7-1-9z"/>
<path color="#000090" d="M760 3303l-1-10-15 13 1 12z"/>
<path color="#0043ff" d="M1668 3156l2 31 15-43-2-45z"/>
<path color="#0053ff" d="M892 3202l1 10-15 2-1-10z"/>
<path color="#03f" d="M922 3209l1 9-15-4-1-11z"/>
<path color="#0000f1" d="M1655 3222l1 19 15-27-1-27z"/>
<path color="#000090" d="M1878 3285l-1 16 15 17 1-12z"/>
<path color="#0043ff" d="M907 3203l1 11-15-2-1-10z"/>
<path color="#03f" d="M1818 3166l1 40 15 19-1-30z"/>
<path color="#0000a0" d="M996 3288l0-4-15-20 1 1z"/>
<path color="#0000b0" d="M775 3287l-1-7-15 13 1 10z"/>
<path color="#a8ff57" d="M1688 3023l5-20 15-82-6 44z"/>
<path color="#00e5ff" d="M1679 3074l4 25 14-58-4-38z"/>
<path color="#0000b0" d="M1641 3272l0 12 14-25 1-18zm222-7l-1 19 15 17 1-16z"/>
<path color="#0000d0" d="M790 3271l-1-4-15 13 1 7z"/>
<path color="#00d4ff" d="M1785 3029l3 71 15 33-3-56z"/>
<path color="#0000d0" d="M982 3265l-1-1-15-17 1-4z"/>
<path color="#0053ff" d="M1803 3133l1 53 15 20-1-40z"/>
<path color="#02f" d="M1670 3187l1 27 15-25-1-45z"/>
<path color="#0000d0" d="M1848 3245l-1 22 15 17 1-19z"/>
<path color="#000080" d="M1013 3319l-2-6-15-25 2 4zm613-6l-2 6 14-24 3-11z"/>
<path color="#0000e1" d="M804 3255l-1-1-14 13 1 4zm852-14l-1 18 15-21 1-24z"/>
<path color="#0084ff" d="M1683 3099l2 45 15-40-3-63z"/>
<path color="#0000f1" d="M967 3243l-1 4-15-16 1-8z"/>
<path color="#0002ff" d="M819 3238l-1 3-15 13 1 1z"/>
<path color="#0000f1" d="M1834 3225l-2 26 15 16 1-22z"/>
<path color="#98ff67" d="M1766 2910l5 68 14 51-5-45z"/>
<path color="#f30" d="M1745 2913l6-105 15 102-7 47z"/>
<path color="#0073ff" d="M1788 3100l1 64 15 22-1-53z"/>
<path color="#0053ff" d="M1685 3144l1 45 14-27 0-58z"/>
<path color="#02f" d="M834 3222l-1 8-15 11 1-3z"/>
<path color="#0000a0" d="M1641 3284l-3 11 15-21 2-15z"/>
<path color="#0012ff" d="M952 3223l-1 8-14-13 0-13z"/>
<path color="#0000b0" d="M998 3292l-2-4-14-23 2 1z"/>
<path color="#0012ff" d="M1819 3206l-1 30 14 15 2-26z"/>
<path color="#0002ff" d="M1671 3214l-1 24 15-18 1-31z"/>
<path color="#00f5ff" d="M1771 2978l3 94 14 28-3-71z"/>
<path color="#03f" d="M849 3206l-1 13-15 11 1-8z"/>
<path color="#47ffb8" d="M1693 3003l4 38 15-58-4-62z"/>
<path color="#ffd500" d="M1702 2965l6-44 14-108-6 101z"/>
<path color="#03f" d="M937 3205l0 13-15-9 1-25zm867-19l-1 36 15 14 1-30z"/>
<path color="#0094ff" d="M1774 3072l0 73 15 19-1-64z"/>
<path color="#00d4ff" d="M1697 3041l3 63 14-32-2-89z"/>
<path color="#0043ff" d="M863 3187l0 23-15 9 1-13z"/>
<path color="#000080" d="M1624 3319l-4 7 15-22 3-9zm-608 7l-3-7-15-27 4 6z"/>
<path color="#02f" d="M1686 3189l-1 31 15-15 0-43z"/>
<path color="#0000d0" d="M1655 3259l-2 15 15-18 2-18z"/>
<path color="#0073ff" d="M1700 3104l0 58 15-20-1-70z"/>
<path color="#0000e1" d="M984 3266l-2-1-15-22 2-2z"/>
<path color="#000090" d="M1877 3301l-4 15 15 15 4-13zm-1113 12l-4-10-15 15 4 13z"/>
<path color="#0053ff" d="M923 3184l-1 25-15-6 1-33z"/>
<path color="#0063ff" d="M878 3172l-1 32-14 6 0-23z"/>
<path color="#0043ff" d="M1789 3164l-1 45 15 13 1-36z"/>
<path color="#0063ff" d="M908 3170l-1 33-15-1 1-36z"/>
<path color="#0073ff" d="M893 3166l-1 36-15 2 1-32z"/>
<path color="#00b4ff" d="M1759 3051l1 82 14 12 0-73z"/>
<path color="#0000b0" d="M1862 3284l-4 17 15 15 4-15zm-1084 11l-3-8-15 16 4 10z"/>
<path color="#0043ff" d="M1700 3162l0 43 14-12 1-51z"/>
<path color="#26ffd9" d="M1756 2933l3 118 15 21-3-94z"/>
<path color="#00a4ff" d="M1714 3072l1 70 15-12-1-80z"/>
<path color="#0000f1" d="M1670 3238l-2 18 14-15 3-21z"/>
<path color="#0063ff" d="M1774 3145l-1 53 15 11 1-45z"/>
<path color="#0000a0" d="M1638 3295l-3 9 15-19 3-11z"/>
<path color="#0000d0" d="M1847 3267l-3 19 14 15 4-17z"/>
<path color="#00c4ff" d="M1744 3043l1 84 15 6-1-82z"/>
<path color="#0000d0" d="M793 3276l-3-5-15 16 3 8z"/>
<path color="#00b4ff" d="M1729 3050l1 80 15-3-1-84z"/>
<path color="#0012ff" d="M969 3241l-2 2-15-20 2-8z"/>
<path color="#06fff9" d="M1712 2983l2 89 15-22-2-117z"/>
<path color="#0000b0" d="M1002 3298l-4-6-14-26 3 5z"/>
<path color="#0063ff" d="M1715 3142l-1 51 15-8 1-55z"/>
<path color="#0073ff" d="M1760 3133l-1 55 14 10 1-53z"/>
<path color="#d9ff26" d="M1751 2808l5 125 15 45-5-68z"/>
<path color="#0000e1" d="M1832 3251l-3 21 15 14 3-19z"/>
<path color="#0073ff" d="M1730 3130l-1 55 15-1 1-57z"/>
<path color="#0094ff" d="M1745 3127l-1 57 15 4 1-55z"/>
<path color="#0012ff" d="M1685 3220l-3 21 15-11 3-25z"/>
<path color="#0002ff" d="M808 3256l-4-1-14 16 3 5z"/>
<path color="#900000" d="M1731 2892l6-202 14 118-6 105z"/>
<path color="#37ffc8" d="M1741 2912l3 131 15 8-3-118z"/>
<path color="#000080" d="M1620 3326l-4 7 14-22 5-7z"/>
<path color="#0002ff" d="M1818 3236l-4 23 15 13 3-21z"/>
<path color="#000080" d="M1021 3333l-5-7-14-28 5 8z"/>
<path color="#0000d0" d="M1653 3274l-3 11 14-17 4-12z"/>
<path color="#ff4300" d="M1716 2914l6-101 15-123-6 202z"/>
<path color="#98ff67" d="M1708 2921l4 62 15-50-5-120z"/>
<path color="#26ffd9" d="M1727 2933l2 117 15-7-3-131z"/>
<path color="#03f" d="M1700 3205l-3 25 15-7 2-30z"/>
<path color="#02f" d="M822 3235l-3 3-15 17 4 1z"/>
<path color="#0012ff" d="M1803 3222l-3 25 14 12 4-23z"/>
<path color="#03f" d="M954 3215l-2 8-15-18 3-27zm834-6l-3 27 15 11 3-25z"/>
<path color="#0000f1" d="M987 3271l-3-5-15-25 4 3z"/>
<path color="#0043ff" d="M1714 3193l-2 30 14-4 3-34zm59 5l-3 30 15 8 3-27zm-936 13l-3 11-15 16 3-3z"/>
<path color="#0000f1" d="M1668 3256l-4 12 15-13 3-14z"/>
<path color="#0063ff" d="M1729 3185l-3 34 15 0 3-35z"/>
<path color="#0053ff" d="M1759 3188l-3 34 14 6 3-30z"/>
<path color="#0073ff" d="M1744 3184l-3 35 15 3 3-34z"/>
<path color="#0000a0" d="M1635 3304l-5 7 14-20 6-6z"/>
<path color="#0000b0" d="M1007 3306l-5-8-15-27 5 10z"/>
<path color="#0053ff" d="M852 3177l-3 29-15 16 3-11zm88 1l-3 27-14-21 2-45z"/>
<path color="#0012ff" d="M1682 3241l-3 14 14-10 4-15z"/>
<path color="#000090" d="M1873 3316l-6 13 15 15 6-13z"/>
<path color="#0000a0" d="M770 3324l-6-11-15 18 6 13z"/>
<path color="#02f" d="M973 3244l-4-3-15-26 4-1z"/>
<path color="#000080" d="M1616 3333l-6 6 14-23 6-5zm-589 6l-6-6-14-27 6 10z"/>
<path color="#0000b0" d="M1858 3301l-5 14 14 14 6-13z"/>
<path color="#0000d0" d="M1650 3285l-6 6 15-16 5-7z"/>
<path color="#02f" d="M1697 3230l-4 15 15-6 4-16z"/>
<path color="#0000c0" d="M784 3305l-6-10-14 18 6 11zm1060-19l-6 15 15 14 5-14z"/>
<path color="#0084ff" d="M866 3140l-3 47-14 19 3-29z"/>
<path color="#e9ff16" d="M1737 2690l4 222 15 21-5-125z"/>
<path color="#0000e1" d="M1829 3272l-5 16 14 13 6-15z"/>
<path color="#d9ff26" d="M1722 2813l5 120 14-21-4-222z"/>
<path color="#0043ff" d="M1712 3223l-4 16 14-3 4-17z"/>
<path color="#0000f1" d="M992 3281l-5-10-14-27 5 12zm-193 3l-6-8-15 19 6 10z"/>
<path color="#0084ff" d="M925 3139l-2 45-15-14 2-67z"/>
<path color="#0000f1" d="M1814 3259l-5 16 15 13 5-16z"/>
<path color="#0053ff" d="M1726 3219l-4 17 15 1 4-18z"/>
<path color="#0012ff" d="M1800 3247l-5 17 14 11 5-16z"/>
<path color="#0000f1" d="M1664 3268l-5 7 14-13 6-7z"/>
<path color="#0063ff" d="M1741 3219l-4 18 14 3 5-18z"/>
<path color="#00a4ff" d="M881 3106l-3 66-15 15 3-47z"/>
<path color="#0000a0" d="M1630 3311l-6 5 14-22 6-3z"/>
<path color="#02f" d="M1785 3236l-5 18 15 10 5-17z"/>
<path color="#0012ff" d="M813 3263l-5-7-15 20 6 8z"/>
<path color="#0043ff" d="M1770 3228l-4 18 14 8 5-18z"/>
<path color="#0053ff" d="M1756 3222l-5 18 15 6 4-18z"/>
<path color="#0000b0" d="M1013 3316l-6-10-15-25 7 14z"/>
<path color="#0063ff" d="M958 3214l-4 1-14-37 4-10z"/>
<path color="#00a4ff" d="M910 3103l-2 67-15-4 3-78z"/>
<path color="#00b4ff" d="M896 3088l-3 78-15 6 3-66z"/>
<path color="#000080" d="M1034 3346l-7-7-14-23 7 11z"/>
<path color="#0043ff" d="M828 3239l-6-4-14 21 5 7z"/>
<path color="#000080" d="M1610 3339l-7 7 14-27 7-3z"/>
<path color="#0012ff" d="M1679 3255l-6 7 14-10 6-7z"/>
<path color="#03f" d="M978 3256l-5-12-15-30 6 17z"/>
<path color="#0000d0" d="M1644 3291l-6 3 14-18 7-1z"/>
<path color="#0073ff" d="M842 3207l-5 4-15 24 6 4z"/>
<path color="#03f" d="M1693 3245l-6 7 15-6 6-7z"/>
<path color="#0000f1" d="M999 3295l-7-14-14-25 7 19z"/>
<path color="#0043ff" d="M1708 3239l-6 7 14-3 6-7z"/>
<path color="#0000b0" d="M1020 3327l-7-11-14-21 7 14z"/>
<path color="#000090" d="M1867 3329l-8 12 14 15 9-12z"/>
<path color="#0000b0" d="M1624 3316l-7 3 13-25 8 0z"/>
<path color="#0000a0" d="M778 3338l-8-14-15 20 9 12z"/>
<path color="#00a4ff" d="M944 3168l-4 10-15-39 4-30z"/>
<path color="#0002ff" d="M1659 3275l-7 1 14-15 7 1z"/>
<path color="#00b4ff" d="M857 3164l-5 13-15 34 5-4z"/>
<path color="#0053ff" d="M1722 3236l-6 7 14 1 7-7z"/>
<path color="#0000b0" d="M1853 3315l-9 12 15 14 8-12z"/>
<path color="#000080" d="M1042 3352l-8-6-14-19 9 9z"/>
<path color="#0000c0" d="M1838 3301l-8 11 14 15 9-12z"/>
<path color="#0000d0" d="M792 3319l-8-14-14 19 8 14z"/>
<path color="#0063ff" d="M1737 3237l-7 7 14 3 7-7z"/>
<path color="#000080" d="M1603 3346l-8 6 13-31 9-2z"/>
<path color="#0084ff" d="M964 3231l-6-17-14-46 5 28z"/>
<path color="#0000e1" d="M1824 3288l-8 10 14 14 8-11z"/>
<path color="#0002ff" d="M1809 3275l-7 10 14 13 8-10z"/>
<path color="#02f" d="M985 3275l-7-19-14-25 7 25z"/>
<path color="#0053ff" d="M1751 3240l-7 7 15 7 7-8z"/>
<path color="#0012ff" d="M1795 3264l-8 9 15 12 7-10z"/>
<path color="#0043ff" d="M1766 3246l-7 8 14 8 7-8z"/>
<path color="#02f" d="M1780 3254l-7 8 14 11 8-9z"/>
<path color="#0000f1" d="M806 3299l-7-15-15 21 8 14z"/>
<path color="#02f" d="M1673 3262l-7-1 14-11 7 2z"/>
<path color="#0000e1" d="M1006 3309l-7-14-14-20 8 19z"/>
<path color="#02f" d="M821 3279l-8-16-14 21 7 15z"/>
<path color="#0000e1" d="M1638 3294l-8 0 14-22 8 4z"/>
<path color="#00e5ff" d="M871 3108l-5 32-14 37 5-13z"/>
<path color="#0000a0" d="M1029 3336l-9-9-14-18 9 13z"/>
<path color="#0053ff" d="M835 3257l-7-18-15 24 8 16z"/>
<path color="#0043ff" d="M1687 3252l-7-2 14-8 8 4z"/>
<path color="#000080" d="M1051 3358l-9-6-13-16 10 9z"/>
<path color="#0063ff" d="M971 3256l-7-25-15-35 8 43z"/>
<path color="#0000b0" d="M1617 3319l-9 2 13-29 9 2z"/>
<path color="#00a4ff" d="M849 3233l-7-26-14 32 7 18z"/>
<path color="#0012ff" d="M993 3294l-8-19-14-19 8 25z"/>
<path color="#000080" d="M1595 3352l-10 6 13-35 10-2z"/>
<path color="#00e5ff" d="M929 3109l-4 30-15-36 5-81z"/>
<path color="#0053ff" d="M1702 3246l-8-4 14-3 8 4z"/>
<path color="#00e5ff" d="M949 3196l-5-28-15-59 6 48z"/>
<path color="#0012ff" d="M1652 3276l-8-4 14-19 8 8z"/>
<path color="#0000d0" d="M1015 3322l-9-13-13-15 9 16z"/>
<path color="#0063ff" d="M1716 3243l-8-4 14 0 8 5z"/>
<path color="#00f5ff" d="M864 3198l-7-34-15 43 7 26z"/>
<path color="#16ffe9" d="M886 3021l-5 85-15 34 5-32z"/>
<path color="#0000a0" d="M1039 3345l-10-9-14-14 11 11z"/>
<path color="#03f" d="M979 3281l-8-25-14-17 8 31z"/>
<path color="#0073ff" d="M1730 3244l-8-5 14 5 8 3z"/>
<path color="#000090" d="M1859 3341l-11 11 14 17 11-13z"/>
<path color="#00a4ff" d="M957 3239l-8-43-14-39 8 63z"/>
<path color="#0000a0" d="M788 3352l-10-14-14 18 10 13z"/>
<path color="#0000b0" d="M1844 3327l-10 8 14 17 11-11z"/>
<path color="#0063ff" d="M1744 3247l-8-3 14 7 9 3z"/>
<path color="#000080" d="M1062 3364l-11-6-12-13 11 7z"/>
<path color="#0000d0" d="M1830 3312l-10 7 14 16 10-8z"/>
<path color="#0000c0" d="M802 3335l-10-16-14 19 10 14z"/>
<path color="#03f" d="M1666 3261l-8-8 13-17 9 14z"/>
<path color="#0000f1" d="M1816 3298l-10 5 14 16 10-7zm-186-4l-9-2 13-27 10 7z"/>
<path color="#0053ff" d="M1759 3254l-9-3 14 11 9 0z"/>
<path color="#0002ff" d="M1802 3285l-10 3 14 15 10-5z"/>
<path color="#0000f1" d="M1002 3310l-9-16-14-13 10 20z"/>
<path color="#03f" d="M1773 3262l-9 0 14 12 9-1z"/>
<path color="#02f" d="M1787 3273l-9 1 14 14 10-3z"/>
<path color="#0000f1" d="M816 3318l-10-19-14 20 10 16z"/>
<path color="#000080" d="M1585 3358l-11 6 13-36 11-5z"/>
<path color="#0012ff" d="M830 3300l-9-21-15 20 10 19z"/>
<path color="#0000c0" d="M1608 3321l-10 2 13-33 10 2z"/>
<path color="#57ffa8" d="M878 3161l-7-53-14 56 7 34z"/>
<path color="#0043ff" d="M844 3283l-9-26-14 22 9 21z"/>
<path color="#0053ff" d="M965 3270l-8-31-14-19 9 42z"/>
<path color="#0000c0" d="M1026 3333l-11-11-13-12 11 13z"/>
<path color="#0073ff" d="M858 3265l-9-32-14 24 9 26z"/>
<path color="#0053ff" d="M1680 3250l-9-14 14-15 9 21z"/>
<path color="#57ffa8" d="M935 3157l-6-48-14-87 6 100z"/>
<path color="#0012ff" d="M989 3301l-10-20-14-11 11 23z"/>
<path color="#00e5ff" d="M943 3220l-8-63-14-35 8 85z"/>
<path color="#0000a0" d="M1050 3352l-11-7-13-12 11 8z"/>
<path color="#00b4ff" d="M872 3248l-8-50-15 35 9 32z"/>
<path color="#26ffd9" d="M915 3022l-5 81-14-15 4-185z"/>
<path color="#000080" d="M1074 3370l-12-6-12-12 12 5z"/>
<path color="#37ffc8" d="M900 2903l-4 185-15 18 5-85z"/>
<path color="#03f" d="M1644 3272l-10-7 14-29 10 17z"/>
<path color="#0084ff" d="M952 3262l-9-42-14-13 9 52z"/>
<path color="#0000e1" d="M1013 3323l-11-13-13-9 11 14z"/>
<path color="#00e5ff" d="M886 3228l-8-67-14 37 8 50z"/>
<path color="#0084ff" d="M1694 3242l-9-21 13-8 10 26z"/>
<path color="#000080" d="M1574 3364l-11 6 11-35 13-7z"/>
<path color="#03f" d="M976 3293l-11-23-13-8 10 27z"/>
<path color="#e9ff16" d="M892 3125l-6-104-15 87 7 53z"/>
<path color="#26ffd9" d="M929 3207l-8-85-15-15 9 98z"/>
<path color="#16ffe9" d="M901 3212l-9-87-14 36 8 67z"/>
<path color="#00a4ff" d="M938 3259l-9-52-14-2 9 54z"/>
<path color="#0012ff" d="M1621 3292l-10-2 12-32 11 7z"/>
<path color="#0000c0" d="M1037 3341l-11-8-13-10 12 9z"/>
<path color="#0000d0" d="M1598 3323l-11 5 12-34 12-4z"/>
<path color="#37ffc8" d="M915 3205l-9-98-14 18 9 87z"/>
<path color="#0094ff" d="M1708 3239l-10-26 14-1 10 27z"/>
<path color="#0002ff" d="M1000 3315l-11-14-13-8 11 17z"/>
<path color="#00b4ff" d="M924 3259l-9-54-14 7 10 52z"/>
<path color="#0043ff" d="M962 3289l-10-27-14-3 11 29z"/>
<path color="#0000a0" d="M1062 3357l-12-5-13-11 13 5z"/>
<path color="#000090" d="M801 3366l-13-14-14 17 14 12z"/>
<path color="#0000b0" d="M815 3351l-13-16-14 17 13 14z"/>
<path color="#00a4ff" d="M911 3264l-10-52-15 16 11 44zm811-25l-10-27 14 7 10 25z"/>
<path color="#000090" d="M1848 3352l-13 9 14 20 13-12z"/>
<path color="#0000d0" d="M829 3337l-13-19-14 17 13 16z"/>
<path color="#0000f1" d="M842 3322l-12-22-14 18 13 19z"/>
<path color="#0063ff" d="M1658 3253l-10-17 13-31 10 31z"/>
<path color="#000080" d="M1087 3375l-13-5-12-13 13 3z"/>
<path color="#0084ff" d="M897 3272l-11-44-14 20 11 34z"/>
<path color="#02f" d="M856 3308l-12-25-14 17 12 22z"/>
<path color="#0053ff" d="M883 3282l-11-34-14 17 12 29z"/>
<path color="#0043ff" d="M870 3294l-12-29-14 18 12 25z"/>
<path color="#0000c0" d="M1834 3335l-13 6 14 20 13-9z"/>
<path color="#0000e1" d="M1820 3319l-12 3 13 19 13-6z"/>
<path color="#0094ff" d="M1736 3244l-10-25 13 13 11 19z"/>
<path color="#0002ff" d="M1806 3303l-12 0 14 19 12-3z"/>
<path color="#02f" d="M1792 3288l-12-4 14 19 12 0z"/>
<path color="#0073ff" d="M1750 3251l-11-19 14 17 11 13z"/>
<path color="#000080" d="M1563 3370l-13 5 11-30 13-10z"/>
<path color="#0043ff" d="M1778 3274l-11-7 13 17 12 4z"/>
<path color="#0053ff" d="M1764 3262l-11-13 14 18 11 7z"/>
<path color="#0000e1" d="M1025 3332l-12-9-13-8 13 10z"/>
<path color="#0063ff" d="M949 3288l-11-29-14 0 12 30z"/>
<path color="#02f" d="M987 3310l-11-17-14-4 13 18z"/>
<path color="#e9ff16" d="M921 3122l-6-100-15-119 6 204z"/>
<path color="#0073ff" d="M936 3289l-12-30-13 5 12 29z"/>
<path color="#0000c0" d="M1587 3328l-13 7 12-32 13-9z"/>
<path color="#ff7300" d="M906 3107l-6-204-14 118 6 104z"/>
<path color="#0000c0" d="M1050 3346l-13-5-12-9 14 4z"/>
<path color="#0053ff" d="M1634 3265l-11-7 13-44 12 22z"/>
<path color="#02f" d="M1611 3290l-12 4 12-35 12-1z"/>
<path color="#0063ff" d="M923 3293l-12-29-14 8 12 28z"/>
<path color="#03f" d="M975 3307l-13-18-13-1 13 19z"/>
<path color="#00a4ff" d="M1671 3236l-10-31 13-26 11 42z"/>
<path color="#0000a0" d="M1075 3360l-13-3-12-11 14 2z"/>
<path color="#0000f1" d="M1013 3325l-13-10-13-5 14 11z"/>
<path color="#000080" d="M1100 3380l-13-5-12-15 15 3zm450-5l-14 5 10-24 15-11z"/>
<path color="#0043ff" d="M909 3300l-12-28-14 10 13 26z"/>
<path color="#03f" d="M896 3308l-13-26-13 12 13 24z"/>
<path color="#0043ff" d="M962 3307l-13-19-13 1 13 20z"/>
<path color="#0000d0" d="M1039 3336l-14-4-12-7 14 4z"/>
<path color="#0012ff" d="M883 3318l-13-24-14 14 13 21z"/>
<path color="#0000b0" d="M1574 3335l-13 10 11-27 14-15z"/>
<path color="#0012ff" d="M1001 3321l-14-11-12-3 13 11z"/>
<path color="#0002ff" d="M869 3329l-13-21-14 14 14 19z"/>
<path color="#0000e1" d="M856 3341l-14-19-13 15 14 17z"/>
<path color="#00d4ff" d="M1685 3221l-11-42 13-17 11 51z"/>
<path color="#0000c0" d="M843 3354l-14-17-14 14 15 16z"/>
<path color="#0053ff" d="M949 3309l-13-20-13 4 13 20z"/>
<path color="#0000c0" d="M1064 3348l-14-2-11-10 14 1z"/>
<path color="#000080" d="M1115 3385l-15-5-10-17 15 1z"/>
<path color="#0000b0" d="M830 3367l-15-16-14 15 15 13z"/>
<path color="#000080" d="M1536 3380l-15 5 10-20 15-9z"/>
<path color="#000090" d="M816 3379l-15-13-13 15 15 11z"/>
<path color="#0000a0" d="M1090 3363l-15-3-11-12 15-1z"/>
<path color="#0012ff" d="M1599 3294l-13 9 12-31 13-13z"/>
<path color="#0000a0" d="M1835 3361l-15 8 13 23 16-11z"/>
<path color="#00b4ff" d="M1648 3236l-12-22 13-47 12 38z"/>
<path color="#02f" d="M988 3318l-13-11-13 0 14 12z"/>
<path color="#0043ff" d="M936 3313l-13-20-14 7 14 19z"/>
<path color="#0000c0" d="M1821 3341l-14 5 13 23 15-8z"/>
<path color="#0000f1" d="M1027 3329l-14-4-12-4 14 4zm781-7l-15 1 14 23 14-5z"/>
<path color="#0012ff" d="M1794 3303l-14-4 13 24 15-1z"/>
<path color="#00f5ff" d="M1698 3213l-11-51 14-3 11 53z"/>
<path color="#0073ff" d="M1623 3258l-12 1 12-52 13 7z"/>
<path color="#0000b0" d="M1561 3345l-15 11 11-22 15-16z"/>
<path color="#0043ff" d="M1780 3284l-13-8 13 23 14 4z"/>
<path color="#03f" d="M923 3319l-14-19-13 8 14 19z"/>
<path color="#0073ff" d="M1767 3267l-13-20 13 29 13 8z"/>
<path color="#00a4ff" d="M1753 3249l-13-32 14 30 13 20z"/>
<path color="#03f" d="M976 3319l-14-12-13 2 15 12z"/>
<path color="#06fff9" d="M1712 3212l-11-53 13 10 12 50z"/>
<path color="#0000e1" d="M1053 3337l-14-1-12-7 15-1z"/>
<path color="#000080" d="M1521 3385l-15 4 9-16 16-8z"/>
<path color="#0012ff" d="M910 3327l-14-19-13 10 15 18z"/>
<path color="#000080" d="M1131 3389l-16-4-10-21 17 2z"/>
<path color="#00c4ff" d="M1739 3232l-12-42 13 27 13 32z"/>
<path color="#00e5ff" d="M1726 3219l-12-50 13 21 12 42z"/>
<path color="#0012ff" d="M1015 3325l-14-4-13-3 15 4z"/>
<path color="#0000f1" d="M1586 3303l-14 15 11-25 15-21z"/>
<path color="#0002ff" d="M898 3336l-15-18-14 11 16 17z"/>
<path color="#0000c0" d="M1079 3347l-15 1-11-11 16-3z"/>
<path color="#0000a0" d="M1105 3364l-15-1-11-16 16-2z"/>
<path color="#0043ff" d="M964 3321l-15-12-13 4 15 12z"/>
<path color="#0000a0" d="M1546 3356l-15 9 10-17 16-14z"/>
<path color="#0000f1" d="M885 3346l-16-17-13 12 16 16z"/>
<path color="#0000d0" d="M872 3357l-16-16-13 13 16 14z"/>
<path color="#000080" d="M1506 3389l-17 4 8-15 18-5z"/>
<path color="#02f" d="M1003 3322l-15-4-12 1 16 4z"/>
<path color="#0000f1" d="M1042 3328l-15 1-12-4 16-3z"/>
<path color="#06fff9" d="M1661 3205l-12-38 13-48 12 60z"/>
<path color="#03f" d="M951 3325l-15-12-13 6 16 12z"/>
<path color="#000080" d="M1147 3393l-16-4-9-23 17 3z"/>
<path color="#0053ff" d="M1611 3259l-13 13 11-43 14-22z"/>
<path color="#0000c0" d="M859 3368l-16-14-13 13 16 13z"/>
<path color="#0000e1" d="M1572 3318l-15 16 10-19 16-22z"/>
<path color="#0000a0" d="M846 3380l-16-13-14 12 17 13zm685-15l-16 8 9-14 17-11z"/>
<path color="#02f" d="M939 3331l-16-12-13 8 17 12z"/>
<path color="#0000e1" d="M1069 3334l-16 3-11-9 16-6z"/>
<path color="#000090" d="M833 3392l-17-13-13 13 18 12z"/>
<path color="#0000b0" d="M1122 3366l-17-2-10-19 18-1z"/>
<path color="#03f" d="M992 3323l-16-4-12 2 16 4z"/>
<path color="#00e5ff" d="M1636 3214l-13-7 13-57 13 17z"/>
<path color="#000080" d="M1489 3393l-17 4 7-15 18-4z"/>
<path color="#0000a0" d="M1820 3369l-17 8 12 27 18-12z"/>
<path color="#0000d0" d="M1095 3345l-16 2-10-13 17-6z"/>
<path color="#0012ff" d="M1031 3322l-16 3-12-3 17-3z"/>
<path color="#000080" d="M1164 3397l-17-4-8-24 18 5z"/>
<path color="#0000e1" d="M1807 3346l-17 5 13 26 17-8z"/>
<path color="#0012ff" d="M927 3339l-17-12-12 9 16 12z"/>
<path color="#03f" d="M1598 3272l-15 21 11-26 15-38z"/>
<path color="#0000d0" d="M1557 3334l-16 14 9-15 17-18z"/>
<path color="#0012ff" d="M1793 3323l-16 1 13 27 17-5z"/>
<path color="#0043ff" d="M1780 3299l-16-3 13 28 16-1zm-800 26l-16-4-13 4 17 5z"/>
<path color="#0000f1" d="M914 3348l-16-12-13 10 17 12z"/>
<path color="#0000a0" d="M1515 3373l-18 5 9-12 18-7z"/>
<path color="#0084ff" d="M1767 3276l-16-14 13 34 16 3z"/>
<path color="#000080" d="M1472 3397l-18 3 7-16 18-2z"/>
<path color="#57ffa8" d="M1674 3179l-12-60 13-42 12 85z"/>
<path color="#000080" d="M1182 3400l-18-3-7-23 18 6z"/>
<path color="#0012ff" d="M1583 3293l-16 22 11-17 16-31z"/>
<path color="#0000e1" d="M902 3358l-17-12-13 11 18 12z"/>
<path color="#0002ff" d="M1058 3322l-16 6-11-6 17-9z"/>
<path color="#00c4ff" d="M1754 3247l-15-27 12 42 16 14z"/>
<path color="#0000b0" d="M1139 3369l-17-3-9-22 17 2z"/>
<path color="#02f" d="M1020 3319l-17 3-11 1 17-4z"/>
<path color="#0000c0" d="M1541 3348l-17 11 9-12 17-14z"/>
<path color="#03f" d="M968 3330l-17-5-12 6 17 6z"/>
<path color="#0000d0" d="M890 3369l-18-12-13 11 18 12z"/>
<path color="#0000f1" d="M1086 3328l-17 6-11-12 18-11z"/>
<path color="#16ffe9" d="M1740 3217l-14-43 13 46 15 27z"/>
<path color="#0000e1" d="M1113 3344l-18 1-9-17 18-6z"/>
<path color="#00b4ff" d="M1623 3207l-14 22 12-47 15-32z"/>
<path color="#0000a0" d="M1497 3378l-18 4 8-12 19-4z"/>
<path color="#000080" d="M1454 3400l-18 3 6-19 19 0zm-254 3l-18-3-7-20 19 6z"/>
<path color="#0000b0" d="M877 3380l-18-12-13 12 19 11z"/>
<path color="#0000f1" d="M1567 3315l-17 18 10-11 18-24z"/>
<path color="#02f" d="M956 3337l-17-6-12 8 18 6z"/>
<path color="#03f" d="M1009 3319l-17 4-12 2 17-4z"/>
<path color="#0000b0" d="M1157 3374l-18-5-9-23 19 6z"/>
<path color="#0000a0" d="M865 3391l-19-11-13 12 20 11z"/>
<path color="#57ffa8" d="M1727 3190l-14-63 13 47 14 43z"/>
<path color="#02f" d="M1048 3313l-17 9-11-3 17-12z"/>
<path color="#8f7" d="M1687 3162l-12-85 12-17 14 99z"/>
<path color="#0000c0" d="M1524 3359l-18 7 8-10 19-9z"/>
<path color="#0063ff" d="M1609 3229l-15 38 11-30 16-55z"/>
<path color="#000080" d="M1219 3405l-19-2-6-17 20 6z"/>
<path color="#0002ff" d="M945 3345l-18-6-13 9 19 6z"/>
<path color="#000080" d="M1436 3403l-19 2 5-22 20 1z"/>
<path color="#000090" d="M853 3403l-20-11-12 12 19 11z"/>
<path color="#57ffa8" d="M1649 3167l-13-17 12-71 14 40z"/>
<path color="#0000a0" d="M1479 3382l-18 2 6-14 20 0z"/>
<path color="#8f7" d="M1714 3169l-14-86 13 44 14 63z"/>
<path color="#03f" d="M1594 3267l-16 31 10-13 17-48z"/>
<path color="#0000e1" d="M1550 3333l-17 14 9-9 18-16z"/>
<path color="#0043ff" d="M997 3321l-17 4-12 5 18-3z"/>
<path color="#0000b0" d="M1803 3377l-20 10 13 28 19-11z"/>
<path color="#a8ff57" d="M1701 3159l-14-99 13 23 14 86z"/>
<path color="#000080" d="M1238 3407l-19-2-5-13 20 4z"/>
<path color="#0000f1" d="M933 3354l-19-6-12 10 19 7z"/>
<path color="#0000e1" d="M1790 3351l-19 8 12 28 20-10z"/>
<path color="#0000b0" d="M1175 3380l-18-6-8-22 20 10z"/>
<path color="#0000f1" d="M1130 3346l-17-2-9-22 18 0z"/>
<path color="#000080" d="M1417 3405l-19 2 4-25 20 1z"/>
<path color="#02f" d="M1777 3324l-18 6 12 29 19-8z"/>
<path color="#0012ff" d="M1076 3311l-18 11-10-9 18-16z"/>
<path color="#0000c0" d="M1506 3366l-19 4 7-11 20-3z"/>
<path color="#0053ff" d="M1764 3296l-18 4 13 30 18-6z"/>
<path color="#0012ff" d="M1578 3298l-18 24 10-9 18-28z"/>
<path color="#03f" d="M1037 3307l-17 12-11 0 18-14z"/>
<path color="#000080" d="M1258 3409l-20-2-4-11 21 2z"/>
<path color="#0000e1" d="M921 3365l-19-7-12 11 19 7z"/>
<path color="#0002ff" d="M1104 3322l-18 6-10-17 18-11z"/>
<path color="#03f" d="M986 3327l-18 3-12 7 19-3z"/>
<path color="#000080" d="M1398 3407l-20 2 3-27 21 0z"/>
<path color="#0000a0" d="M1461 3384l-19 0 5-17 20 3z"/>
<path color="#00a4ff" d="M1751 3262l-17-2 12 40 18-4z"/>
<path color="#0000b0" d="M1194 3386l-19-6-6-18 20 10z"/>
<path color="#000080" d="M1278 3410l-20-1-3-11 21 0z"/>
<path color="#0000e1" d="M1533 3347l-19 9 8-8 20-10z"/>
<path color="#0000d0" d="M909 3376l-19-7-13 11 21 8z"/>
<path color="#000080" d="M1378 3409l-20 1 2-25 21-3zm-80 2l-20-1-2-12 21-2zm20 0l-20 0-1-15 21-3z"/>
<path color="#0000f1" d="M1149 3352l-19-6-8-24 20 9z"/>
<path color="#000080" d="M1358 3410l-20 1 1-22 21-4z"/>
<path color="#02f" d="M975 3334l-19 3-11 8 19-1z"/>
<path color="#0002ff" d="M1560 3322l-18 16 9-5 19-20z"/>
<path color="#000080" d="M1338 3411l-20 0 0-18 21-4z"/>
<path color="#0000a0" d="M1214 3392l-20-6-5-14 20 8z"/>
<path color="#06fff9" d="M1739 3220l-17-9 12 49 17 2z"/>
<path color="#0043ff" d="M1027 3305l-18 14-12 2 20-14z"/>
<path color="#0000b0" d="M898 3388l-21-8-12 11 21 9z"/>
<path color="#0000c0" d="M1487 3370l-20 0 7-12 20 1z"/>
<path color="#06fff9" d="M1636 3150l-15 32 12-47 15-56z"/>
<path color="#0053ff" d="M1605 3237l-17 48 11-13 17-60z"/>
<path color="#0000b0" d="M1442 3384l-20-1 4-21 21 5z"/>
<path color="#0094ff" d="M1621 3182l-16 55 11-25 17-77z"/>
<path color="#03f" d="M1066 3297l-18 16-11-6 19-26z"/>
<path color="#0000a0" d="M1234 3396l-20-4-5-12 22 6z"/>
<path color="#03f" d="M1588 3285l-18 28 10-4 19-37z"/>
<path color="#0012ff" d="M964 3344l-19 1-12 9 20 1z"/>
<path color="#0000a0" d="M886 3400l-21-9-12 12 21 10z"/>
<path color="#0000e1" d="M1514 3356l-20 3 8-7 20-4z"/>
<path color="#0000f1" d="M1169 3362l-20-10-7-21 20 14z"/>
<path color="#02f" d="M1122 3322l-18 0-10-22 20-4z"/>
<path color="#67ff98" d="M1726 3174l-17-20 13 57 17 9z"/>
<path color="#0000a0" d="M1255 3398l-21-2-3-10 21 2z"/>
<path color="#0002ff" d="M1542 3338l-20 10 8-4 21-11z"/>
<path color="#0053ff" d="M1017 3307l-20 14-11 6 20-13z"/>
<path color="#000090" d="M874 3413l-21-10-13 12 22 10z"/>
<path color="#03f" d="M1094 3300l-18 11-10-14 19-29z"/>
<path color="#0000b0" d="M1422 3383l-20-1 3-24 21 4z"/>
<path color="#0000f1" d="M953 3355l-20-1-12 11 21 2z"/>
<path color="#0000d0" d="M1467 3370l-20-3 6-15 21 6z"/>
<path color="#02f" d="M1570 3313l-19 20 9-3 20-21z"/>
<path color="#0000a0" d="M1783 3387l-21 11 12 27 22-10z"/>
<path color="#0000e1" d="M1189 3372l-20-10-7-17 21 14z"/>
<path color="#0000a0" d="M1276 3398l-21 0-3-10 22 0z"/>
<path color="#d9ff26" d="M1662 3119l-14-40 12-99 15 97z"/>
<path color="#0000d0" d="M1771 3359l-21 13 12 26 21-11z"/>
<path color="#0012ff" d="M1759 3330l-21 14 12 28 21-13z"/>
<path color="#0043ff" d="M1746 3300l-19 16 11 28 21-14z"/>
<path color="#0000a0" d="M1297 3396l-21 2-2-10 22-4z"/>
<path color="#0000e1" d="M942 3367l-21-2-12 11 22 4z"/>
<path color="#0000c0" d="M1402 3382l-21 0 3-25 21 1z"/>
<path color="#0073ff" d="M1616 3212l-17 60 10-7 18-68z"/>
<path color="#0043ff" d="M1056 3281l-19 26-10-2 20-35zm-50 33l-20 13-11 7 21-11z"/>
<path color="#0000f1" d="M1494 3359l-20-1 6-9 22 3z"/>
<path color="#0000d0" d="M1209 3380l-20-8-6-13 22 12z"/>
<path color="#0043ff" d="M1599 3272l-19 37 9-1 20-43z"/>
<path color="#0073ff" d="M1734 3260l-19 22 12 34 19-16z"/>
<path color="#0000a0" d="M1318 3393l-21 3-1-12 22-6z"/>
<path color="#03f" d="M1142 3331l-20-9-8-26 20 13z"/>
<path color="#d9ff26" d="M1713 3127l-16-43 12 70 17 20z"/>
<path color="#0000b0" d="M1381 3382l-21 3 2-24 22-4z"/>
<path color="#0002ff" d="M1522 3348l-20 4 7-5 21-3z"/>
<path color="#0000a0" d="M1339 3389l-21 4 0-15 22-9z"/>
<path color="#0000b0" d="M1360 3385l-21 4 1-20 22-8z"/>
<path color="#0000d0" d="M931 3380l-22-4-11 12 21 5z"/>
<path color="#0000c0" d="M1231 3386l-22-6-4-9 22 7z"/>
<path color="#0000e1" d="M1447 3367l-21-5 5-19 22 9z"/>
<path color="#0012ff" d="M1551 3333l-21 11 8-2 22-12z"/>
<path color="#00c4ff" d="M1633 3135l-17 77 11-15 18-103zm89 76l-19 28 12 43 19-22z"/>
<path color="#03f" d="M996 3323l-21 11-11 10 21-9zm584-14l-20 21 9 0 20-22z"/>
<path color="#0000c0" d="M1252 3388l-21-2-4-8 22 3z"/>
<path color="#02f" d="M1162 3345l-20-14-8-22 22 20z"/>
<path color="#0000b0" d="M919 3393l-21-5-12 12 22 7z"/>
<path color="#0063ff" d="M1047 3270l-20 35-10 2 20-37z"/>
<path color="#0094ff" d="M1627 3197l-18 68 10 1 20-71z"/>
<path color="#0063ff" d="M1609 3265l-20 43 10 3 20-45z"/>
<path color="#0002ff" d="M1474 3358l-21-6 5-12 22 9z"/>
<path color="#0012ff" d="M985 3335l-21 9-11 11 22-6z"/>
<path color="#0053ff" d="M1085 3268l-19 29-10-16 20-48z"/>
<path color="#0063ff" d="M1114 3296l-20 4-9-32 21-14z"/>
<path color="#0000c0" d="M1274 3388l-22 0-3-7 23-1z"/>
<path color="#0002ff" d="M1183 3359l-21-14-6-16 21 20z"/>
<path color="#0000a0" d="M908 3407l-22-7-12 13 23 8z"/>
<path color="#06fff9" d="M1709 3154l-17 40 11 45 19-28z"/>
<path color="#0000f1" d="M1426 3362l-21-4 4-24 22 9z"/>
<path color="#57ffa8" d="M1648 3079l-15 56 12-41 15-114z"/>
<path color="#0012ff" d="M1502 3352l-22-3 7-6 22 4z"/>
<path color="#02f" d="M1530 3344l-21 3 7-2 22-3z"/>
<path color="#0000c0" d="M1296 3384l-22 4-2-8 23-6z"/>
<path color="#ff9400" d="M1700 3083l-15-100 12 101 16 43z"/>
<path color="#0000f1" d="M1205 3371l-22-12-6-10 23 14z"/>
<path color="#03f" d="M1560 3330l-22 12 9 1 22-13z"/>
<path color="#0043ff" d="M1589 3308l-20 22 9 4 21-23z"/>
<path color="#0002ff" d="M975 3349l-22 6-11 12 22-3z"/>
<path color="#000090" d="M897 3421l-23-8-12 12 24 10z"/>
<path color="#0012ff" d="M1727 3316l-22 23 11 24 22-19z"/>
<path color="#0043ff" d="M1715 3282l-21 33 11 24 22-23z"/>
<path color="#0000f1" d="M1738 3344l-22 19 11 24 23-15z"/>
<path color="#00a4ff" d="M1639 3195l-20 71 11 9 20-69z"/>
<path color="#0000c0" d="M1750 3372l-23 15 12 24 23-13z"/>
<path color="#0073ff" d="M1037 3270l-20 37-11 7 21-34z"/>
<path color="#0000c0" d="M1318 3378l-22 6-1-10 23-10z"/>
<path color="#0073ff" d="M1619 3266l-20 45 10 6 21-42z"/>
<path color="#0063ff" d="M1703 3239l-20 47 11 29 21-33z"/>
<path color="#0000a0" d="M1762 3398l-23 13 11 24 24-10z"/>
<path color="#0000e1" d="M1227 3378l-22-7-5-8 23 10z"/>
<path color="#00e5ff" d="M1645 3094l-18 103 12-2 17-118z"/>
<path color="#0002ff" d="M1405 3358l-21-1 3-25 22 2z"/>
<path color="#0000f1" d="M964 3364l-22 3-11 13 23 0z"/>
<path color="#0000d0" d="M1340 3369l-22 9 0-14 23-13z"/>
<path color="#0094ff" d="M1692 3194l-20 61 11 31 20-47z"/>
<path color="#0012ff" d="M1453 3352l-22-9 5-17 22 14z"/>
<path color="#57ffa8" d="M1697 3084l-17 61 12 49 17-40z"/>
<path color="#0084ff" d="M1134 3309l-20-13-8-42 21 23zm516-103l-20 69 10 14 21-62z"/>
<path color="#0000e1" d="M1249 3381l-22-3-4-5 23 3z"/>
<path color="#0000f1" d="M1384 3357l-22 4 2-23 23-6z"/>
<path color="#0000e1" d="M1362 3361l-22 8 1-18 23-13z"/>
<path color="#ff9400" d="M1675 3077l-15-97 13-122 14 202z"/>
<path color="#0063ff" d="M1027 3280l-21 34-10 9 21-25z"/>
<path color="#00c4ff" d="M1680 3145l-19 82 11 28 20-61z"/>
<path color="#0053ff" d="M1599 3311l-21 23 8 6 23-23zm31-36l-21 42 10 9 21-37z"/>
<path color="#0073ff" d="M1661 3227l-21 62 11 19 21-53z"/>
<path color="#02f" d="M1480 3349l-22-9 6-9 23 12z"/>
<path color="#0000d0" d="M954 3380l-23 0-12 13 24 3z"/>
<path color="#0043ff" d="M1569 3330l-22 13 8 4 23-13z"/>
<path color="#0063ff" d="M1156 3329l-22-20-7-32 22 38z"/>
<path color="#03f" d="M1538 3342l-22 3 8 1 23-3z"/>
<path color="#00f5ff" d="M1656 3077l-17 118 11 11 18-105z"/>
<path color="#02f" d="M1509 3347l-22-4 6-3 23 5z"/>
<path color="#0000e1" d="M1272 3380l-23 1-3-5 24-2z"/>
<path color="#0053ff" d="M1672 3255l-21 53 10 17 22-39z"/>
<path color="#00e5ff" d="M1668 3101l-18 105 11 21 19-82z"/>
<path color="#03f" d="M1177 3349l-21-20-7-14 23 26z"/>
<path color="#0084ff" d="M1076 3233l-20 48-9-11 20-69z"/>
<path color="#03f" d="M1683 3286l-22 39 11 19 22-29z"/>
<path color="#0043ff" d="M1017 3298l-21 25-11 12 23-16z"/>
<path color="#0000c0" d="M943 3396l-24-3-11 14 25 5z"/>
<path color="#0012ff" d="M1200 3363l-23-14-5-8 23 18z"/>
<path color="#0000e1" d="M1295 3374l-23 6-2-6 24-8z"/>
<path color="#0043ff" d="M1640 3289l-21 37 9 12 23-30z"/>
<path color="#f10000" d="M1687 3060l-14-202 12 125 15 100z"/>
<path color="#0012ff" d="M1694 3315l-22 29 10 19 23-24z"/>
<path color="#03f" d="M1431 3343l-22-9 4-25 23 17z"/>
<path color="#0043ff" d="M1609 3317l-23 23 9 8 24-22z"/>
<path color="#0002ff" d="M1223 3373l-23-10-5-4 24 11z"/>
<path color="#0000f1" d="M1705 3339l-23 24 11 20 23-20z"/>
<path color="#03f" d="M1008 3319l-23 16-10 14 23-11z"/>
<path color="#8f7" d="M1685 2983l-17 118 12 44 17-61z"/>
<path color="#0000a0" d="M933 3412l-25-5-11 14 25 7z"/>
<path color="#00a4ff" d="M1106 3254l-21 14-9-35 22-34z"/>
<path color="#0000e1" d="M1318 3364l-23 10-1-8 24-13z"/>
<path color="#0053ff" d="M1578 3334l-23 13 8 6 23-13z"/>
<path color="#0000d0" d="M1716 3363l-23 20 10 20 24-16z"/>
<path color="#03f" d="M1651 3308l-23 30 10 14 23-27z"/>
<path color="#0000f1" d="M1246 3376l-23-3-4-3 24 4z"/>
<path color="#0043ff" d="M1547 3343l-23 3 7 4 24-3z"/>
<path color="#0000b0" d="M1727 3387l-24 16 10 21 26-13z"/>
<path color="#0043ff" d="M1458 3340l-22-14 5-18 23 23zm58 5l-23-5 7 1 24 5z"/>
<path color="#0012ff" d="M998 3338l-23 11-11 15 24-7z"/>
<path color="#000090" d="M922 3428l-25-7-11 14 26 9z"/>
<path color="#0000f1" d="M1341 3351l-23 13 0-11 24-19z"/>
<path color="#0043ff" d="M1487 3343l-23-12 6-6 23 15z"/>
<path color="#03f" d="M1619 3326l-24 22 9 11 24-21z"/>
<path color="#000090" d="M1739 3411l-26 13 11 20 26-9z"/>
<path color="#0012ff" d="M1661 3325l-23 27 10 15 24-23z"/>
<path color="#0043ff" d="M1409 3334l-22-2 3-32 23 9z"/>
<path color="#0000f1" d="M1270 3374l-24 2-3-2 25-3z"/>
<path color="#8f7" d="M1660 2980l-15 114 11-17 17-219z"/>
<path color="#0012ff" d="M1364 3338l-23 13 1-17 24-21z"/>
<path color="#0002ff" d="M988 3357l-24 7-10 16 24-3z"/>
<path color="#0053ff" d="M1172 3341l-23-26-7-15 24 36z"/>
<path color="#00a4ff" d="M1067 3201l-20 69-10 0 21-81z"/>
<path color="#0043ff" d="M1586 3340l-23 13 8 8 24-13z"/>
<path color="#03f" d="M1387 3332l-23 6 2-25 24-13zm-192 27l-23-18-6-5 24 21z"/>
<path color="#0002ff" d="M1672 3344l-24 23 10 16 24-20z"/>
<path color="#00a4ff" d="M1149 3315l-22-38-7-35 22 58z"/>
<path color="#0002ff" d="M1294 3366l-24 8-2-3 25-10z"/>
<path color="#00e5ff" d="M1127 3277l-21-23-8-55 22 43z"/>
<path color="#0053ff" d="M1555 3347l-24 3 7 7 25-4z"/>
<path color="#02f" d="M1628 3338l-24 21 9 12 25-19zm-409 32l-24-11-5-2 25 12z"/>
<path color="#0000e1" d="M978 3377l-24 3-11 16 25 0zm704-14l-24 20 9 17 26-17z"/>
<path color="#a8ff57" d="M1673 2858l-17 219 12 24 17-118z"/>
<path color="#0053ff" d="M1524 3346l-24-5 6 3 25 6z"/>
<path color="#0012ff" d="M1243 3374l-24-4-4-1 25 4z"/>
<path color="#0002ff" d="M1318 3353l-24 13-1-5 25-17z"/>
<path color="#02f" d="M1595 3348l-24 13 8 10 25-12z"/>
<path color="#0000c0" d="M968 3396l-25 0-10 16 26 3z"/>
<path color="#00b4ff" d="M1058 3189l-21 81-10 10 22-70z"/>
<path color="#0053ff" d="M1493 3340l-23-15 5-1 25 17z"/>
<path color="#0073ff" d="M1436 3326l-23-17 4-37 24 36z"/>
<path color="#0000d0" d="M1693 3383l-26 17 10 18 26-15z"/>
<path color="#0002ff" d="M1638 3352l-25 19 9 13 26-17z"/>
<path color="#0012ff" d="M1268 3371l-25 3-3-1 26-3z"/>
<path color="#0063ff" d="M1464 3331l-23-23 4-19 25 36z"/>
<path color="#0043ff" d="M1563 3353l-25 4 8 8 25-4z"/>
<path color="#0094ff" d="M1049 3210l-22 70-10 18 23-51z"/>
<path color="#0000b0" d="M959 3415l-26-3-11 16 27 6z"/>
<path color="#02f" d="M1342 3334l-24 19 0-9 25-27z"/>
<path color="#0000b0" d="M1703 3403l-26 15 10 17 26-11z"/>
<path color="#0043ff" d="M1190 3357l-24-21-6-1 26 23z"/>
<path color="#0073ff" d="M1040 3247l-23 51-9 21 23-32z"/>
<path color="#0084ff" d="M1166 3336l-24-36-6-10 24 45z"/>
<path color="#0053ff" d="M1031 3287l-23 32-10 19 24-14z"/>
<path color="#0000f1" d="M1648 3367l-26 17 9 15 27-16z"/>
<path color="#0012ff" d="M1604 3359l-25 12 9 12 25-12z"/>
<path color="#03f" d="M1215 3369l-25-12-4 1 25 13z"/>
<path color="#0012ff" d="M1293 3361l-25 10-2-1 26-11z"/>
<path color="#0063ff" d="M1531 3350l-25-6 7 7 25 6z"/>
<path color="#000090" d="M949 3434l-27-6-10 16 27 9zm764-10l-26 11 9 18 28-9z"/>
<path color="#03f" d="M1022 3324l-24 14-10 19 25-7z"/>
<path color="#00e5ff" d="M1098 3199l-22 34-9-32 22-85z"/>
<path color="#02f" d="M1240 3373l-25-4-4 2 27 5z"/>
<path color="#0043ff" d="M1366 3313l-24 21 1-17 25-40z"/>
<path color="#00e5ff" d="M1142 3300l-22-58-8-31 24 79z"/>
<path color="#0000e1" d="M1658 3383l-27 16 9 15 27-14z"/>
<path color="#0073ff" d="M1500 3341l-25-17 6 2 25 18z"/>
<path color="#03f" d="M1571 3361l-25 4 7 10 26-4z"/>
<path color="#0094ff" d="M1413 3309l-23-9 2-46 25 18z"/>
<path color="#0012ff" d="M1013 3350l-25 7-10 20 26-3z"/>
<path color="#02f" d="M1318 3344l-25 17-1-2 26-20z"/>
<path color="#0002ff" d="M1613 3371l-25 12 8 12 26-11z"/>
<path color="#02f" d="M1266 3370l-26 3-2 3 26-4z"/>
<path color="#0073ff" d="M1390 3300l-24 13 2-36 24-23z"/>
<path color="#0000f1" d="M1004 3374l-26 3-10 19 27 1z"/>
<path color="#0063ff" d="M1186 3358l-26-23-5 3 26 24z"/>
<path color="#0053ff" d="M1538 3357l-25-6 6 9 27 5z"/>
<path color="#0000c0" d="M1667 3400l-27 14 9 15 28-11z"/>
<path color="#0094ff" d="M1470 3325l-25-36 5-11 25 46z"/>
<path color="#00a4ff" d="M1160 3335l-24-45-7 0 26 48z"/>
<path color="#0043ff" d="M1211 3371l-25-13-5 4 26 13z"/>
<path color="#0000d0" d="M995 3397l-27-1-9 19 27 4z"/>
<path color="#0012ff" d="M1579 3371l-26 4 8 12 27-4z"/>
<path color="#0000f1" d="M1622 3384l-26 11 8 14 27-10z"/>
<path color="#02f" d="M1292 3359l-26 11-2 2 27-12z"/>
<path color="#47ffb8" d="M1120 3242l-22-43-9-83 23 95z"/>
<path color="#03f" d="M1343 3317l-25 27 0-5 26-40z"/>
<path color="#00c4ff" d="M1441 3308l-24-36 4-38 24 55z"/>
<path color="#0000a0" d="M1677 3418l-28 11 9 16 29-10z"/>
<path color="#0084ff" d="M1506 3344l-25-18 6 8 26 17z"/>
<path color="#03f" d="M1238 3376l-27-5-4 4 28 5z"/>
<path color="#0000b0" d="M986 3419l-27-4-10 19 28 6z"/>
<path color="#03f" d="M1546 3365l-27-5 7 12 27 3z"/>
<path color="#0000d0" d="M1631 3399l-27 10 8 15 28-10z"/>
<path color="#03f" d="M1318 3339l-26 20-1 1 27-22zm-54 33l-26 4-3 4 27-3z"/>
<path color="#0002ff" d="M1588 3383l-27 4 7 14 28-6z"/>
<path color="#000090" d="M1687 3435l-29 10 9 16 29-8z"/>
<path color="#16ffe9" d="M1136 3290l-24-79-7-12 24 91z"/>
<path color="#0073ff" d="M1181 3362l-26-24-6 7 27 24z"/>
<path color="#000090" d="M977 3440l-28-6-10 19 29 8z"/>
<path color="#00b4ff" d="M1155 3338l-26-48-6 11 26 44z"/>
<path color="#0073ff" d="M1048 3316l-26 8-9 26 27 0z"/>
<path color="#00a4ff" d="M1056 3269l-25 18-9 37 26-8z"/>
<path color="#0053ff" d="M1207 3375l-26-13-5 7 28 13z"/>
<path color="#0043ff" d="M1040 3350l-27 0-9 24 28 2z"/>
<path color="#00b4ff" d="M1475 3324l-25-46 5 0 26 48z"/>
<path color="#0063ff" d="M1513 3351l-26-17 5 12 27 14z"/>
<path color="#00e5ff" d="M1065 3211l-25 36-9 40 25-18z"/>
<path color="#0063ff" d="M1368 3277l-25 40 1-18 26-60z"/>
<path color="#03f" d="M1291 3360l-27 12-2 5 28-12z"/>
<path color="#0000c0" d="M1640 3414l-28 10 8 14 29-9z"/>
<path color="#02f" d="M1553 3375l-27-3 7 13 28 2z"/>
<path color="#0043ff" d="M1235 3380l-28-5-3 7 28 5z"/>
<path color="#0012ff" d="M1032 3376l-28-2-9 23 28 4z"/>
<path color="#0000f1" d="M1596 3395l-28 6 7 14 29-6z"/>
<path color="#0094ff" d="M1149 3345l-26-44-7 18 27 37z"/>
<path color="#0053ff" d="M1344 3299l-26 40 0-1 27-50z"/>
<path color="#0063ff" d="M1176 3369l-27-24-6 11 28 22z"/>
<path color="#37ffc8" d="M1129 3290l-24-91-8 21 26 81z"/>
<path color="#0000f1" d="M1023 3401l-28-4-9 22 29 5z"/>
<path color="#16ffe9" d="M1073 3122l-24 88-9 37 25-36zm16-6l-22 85-9-12 23-189z"/>
<path color="#0043ff" d="M1262 3377l-27 3-3 7 28-3z"/>
<path color="#06fff9" d="M1417 3272l-25-18 3-58 26 38z"/>
<path color="#0000a0" d="M1649 3429l-29 9 9 16 29-9z"/>
<path color="#0043ff" d="M1318 3338l-27 22-1 5 28-24z"/>
<path color="#0053ff" d="M1519 3360l-27-14 6 14 28 12z"/>
<path color="#0043ff" d="M1204 3382l-28-13-5 9 29 12z"/>
<path color="#0012ff" d="M1561 3387l-28-2 6 15 29 1z"/>
<path color="#0000d0" d="M1604 3409l-29 6 8 14 29-5z"/>
<path color="#00c4ff" d="M1481 3326l-26-48 5 12 27 44z"/>
<path color="#0000c0" d="M1015 3424l-29-5-9 21 30 6z"/>
<path color="#06fff9" d="M1445 3289l-24-55 3-33 26 77z"/>
<path color="#00c4ff" d="M1392 3254l-24 23 2-38 25-43z"/>
<path color="#16ffe9" d="M1123 3301l-26-81-7 38 26 61z"/>
<path color="#00f5ff" d="M1082 3298l-26-29-8 47 27 19z"/>
<path color="#0094ff" d="M1075 3335l-27-19-8 34 28 12z"/>
<path color="#0073ff" d="M1143 3356l-27-37-6 23 28 27z"/>
<path color="#0043ff" d="M1290 3365l-28 12-2 7 29-12z"/>
<path color="#03f" d="M1232 3387l-28-5-4 8 29 5z"/>
<path color="#000090" d="M1658 3445l-29 9 8 15 30-8z"/>
<path color="#00e5ff" d="M1116 3319l-26-61-8 40 28 44z"/>
<path color="#57ffa8" d="M1090 3258l-25-47-9 58 26 29z"/>
<path color="#0053ff" d="M1068 3362l-28-12-8 26 28 10z"/>
<path color="#0000a0" d="M1007 3446l-30-6-9 21 31 8z"/>
<path color="#0043ff" d="M1171 3378l-28-22-5 13 28 20z"/>
<path color="#00a4ff" d="M1110 3342l-28-44-7 37 28 26z"/>
<path color="#0000c0" d="M1612 3424l-29 5 7 16 30-7z"/>
<path color="#0043ff" d="M1526 3372l-28-12 6 16 29 9z"/>
<path color="#37ffc8" d="M1081 3000l-23 189-9 21 24-88z"/>
<path color="#0000f1" d="M1568 3401l-29-1 7 15 29 0z"/>
<path color="#02f" d="M1060 3386l-28-10-9 25 30 9z"/>
<path color="#03f" d="M1260 3384l-28 3-3 8 29-3zm-60 6l-29-12-5 11 30 12z"/>
<path color="#00b4ff" d="M1487 3334l-27-44 4 20 28 36z"/>
<path color="#d9ff26" d="M1112 3211l-23-95-8-116 24 199z"/>
<path color="#0053ff" d="M1138 3369l-28-27-7 19 29 23z"/>
<path color="#0063ff" d="M1345 3288l-27 50 0 3 28-52z"/>
<path color="#0053ff" d="M1318 3341l-28 24-1 7 29-23z"/>
<path color="#e9ff16" d="M1097 3220l-24-98-8 89 25 47z"/>
<path color="#0073ff" d="M1103 3361l-28-26-7 27 28 20z"/>
<path color="#0000f1" d="M1053 3410l-30-9-8 23 30 8z"/>
<path color="#0094ff" d="M1370 3239l-26 60 1-11 27-83z"/>
<path color="#02f" d="M1229 3395l-29-5-4 11 30 4z"/>
<path color="#0000a0" d="M1620 3438l-30 7 7 15 32-6z"/>
<path color="#03f" d="M1166 3389l-28-20-6 15 30 18zm123-17l-29 12-2 8 30-11z"/>
<path color="#02f" d="M1533 3385l-29-9 5 17 30 7z"/>
<path color="#0000e1" d="M1575 3415l-29 0 6 16 31-2z"/>
<path color="#0043ff" d="M1096 3382l-28-20-8 24 30 16z"/>
<path color="#0094ff" d="M1492 3346l-28-36 5 25 29 25z"/>
<path color="#03f" d="M1132 3384l-29-23-7 21 30 19z"/>
<path color="#0000d0" d="M1045 3432l-30-8-8 22 31 8z"/>
<path color="#37ffc8" d="M1450 3278l-26-77 4-12 27 89z"/>
<path color="#0012ff" d="M1196 3401l-30-12-4 13 30 10z"/>
<path color="#02f" d="M1258 3392l-29 3-3 10 30-2z"/>
<path color="#ff8400" d="M1105 3199l-24-199-8 122 24 98z"/>
<path color="#0012ff" d="M1090 3402l-30-16-7 24 30 12z"/>
<path color="#000090" d="M1629 3454l-32 6 8 16 32-7z"/>
<path color="#0043ff" d="M1318 3349l-29 23-1 9 30-20z"/>
<path color="#0000a0" d="M1038 3454l-31-8-8 23 32 7z"/>
<path color="#0000c0" d="M1583 3429l-31 2 7 17 31-3z"/>
<path color="#0002ff" d="M1539 3400l-30-7 6 18 31 4z"/>
<path color="#0073ff" d="M1346 3289l-28 52 0 8 29-49z"/>
<path color="#0012ff" d="M1162 3402l-30-18-6 17 31 14z"/>
<path color="#0063ff" d="M1498 3360l-29-25 5 25 30 16z"/>
<path color="#0012ff" d="M1126 3401l-30-19-6 20 31 15zm100 4l-30-4-4 11 31 4z"/>
<path color="#02f" d="M1288 3381l-30 11-2 11 31-10z"/>
<path color="#0000f1" d="M1083 3422l-30-12-8 22 32 10z"/>
<path color="#0002ff" d="M1192 3412l-30-10-5 13 31 10z"/>
<path color="#7f8" d="M1421 3234l-26-38 3-88 26 93z"/>
<path color="#0000b0" d="M1590 3445l-31 3 6 17 32-5z"/>
<path color="#0000f1" d="M1546 3415l-31-4 5 19 32 1z"/>
<path color="#0012ff" d="M1256 3403l-30 2-3 11 31-1z"/>
<path color="#0043ff" d="M1504 3376l-30-16 5 22 30 11z"/>
<path color="#57ffa8" d="M1455 3278l-27-89 4 22 28 79z"/>
<path color="#0000f1" d="M1121 3417l-31-15-7 20 32 13z"/>
<path color="#0002ff" d="M1157 3415l-31-14-5 16 31 13z"/>
<path color="#00b4ff" d="M1372 3205l-27 83 1 1 27-95z"/>
<path color="#0000c0" d="M1077 3442l-32-10-7 22 32 8z"/>
<path color="#03f" d="M1318 3361l-30 20-1 12 31-18z"/>
<path color="#0063ff" d="M1347 3300l-29 49 0 12 30-41z"/>
<path color="#06fff9" d="M1395 3196l-25 43 2-34 26-97z"/>
<path color="#0002ff" d="M1223 3416l-31-4-4 13 32 4z"/>
<path color="#0012ff" d="M1287 3393l-31 10-2 12 32-9z"/>
<path color="#37ffc8" d="M1460 3290l-28-79 4 41 28 58z"/>
<path color="#000090" d="M1597 3460l-32 5 7 17 33-6z"/>
<path color="#0000d0" d="M1552 3431l-32-1 6 19 33-1z"/>
<path color="#02f" d="M1509 3393l-30-11 4 22 32 7z"/>
<path color="#0000d0" d="M1115 3435l-32-13-6 20 32 10z"/>
<path color="#0000a0" d="M1070 3462l-32-8-7 22 33 6z"/>
<path color="#0000f1" d="M1188 3425l-31-10-5 15 32 8z"/>
<path color="#06fff9" d="M1464 3310l-28-58 4 44 29 39z"/>
<path color="#0000e1" d="M1152 3430l-31-13-6 18 32 10z"/>
<path color="#0000f1" d="M1254 3415l-31 1-3 13 32-1z"/>
<path color="#0053ff" d="M1348 3320l-30 41 0 14 31-29z"/>
<path color="#02f" d="M1318 3375l-31 18-1 13 32-15z"/>
<path color="#00c4ff" d="M1469 3335l-29-39 3 40 31 24z"/>
<path color="#0002ff" d="M1515 3411l-32-7 5 22 32 4z"/>
<path color="#00c4ff" d="M1373 3194l-27 95 1 11 28-84z"/>
<path color="#0000e1" d="M1220 3429l-32-4-4 13 33 4z"/>
<path color="#0000b0" d="M1559 3448l-33 1 6 19 33-3zm-450 4l-32-10-7 20 34 7z"/>
<path color="#0002ff" d="M1286 3406l-32 9-2 13 33-7z"/>
<path color="#0084ff" d="M1474 3360l-31-24 4 34 32 12z"/>
<path color="#0000d0" d="M1184 3438l-32-8-5 15 33 7z"/>
<path color="#0000c0" d="M1147 3445l-32-10-6 17 34 8z"/>
<path color="#03f" d="M1349 3346l-31 29 0 16 31-21z"/>
<path color="#0000e1" d="M1252 3428l-32 1-3 13 33-1z"/>
<path color="#00b4ff" d="M1375 3216l-28 84 1 20 29-63z"/>
<path color="#0000e1" d="M1520 3430l-32-4 5 22 33 1z"/>
<path color="#0053ff" d="M1479 3382l-32-12 4 27 32 7z"/>
<path color="#0002ff" d="M1318 3391l-32 15-1 15 33-12z"/>
<path color="#000090" d="M1565 3465l-33 3 5 19 35-5zm-461 4l-34-7-6 20 34 5z"/>
<path color="#0000d0" d="M1217 3442l-33-4-4 14 34 4z"/>
<path color="#0094ff" d="M1377 3257l-29 63 1 26 30-45z"/>
<path color="#0000e1" d="M1285 3421l-33 7-2 13 34-5z"/>
<path color="#0000b0" d="M1143 3460l-34-8-5 17 34 7z"/>
<path color="#0000c0" d="M1180 3452l-33-7-4 15 34 6z"/>
<path color="#02f" d="M1483 3404l-32-7 4 25 33 4zm-134-34l-31 21 0 18 32-17z"/>
<path color="#0063ff" d="M1379 3301l-30 45 0 24 32-28z"/>
<path color="#0000c0" d="M1526 3449l-33-1 4 22 35-2z"/>
<path color="#16ffe9" d="M1440 3296l-30-23 2 51 31 12z"/>
<path color="#00b4ff" d="M1443 3336l-31-12 3 41 32 5z"/>
<path color="#0000d0" d="M1250 3441l-33 1-3 14 34 0z"/>
<path color="#0000f1" d="M1318 3409l-33 12-1 15 34-9z"/>
<path color="#7f8" d="M1436 3252l-29-42 3 63 30 23z"/>
<path color="#0063ff" d="M1447 3370l-32-5 3 30 33 2z"/>
<path color="#0043ff" d="M1381 3342l-32 28 1 22 33-17z"/>
<path color="#0000f1" d="M1488 3426l-33-4 4 25 34 1z"/>
<path color="#0000c0" d="M1214 3456l-34-4-3 14 34 4z"/>
<path color="#00c4ff" d="M1410 3273l-31 28 2 41 31-18z"/>
<path color="#000090" d="M1138 3476l-34-7-6 18 35 4z"/>
<path color="#0084ff" d="M1412 3324l-31 18 2 33 32-10z"/>
<path color="#fff500" d="M1424 3201l-26-93 3-117 27 198z"/>
<path color="#000090" d="M1532 3468l-35 2 5 21 35-4z"/>
<path color="#0002ff" d="M1350 3392l-32 17 0 18 33-13z"/>
<path color="#0000a0" d="M1177 3466l-34-6-5 16 35 5z"/>
<path color="#0000d0" d="M1284 3436l-34 5-2 15 35-4z"/>
<path color="#06fff9" d="M1407 3210l-30 47 2 44 31-28z"/>
<path color="#03f" d="M1451 3397l-33-2 3 27 34 0z"/>
<path color="#fff500" d="M1432 3211l-28-96 3 95 29 42z"/>
<path color="#0053ff" d="M1415 3365l-32 10 2 27 33-7z"/>
<path color="#02f" d="M1383 3375l-33 17 1 22 34-12z"/>
<path color="#37ffc8" d="M1398 3108l-26 97 1-11 28-203z"/>
<path color="#0000d0" d="M1493 3448l-34-1 3 24 35-1z"/>
<path color="#0000e1" d="M1318 3427l-34 9-1 16 35-7z"/>
<path color="#0000b0" d="M1248 3456l-34 0-3 14 36 0z"/>
<path color="#37ffc8" d="M1404 3115l-29 101 2 41 30-47z"/>
<path color="#0002ff" d="M1455 3422l-34 0 3 26 35-1z"/>
<path color="#02f" d="M1418 3395l-33 7 2 25 34-5z"/>
<path color="#0000e1" d="M1351 3414l-33 13 0 18 34-9z"/>
<path color="#0000a0" d="M1211 3470l-34-4-4 15 35 3z"/>
<path color="#000090" d="M1173 3481l-35-5-5 15 36 4z"/>
<path color="#0002ff" d="M1385 3402l-34 12 1 22 35-9z"/>
<path color="#0000c0" d="M1283 3452l-35 4-1 14 35-2z"/>
<path color="#0000a0" d="M1497 3470l-35 1 4 24 36-4z"/>
<path color="#ff5300" d="M1428 3189l-27-198 3 124 28 96z"/>
<path color="#0000d0" d="M1459 3447l-35 1 3 25 35-2z"/>
<path color="#0000c0" d="M1318 3445l-35 7-1 16 36-4z"/>
<path color="#0000f1" d="M1421 3422l-34 5 2 25 35-4z"/>
<path color="#0000a0" d="M1247 3470l-36 0-3 14 37 1z"/>
<path color="#0000d0" d="M1352 3436l-34 9 0 19 35-6z"/>
<path color="#0000e1" d="M1387 3427l-35 9 1 22 36-6z"/>
<path color="#57ffa8" d="M1401 2991l-28 203 2 22 29-101z"/>
<path color="#000090" d="M1208 3484l-35-3-4 14 37 3z"/>
<path color="#0000a0" d="M1282 3468l-35 2-2 15 36 0zm180 3l-35 2 3 25 36-3z"/>
<path color="#0000c0" d="M1424 3448l-35 4 2 24 36-3z"/>
<path color="#0000a0" d="M1318 3464l-36 4-1 17 37-2z"/>
<path color="#0000c0" d="M1389 3452l-36 6 1 22 37-4z"/>
<path color="#0000b0" d="M1353 3458l-35 6 0 19 36-3z"/>
<path color="#000090" d="M1245 3485l-37-1-2 14 37 2z"/>
<path color="#0000a0" d="M1427 3473l-36 3 2 24 37-2z"/>
<path color="#000090" d="M1281 3485l-36 0-2 15 37 1zm110-9l-37 4 1 21 38-1zm-73 7l-37 2-1 16 38 1zm36-3l-36 3 0 19 37-1z"/></g></defs>
<g transform="scale(.1)" fill="currentColor" stroke="currentColor" stroke-width="4" stroke-linejoin="round"><use href="#sc"/></g>
<g transform="scale(.1)" fill="currentColor" stroke="#000" stroke-width="2.2" stroke-linejoin="round"><use href="#sc"/></g>
<path d="M309.4 341.9L474.4 329.3M474.4 329.3L474.4 239.5M369.3 358.5L315.5 320.3M315.5 320.3L315.5 230.5M402.3 356L348.5 317.8M348.5 317.8L348.5 228M435.3 353.4L381.5 315.2M381.5 315.2L381.5 225.4M468.3 350.9L414.5 312.7M414.5 312.7L414.5 222.9M282.5 300.4L447.5 287.8M447.5 287.8L501.3 325.9M282.5 277.9L447.5 265.3M447.5 265.3L501.3 303.5M282.5 255.5L447.5 242.8M447.5 242.8L501.3 281M282.5 233L447.5 220.4M447.5 220.4L501.3 258.6M447.5 310.2L447.5 220.4M501.3 348.4L501.3 258.6M282.5 322.8L447.5 310.2M447.5 310.2L501.3 348.4" stroke="#e4e4e4" stroke-width=".5" fill="none"/>
<path d="M282.5 322.8L282.5 233M282.5 322.8L336.3 361M336.3 361L501.3 348.4M282.5 322.8L280.1 321.2M282.5 300.4L280.1 298.8M282.5 277.9L280.1 276.3M282.5 255.5L280.1 253.9M282.5 233L280.1 231.4M336.3 361L333.7 361.2M309.4 341.9L306.8 342.1M282.5 322.8L279.9 323M336.3 361L337.9 363.2M369.3 358.5L370.9 360.7M402.3 356L403.9 358.2M435.3 353.4L436.9 355.6M468.3 350.9L469.9 353.1M501.3 348.4L502.9 350.6" stroke="#262626" stroke-width=".5" fill="none"/>
<defs><filter id="bl" x="-10%" y="-10%" width="120%" height="120%"><feGaussianBlur stdDeviation="0.45"/></filter>
<clipPath id="cr1"><path clip-rule="evenodd" d="M331.3 276.3L331.4 272.8L331.7 269.5L332.1 266.4L332.8 263.5L333.6 260.8L334.5 258.4L335.7 256.2L337 254.3L338.4 252.8L339.9 251.5L341.6 250.5L343.4 249.9L345.3 249.6L347.2 249.6L349.2 250L351.3 250.7L353.4 251.7L355.5 253.1L357.6 254.7L359.7 256.7L361.8 258.9L363.8 261.4L365.7 264.1L367.6 267.1L369.4 270.2L371.1 273.6L372.6 277.1L374 280.7L375.3 284.4L376.5 288.2L377.4 292L378.3 295.8L378.9 299.6L379.3 303.4L379.6 307.1L379.7 310.7L379.6 314.1L379.3 317.4L378.9 320.5L378.3 323.5L377.4 326.1L376.5 328.6L375.3 330.7L374 332.6L372.6 334.2L371.1 335.5L369.4 336.4L367.6 337.1L365.7 337.4L363.8 337.3L361.8 337L359.7 336.3L357.6 335.2L355.5 333.9L353.4 332.2L351.3 330.3L349.2 328.1L347.2 325.6L345.3 322.8L343.4 319.9L341.6 316.7L339.9 313.4L338.4 309.9L337 306.3L335.7 302.6L334.5 298.8L333.6 295L332.8 291.1L332.1 287.3L331.7 283.6L331.4 279.9ZM341.5 283.5L341.6 281.6L341.7 279.6L342 277.8L342.4 276.2L342.8 274.6L343.4 273.2L344 272L344.8 270.9L345.6 269.9L346.5 269.2L347.5 268.7L348.5 268.3L349.6 268.1L350.7 268.1L351.9 268.4L353.1 268.8L354.3 269.4L355.5 270.1L356.7 271.1L357.9 272.2L359.1 273.5L360.3 274.9L361.4 276.5L362.5 278.2L363.5 280.1L364.5 282L365.4 284L366.2 286.1L367 288.2L367.6 290.4L368.2 292.6L368.6 294.8L369 297L369.3 299.2L369.4 301.3L369.5 303.4L369.4 305.4L369.3 307.3L369 309.1L368.6 310.8L368.2 312.3L367.6 313.8L367 315L366.2 316.1L365.4 317L364.5 317.7L363.5 318.3L362.5 318.7L361.4 318.8L360.3 318.8L359.1 318.6L357.9 318.2L356.7 317.6L355.5 316.8L354.3 315.9L353.1 314.7L351.9 313.5L350.7 312L349.6 310.4L348.5 308.7L347.5 306.9L346.5 305L345.6 303L344.8 300.9L344 298.7L343.4 296.6L342.8 294.3L342.4 292.1L342 289.9L341.7 287.8L341.6 285.6Z"/></clipPath><clipPath id="cr2"><path clip-rule="evenodd" d="M345.2 275.2L345.3 271.8L345.6 268.5L346.1 265.4L346.7 262.4L347.5 259.8L348.5 257.3L349.6 255.2L350.9 253.3L352.3 251.7L353.9 250.4L355.6 249.5L357.4 248.8L359.2 248.5L361.2 248.6L363.2 248.9L365.3 249.6L367.3 250.7L369.5 252L371.6 253.7L373.7 255.6L375.7 257.8L377.7 260.3L379.7 263.1L381.6 266L383.3 269.2L385 272.5L386.6 276L388 279.6L389.3 283.3L390.4 287.1L391.4 290.9L392.2 294.7L392.8 298.6L393.3 302.3L393.6 306L393.7 309.6L393.6 313.1L393.3 316.4L392.8 319.5L392.2 322.4L391.4 325.1L390.4 327.5L389.3 329.7L388 331.6L386.6 333.1L385 334.4L383.3 335.4L381.6 336L379.7 336.3L377.7 336.3L375.7 335.9L373.7 335.2L371.6 334.2L369.5 332.8L367.3 331.2L365.3 329.2L363.2 327L361.2 324.5L359.2 321.8L357.4 318.8L355.6 315.7L353.9 312.3L352.3 308.8L350.9 305.2L349.6 301.5L348.5 297.7L347.5 293.9L346.7 290.1L346.1 286.3L345.6 282.5L345.3 278.8ZM355.5 282.5L355.5 280.5L355.7 278.6L355.9 276.8L356.3 275.1L356.8 273.5L357.3 272.1L358 270.9L358.7 269.8L359.6 268.9L360.5 268.1L361.4 267.6L362.5 267.2L363.5 267.1L364.7 267.1L365.8 267.3L367 267.7L368.2 268.3L369.5 269.1L370.7 270L371.9 271.1L373.1 272.4L374.2 273.9L375.4 275.5L376.5 277.2L377.5 279L378.5 280.9L379.4 282.9L380.2 285L380.9 287.2L381.6 289.3L382.1 291.5L382.6 293.8L383 296L383.2 298.1L383.4 300.3L383.4 302.3L383.4 304.3L383.2 306.2L383 308.1L382.6 309.7L382.1 311.3L381.6 312.7L380.9 313.9L380.2 315L379.4 315.9L378.5 316.7L377.5 317.2L376.5 317.6L375.4 317.8L374.2 317.8L373.1 317.5L371.9 317.1L370.7 316.5L369.5 315.8L368.2 314.8L367 313.7L365.8 312.4L364.7 311L363.5 309.4L362.5 307.7L361.4 305.8L360.5 303.9L359.6 301.9L358.7 299.8L358 297.7L357.3 295.5L356.8 293.3L356.3 291.1L355.9 288.9L355.7 286.7L355.5 284.6Z"/></clipPath><clipPath id="ccy"><path d="M403.2 265.2L436.1 262.7L437.2 262.7L438.3 262.9L439.5 263.3L440.6 263.8L441.8 264.6L443 265.5L444.1 266.6L445.3 267.8L446.4 269.2L447.4 270.7L448.5 272.3L449.5 274.1L450.4 275.9L451.2 277.8L452 279.8L452.7 281.9L453.4 284L453.9 286.1L454.4 288.2L454.7 290.3L455 292.4L455.1 294.4L455.2 296.4L455.1 298.3L455 300.1L454.7 301.8L454.4 303.4L453.9 304.9L453.4 306.3L452.7 307.5L452 308.5L451.2 309.4L450.4 310.1L449.5 310.6L448.5 311L447.4 311.1L414.5 313.6L413.5 313.6L412.4 313.4L411.2 313L410.1 312.5L408.9 311.7L407.7 310.8L406.6 309.7L405.4 308.5L404.3 307.1L403.2 305.6L402.2 304L401.2 302.2L400.3 300.4L399.4 298.5L398.7 296.5L397.9 294.4L397.3 292.3L396.8 290.2L396.3 288.1L396 286L395.7 283.9L395.6 281.9L395.5 279.9L395.6 278L395.7 276.2L396 274.5L396.3 272.8L396.8 271.4L397.3 270L397.9 268.8L398.7 267.8L399.4 266.9L400.3 266.2L401.2 265.7L402.2 265.3Z"/></clipPath></defs>
<g clip-path="url(#cr2)"><g filter="url(#bl)"><path fill="#0028f0" fill-rule="evenodd" d="M344.4 274.7L344.5 271.1L344.8 267.7L345.3 264.4L346 261.4L346.8 258.7L347.8 256.2L349 253.9L350.3 252L351.8 250.3L353.4 249L355.1 248L357 247.4L358.9 247.1L360.9 247.1L363 247.5L365.1 248.2L367.3 249.3L369.5 250.7L371.6 252.4L373.8 254.4L375.9 256.7L378 259.3L380 262.1L382 265.1L383.8 268.4L385.5 271.8L387.1 275.4L388.6 279.2L390 283L391.1 286.9L392.1 290.9L393 294.8L393.6 298.8L394.1 302.7L394.4 306.5L394.5 310.2L394.4 313.7L394.1 317.2L393.6 320.4L393 323.4L392.1 326.2L391.1 328.7L390 330.9L388.6 332.9L387.1 334.5L385.5 335.8L383.8 336.8L382 337.5L380 337.8L378 337.7L375.9 337.3L373.8 336.6L371.6 335.6L369.5 334.2L367.3 332.5L365.1 330.5L363 328.2L360.9 325.6L358.9 322.8L357 319.7L355.1 316.4L353.4 313L351.8 309.4L350.3 305.6L349 301.8L347.8 297.9L346.8 294L346 290L345.3 286.1L344.8 282.2L344.5 278.4ZM356 282.9L356.1 280.9L356.2 279.1L356.5 277.4L356.8 275.8L357.3 274.3L357.8 272.9L358.4 271.7L359.2 270.7L359.9 269.8L360.8 269.1L361.7 268.5L362.7 268.2L363.8 268L364.9 268.1L366 268.3L367.1 268.6L368.3 269.2L369.5 270L370.6 270.9L371.8 272L372.9 273.2L374.1 274.6L375.1 276.1L376.2 277.7L377.2 279.5L378.1 281.4L379 283.3L379.8 285.3L380.5 287.4L381.1 289.5L381.6 291.6L382.1 293.7L382.5 295.8L382.7 297.9L382.9 300L382.9 302L382.9 303.9L382.7 305.7L382.5 307.4L382.1 309.1L381.6 310.6L381.1 311.9L380.5 313.1L379.8 314.2L379 315L378.1 315.7L377.2 316.3L376.2 316.6L375.1 316.8L374.1 316.8L372.9 316.6L371.8 316.2L370.6 315.6L369.5 314.9L368.3 313.9L367.1 312.9L366 311.6L364.9 310.2L363.8 308.7L362.7 307.1L361.7 305.3L360.8 303.5L359.9 301.5L359.2 299.5L358.4 297.5L357.8 295.4L357.3 293.2L356.8 291.1L356.5 289L356.2 286.9L356.1 284.9Z"/><g transform="scale(.1)"><path fill="#000080" d="M3595 2690l12-9-3-9-13 10zm10-8l13-7-3-9-13 7zm11-6l14-4-3-9-14 4zm12-4l14-1-2-9-14 1zm65 18l16 12 1-7-16-12zm14 11l16 15 1-7-16-15zm14 13l15 17 1-7-15-17zm13 15l15 19 2-6-15-19zm59 99l10 26 4-2-11-27zm9 24l9 26 4-1-9-28zm8 24l8 27 4-1-8-28zm8 25l6 27 4 0-6-28zm16 121l0 25 4 4 1-26zm0 23l-3 23 5 5 2-25zm-2 21l-4 22 5 5 3-23zm-4 20l-5 20 5 6 5-21zm-4 18l-7 19 5 6 7-19zm-21 44l-11 12 4 8 11-12zm-9 10l-12 10 4 8 12-9zm-10 9l-13 6 3 9 13-7zm-11 6l-14 4 3 8 14-4zm-12 3l-14 1 2 9 15-1zm-12 1l-15-1 1 9 16 1zm-39-11l-16-9-1 8 17 9zm-14-8l-16-12-1 7 16 13zm-14-11l-15-14-2 7 16 15zm-14-13l-15-16-1 6 15 17zm-13-15l-14-18-2 5 14 20zm-13-16l-14-21-2 5 14 21zm-35-60l-12-25-3 3 11 25zm-11-23l-10-26-3 3 10 26zm-9-23l-9-27-4 2 9 27zm-8-25l-8-27-4 1 8 28zm-7-24l-7-27-4 0 7 27zm-6-25l-5-27-5-1 5 28zm-10-74l-1-25-5-3 1 26zm-1-23l1-25-5-3-1 25zm0-22l3-24-5-4-2 24zm2-22l4-22-4-5-4 23zm4-19l5-21-5-6-5 21zm281 563l-20 11 4 12 21-11zm-18 10l-21 6 3 13 22-7zm-151-43l-24-23-2 10 25 24zm-23-21l-23-27-2 9 24 28zm-134-229l-14-42-6 2 15 44zm-13-40l-13-43-6 1 13 44zm23-478l19-15-3-8-20 15zm17-14l21-11-3-8-21 11zm19-10l22-6-3-9-22 7zm19-6l24-2-2-9-24 2zm21-2l25 3-2-9-24-2zm22 2l25 7 0-8-26-7zm23 7l25 11 0-8-26-11zm23 10l25 16 1-8-26-16zm24 15l25 19 0-7-25-20zm23 18l25 24 1-7-25-24zm23 22l24 27 2-6-25-28zm23 25l23 31 2-6-24-31zm22 29l22 34 3-5-23-34zm21 32l21 36 3-4-22-37zm20 34l20 39 3-4-20-39zm19 36l18 41 3-3-18-41zm17 39l17 42 3-2-17-43zm16 40l15 43 3-1-15-45zm14 41l13 44 4-1-13-45zm12 42l11 44 4 0-11-45zm10 42l8 45 5 0-9-45zm8 42l6 45 4 1-6-45zm6 42l3 43 5 3-4-44zm3 41l1 42 5 3-1-43zm1 40l-1 40 5 4 1-41zm-1 38l-3 38 4 5 4-39zm-3 36l-6 36 4 5 6-37zm-6 34l-8 33 4 6 9-34zm-7 31l-11 30 4 6 11-30zm-10 28l-13 27 4 7 13-28zm-12 25l-15 23 3 7 16-23zm-14 21l-17 20 3 7 18-19zm-16 18l-19 16 4 8 19-16zm-17 14l-20 11 2 9 21-12zm-18 10l-22 7 2 8 22-6zm-20 6l-24 2 2 9 24-2zm-21 2l-24-2 1 8 24 3zm-22-2l-25-7 1 8 25 7zm-23-6l-25-12 0 8 26 12zm-23-11l-25-16-1 8 26 16zm-23-14l-26-20 0 7 25 20zm-24-19l-25-23-1 6 26 24zm-23-22l-24-27-2 6 25 28zm-23-25l-23-31-2 6 24 31zm-22-29l-22-33-2 5 23 34zm-21-31l-21-37-3 5 22 37zm-20-35l-20-38-3 3 21 40zm-19-36l-18-41-3 3 18 42zm-17-38l-17-43-3 3 17 42zm-16-40l-14-44-4 2 15 44zm-14-42l-12-44-4 1 13 45zm-12-42l-10-44-4 0 10 45zm-10-42l-8-44-4-1 8 45zm-8-42l-6-44-4-2 6 45zm-5-42l-4-43-5-3 4 45zm-4-41l-1-42-5-3 2 43zm-1-40l1-40-4-4-2 41zm1-38l4-38-5-4-4 39zm3-36l6-36-4-5-6 37zm6-34l8-33-4-6-9 34zm8-31l10-30-4-6-11 31zm10-28l13-27-4-6-14 27zm11-25l16-23-4-7-16 23zm14-21l17-20-3-7-18 19z"/>
<path fill="#000090" d="M3640 2671l15 2-1-9-16-2zm13 1l15 5 0-9-16-5zm13 4l16 7 0-8-16-8zm14 6l15 10 1-8-16-10zm67 64l14 20 2-5-14-21zm13 18l13 22 2-4-13-23zm12 20l12 24 3-4-13-24zm11 22l11 24 3-3-11-25zm40 119l5 28 5 0-5-28zm5 25l4 27 4 2-3-28zm4 25l2 26 4 3-2-28zm2 24l0 26 5 3-1-27zm-16 122l-8 16 4 7 9-17zm-7 14l-9 15 4 7 10-15zm-75 41l-15-4 1 8 15 5zm-13-4l-16-7 1 9 16 7zm-94-88l-13-22-2 4 13 23zm-11-20l-13-24-3 4 13 24zm-57-166l-4-27-4-1 4 27zm-3-25l-2-26-5-2 2 27zm7-129l7-18-4-7-7 19zm6-16l8-17-4-7-8 17zm7-15l10-14-5-8-9 15zm8-13l11-12-4-7-11 12zm250 370l-4 23 7 8 4-24zm-49 104l-13 7 4 13 13-7zm-12 6l-14 4 4 13 14-4zm-93-26l-16-15-2 10 16 16zm-14-13l-16-17-2 9 16 18zm-84-142l-9-27-6 2 9 28zm-9-25l-8-28-6 1 9 29zm-45-438l19-15-5-12-19 15zm17-14l20-10-4-13-20 11zm18-10l22-6-4-12-22 6zm20-5l22-2-2-13-24 2zm108 30l25 20 1-11-25-20zm23 18l24 23 2-10-25-23zm23 22l23 26 3-9-25-27zm22 24l23 30 3-8-24-31zm97 165l16 41 5-3-17-42zm15 39l14 42 6-2-15-43zm14 40l12 43 6-1-13-44zm11 41l11 43 6 0-11-44zm28 201l-1 40 6 5 2-40zm-1 37l-4 38 7 6 4-38zm-3 35l-6 36 6 7 6-36zm-6 33l-8 33 6 8 9-33zm-7 31l-11 29 6 9 11-30zm-35 72l-17 19 5 11 18-19zm-15 17l-19 15 5 12 19-15zm-54 30l-23 1 3 13 23-2zm-21 1l-23-2 2 13 24 2zm-66-18l-24-15-1 11 26 16zm-22-14l-25-19-1 10 25 20zm-68-64l-23-30-2 9 23 30zm-21-28l-22-33-3 8 22 33zm-59-99l-17-40-5 4 18 41zm-16-38l-17-41-5 3 17 43zm-41-120l-10-43-7 0 11 45zm-10-41l-8-43-6-1 8 44zm-18-160l2-39-7-6-2 40zm1-37l4-38-7-6-3 38zm4-35l6-35-7-8-6 36zm5-33l8-33-6-8-9 33z"/>
<path fill="#0000a0" d="M3603 2674l13-6-5-13-13 7zm11-6l14-4-4-13-14 4zm94 26l15 15 2-10-16-15zm14 14l15 17 2-10-16-18zm83 142l10 27 5-3-9-28zm9 25l8 27 6-1-8-29zm25 150l-1 26 7 5 1-26zm-1 23l-3 25 7 6 3-25zm-6 43l-5 21 7 8 5-22zm-35 74l-12 10 5 12 12-9zm-34 19l-14 1 2 13 16-1zm-67-19l-16-12-1 11 16 12zm-42-40l-15-19-3 9 15 20zm-61-102l-10-27-5 4 10 27zm-25-75l-7-28-6 0 7 30zm-17-125l1-25-7-6-1 26zm0-23l3-24-7-7-3 25zm2-22l4-23-7-7-4 23zm0-241l19-10-5-16-20 10zm313 272l14 41 8-3-15-42zm13 39l12 42 8-2-12-43zm37 269l-3 36 9 9 3-38zm-3 34l-6 34 9 10 6-35zm-60 147l-18 14 6 16 18-14zm-16 13l-20 10 6 17 20-11zm-18 9l-20 6 4 17 21-6zm-18 6l-22 2 3 17 23-2zm-105-30l-24-18-1 14 24 19zm-22-17l-24-22-2 14 25 23zm-22-20l-23-26-3 13 24 26zm-21-24l-22-29-4 11 23 30zm-93-159l-16-39-7 4 16 41zm-15-37l-14-41-7 3 14 42zm-13-39l-12-41-8 1 12 43zm-37-269l3-36-9-9-3 38zm3-34l6-33-9-10-6 35zm129-192l23 2-1-12-24-3zm66 18l24 16 1-12-26-15zm111 106l22 33 4-8-23-33zm59 100l18 39 4-4-18-41zm67 198l8 43 7 2-9-45zm8 41l6 43 6 2-6-44zm5 41l4 42 7 3-4-43zm4 40l1 41 7 4-2-42zm-26 201l-13 26 6 10 13-27zm-12 24l-15 23 6 11 15-24zm-124 67l-24-7 1 13 25 7zm-22-6l-25-11 1 12 25 11zm-155-147l-20-35-4 6 21 37zm-19-33l-20-38-4 6 20 39zm-94-275l-5-43-7-2 6 44zm-5-41l-4-42-6-3 3 43zm-4-39l-1-41-6-5 1 42zm17-174l10-30-6-9-11 30zm9-28l13-26-6-10-13 27zm12-24l15-23-6-10-15 23zm13-21l17-19-5-11-17 19z"/>
<path fill="#0000b0" d="M3592 2683l12-10-5-12-12 10zm34-18l14-2-2-13-15 2zm67 18l16 13 2-11-17-13zm42 40l15 19 3-8-15-20zm61 102l10 27 6-4-11-27zm25 75l7 28 6 0-7-29zm7 210l-7 19 6 9 8-20zm-22 45l-11 12 6 12 11-13zm-55 30l-15-2 1 13 16 2zm-41-12l-16-9-1 12 17 10zm-70-65l-14-21-3 8 14 21zm-36-62l-12-25-5 4 12 27zm-42-123l-5-28-7-1 5 29zm-11-76l0-26-7-5 0 28zm6-89l5-21-7-9-5 22zm285 319l-4 23 9 10 4-24zm-52 108l-13 7 6 17 14-7zm-11 6l-14 4 4 18 15-5zm-98-27l-16-15-3 13 18 16zm-15-14l-16-18-3 13 17 19zm-87-148l-10-28-7 3 10 29zm-9-26l-8-29-8 2 8 30zm258 313l-18 9 8 25 19-10zm-16 9l-19 5 6 25 20-6zm-137-39l-22-21-3 20 23 22zm-20-20l-22-24-4 19 23 25zm-122-207l-13-38-11 4 13 41zm4-482l17-14-6-16-18 15zm33-22l21-6-5-17-21 6zm145 41l24 22 2-13-24-23zm22 21l23 25 3-12-24-27zm21 23l22 29 4-11-23-30zm94 159l15 40 7-5-16-41zm39 115l10 42 8 0-10-43zm26 194l-1 38 9 8 1-40zm-9 101l-8 32 8 11 9-32zm-127 146l-23-3 3 17 23 3zm-63-18l-24-15-1 15 25 16zm-108-102l-21-31-4 10 21 32zm-56-96l-17-38-7 6 18 40zm-56-151l-9-42-9 0 11 44zm-26-194l1-38-9-7-1 39zm9-101l8-31-8-12-9 33zm145-159l24 7-1-12-24-8zm22 6l25 11-1-12-25-11zm155 147l21 35 4-6-22-36zm19 33l20 38 4-6-20-38z"/>
<path fill="#0000c0" d="M3749 2740l14 21 4-7-15-22zm36 62l12 26 5-5-12-26zm42 124l5 27 7 2-5-29zm11 75l0 27 7 4 0-27zm-16 126l-9 16 7 11 8-18zm-7 15l-10 14 6 11 10-15zm-78 41l-15-4 1 13 16 4zm-13-3l-16-7 0 12 17 7zm-96-91l-14-23-4 7 14 23zm-13-21l-12-24-5 6 13 25zm-58-171l-4-27-6-3 3 29zm4-158l7-19-6-10-7 20zm22-45l11-12-6-12-11 12zm16-31l13-7-5-16-14 7zm11-6l15-4-5-17-15 4zm200 189l10 29 8-3-11-30zm9 26l8 29 8-1-8-31zm25 182l-2 25 9 9 3-26zm-43 122l-12 10 6 16 13-10zm-35 19l-15 1 4 18 16-2zm-70-20l-17-12-1 14 17 14zm-44-41l-15-20-4 12 16 21zm-63-107l-11-27-7 4 11 29zm-44-233l3-25-10-9-2 27zm2-23l4-23-9-10-4 24zm322 81l11 40 12-3-12-41zm34 254l-3 34 13 13 4-36zm-2 32l-6 32 13 15 6-34zm-107 165l-20 2 5 25 22-2zm-98-28l-23-17-1 21 23 18zm-61-58l-21-27-6 17 22 28zm-88-149l-15-38-10 7 15 40zm-26-72l-12-39-12 2 12 41zm-35-254l3-34-13-13-4 36zm3-31l5-32-13-16-6 34zm100-189l21-2-3-17-23 2zm104 30l24 18 1-14-24-19zm207 375l8 42 9 1-9-43zm16 117l1 40 9 6-1-41zm-15 168l-11 28 9 12 10-29zm-34 69l-16 18 7 16 17-19zm-107 45l-23-7 2 17 24 6zm-21-6l-23-11 0 16 25 11zm-149-141l-20-35-5 9 21 36zm-18-32l-19-37-6 8 19 37zm-83-226l-8-42-8-1 8 43zm-16-117l-1-39-9-6 1 41z"/>
<path fill="#0000d0" d="M3639 2663l15 2-2-13-16-2zm40 12l16 10 1-12-17-10zm153 276l4 28 7 2-4-29zm4 25l2 28 7 3-3-28zm-282-104l-3-27-7-4 3 29zm13-150l9-17-6-11-9 18zm8-15l9-15-6-11-10 15zm133-22l16 15 3-14-17-16zm15 13l16 18 3-13-17-18zm104 201l7 29 8 0-7-31zm18 131l-1 26 9 8 1-28zm-6 68l-6 22 9 11 6-22zm-277-149l-6-29-9 0 7 31zm-18-131l1-26-9-7-1 27zm7-68l6-21-9-12-7 23zm299 336l-4 24 11 13 5-26zm-54 114l-14 7 7 21 14-8zm-13 6l-14 5 5 21 16-5zm-103-29l-17-16-3 17 18 17zm-15-14l-17-19-4 16 18 20zm-93-157l-10-29-9 3 10 32zm-9-27l-9-31-10 2 9 33zm256 284l-17 8 9 29 18-9zm-16 8l-17 5 7 29 19-6zm-126-36l-21-19-4 23 22 21zm-19-18l-20-22-6 21 22 24zm-114-192l-12-36-13 5 13 39zm-11-34l-11-37-13 3 11 39zm28-432l18-9-8-24-19 10zm16-8l20-6-7-25-20 6zm137 39l22 20 3-20-23-22zm20 19l22 24 4-19-22-25zm122 207l13 39 12-5-14-41zm48 256l-1 36 14 11 1-38zm-8 96l-8 29 13 17 8-31zm-53 109l-16 13 9 23 17-13zm-333-318l-9-40-13 0 10 42zm-25-183l1-36-14-11-1 38zm123-256l23 3-3-17-23-2zm64 18l23 15 1-15-25-15zm107 102l21 32 5-10-22-33zm56 96l18 38 6-6-18-39zm56 502l-12 25 8 14 13-26zm-11 23l-14 22 7 14 15-22zm-398-379l-6-42-9-3 6 43zm-6-39l-3-41-9-5 3 43zm13-206l10-29-8-12-11 29zm33-70l16-18-7-15-17 18z"/>
<path fill="#0000e1" d="M3652 2665l15 4-1-13-16-4zm13 4l16 7 0-13-17-7zm97 90l13 23 4-7-14-23zm12 21l12 24 5-5-13-26zm-186-108l12-9-6-17-13 10zm35-19l15-1-4-17-15 1zm70 20l17 13 1-15-17-13zm44 41l16 20 4-11-17-21zm63 107l11 28 7-5-11-29zm-47 375l-16-1 3 17 16 1zm-43-12l-16-10-1 16 18 10zm-72-68l-15-22-4 10 15 23zm-38-65l-12-26-7 6 13 28zm226-181l9 30 10-2-9-32zm27 191l-3 27 11 11 3-28zm-83 149l-15 2 4 21 16-1zm-74-21l-18-13-1 18 18 14zm-46-43l-17-21-4 14 17 22zm-67-113l-11-29-9 6 12 30zm-46-246l2-26-11-11-3 27zm2-24l4-25-11-13-5 26zm263 455l-14 8 8 25 15-9zm-13 7l-15 5 6 25 17-5zm-110-31l-18-17-3 21 19 18zm-16-16l-18-19-5 19 19 21zm-99-166l-10-32-12 5 12 33zm-10-30l-9-32-12 2 10 35zm257 259l-16 8 8 24 16-8zm-15 7l-16 5 6 25 18-5zm-118-34l-19-18-4 21 21 19zm-18-16l-19-21-4 19 20 22zm-106-180l-11-34-11 5 12 36zm-10-31l-10-35-12 3 10 36zm345 106l-4 31 16 16 4-34zm-3 30l-6 29 16 18 6-32zm-190 127l-21-16-2 25 22 17zm-195-495l3-31-16-16-3 34zm2-29l6-30-16-18-6 32zm43-154l16-13-9-24-17 14zm49-27l20-1-5-25-21 2zm98 29l23 17 2-22-24-18zm61 57l21 27 6-17-22-28zm88 150l15 37 11-7-16-39zm37 108l10 40 12 0-10-42zm-103 415l-21-2 4 25 22 2zm-60-17l-22-13-1 23 24 14zm-101-95l-20-30-7 15 22 31zm-53-91l-16-36-10 9 17 39zm-68-420l7-30-12-17-9 31zm305-11l20 34 5-9-21-35zm19 32l18 36 6-7-19-38zm90 264l5 42 9 3-6-43zm5 40l3 40 9 5-3-42zm-415-396l12-25-8-13-13 26zm11-23l14-22-7-14-15 22z"/>
<path fill="#0000f1" d="M3834 3118l-8 19 9 13 8-20zm-23 47l-11 12 7 16 12-13zm-255-242l-5-29-9-2 6 31zm-11-79l0-28-10-6 1 29zm48-196l14-7-6-20-15 7zm13-6l15-4-6-22-16 5zm103 29l17 16 3-17-18-17zm15 15l17 18 4-16-18-19zm93 156l10 30 9-4-10-32zm30 266l-7 23 12 14 6-24zm-40 83l-13 9 8 21 14-11zm-252-240l-7-31-11 0 8 33zm-19-139l1-27-12-10-1 30zm327 259l-3 27 14 14 3-30zm-2 25l-5 26 13 16 6-28zm-335-318l3-28-14-14-3 30zm2-26l5-26-13-15-5 27zm348 330l-3 29 13 14 4-32zm-3 27l-5 28 14 16 5-30zm-360-342l3-30-13-14-4 32zm3-28l5-28-13-15-6 29zm55-154l16-8-9-29-18 10zm15-8l17-5-7-29-19 6zm127 37l20 19 4-24-22-20zm18 18l21 22 5-22-22-24zm114 192l12 36 13-6-13-38zm11 33l11 37 14-3-12-39zm25 293l-7 27 15 20 8-29zm-48 101l-16 12 11 28 16-13zm-46 25l-18 1 6 29 20-1zm-148-80l-19-25-7 20 21 27zm-82-139l-13-34-13 7 15 38zm-34-100l-9-37-14-1 9 40zm366 238l-10 27 12 18 11-28zm-32 66l-15 16 10 23 16-17zm-356-339l-7-40-13-2 7 41zm-15-111l-1-37-14-9 1 39zm143-288l23 6-1-16-24-7zm21 6l24 10-1-16-24-11z"/>
<path fill="#0002ff" d="M3833 2926l6 29 8 1-5-30zm11 79l1 27 9 6-1-29zm-105 190l-16-5 2 17 17 5zm-14-4l-16-7 0 16 17 7zm-100-95l-14-23-6 8 15 25zm-13-22l-13-25-6 8 14 26zm-56-344l7-19-9-13-7 21zm22-47l11-12-7-16-12 13zm256 215l7 30 11 0-8-32zm19 138l-1 28 12 9 1-29zm-310-296l6-22-11-15-7 24zm44-110l14-8-8-24-15 8zm13-7l15-5-6-25-17 5zm127 47l17 19 5-19-19-20zm98 167l11 31 11-4-11-34zm10 29l9 32 12-2-10-35zm-20 342l-14 11 9 24 15-11zm-40 22l-16 1 5 25 17-1zm-79-23l-19-14-1 22 19 15zm-49-47l-18-21-5 17 18 23zm-72-120l-12-31-10 7 13 33zm4-432l15-8-8-25-16 9zm14-8l17-5-7-25-18 5zm242 230l11 34 12-5-13-36zm11 32l9 34 12-2-10-37zm-22 368l-15 11 9 24 16-12zm-43 23l-17 1 5 25 19-1zm-85-25l-20-15-2 22 21 16zm-53-50l-19-23-5 17 19 25zm-77-129l-13-33-10 7 14 35zm323 13l-1 33 16 13 1-36zm-389-275l1-34-16-13-1 36zm388 140l8 39 12 3-7-42zm15 110l1 37 14 10-1-40zm-147 265l-21-6 2 25 23 6zm-19-5l-22-10 0 24 24 10zm-140-133l-19-32-8 13 20 34zm-18-30l-18-35-9 12 19 36zm-78-481l9-26-12-19-10 28zm31-66l15-16-10-23-16 17z"/>
<path fill="#0012ff" d="M3636 2652l16 2-3-18-16-1zm43 12l16 10 1-16-18-10zm72 68l15 22 5-10-16-23zm38 65l12 26 7-6-13-28zm38 339l-8 17 8 14 9-18zm-7 15l-10 15 7 15 11-16zm-238-493l13-10-8-20-13 10zm37-20l16-2-5-21-16 2zm74 21l18 13 1-18-18-14zm47 44l16 20 5-14-18-22zm66 112l12 29 9-6-13-30zm-96-161l18 17 3-20-19-18zm147 466l-7 24 13 18 7-26zm-311-168l-8-32-13 0 9 35zm-21-147l1-29-13-12-2 32zm186-171l20 18 3-21-21-19zm18 17l19 20 4-18-20-23zm140 484l-7 26 13 17 8-27zm-335-181l-8-34-12 0 8 37zm-22-158l2-32-14-11-1 34zm44-199l16-12-11-28-16 13zm276 194l14 35 12-8-15-38zm34 101l9 37 14 0-9-40zm-358-194l7-27-15-20-8 29zm105-154l21 2-3-25-23-2zm60 17l22 13 1-22-24-15zm101 96l20 29 7-15-21-31zm53 90l16 36 10-9-17-38zm53 473l-12 23 12 21 12-25zm-11 22l-13 20 11 22 14-22zm-375-358l-5-39-14-5 6 42zm-5-37l-3-38-14-7 4 41z"/>
<path fill="#02f" d="M3551 2896l-4-29-9-3 4 30zm-4-27l-2-28-9-4 2 29zm209 343l-16-2 3 21 17 2zm-45-13l-17-10 0 19 18 11zm-76-72l-16-23-5 13 16 24zm-40-68l-13-28-8 7 13 30zm249-163l7 32 13 0-8-34zm20 147l-1 30 14 11 1-31zm-332-315l7-24-13-17-7 25zm323 166l8 34 13 1-9-37zm22 159l-2 31 14 11 2-33zm-357-340l7-26-13-17-7 27zm82-141l19-1-6-29-20 2zm92 27l20 15 2-25-22-17zm56 53l20 25 6-20-21-26zm20 625l-19-2 4 29 21 2zm-55-16l-21-12 0 27 22 13zm-94-88l-19-28-8 18 20 29zm-49-84l-16-34-11 11 16 36zm323-125l5 39 14 5-6-42zm5 37l3 38 14 7-3-40z"/>
<path fill="#03f" d="M3838 2952l4 29 9 3-4-30zm4 27l2 28 9 5-2-30zm-280-266l9-18-9-13-9 18zm7-16l10-15-7-15-11 16zm272 432l-7 20 10 16 9-22zm-23 50l-12 12 8 20 13-14zm-270-257l-5-30-11-2 6 32zm-11-83l-1-29-11-7 0 30zm37-199l14-11-9-24-14 12zm40-21l16-2-5-25-17 2zm129 69l17 22 6-17-19-24zm71 120l12 31 10-7-12-33zm-249-190l15-11-9-24-16 12zm258 182l13 32 10-7-13-34zm52 376l-9 24 14 22 10-26zm-29 61l-14 15 11 27 15-17zm-331-315l-7-37-15-3 7 40zm-14-103l-1-35-16-10 1 37zm8-191l12-23-12-20-12 24zm11-22l13-20-11-21-14 21z"/>
<path fill="#0043ff" d="M3650 2653l16 5-2-17-16-5zm14 4l17 8-1-17-17-7zm101 95l14 24 5-9-15-25zm12 22l13 25 6-8-13-26zm-83-133l18 14 2-22-20-15zm-86-45l18-2-6-25-18 2zm85 24l20 15 2-22-21-16zm53 50l19 23 5-17-19-25zm-113-124l21 6-2-25-23-6zm20 6l22 9-1-23-24-11zm140 132l19 33 7-14-20-34zm17 31l18 34 9-11-19-36z"/>
<path fill="#0053ff" d="M3841 2926l6 30 11 2-6-32zm11 83l1 29 12 8-1-31zm-304-290l7-20-10-16-8 22zm24-49l11-13-8-20-13 14zm188 561l-17-2 4 25 18 2zm-48-14l-18-11 0 23 19 12zm-81-77l-17-24-7 15 18 26zm-43-73l-14-29-9 9 14 32zm177 187l-18-2 4 25 19 2zm-51-15l-20-11 0 23 20 12zm-88-83l-18-25-7 15 19 27zm-46-78l-15-31-9 9 15 33zm294-152l7 37 15 3-7-39zm14 103l1 35 16 10-1-37zm-374-356l10-25-15-22-10 26zm30-62l14-15-12-27-15 17z"/>
<path fill="#0063ff" d="M3633 2637l16 1-3-21-17-2zm121 85l16 22 6-12-17-25zm41 68l12 27 8-7-13-30zm-53 420l-17-4 2 20 18 5zm-15-4l-17-8 0 21 18 7zm124-63l-8 21 13 19 8-23zm-25 53l-13 13 11 23 13-14zm-288-274l-6-32-13-2 7 34zm325 237l-9 23 13 19 9-24zm-27 57l-14 15 11 23 14-16zm-68-540l19 27 8-17-20-30zm50 83l15 34 11-11-16-36zm-66 516l-20-5 3 28 21 6zm-18-5l-21-9 1 28 22 9zm-130-123l-18-30-9 15 19 32zm-17-28l-16-32-11 13 18 34z"/>
<path fill="#0073ff" d="M3678 2649l17 11 1-20-19-11zm-57 457l-15-25-7 11 16 26zm-14-23l-14-26-7 9 15 28zm-81-250l0-30-14-10 0 33zm1 89l-7-35-13-2 7 37zm-14-96l0-32-14-10 1 35zm106-255l20 2-5-29-21-2zm55 16l21 12 1-26-23-14zm193 612l-11 21 13 24 12-23zm-10 20l-13 19 13 25 14-20z"/>
<path fill="#0084ff" d="M3835 3148l-9 18 10 17 9-19zm-8 16l-11 16 10 18 11-16zm-284-270l-4-30-11-4 4 32zm-4-28l-2-29-12-6 3 31zm312 60l6 32 13 3-7-35zm12 89l1 31 13 9 0-33zm0-89l6 35 13 2-7-37zm13 96l1 33 13 9-1-35zm-368-135l-5-36-15-6 5 39zm-4-34l-3-36-16-8 3 38z"/>
<path fill="#0094ff" d="M3538 2706l8-22-12-19-9 23zm25-53l13-14-10-23-14 14zm-37 36l9-23-13-19-9 25zm27-57l14-14-10-24-14 16z"/>
<path fill="#00a4ff" d="M3846 2954l4 30 12 4-5-32zm4 28l2 30 12 5-3-31zm-221-365l17 2-4-25-18-2zm129 91l17 24 7-15-18-26zm43 73l14 29 10-9-15-31zm-38-89l18 26 7-15-19-28zm46 78l15 32 10-9-16-34zm72 191l5 37 15 5-5-39zm5 34l2 36 16 8-3-38z"/>
<path fill="#00b4ff" d="M3554 2701l10-18-11-18-9 19zm8-17l11-15-10-19-11 17zm115-53l18 11 1-23-20-12zm-53-37l18 2-3-25-20-2zm52 15l19 12 1-23-21-13zm-154 40l11-21-13-24-12 23zm10-20l13-18-13-26-13 20z"/>
<path fill="#00c4ff" d="M3769 2743l14 24 7-11-16-26zm13 22l14 27 7-10-14-28zm-145-192l20 5-3-28-21-6zm149 129l17 29 9-15-19-32zm16 28l17 31 10-13-18-34z"/>
<path fill="#00d4ff" d="M3648 2638l16 5-2-21-17-5zm15 5l17 7-1-20-18-8zm-7-65l20 9-1-27-22-10z"/>
<path fill="#00f5ff" d="M3745 3229l-18-5 2 25 19 5zm-16-4l-18-8 1 24 19 8zm-113-107l-16-26-8 13 17 28zm-15-25l-14-28-9 12 15 30zm147 159l-19-5 3 25 20 5zm-17-5l-19-8 1 24 20 9zm-121-115l-17-28-8 13 18 30zm-16-26l-15-30-9 11 16 32z"/>
<path fill="#06fff9" d="M3855 3181l-10 20 12 21 11-22zm-9 19l-12 17 11 22 13-18z"/>
<path fill="#16ffe9" d="M3844 3163l-10 19 12 20 11-20zm-8 17l-11 17 11 22 12-18z"/>
<path fill="#26ffd9" d="M3533 2892l-4-32-14-5 5 35zm-4-30l-3-31-13-7 2 34zm-9 28l-4-35-13-4 4 36zm-4-32l-3-34-13-7 3 36z"/>
<path fill="#47ffb8" d="M3861 2986l2 31 14 7-3-33zm8-27l4 34 14 5-5-37zm4 32l3 33 13 7-3-36z"/>
<path fill="#57ffa8" d="M3856 2956l5 32 13 5-4-34zm-322-289l10-20-12-20-11 21zm9-19l12-17-11-22-13 19z"/>
<path fill="#67ff98" d="M3545 2686l10-19-12-21-11 20zm9-18l11-16-11-22-12 17z"/>
<path fill="#8f7" d="M3645 2619l17 5-2-25-19-5zm16 5l18 7-1-23-20-9zm113 107l15 26 8-14-17-28zm14 24l14 28 9-11-15-30zm-147-159l19 5-3-24-20-6zm17 5l19 8-1-24-20-9zm122 115l16 28 8-13-18-30zm15 26l16 30 8-11-16-32z"/></g><path fill="#7f8" d="M353.2 264.1L353.4 263.2L353.8 262.8L354.4 263L354.9 263.6L355.3 264.6L355.5 265.7L355.3 266.5L354.9 266.9L354.4 266.7L353.8 266.1L353.4 265.1Z"/><path fill="#d9ff26" d="M353.6 264.3L353.7 263.8L354 263.5L354.4 263.6L354.7 264L355 264.7L355.1 265.4L355 265.9L354.7 266.2L354.4 266.1L354 265.7L353.7 265Z"/><path fill="#ffa400" d="M354 264.6L354 264.3L354.2 264.2L354.4 264.2L354.6 264.4L354.7 264.8L354.7 265.1L354.7 265.4L354.6 265.5L354.4 265.5L354.2 265.3L354 264.9Z"/><path fill="#a8ff57" d="M364.8 259.4L364.9 258.5L365.4 258.1L365.9 258.3L366.5 258.9L366.9 259.9L367 261L366.9 261.8L366.5 262.2L365.9 262.1L365.4 261.4L364.9 260.4Z"/><path fill="#fff500" d="M365.2 259.6L365.3 259.1L365.5 258.8L365.9 258.9L366.3 259.4L366.6 260L366.7 260.7L366.6 261.3L366.3 261.5L365.9 261.4L365.5 261L365.3 260.3Z"/><path fill="#ff6300" d="M365.5 259.9L365.6 259.6L365.7 259.5L365.9 259.5L366.1 259.8L366.2 260.1L366.3 260.4L366.2 260.7L366.1 260.9L365.9 260.8L365.7 260.6L365.6 260.3Z"/><path fill="#98ff67" d="M378.4 273.6L378.6 272.7L379 272.3L379.5 272.5L380.1 273.1L380.5 274.1L380.7 275.2L380.5 276L380.1 276.4L379.5 276.3L379 275.6L378.6 274.6Z"/><path fill="#f9ff06" d="M378.8 273.8L378.9 273.3L379.2 273L379.5 273.1L379.9 273.6L380.2 274.2L380.3 274.9L380.2 275.5L379.9 275.7L379.5 275.6L379.2 275.2L378.9 274.5Z"/><path fill="#ff7300" d="M379.2 274.1L379.2 273.8L379.4 273.7L379.5 273.7L379.7 274L379.9 274.3L379.9 274.6L379.9 274.9L379.7 275.1L379.5 275L379.4 274.8L379.2 274.5Z"/><path fill="#67ff98" d="M386.1 298.3L386.3 297.5L386.7 297.1L387.3 297.3L387.8 297.9L388.2 298.9L388.4 299.9L388.2 300.8L387.8 301.2L387.3 301L386.7 300.4L386.3 299.4Z"/><path fill="#b8ff47" d="M386.5 298.6L386.6 298.1L386.9 297.8L387.3 297.9L387.6 298.3L387.9 299L388 299.7L387.9 300.2L387.6 300.5L387.3 300.4L386.9 300L386.6 299.3Z"/><path fill="#ffc400" d="M386.9 298.9L386.9 298.6L387.1 298.5L387.3 298.5L387.5 298.7L387.6 299.1L387.6 299.4L387.6 299.7L387.5 299.8L387.3 299.8L387.1 299.6L386.9 299.2Z"/><path fill="#26ffd9" d="M383.4 319.2L383.6 318.3L384 317.9L384.6 318.1L385.1 318.7L385.5 319.7L385.7 320.8L385.5 321.6L385.1 322L384.6 321.9L384 321.2L383.6 320.2Z"/><path fill="#7f8" d="M383.8 319.4L383.9 318.9L384.2 318.6L384.6 318.7L384.9 319.1L385.2 319.8L385.3 320.5L385.2 321.1L384.9 321.3L384.6 321.2L384.2 320.8L383.9 320.1Z"/><path fill="#e9ff16" d="M384.2 319.7L384.2 319.4L384.4 319.3L384.6 319.3L384.7 319.6L384.9 319.9L384.9 320.2L384.9 320.5L384.7 320.6L384.6 320.6L384.4 320.4L384.2 320.1Z"/><path fill="#06fff9" d="M371.9 323.9L372 323L372.4 322.6L373 322.8L373.6 323.4L374 324.4L374.1 325.5L374 326.3L373.6 326.7L373 326.5L372.4 325.9L372 324.9Z"/><path fill="#47ffb8" d="M372.2 324.1L372.4 323.6L372.6 323.3L373 323.4L373.4 323.8L373.7 324.5L373.8 325.2L373.7 325.7L373.4 326L373 325.9L372.6 325.5L372.4 324.8Z"/><path fill="#b8ff47" d="M372.6 324.4L372.7 324.1L372.8 324L373 324L373.2 324.2L373.3 324.6L373.4 324.9L373.3 325.2L373.2 325.3L373 325.3L372.8 325.1L372.7 324.7Z"/><path fill="#06fff9" d="M358.2 309.6L358.4 308.8L358.8 308.4L359.4 308.6L359.9 309.2L360.4 310.2L360.5 311.3L360.4 312.1L359.9 312.5L359.4 312.3L358.8 311.7L358.4 310.7Z"/><path fill="#57ffa8" d="M358.6 309.9L358.7 309.4L359 309.1L359.4 309.2L359.7 309.6L360 310.3L360.1 311L360 311.5L359.7 311.8L359.4 311.7L359 311.3L358.7 310.6Z"/><path fill="#b8ff47" d="M359 310.2L359 309.9L359.2 309.8L359.4 309.8L359.6 310L359.7 310.4L359.7 310.7L359.7 311L359.6 311.1L359.4 311.1L359.2 310.9L359 310.5Z"/><path fill="#37ffc8" d="M350.5 284.9L350.7 284L351.1 283.6L351.7 283.8L352.2 284.4L352.6 285.4L352.8 286.5L352.6 287.3L352.2 287.7L351.7 287.6L351.1 286.9L350.7 285.9Z"/><path fill="#8f7" d="M350.9 285.1L351 284.6L351.3 284.3L351.7 284.4L352 284.9L352.3 285.5L352.4 286.2L352.3 286.8L352 287L351.7 286.9L351.3 286.5L351 285.8Z"/><path fill="#f9ff06" d="M351.3 285.4L351.3 285.1L351.5 285L351.7 285.1L351.8 285.3L352 285.6L352 285.9L352 286.2L351.8 286.4L351.7 286.3L351.5 286.1L351.3 285.8Z"/></g></g>
<g clip-path="url(#cr1)"><g filter="url(#bl)"><path fill="#0028f0" fill-rule="evenodd" d="M330.5 275.7L330.6 272.1L330.9 268.7L331.3 265.5L332 262.5L332.8 259.7L333.8 257.2L335 255L336.3 253L337.8 251.4L339.4 250.1L341.2 249.1L343 248.4L344.9 248.1L346.9 248.2L349 248.5L351.2 249.3L353.3 250.3L355.5 251.7L357.7 253.4L359.8 255.4L362 257.7L364.1 260.3L366.1 263.1L368 266.2L369.9 269.5L371.6 272.9L373.2 276.5L374.7 280.2L376 284.1L377.2 288L378.2 291.9L379 295.9L379.7 299.8L380.1 303.7L380.4 307.5L380.5 311.2L380.4 314.8L380.1 318.2L379.7 321.4L379 324.5L378.2 327.2L377.2 329.7L376 332L374.7 333.9L373.2 335.6L371.6 336.9L369.9 337.9L368 338.5L366.1 338.8L364.1 338.8L362 338.4L359.8 337.7L357.7 336.6L355.5 335.2L353.3 333.5L351.2 331.5L349 329.2L346.9 326.6L344.9 323.8L343 320.8L341.2 317.5L339.4 314L337.8 310.4L336.3 306.7L335 302.9L333.8 299L332.8 295L332 291.1L331.3 287.1L330.9 283.2L330.6 279.4ZM342.1 283.9L342.1 282L342.3 280.2L342.5 278.4L342.9 276.8L343.3 275.3L343.9 274L344.5 272.8L345.2 271.7L346 270.9L346.9 270.1L347.8 269.6L348.8 269.3L349.8 269.1L350.9 269.1L352 269.3L353.2 269.7L354.3 270.3L355.5 271L356.7 271.9L357.8 273L359 274.3L360.1 275.6L361.2 277.2L362.2 278.8L363.2 280.6L364.1 282.4L365 284.4L365.8 286.4L366.5 288.4L367.1 290.5L367.7 292.6L368.1 294.8L368.5 296.9L368.7 299L368.9 301L369 303L368.9 304.9L368.7 306.8L368.5 308.5L368.1 310.1L367.7 311.6L367.1 313L366.5 314.2L365.8 315.2L365 316.1L364.1 316.8L363.2 317.3L362.2 317.7L361.2 317.9L360.1 317.8L359 317.6L357.8 317.2L356.7 316.7L355.5 315.9L354.3 315L353.2 313.9L352 312.7L350.9 311.3L349.8 309.8L348.8 308.1L347.8 306.4L346.9 304.5L346 302.6L345.2 300.6L344.5 298.5L343.9 296.4L343.3 294.3L342.9 292.2L342.5 290.1L342.3 288L342.1 285.9Z"/><g transform="scale(.1)"><path fill="#000080" d="M3456 2701l11-10-3-8-12 9zm10-9l12-6-2-9-14 7zm11-6l13-4-2-9-14 5zm11-3l15-1-2-9-15 1zm12-1l15 1-1-9-15-1zm13 1l16 4-1-8-16-5zm14 4l15 7 0-9-16-7zm13 6l16 9 0-8-16-10zm14 8l15 12 1-7-16-13zm14 11l15 14 1-7-16-15zm13 13l15 16 2-6-15-17zm14 14l14 19 2-6-15-19zm13 17l13 21 3-5-14-21zm12 19l13 22 3-4-13-23zm12 20l12 23 3-3-12-25zm11 21l11 25 4-3-12-25zm10 23l10 26 4-3-10-26zm10 23l9 27 3-2-9-27zm8 25l8 27 4-1-8-28zm7 24l6 27 5 0-7-28zm6 25l5 27 4 1-5-28zm10 74l1 25 4 3 0-26zm1 23l-1 25 5 3 0-25zm-1 22l-2 24 4 4 3-24zm-2 22l-4 22 5 5 4-23zm-3 19l-5 21 4 6 6-21zm-35 73l-11 9 3 9 12-10zm-10 8l-12 7 2 9 14-7zm-10 6l-14 4 2 9 14-4zm-12 4l-15 1 2 9 15-1zm-66-18l-15-13-1 8 16 12zm-14-11l-15-15-1 7 16 15zm-13-13l-15-17-2 7 15 17zm-14-15l-14-19-2 6 15 19zm-58-99l-10-26-4 2 10 27zm-10-24l-9-26-3 1 9 27zm-8-24l-8-27-4 1 8 28zm-7-25l-6-27-5 0 7 28zm-16-98l-1-26-4-3 0 27zm-1-23l1-25-5-4 0 26zm1-23l2-23-4-5-3 24zm2-21l4-22-5-5-4 23zm3-20l5-20-4-6-6 21zm5-18l6-19-4-6-7 19zm20-44l11-12-4-8-11 12zm-39-178l21-11-4-12-21 11zm19-10l21-6-3-13-22 7zm151 43l24 23 1-10-24-24zm22 21l24 27 2-9-24-28zm134 229l15 42 5-2-14-44zm14 40l12 43 6-1-12-45zm-361-320l19-16-3-8-19 16zm17-14l21-11-3-9-21 12zm19-10l22-7-2-8-23 6zm20-6l23-2-2-9-23 2zm21-2l24 2-1-8-25-3zm22 2l25 7-1-8-25-7zm22 6l26 12-1-8-25-12zm24 11l25 16 0-8-26-16zm23 14l25 20 1-7-26-20zm23 19l25 23 1-6-25-24zm23 22l25 27 1-6-24-28zm23 25l24 31 2-6-24-31zm22 29l23 33 2-5-23-34zm21 31l22 37 2-5-21-37zm20 35l20 38 3-4-20-39zm19 36l19 41 3-3-19-42zm18 38l16 43 4-3-17-43zm15 40l15 44 4-2-15-44zm14 42l13 44 4-1-13-45zm12 41l11 45 4 0-11-45zm10 43l9 44 4 1-8-45zm8 42l6 44 5 2-6-45zm6 42l4 43 4 2-4-44zm4 41l1 42 4 3-1-43zm1 39l-1 41 4 4 1-41zm-1 39l-4 38 4 4 4-39zm-4 36l-6 36 5 5 6-37zm-5 33l-9 34 5 5 8-33zm-8 32l-11 30 4 6 11-31zm-10 28l-13 27 4 6 13-27zm-12 25l-15 23 4 7 15-24zm-14 21l-17 20 4 7 17-20zm-15 18l-19 15 3 8 19-15zm-17 14l-21 11 3 8 21-11zm-19 10l-22 6 2 9 23-7zm-20 6l-23 2 2 8 23-1zm-21 2l-24-3 1 9 25 2zm-22-2l-25-8 1 9 25 7zm-22-7l-26-11 1 8 25 11zm-24-10l-25-16 0 8 26 16zm-23-15l-25-20-1 8 26 20zm-23-18l-25-24-1 7 25 24zm-23-22l-25-27-1 6 24 28zm-23-25l-24-31-1 6 23 31zm-22-29l-23-34-2 5 23 34zm-21-32l-22-36-2 4 21 37zm-20-34l-20-39-3 4 20 39zm-19-36l-19-41-3 3 19 41zm-18-39l-16-42-4 2 17 43zm-15-40l-15-43-4 1 15 44zm-14-41l-13-44-4 1 13 45zm-12-42l-11-44-4-1 11 46zm-10-42l-9-45-4-1 8 46zm-8-42l-6-45-5-1 6 45zm-6-42l-4-44-4-2 4 44zm-4-41l-1-42-4-3 1 43zm-1-40l1-40-4-4-1 41zm1-38l4-38-4-5-4 39zm4-36l6-36-5-5-6 37zm5-34l9-33-5-6-8 34zm8-31l11-30-4-6-11 30zm10-28l13-27-4-7-13 28zm12-25l15-23-4-8-15 24zm14-22l17-19-4-8-17 20z"/>
<path fill="#000090" d="M3689 2961l3 27 5 1-4-27zm3 24l2 27 5 2-3-27zm-8 130l-6 18 4 7 7-19zm-5 16l-9 17 5 7 8-17zm-7 15l-10 14 4 8 10-15zm-8 13l-11 11 4 8 11-12zm-54 29l-15-2 1 9 15 2zm-13-1l-16-5 1 9 16 4zm-14-4l-15-7 0 8 16 8zm-13-6l-16-10 0 8 16 10zm-68-64l-13-20-3 5 14 21zm-12-18l-13-22-3 4 14 23zm-12-20l-12-24-3 4 12 24zm-11-22l-11-24-4 3 12 25zm-41-119l-5-28-4 0 5 28zm-5-25l-3-27-5-2 4 28zm-3-25l-2-26-5-3 3 28zm13-146l9-16-5-7-8 17zm7-14l10-15-4-7-10 15zm25-39l13-7-4-13-14 7zm11-6l14-4-3-13-15 4zm94 26l16 15 2-10-17-16zm14 13l15 17 3-9-16-18zm84 142l9 27 6-2-10-28zm8 25l8 28 6-1-8-29zm-260-96l4-23-7-8-4 24zm162-209l23 22 2-14-24-23zm21 20l23 26 3-13-23-26zm-206-54l18-14-4-12-19 15zm54-29l23-2-3-12-23 2zm20-1l24 2-2-13-24-2zm66 18l25 15 0-11-25-16zm23 14l24 19 1-10-25-20zm67 64l23 30 3-9-24-30zm22 28l22 33 3-8-22-33zm58 99l18 40 5-4-18-41zm17 38l16 41 5-3-16-43zm41 119l10 44 6 0-10-45zm9 42l9 43 6 1-8-44zm17 121l1 41 7 5-1-42zm1 39l-1 39 7 6 1-40zm-1 37l-3 37 6 7 4-38zm-3 35l-6 35 7 8 6-36zm-5 33l-9 32 7 9 8-33zm-58 120l-18 15 4 12 19-15zm-16 14l-21 10 4 13 21-11zm-19 9l-21 7 3 12 22-6zm-19 6l-23 2 3 13 23-2zm-109-31l-24-19-1 11 25 20zm-23-17l-24-23-1 10 24 23zm-22-22l-24-26-2 9 24 27zm-22-24l-23-30-3 8 24 31zm-97-165l-16-41-5 3 16 42zm-15-39l-15-42-5 2 14 43zm-14-40l-12-43-6 1 12 44zm-12-41l-10-43-6 0 10 44zm-27-201l1-40-7-5-1 40zm1-37l3-38-6-6-4 38zm3-36l6-35-7-7-6 36zm5-32l9-33-7-8-8 33zm8-31l11-29-7-9-10 30zm35-72l16-19-5-11-17 19z"/>
<path fill="#0000a0" d="M3453 2693l12-9-5-12-13 9zm33-18l15-1-3-13-15 1zm68 19l16 12 1-11-17-12zm42 40l15 19 3-9-16-20zm60 102l11 26 5-3-11-27zm26 75l6 27 7 0-7-29zm17 125l-1 25 7 6 1-26zm-1 23l-2 24 7 7 2-25zm-2 22l-4 23 7 7 4-23zm-3 20l-6 21 7 9 6-22zm-46 84l-13 6 4 13 14-7zm-11 6l-14 4 3 13 15-4zm-94-27l-16-14-2 10 17 15zm-14-13l-15-17-3 10 16 17zm-84-142l-9-27-6 2 10 29zm-8-25l-8-27-6 1 8 29zm-8-25l-6-28-7 0 7 29zm-17-125l1-26-7-5-1 26zm1-23l2-25-7-6-2 25zm5-43l6-21-7-8-6 21zm-20-207l18-14-6-16-19 14zm16-13l19-10-5-17-20 11zm17-10l21-6-4-16-22 6zm19-5l22-2-4-17-22 2zm105 30l24 18 1-14-25-20zm65 61l22 29 4-12-23-29zm93 159l16 39 7-4-17-41zm15 37l14 41 7-3-14-42zm13 39l12 41 8-1-13-43zm11 39l10 42 8 0-10-44zm26 230l-4 36 9 9 4-38zm-3 33l-6 34 9 10 6-35zm-77 161l-19 10 5 16 20-10zm-314-272l-14-41-7 3 14 42zm-13-39l-12-42-8 2 13 43zm-37-269l4-36-9-9-4 37zm3-34l6-34-9-10-6 35zm6-31l8-32-9-11-8 32zm145-159l24 7-1-13-25-7zm22 6l24 11 0-12-25-11zm154 147l21 35 4-7-21-36zm20 33l19 38 5-6-20-39zm93 275l6 43 7 2-6-44zm6 40l3 43 7 3-4-43zm-13 214l-11 30 7 9 11-30zm-10 28l-12 26 6 10 13-27zm-11 24l-15 23 6 10 15-23zm-14 21l-16 19 5 11 17-19zm-89 48l-24-2 2 12 24 3zm-66-18l-25-16 0 12 25 15zm-112-106l-22-33-3 7 23 34zm-58-100l-18-39-5 4 18 41zm-67-198l-9-44-6-1 8 45zm-8-41l-6-43-7-3 6 45zm-6-41l-3-42-7-4 4 44zm-3-40l-1-41-7-4 1 42zm26-201l12-26-6-10-13 27zm11-24l15-23-6-11-15 23z"/>
<path fill="#0000b0" d="M3499 2674l15 2-2-13-16-2zm41 12l16 9 0-12-16-10zm69 65l14 21 4-8-15-22zm37 62l11 25 5-4-12-27zm42 123l5 28 7 1-6-29zm10 76l1 26 7 5-1-28zm-41 164l-12 9 5 13 13-10zm-33 18l-15 2 3 13 15-2zm-68-19l-16-12-1 11 17 13zm-42-39l-15-19-3 8 16 20zm-60-102l-11-27-5 4 11 27zm-32-285l7-19-7-9-7 20zm21-45l11-12-5-12-12 13zm16-30l13-7-5-17-14 7zm12-6l14-4-4-18-15 5zm98 27l16 15 2-13-17-16zm14 14l16 17 3-12-16-19zm88 148l9 28 8-3-10-30zm9 26l8 29 8-2-9-30zm-272-101l4-23-9-11-5 25zm13-212l18-9-7-25-19 10zm17-9l19-5-7-25-20 6zm136 39l23 21 3-20-24-22zm21 20l21 24 5-19-23-25zm122 207l13 38 11-4-14-41zm12 36l11 39 12-2-12-42zm-260-332l22 2-2-16-24-3zm63 18l24 15 0-16-24-15zm107 102l22 31 4-10-22-32zm57 96l17 38 6-6-17-40zm82 345l-2 38 10 7 1-39zm-10 101l-8 31 9 12 8-33zm-55 116l-18 14 6 16 19-15zm-33 22l-21 6 4 17 22-6zm-19 6l-22 2 4 16 22-1zm-105-30l-24-18-1 14 25 19zm-22-17l-23-22-2 13 24 23zm-21-21l-23-25-3 12 23 27zm-22-23l-22-29-4 11 23 30zm-93-159l-16-40-7 5 17 41zm-39-115l-10-42-8 0 10 43zm-27-194l2-38-10-8-1 40zm50-200l17-18-7-16-17 19zm241 774l-24-7 1 12 25 7zm-22-6l-24-11 0 11 25 12zm-154-147l-21-35-4 6 21 36zm-20-33l-19-38-5 6 20 38z"/>
<path fill="#0000c0" d="M3512 2675l16 5-1-13-17-5zm14 4l16 7-1-12-16-7zm96 91l13 23 5-7-14-24zm12 21l13 24 4-6-13-25zm59 171l3 27 7 3-4-29zm3 25l2 27 7 4-2-29zm-8 133l-7 19 7 10 7-20zm-21 45l-11 12 5 12 12-12zm-56 30l-15-1 2 13 16 2zm-41-11l-16-10 0 12 16 10zm-69-65l-14-21-4 7 15 22zm-37-62l-11-26-5 5 12 26zm-42-124l-5-28-6-1 5 29zm-10-75l-1-27-7-4 1 27zm16-126l8-16-6-11-9 18zm7-15l10-14-6-11-10 15zm13-34l13-10-7-16-13 10zm35-19l15-1-3-18-16 2zm71 20l16 12 2-14-18-14zm44 41l15 20 4-12-16-21zm63 107l11 27 7-4-12-29zm26 78l7 29 9 0-8-31zm18 155l-3 25 9 9 3-27zm-3 22l-4 24 9 10 5-25zm-51 109l-13 7 5 16 14-7zm-12 6l-14 4 4 17 15-4zm-98-28l-16-15-2 14 17 16zm-14-13l-16-18-3 13 16 18zm-88-148l-9-29-8 3 10 30zm-9-26l-8-29-8 1 9 31zm-25-182l3-25-9-9-3 26zm6-44l6-22-9-11-6 22zm55-109l15-4-6-21-15 5zm103 30l18 16 2-18-18-16zm16 14l17 19 3-16-17-20zm-179-114l17-13-9-23-18 13zm49-26l20-2-5-25-21 2zm99 28l22 17 2-21-24-18zm61 58l21 27 5-17-22-28zm88 149l15 38 10-7-15-40zm61 326l-4 34 14 13 4-36zm-3 31l-6 32 14 15 6-33zm-368-105l-13-39-11 5 14 41zm-12-36l-11-40-12 3 12 41zm-35-254l4-34-14-13-4 36zm3-32l6-32-14-15-5 34zm140-188l23 7-1-17-24-6zm21 6l24 11-1-16-24-11zm149 141l20 34 5-8-20-36zm19 32l19 37 6-8-20-37zm83 226l7 41 9 2-8-43zm16 117l1 39 9 6-1-41zm-16 167l-10 29 8 12 11-29zm-33 70l-17 18 7 15 17-18zm-379-360l-7-42-9-1 8 43zm-16-117l-1-40-9-6 1 41zm16-168l10-28-8-12-11 29zm20-49l15-22-8-15-15 23z"/>
<path fill="#0000d0" d="M3682 3137l-8 17 6 10 9-17zm-7 15l-10 15 6 11 10-15zm-258-244l-3-28-7-2 4 29zm-3-25l-2-28-7-3 2 28zm291 158l-1 26 10 7 1-27zm-6 68l-6 21 9 12 6-23zm-276-149l-7-29-8 0 7 31zm-18-131l1-26-10-8-1 28zm49-170l14-7-7-21-15 8zm223 194l10 29 10-3-11-32zm10 27l8 30 10-1-9-33zm26 192l-3 26 12 11 3-27zm-314-299l5-24-12-13-4 26zm171-108l19 17 3-21-20-18zm17 16l18 19 4-19-19-21zm-15-36l19 17 3-20-20-19zm17 16l19 21 5-19-20-22zm-158-65l16-8-8-29-18 9zm15-8l18-5-8-29-19 5zm127 36l21 19 3-23-22-21zm19 18l20 22 5-22-21-23zm113 192l12 36 14-5-14-39zm12 34l10 37 14-3-11-39zm23 32l9 40 13 0-10-42zm25 183l-1 36 13 11 2-38zm-76 216l-18 10 8 24 18-10zm-17 9l-19 6 7 25 20-6zm-136-39l-23-20-3 20 24 22zm-21-19l-21-24-5 19 23 25zm-170-463l1-36-13-11-1 38zm9-96l8-29-13-17-8 31zm414 286l6 42 8 3-5-43zm5 39l4 41 9 5-4-43zm-132 322l-22-2 2 17 24 2zm-63-17l-24-15 0 15 24 15zm-107-102l-22-32-4 10 22 33zm-57-96l-17-38-6 6 17 39zm-72-231l-6-41-8-3 5 43zm-5-39l-4-40-9-5 4 42zm21-232l13-25-8-14-13 26z"/>
<path fill="#0000e1" d="M3598 3194l-16-4 1 13 17 4zm-14-4l-16-7 1 13 16 7zm-96-90l-13-23-4 7 13 23zm-12-21l-13-24-4 5 13 25zm21-416l15 1-2-17-17-2zm42 12l17 10 0-16-17-10zm73 68l14 22 5-10-16-23zm38 65l12 26 6-6-12-28zm12 379l-13 9 7 17 13-10zm-35 19l-15 1 3 17 16-1zm-71-20l-16-13-2 15 18 13zm-44-41l-15-20-4 11 16 21zm-63-107l-10-28-8 5 12 29zm31-389l15-2-4-21-17 1zm74 21l17 13 2-19-19-14zm46 43l16 21 5-14-17-22zm67 113l11 29 9-6-12-30zm44 270l-5 25 12 12 4-26zm-55 114l-14 8 7 20 15-7zm-223-193l-10-30-10 4 11 32zm-10-28l-8-30-10 2 9 32zm-26-191l3-27-12-11-3 28zm50-157l15-8-8-25-16 8zm13-7l16-5-7-25-16 5zm225 213l11 32 11-5-11-33zm10 30l10 32 12-3-10-34zm-306-114l5-26-14-16-5 28zm50-145l16-8-8-24-17 8zm14-7l17-5-7-25-17 5zm242 230l12 34 11-5-12-36zm11 31l10 35 12-3-11-36zm-243-289l18-1-6-29-20 1zm91 26l21 16 2-25-23-17zm57 54l19 25 7-20-21-27zm81 139l14 34 12-8-14-37zm57 302l-3 31 15 16 4-34zm-3 29l-5 30 15 18 6-32zm-353-131l-10-37-14 3 11 39zm-32-236l3-32-15-15-4 34zm3-30l5-29-15-18-6 32zm110-181l21 2-4-25-22-2zm59 17l23 13 0-23-23-14zm101 95l20 30 7-15-21-32zm53 90l17 36 9-9-17-38zm69 421l-8 30 13 17 8-31zm-52 109l-17 13 9 24 18-14zm-49 26l-20 2 5 25 21-2zm-99-28l-22-17-2 22 24 18zm-61-57l-21-27-5 17 22 28zm-88-150l-15-37-10 7 16 39zm-37-108l-9-40-13 0 10 42zm382 279l-13 25 8 13 13-26zm-11 23l-15 22 8 14 15-22zm-120 64l-23-6 1 16 24 7zm-21-6l-24-10 1 16 24 11zm-149-141l-20-34-5 9 20 35zm-19-32l-19-36-6 7 20 38z"/>
<path fill="#0000f1" d="M3694 2936l5 29 9 2-6-31zm10 79l1 28 9 6 0-29zm-288-274l7-19-8-13-8 20zm22-47l12-12-7-16-12 13zm4-26l13-10-7-20-14 11zm253 240l7 31 10 0-7-33zm19 139l-1 27 11 10 1-30zm-70 170l-15 4 6 22 15-5zm-103-29l-18-16-2 17 18 17zm-16-15l-17-18-3 16 17 19zm-122-422l6-23-11-14-6 24zm72-122l16-1-5-25-18 1zm79 23l18 14 2-22-20-15zm49 47l17 21 6-17-18-23zm121 382l-3 28 13 13 3-29zm-3 26l-5 26 14 15 5-27zm-335-319l3-27-13-14-3 30zm168-157l19 14 2-21-21-16zm53 50l18 23 6-17-20-25zm129 411l-3 30 14 14 3-32zm-2 28l-5 28 13 15 5-29zm-360-343l3-30-14-13-3 32zm2-28l5-27-13-16-5 30zm41-141l15-12-10-28-17 13zm310 294l8 37 15 0-10-39zm23 170l-1 34 16 13 1-36zm-71 201l-16 9 9 29 17-10zm-15 9l-18 5 8 29 19-6zm-127-37l-21-19-3 24 22 20zm-19-18l-20-22-5 22 21 24zm-113-192l-12-36-13 6 13 38zm-37-326l8-27-15-20-8 29zm381 228l7 40 13 2-8-42zm15 111l1 37 13 9-1-39zm-403-384l10-27-13-18-10 28zm31-66l16-16-10-23-17 17z"/>
<path fill="#0002ff" d="M3510 2664l16 4-1-16-17-5zm15 4l16 7-1-16-17-8zm100 95l14 23 5-8-14-25zm13 21l13 26 6-8-14-26zm56 344l-7 20 8 13 8-21zm-22 48l-12 12 7 16 12-13zm-256-243l-5-29-9-1 6 30zm-10-79l-1-27-9-6 0 29zm301 265l-6 22 11 15 6-24zm-39 82l-13 10 7 20 14-10zm-253-240l-7-30-10 0 7 32zm-19-138l1-28-11-9-1 29zm39-172l13-11-9-24-14 11zm239 168l12 30 11-6-13-33zm30 88l8 32 12 0-8-35zm-41 322l-15 8 8 24 16-8zm-13 7l-16 5 7 25 16-5zm-110-31l-19-17-3 20 20 18zm-17-16l-18-19-4 19 19 20zm-98-167l-11-31-11 4 11 34zm-10-29l-10-32-12 2 10 34zm-22-255l6-23-13-18-7 26zm33-109l14-11-9-24-15 12zm43-23l17-1-5-25-19 1zm214 204l13 33 11-7-14-35zm-12 441l-16 8 8 25 17-9zm-14 8l-17 5 7 25 17-5zm-119-34l-19-18-3 20 20 20zm-17-17l-19-20-5 18 20 23zm-106-179l-12-34-11 5 12 36zm-11-32l-10-34-12 2 11 37zm338 164l-8 27 15 20 8-29zm-359-194l-8-37-15 0 10 40zm-23-170l1-33-15-13-2 36zm133-240l22 6-3-25-22-6zm20 5l22 10-1-24-23-10zm140 133l19 32 8-13-20-34zm18 30l18 34 8-11-18-36zm78 481l-10 26 13 19 10-28zm-31 65l-16 17 10 23 17-18zm-357-339l-7-39-13-3 8 42zm-15-110l-1-38-13-9 1 40z"/>
<path fill="#0012ff" d="M3699 2963l3 29 9 3-4-30zm3 26l2 29 10 4-3-29zm-89 218l-15-2 2 18 17 1zm-42-12l-17-10 0 16 17 10zm-73-68l-14-22-5 10 16 23zm-38-65l-12-26-6 6 12 28zm-38-339l9-17-8-14-9 18zm8-15l10-15-8-15-10 15zm64-61l16 2-4-21-17-2zm44 13l18 10 0-19-18-11zm77 72l15 23 6-13-16-24zm15 489l-15 1 4 22 17-2zm-74-21l-17-13-2 18 19 14zm-46-44l-16-20-5 14 17 22zm-67-112l-11-29-9 5 12 31zm281 10l-1 29 14 12 1-32zm-9-150l8 35 13 0-9-37zm22 159l-1 32 14 11 1-34zm-356-339l7-26-14-17-7 27zm99-142l19 2-4-29-21-2zm55 16l21 12 0-27-22-13zm94 88l18 28 8-18-20-29zm64 576l-15 12 10 28 17-13zm-46 24l-18 2 6 29 20-2zm-91-26l-21-16-2 26 23 17zm-56-53l-20-25-7 20 21 26zm-82-139l-14-35-12 8 14 38zm338-93l5 39 13 5-5-42zm5 37l3 38 13 7-3-41zm-125 303l-21-2 4 25 22 2zm-59-17l-23-13 0 22 24 15zm-101-96l-20-29-7 15 21 31zm-53-90l-17-36-9 9 17 38zm-53-473l11-23-11-21-13 25zm10-22l14-20-11-22-15 21z"/>
<path fill="#02f" d="M3655 2800l13 28 8-7-14-30zm-223-120l12-12-9-20-12 14zm285 451l-6 24 13 17 7-25zm-42 88l-13 11 9 24 14-12zm-269-256l-8-32-12 0 8 34zm-20-148l1-29-14-11-1 31zm343 331l-7 26 14 17 7-27zm-334-181l-8-35-13 0 9 37zm-22-159l1-31-14-11-1 33zm305-36l15 34 12-11-17-36zm-274-148l14-15-12-27-15 17zm-50 273l-5-39-13-5 5 42zm-5-37l-3-38-13-7 3 40z"/>
<path fill="#03f" d="M3688 3146l-9 18 8 13 9-18zm-8 16l-10 15 8 15 10-16zm-269-255l-3-29-9-3 4 30zm-3-27l-2-28-10-5 3 30zm293 56l6 31 11 2-6-32zm12 84l1 29 11 7-1-30zm-305-290l8-20-11-16-8 21zm227 510l-16 2 5 25 18-2zm-79-22l-18-14-2 22 20 14zm-49-47l-17-22-6 17 18 24zm-71-120l-12-31-11 7 13 33zm248 190l-14 11 9 24 15-12zm-42 22l-18 2 5 25 19-2zm-86-24l-19-15-2 22 21 16zm-53-50l-18-24-6 17 20 26zm-76-130l-13-32-11 6 14 35zm308-122l7 37 15 3-8-40zm14 103l1 34 16 11-1-37zm-374-357l9-24-14-22-10 26zm365 548l-11 23 11 20 13-24zm-10 22l-14 20 11 21 15-21zm-273-79l-19-32-8 14 20 34zm-18-30l-18-34-8 11 18 36z"/>
<path fill="#0043ff" d="M3600 3205l-16-4 1 17 17 5zm-15-4l-16-7 1 17 17 7zm-100-94l-14-24-5 9 14 25zm-13-22l-13-25-6 8 14 26zm-63-152l-6-30-11-2 6 32zm-12-83l-1-29-11-8 1 31zm93-222l17 2-4-25-19-2zm47 14l19 11 0-23-19-12zm82 77l16 24 7-15-17-26zm43 73l13 29 10-9-14-32zm-177-187l18 2-4-25-20-2zm51 15l20 11 0-23-21-12zm88 83l17 25 7-15-19-27zm46 78l14 31 10-9-15-33zm-309 49l-1-35-16-11 1 38zm256 483l-22-6 3 24 22 7zm-20-6l-22-9 1 23 23 11z"/>
<path fill="#0053ff" d="M3702 3140l-8 20 11 16 8-22zm-24 49l-12 13 9 19 12-13zm-254-526l12-13-10-23-13 14zm-10-20l13-15-10-23-14 16zm84-59l20 5-3-28-22-6zm18 5l20 9-1-28-22-9zm219 597l-9 25 14 22 10-26zm-29 62l-14 15 12 27 15-17zm-331-316l-7-36-15-3 8 39z"/>
<path fill="#0063ff" d="M3508 2649l17 4-2-20-18-5zm15 4l17 8-1-21-18-8zm106 100l15 25 6-11-15-26zm13 23l14 26 8-9-15-28zm-25 446l-17-1 4 21 17 1zm-45-13l-18-10 0 20 18 11zm-77-72l-15-22-6 12 16 25zm-40-68l-13-28-8 8 14 29zm256-132l6 32 13 2-6-34zm12 89l1 30 14 9-1-32zm-325-310l9-21-13-19-9 23zm325 221l6 35 13 2-6-37zm13 96l1 32 14 10-1-35zm-349-333l8-23-12-19-10 24zm259 12l18 30 9-15-19-32zm16 28l17 32 10-13-17-34zm-32 548l-19-2 4 29 21 2zm-55-16l-21-12 0 26 22 14zm-94-89l-18-27-8 17 20 30zm-49-83l-15-34-11 11 16 35z"/>
<path fill="#0073ff" d="M3415 2711l9-18-10-17-10 19zm8-16l10-16-9-18-11 16zm-40-35l11-21-14-24-12 23zm10-20l12-19-12-25-14 20z"/>
<path fill="#0084ff" d="M3707 2965l4 30 11 4-4-32zm4 28l2 29 11 6-2-31zm1 160l-9 22 13 19 9-23zm-313-220l-6-32-13-3 6 35zm-12-89l-1-31-14-9 1 33zm336 326l-8 23 12 19 10-25zm-336-237l-6-35-13-2 6 37zm-13-96l-1-33-14-9 1 35zm367 135l5 36 16 6-6-39zm5 34l3 36 16 8-3-38z"/>
<path fill="#0094ff" d="M3686 3206l-12 14 10 23 13-14zm-195-55l-16-24-7 15 17 26zm-43-73l-13-29-10 9 14 31zm248 149l-13 14 10 23 14-15zm-256-138l-14-32-10 9 15 34z"/>
<path fill="#00a4ff" d="M3403 2905l-4-30-11-4 4 32zm-4-28l-2-30-11-5 2 31zm222 365l-17-2 3 25 19 2zm-48-14l-19-11 0 23 19 12zm52 37l-18-2 4 25 20 2zm-51-15l-20-12 0 23 21 13zm-88-83l-17-26-7 15 19 28zm241 42l-11 22 14 24 12-23zm-10 21l-12 18 12 26 14-20zm-348-332l-5-37-16-5 6 39zm-5-34l-3-36-16-8 3 38z"/>
<path fill="#00b4ff" d="M3695 3158l-9 18 10 18 10-20zm-8 17l-10 15 9 19 11-17zm-223-18l-18-29-9 15 19 32zm-16-28l-17-31-10 13 17 34z"/>
<path fill="#00c4ff" d="M3481 3116l-15-24-6 11 15 26zm-13-22l-14-27-8 10 15 28zm144 192l-20-6 3 29 22 6zm-18-5l-20-9 1 27 22 10z"/>
<path fill="#00d4ff" d="M3602 3221l-17-5 2 21 18 5zm-15-5l-17-7 1 20 18 8zm-86-609l19 5-2-25-20-5zm18 5l19 8-1-24-21-9z"/>
<path fill="#00e5ff" d="M3505 2630l18 4-3-24-19-5zm16 4l18 8-1-24-19-8zm113 107l16 26 7-13-16-28zm14 25l15 27 9-11-16-30zm-8-39l17 28 7-14-17-29zm15 26l16 30 9-11-17-32z"/>
<path fill="#06fff9" d="M3405 2696l10-19-12-20-10 20zm9-18l11-16-11-22-12 18zm-20 0l10-20-11-21-11 22zm9-19l12-17-11-22-13 18z"/>
<path fill="#16ffe9" d="M3717 2967l4 32 13 5-4-35zm4 30l2 31 14 7-3-34zm8-28l5 35 13 4-5-36zm5 32l2 34 14 7-3-36z"/>
<path fill="#47ffb8" d="M3393 2903l-4-32-13-5 4 34zm-4-30l-2-31-14-7 3 33zm-8 27l-5-34-13-5 5 37zm-5-32l-2-33-14-7 3 36z"/>
<path fill="#57ffa8" d="M3705 3173l-10 19 12 21 10-20zm-9 18l-11 16 11 22 12-17zm20 0l-10 21 11 20 11-21zm-9 20l-12 17 11 22 13-19z"/>
<path fill="#67ff98" d="M3462 3104l-15-28-9 11 16 30zm8 39l-17-28-7 13 17 30zm-15-26l-16-30-9 11 17 32z"/>
<path fill="#7f8" d="M3476 3128l-16-26-7 13 16 29z"/>
<path fill="#8f7" d="M3605 3240l-18-5 3 25 19 5zm-16-5l-18-8 1 24 19 9zm20 28l-19-5 2 24 20 6zm-17-5l-20-8 1 23 21 9z"/></g><path fill="#16ffe9" d="M339.3 265.1L339.4 264.3L339.8 263.9L340.4 264L341 264.7L341.4 265.7L341.5 266.7L341.4 267.6L341 268L340.4 267.8L339.8 267.2L339.4 266.2Z"/><path fill="#67ff98" d="M339.7 265.4L339.8 264.8L340 264.6L340.4 264.7L340.8 265.1L341.1 265.8L341.2 266.5L341.1 267L340.8 267.3L340.4 267.2L340 266.7L339.8 266.1Z"/><path fill="#d9ff26" d="M340 265.7L340.1 265.4L340.2 265.2L340.4 265.3L340.6 265.5L340.7 265.8L340.8 266.2L340.7 266.5L340.6 266.6L340.4 266.6L340.2 266.3L340.1 266Z"/><path fill="#00f5ff" d="M350.8 260.4L351 259.6L351.4 259.2L352 259.4L352.5 260L352.9 261L353.1 262L352.9 262.9L352.5 263.3L352 263.1L351.4 262.5L351 261.5Z"/><path fill="#37ffc8" d="M351.2 260.7L351.3 260.1L351.6 259.9L352 260L352.3 260.4L352.6 261.1L352.7 261.8L352.6 262.3L352.3 262.6L352 262.5L351.6 262.1L351.3 261.4Z"/><path fill="#98ff67" d="M351.6 261L351.6 260.7L351.8 260.6L352 260.6L352.1 260.8L352.3 261.2L352.3 261.5L352.3 261.8L352.1 261.9L352 261.9L351.8 261.6L351.6 261.3Z"/><path fill="#00f5ff" d="M364.5 274.6L364.6 273.8L365 273.4L365.6 273.6L366.2 274.2L366.6 275.2L366.7 276.2L366.6 277.1L366.2 277.5L365.6 277.3L365 276.7L364.6 275.7Z"/><path fill="#37ffc8" d="M364.8 274.9L364.9 274.4L365.2 274.1L365.6 274.2L366 274.6L366.2 275.3L366.3 276L366.2 276.5L366 276.8L365.6 276.7L365.2 276.3L364.9 275.6Z"/><path fill="#a8ff57" d="M365.2 275.2L365.3 274.9L365.4 274.8L365.6 274.8L365.8 275L365.9 275.4L366 275.7L365.9 276L365.8 276.1L365.6 276.1L365.4 275.9L365.3 275.5Z"/><path fill="#26ffd9" d="M372.2 299.4L372.3 298.6L372.7 298.2L373.3 298.3L373.9 299L374.3 300L374.4 301L374.3 301.8L373.9 302.2L373.3 302.1L372.7 301.4L372.3 300.5Z"/><path fill="#7f8" d="M372.6 299.7L372.7 299.1L372.9 298.9L373.3 299L373.7 299.4L374 300L374.1 300.7L374 301.3L373.7 301.6L373.3 301.5L372.9 301L372.7 300.4Z"/><path fill="#e9ff16" d="M372.9 299.9L373 299.7L373.1 299.5L373.3 299.6L373.5 299.8L373.6 300.1L373.7 300.5L373.6 300.8L373.5 300.9L373.3 300.8L373.1 300.6L373 300.3Z"/><path fill="#67ff98" d="M369.5 320.2L369.6 319.4L370 319L370.6 319.2L371.2 319.8L371.6 320.8L371.7 321.8L371.6 322.7L371.2 323.1L370.6 322.9L370 322.3L369.6 321.3Z"/><path fill="#c8ff37" d="M369.8 320.5L369.9 319.9L370.2 319.7L370.6 319.8L371 320.2L371.3 320.9L371.4 321.6L371.3 322.1L371 322.4L370.6 322.3L370.2 321.9L369.9 321.2Z"/><path fill="#ffb400" d="M370.2 320.8L370.3 320.5L370.4 320.4L370.6 320.4L370.8 320.6L370.9 321L371 321.3L370.9 321.6L370.8 321.7L370.6 321.7L370.4 321.4L370.3 321.1Z"/><path fill="#98ff67" d="M357.9 324.9L358.1 324.1L358.5 323.7L359 323.8L359.6 324.5L360 325.5L360.2 326.5L360 327.4L359.6 327.8L359 327.6L358.5 327L358.1 326Z"/><path fill="#fff500" d="M358.3 325.2L358.4 324.6L358.7 324.4L359 324.5L359.4 324.9L359.7 325.6L359.8 326.3L359.7 326.8L359.4 327.1L359 327L358.7 326.5L358.4 325.9Z"/><path fill="#ff7300" d="M358.7 325.5L358.7 325.2L358.9 325L359 325.1L359.2 325.3L359.4 325.6L359.4 326L359.4 326.3L359.2 326.4L359 326.3L358.9 326.1L358.7 325.8Z"/><path fill="#8f7" d="M344.3 310.7L344.4 309.9L344.8 309.5L345.4 309.6L346 310.3L346.4 311.3L346.5 312.3L346.4 313.2L346 313.6L345.4 313.4L344.8 312.7L344.4 311.8Z"/><path fill="#e9ff16" d="M344.7 311L344.8 310.4L345 310.2L345.4 310.3L345.8 310.7L346.1 311.4L346.2 312.1L346.1 312.6L345.8 312.9L345.4 312.8L345 312.3L344.8 311.7Z"/><path fill="#ff9400" d="M345 311.2L345.1 311L345.2 310.8L345.4 310.9L345.6 311.1L345.7 311.4L345.8 311.8L345.7 312.1L345.6 312.2L345.4 312.1L345.2 311.9L345.1 311.6Z"/><path fill="#57ffa8" d="M336.6 285.9L336.7 285.1L337.1 284.7L337.7 284.9L338.3 285.5L338.7 286.5L338.8 287.5L338.7 288.4L338.3 288.8L337.7 288.6L337.1 288L336.7 287Z"/><path fill="#b8ff47" d="M336.9 286.2L337 285.7L337.3 285.4L337.7 285.5L338.1 285.9L338.3 286.6L338.4 287.3L338.3 287.8L338.1 288.1L337.7 288L337.3 287.6L337 286.9Z"/><path fill="#ffc400" d="M337.3 286.5L337.4 286.2L337.5 286.1L337.7 286.1L337.9 286.3L338 286.7L338.1 287L338 287.3L337.9 287.4L337.7 287.4L337.5 287.2L337.4 286.8Z"/></g></g>
<g clip-path="url(#ccy)"><g filter="url(#bl)"><path fill="#0030ff" d="M400.6 262.4L437.4 259.6L438.6 259.6L439.9 259.8L441.2 260.3L442.5 260.9L443.8 261.7L445.1 262.8L446.4 264L447.6 265.3L448.9 266.9L450.1 268.6L451.3 270.4L452.4 272.4L453.4 274.4L454.4 276.6L455.2 278.8L456 281.1L456.7 283.4L457.3 285.8L457.8 288.2L458.2 290.5L458.5 292.9L458.7 295.2L458.7 297.4L458.7 299.5L458.5 301.5L458.2 303.5L457.8 305.3L457.3 306.9L456.7 308.4L456 309.8L455.2 310.9L454.4 311.9L453.4 312.7L452.4 313.3L451.3 313.7L450.1 313.9L413.2 316.7L412 316.7L410.8 316.4L409.5 316L408.2 315.4L406.9 314.5L405.6 313.5L404.3 312.3L403 310.9L401.8 309.4L400.6 307.7L399.4 305.9L398.3 303.9L397.3 301.9L396.3 299.7L395.5 297.5L394.7 295.2L394 292.8L393.4 290.5L392.9 288.1L392.5 285.8L392.2 283.4L392 281.1L391.9 278.9L392 276.8L392.2 274.7L392.5 272.8L392.9 271L393.4 269.4L394 267.8L394.7 266.5L395.5 265.3L396.3 264.4L397.3 263.6L398.3 263L399.4 262.6Z"/><path fill="#ff9000" d="M398.5 281L398.5 279.3L398.6 277.7L398.9 276.2L399.2 274.7L399.6 273.4L400 272.3L400.6 271.2L401.2 270.3L401.9 269.5L402.7 268.9L403.5 268.4L404.3 268.1L405.2 268L406.2 268L407.2 268.2L408.2 268.5L409.2 269L410.2 269.7L411.2 270.5L412.3 271.4L413.3 272.5L414.2 273.7L415.2 275L416.1 276.5L417 278L417.8 279.6L418.5 281.3L419.2 283.1L419.8 284.9L420.4 286.7L420.9 288.6L421.3 290.4L421.6 292.3L421.8 294.1L421.9 295.9L422 297.6L421.9 299.3L421.8 300.9L421.6 302.4L421.3 303.9L420.9 305.2L420.4 306.3L419.8 307.4L419.2 308.3L418.5 309.1L417.8 309.7L417 310.2L416.1 310.5L415.2 310.6L414.2 310.6L413.3 310.4L412.3 310.1L411.2 309.6L410.2 308.9L409.2 308.1L408.2 307.2L407.2 306.1L406.2 304.9L405.2 303.6L404.3 302.1L403.5 300.6L402.7 299L401.9 297.3L401.2 295.5L400.6 293.7L400 291.9L399.6 290L399.2 288.2L398.9 286.3L398.6 284.5L398.5 282.7Z"/><g transform="scale(.1)"><path fill="#0000a0" d="M3977 2692l8-14 12 0-9 14zm8-12l9-12 12 0-10 11zm8-10l11-10 12 0-11 10zm10-8l12-7 11 0-12 7zm10-6l13-5 11 0-12 5zm12-3l14-2 10 0-14 1zm12-2l14 3 11-2-15-2zm12 2l14 5 11-2-14-5zm13 3l14 8 11-2-14-7zm250-11l11-9 11 0-10 9zm10-8l11-7 12 0-12 7zm10-5l13-5 11 0-13 5zm11-4l15-1 10-1-14 1zm12-1l15 2 10-1-14-2zm13 1l14 5 11-1-14-5zm12 4l15 7 11-1-15-8z"/>
<path fill="#0000b0" d="M3961 2869l-4-26 11 0 4 25zm-4-23l-2-26 12 0 2 25zm-2-23l0-25 11-1 1 25zm0-23l0-23 12-1-1 23zm0-21l2-23 12 0-2 22zm2-21l4-21 11 0-3 21zm3-19l5-19 11-1-4 20zm5-17l6-18 11-1-6 18zm5-16l7-16 12 0-7 15zm306 115l-2-25 11-1 2 25zm-2-23l-1-24 12-1 0 24zm-1-22l1-24 11-1 0 24zm1-22l2-22 11-1-2 23zm2-20l3-21 12-1-4 21zm3-19l5-20 11 0-5 19zm4-18l6-17 12-1-6 18zm6-15l7-16 12-1-8 16zm7-15l8-13 12-1-9 14zm7-12l10-11 11-1-9 12z"/>
<path fill="#0000c0" d="M4089 3118l-14-12 11-1 14 12zm-13-10l-14-14 11-2 14 15zm-13-12l-14-17 11-1 14 16zm-13-15l-13-18 11-1 13 18zm-12-16l-13-20 11-1 13 20zm-12-18l-12-21 11-1 12 21zm-11-19l-12-23 11-1 12 23zm-11-20l-10-24 11-1 10 23zm-10-22l-9-25 11-1 9 25zm-9-23l-8-25 11-1 9 25zm-7-23l-8-25 11-1 8 25zm-7-23l-6-26 11-1 6 26zm-6-24l-5-26 12-1 4 26zm137 234l-14-10 11-2 14 10zm306-33l-15-12 12-1 14 12zm-13-10l-14-15 11-1 14 14zm-13-13l-14-16 11-1 14 16zm-13-14l-13-18 11-1 13 18zm-12-16l-13-20 11-1 13 19zm-12-18l-13-21 12-1 12 21zm-12-19l-11-23 11-1 12 23zm-10-21l-11-24 11-1 11 24zm-10-21l-9-25 11-1 9 24zm-9-23l-8-25 11-1 8 25zm-8-23l-7-26 11-1 8 26zm-6-24l-7-26 12-1 6 26zm-6-23l-5-26 11-1 5 26zm-5-24l-3-26 11-1 4 26zm142 257l-14-10 11-1 14 10z"/>
<path fill="#0000f1" d="M4059 2652l15 5 11-2-15-5zm13 4l15 7 11-2-15-7z"/>
<path fill="#0002ff" d="M3987 2691l9-14 11 0-8 14zm8-12l10-12 11 0-10 12zm9-10l10-10 12 0-11 10zm9-8l12-7 11 0-11 7zm11-6l13-4 11 0-13 4zm11-3l14-1 11-1-15 1zm12-1l14 2 11-2-14-2zm255-5l10-9 12-1-11 10zm9-8l12-7 12 0-12 7zm11-6l13-4 11 0-13 5zm11-3l14-1 11-1-15 1zm12-1l14 2 11-1-14-3zm12 1l15 5 11-2-15-4zm13 4l15 7 11-1-15-8z"/>
<path fill="#0012ff" d="M3975 2721l6-18 11 0-6 17zm5-16l8-16 11 0-7 16zm305-37l9-14 11 0-8 14zm8-12l10-12 11 0-9 12z"/>
<path fill="#02f" d="M3966 2822l-1-25 11-1 1 25zm-1-23l1-23 11-1-1 24zm1-21l2-23 11 0-2 22zm1-20l4-21 11-1-3 21zm4-19l4-20 12-1-5 20zm292 38l1-24 11-1-1 24zm1-22l2-22 11-1-2 22zm2-20l3-21 11-1-3 21zm3-19l4-20 12 0-5 19zm4-18l6-18 12 0-6 18zm6-16l7-16 11 0-7 16z"/>
<path fill="#03f" d="M4014 3007l-10-24 11-1 11 24zm-9-22l-10-24 11-2 10 25zm-9-22l-9-26 11-1 9 26zm-21-71l-4-26 11-1 5 26zm-4-24l-4-25 12-1 3 25zm-3-23l-2-25 11-1 2 25zm298-23l-2-25 11-1 2 25zm-2-23l-1-25 11 0 1 24z"/>
<path fill="#0043ff" d="M4100 3118l-15-12 11-2 15 12zm-14-11l-14-14 11-1 14 14zm-13-12l-14-16 12-2 13 16zm-37-49l-12-21 11-1 12 21zm-11-19l-11-22 11-1 11 22zm-37-88l-7-25 11-1 7 25zm-7-23l-6-26 11-1 6 26zm132 210l-15-10 11-2 15 10zm-99-458l11-9 11-1-11 10zm10-8l11-7 12 0-12 7zm10-6l13-4 11 0-13 5zm11-3l15-1 10-1-14 1zm12-1l15 2 10-1-14-3zm13 1l14 5 11-2-15-4zm12 4l15 7 11-1-15-8zm278-21l14 7 11-2-14-7zm38 461l-15-12 11-2 15 12zm-75-91l-11-22 11-1 11 22zm-10-20l-11-24 11-1 11 24zm-10-22l-10-24 11-1 10 24zm-9-22l-9-25 12-1 8 25zm-8-23l-7-26 11-1 7 26zm-7-24l-6-26 11-1 6 26zm-5-24l-5-26 11-1 5 26zm-5-23l-3-26 11-1 3 26zm142 257l-15-10 11-1 15 9z"/>
<path fill="#0053ff" d="M4061 3080l-14-18 11-1 14 18zm-13-16l-13-19 11-2 13 20zm-51-374l9-14 11 0-8 14zm8-12l10-12 11 0-9 12zm286-31l11-10 12 0-11 10zm10-8l12-7 11 0-11 7zm11-6l13-4 11 0-13 4zm11-3l14-1 10-1-14 1zm12-1l14 2 11-2-15-2zm12 1l15 5 11-2-15-5zm38 454l-15-14 11-1 15 14zm-13-12l-14-16 11-2 14 17zm-13-14l-14-18 11-2 14 18zm-13-16l-13-20 12-1 12 19zm-12-18l-12-22 11-1 13 22z"/>
<path fill="#0063ff" d="M3991 2704l7-16 12 0-8 16zm284-35l9-14 11 0-9 14zm8-12l9-12 12 0-10 12z"/>
<path fill="#0073ff" d="M3975 2799l1-24 11-1 0 24zm1-22l2-22 11-1-2 22zm2-20l3-21 12-1-4 21zm3-19l5-20 11 0-5 19zm4-18l6-18 12 0-6 18zm108-66l14 7 11-1-14-8zm175 29l8-16 11 0-7 16z"/>
<path fill="#0084ff" d="M3976 2821l-1-25 12 0 0 24zm58-162l12-7 11 0-12 7zm33-10l15 2 10-1-14-2zm13 1l14 5 11-1-14-5zm270-16l14 8 11-2-14-7zm-97 143l1-23 11-1-1 24zm0-21l3-22 11-1-2 22zm2-20l4-21 11-1-3 21zm3-19l5-20 12-1-5 20zm5-18l6-18 11 0-6 18z"/>
<path fill="#0094ff" d="M3981 2868l-3-26 11-1 3 26zm-3-24l-2-25 11-1 2 25zm37-167l10-11 12-1-10 12zm9-10l11-9 11 0-10 9zm20-13l13-5 11 0-13 5zm12-4l14-1 10-1-14 1zm281-19l14 5 11-2-14-5zm-81 192l-3-25 12-1 2 25zm-2-23l-1-25 11-1 1 25z"/>
<path fill="#00a4ff" d="M4035 3026l-11-22 11-1 11 22zm-10-20l-11-24 11-1 11 24zm-10-22l-10-24 12-1 9 24zm-9-22l-8-25 11-1 8 25zm-8-23l-7-26 11-1 7 26zm-7-24l-6-26 12-1 6 26zm-5-24l-5-26 11-1 5 26zm22-202l8-13 12-1-9 14zm264-31l10-12 12 0-10 11zm9-10l11-10 11 0-10 10zm10-8l12-7 11 0-12 7zm10-6l13-5 11 0-13 5zm12-3l14-2 10 0-14 1zm11-1l15 2 11-2-15-2zm-65 216l-4-25 12-1 3 25z"/>
<path fill="#00b4ff" d="M4110 3117l-15-12 11-2 15 12zm-13-11l-15-14 11-1 15 14zm-13-12l-14-16 11-2 14 17zm-37-48l-13-22 11-1 13 22zm76 79l-15-10 11-1 15 9zm-122-421l7-16 12-1-8 16zm264-34l8-14 12 0-9 14zm122 426l-14-12 11-2 15 12zm-74-91l-12-22 12-1 11 22zm-11-20l-10-24 11-1 10 24zm-9-22l-10-24 11-2 10 25zm-9-22l-9-26 11-1 9 26zm-8-24l-8-25 12-1 7 25zm-7-23l-6-26 11-1 6 26zm-6-24l-4-26 11-1 5 26zm138 234l-15-10 11-2 15 10z"/>
<path fill="#00c4ff" d="M4071 3080l-14-18 11-2 14 18zm-13-17l-12-19 11-1 13 19zm-72-265l0-24 12-1-1 24zm0-22l2-22 12-1-3 23zm2-20l3-21 12-1-4 21zm3-19l5-20 11 0-4 19zm4-18l7-17 11-1-6 18zm108-66l13 7 23-2-14-7zm155 31l7-16 12 0-7 16zm116 401l-14-14 11-1 14 14zm-13-12l-14-16 11-2 14 16zm-37-48l-12-22 11-1 12 21z"/>
<path fill="#00d4ff" d="M3986 2820l0-24 11-1 1 24zm257-42l0-23 12-1-1 23zm0-21l2-23 12 0-2 22zm2-21l3-21 12 0-4 21zm7-36l7-18 11-1-6 18zm96 358l-13-18 11-1 14 18zm-12-16l-13-19 11-2 13 20z"/>
<path fill="#00e5ff" d="M3988 2843l-2-25 11-1 3 25zm38-167l9-11 22-1-9 11zm8-10l10-8 23-2-10 9zm10-8l11-6 23-1-11 6zm11-5l11-4 23-1-11 3zm35-3l13 4 23-2-13-4zm239-14l13 7 23-2-13-7zm-86 165l0-25 11-1 1 25zm5-84l5-19 11-1-4 20z"/>
<path fill="#00f5ff" d="M4025 2984l-9-25 11-1 9 24zm-33-117l-4-26 11-1 4 26zm74-218l12-1 23-1-12 1zm12-1l12 2 23-2-12-2zm183 1l9-9 23-1-10 9zm9-8l11-6 23-2-11 7zm46-9l13 5 23-2-13-5zm-71 192l-2-26 11 0 3 25z"/>
<path fill="#06fff9" d="M4120 3116l-14-12 11-2 14 12zm-74-90l-12-23 11-1 12 23zm-11-21l-11-24 12-1 10 24zm-19-44l-8-25 11-1 8 25zm-8-23l-7-26 11-1 8 26zm-12-47l-5-26 11-1 5 26zm137 233l-14-10 11-1 14 10zm-115-436l8-13 22-1-8 13zm234-29l9-11 22-1-9 11zm29-23l11-4 23-2-11 4zm1 328l-9-25 11-1 9 25zm-33-117l-4-26 11 0 4 25z"/>
<path fill="#16ffe9" d="M4107 3106l-14-15 11-1 14 14zm-105-192l-6-26 11-1 6 26zm242-243l8-13 23-1-8 13zm48-39l12-1 23-2-12 1zm12-1l12 2 23-2-12-2zm73 465l-14-12 11-1 14 12zm-85-110l-11-24 12-1 10 23zm-19-45l-8-25 11-1 9 25zm-8-23l-7-25 11-1 8 25zm-12-47l-5-26 11-1 5 26zm137 234l-14-10 11-2 14 10z"/>
<path fill="#26ffd9" d="M4094 3093l-14-16 11-1 14 16zm-13-14l-13-18 11-1 13 18zm-12-16l-13-20 11-1 13 19zm-12-18l-12-21 11-2 12 22zm-61-248l0-23 22-2 0 23zm0-22l2-22 22-1-2 22zm15-72l7-16 23-1-7 15zm112-51l14 7 22-2-13-7zm241 434l-14-14 11-2 14 15zm-61-80l-12-23 11-1 12 23zm-44-111l-6-26 11-1 6 26z"/>
<path fill="#37ffc8" d="M3996 2819l0-24 22-2 0 25zm2-64l3-21 23-1-4 21zm57-90l10-9 23-1-10 8zm182 20l7-15 23-1-7 15zm114 389l-14-17 11-1 14 16zm-37-49l-12-21 11-1 12 21z"/>
<path fill="#47ffb8" d="M4001 2736l5-19 22-2-4 20zm5-18l5-17 23-1-6 17zm40-43l9-11 23-2-9 11zm19-18l10-6 23-2-10 6zm46-9l13 5 22-3-13-4zm197-10l14 7 22-3-13-7zm-86 164l0-24 22-2 1 24zm0-22l0-24 23-1-1 23zm0-22l2-22 23-1-2 22zm116 301l-13-18 11-1 13 18zm-12-16l-13-20 11-1 13 20z"/>
<path fill="#57ffa8" d="M3998 2842l-2-25 22-1 2 25zm77-191l11-3 23-2-11 4zm165 0l10-9 23-1-10 8zm10-8l10-7 23-1-10 6zm-26 95l3-21 23-1-3 20zm8-37l5-17 23-2-6 18z"/>
<path fill="#67ff98" d="M4035 2983l-9-25 22-2 9 25zm3-296l8-13 23-2-8 14zm106-37l13 7 23-2-13-7zm87 11l9-11 23-2-9 11zm65-27l13 4 22-2-13-4zm-72 191l-2-25 23-2 2 25zm3-106l5-19 22-2-4 19z"/>
<path fill="#7f8" d="M4045 3004l-10-23 22-2 10 23zm-19-44l-8-25 22-2 8 25zm-25-94l-3-26 22-1 4 25zm259-229l12-4 22-1-11 4zm1 328l-9-24 22-2 9 24z"/>
<path fill="#8f7" d="M4129 3115l-13-12 22-2 14 12zm-13-10l-13-14 22-2 14 13zm-61-80l-11-22 22-3 11 23zm-37-88l-7-25 22-2 7 25zm124 186l-13-9 22-2 14 9zm-44-476l13 2 23-2-13-2zm-31 26l9-11 22-1-9 11zm9-10l9-9 23-1-10 9zm9-8l11-6 23-1-11 6zm46-8l13 4 23-2-13-5zm157-8l13 7 23-2-14-7zm-65 34l8-14 23-1-8 13zm48 314l-10-23 22-2 10 23zm-19-44l-8-25 22-2 8 25zm-24-94l-4-26 22-2 4 26z"/>
<path fill="#98ff67" d="M4012 2913l-6-25 22-2 6 26zm-6-23l-5-26 22-2 5 26zm10-95l1-23 22-1-1 23zm1-21l2-22 22-2-2 22zm15-73l7-15 22-2-7 16zm54-53l12-1 23-2-12 1zm10 2l11-4 23-2-11 4zm123 2l10-9 23-1-10 9zm10-8l11-6 23-1-11 6zm127 454l-14-12 22-2 14 11zm-75-90l-11-23 23-2 11 22zm-36-88l-8-26 23-2 7 26zm124 186l-14-9 23-3 13 10z"/>
<path fill="#a8ff57" d="M4103 3092l-13-16 22-2 14 16zm-36-48l-12-21 22-2 12 21zm-50-226l-1-24 22-2 1 24zm42-133l8-13 23-1-8 13zm105-36l14 7 22-3-13-7zm47 13l9-11 22-1-9 11zm64-26l13 4 23-2-13-5zm-74 145l1-23 22-2-1 24zm1-21l2-22 22-2-2 22zm141 327l-14-13 22-3 14 14zm-111-215l-5-25 23-2 4 26z"/>
<path fill="#b8ff47" d="M4078 3062l-12-20 22-2 13 20zm-59-309l3-20 22-2-3 21zm77-91l10-9 23-1-10 8zm10-8l10-7 23-1-10 6zm10-6l12-4 22-1-11 4zm23-4l13 1 23-2-13-1zm13 1l13 4 22-2-12-4zm115-4l14 7 22-2-13-7zm-27-2l11-4 23-2-11 4zm-38 165l-1-25 22-1 1 24zm15-117l7-16 22-1-7 15zm54-53l12-1 23-2-12 1zm12-1l13 1 23-1-13-2zm10 394l-12-21 22-2 12 21zm-55-131l-6-25 22-2 6 25z"/>
<path fill="#c8ff37" d="M4091 3078l-13-18 22-2 13 18zm-72-237l-2-25 22-2 2 25zm100-196l12 2 23-2-12-2zm-32 27l9-11 23-2-9 11zm41-27l11-1 23-2-11 1zm44-2l13 5 23-2-13-5zm13 4l13 7 23-2-13-7zm14 7l10-9 22-1-9 8zm10-8l10-6 23-2-11 6zm46-9l13 5 22-3-13-4zm-52 37l8-13 22-1-8 13zm1 65l3-20 22-2-3 21zm126 336l-14-16 23-2 13 16z"/>
<path fill="#d9ff26" d="M4056 2981l-10-24 22-2 10 24zm-19-187l0-23 23-2-1 23zm0-22l2-22 23-1-2 22zm15-73l7-15 23-1-7 15zm55-53l12-1 23-1-12 1zm-27 38l7-14 23-1-8 13zm28-14l9-11 22-1-8 11zm9-10l9-9 23-1-10 9zm9-8l11-6 23-2-11 7zm11-6l11-3 23-2-11 4zm11-3l12-1 23-2-12 1zm12-1l12 2 23-2-12-2zm9 0l12-1 22-2-11 1zm12-1l12 1 23-2-13-1zm12 1l13 4 23-2-13-4zm13 3l13 7 23-2-14-7zm7-5l13 5 23-2-13-5zm13 4l14 7 22-2-13-7zm-38 3l11-6 22-1-10 6zm34-10l12 2 23-2-12-2zm12 2l13 4 23-2-13-4zm13 3l13 7 23-2-14-7zm-57 22l9-11 23-2-9 12zm29-24l11-3 23-2-11 4zm11-3l12-1 23-2-12 1zm12-1l13 2 23-2-13-2zm-38 191l-2-25 22-2 2 25zm113 234l-13-18 22-2 13 18zm-12-16l-13-20 22-2 13 19z"/>
<path fill="#e9ff16" d="M4065 3003l-10-24 22-2 10 24zm-18-44l-8-25 22-2 8 25zm-21-242l6-17 22-2-5 17zm11 99l0-24 22-2 1 24zm36-118l7-16 22-1-7 15zm27-16l8-13 23-1-8 13zm28-13l9-12 23-1-9 11zm9-11l10-8 23-2-10 9zm10-7l11-7 22-1-10 6zm10-6l12-4 23-1-12 3zm1 12l10-9 22-1-9 9zm9-8l11-6 23-2-11 7zm11-6l11-3 23-2-11 4zm11-3l12-1 23-2-12 1zm12-1l13 2 22-2-12-2zm-31 26l9-11 22-1-9 11zm8-10l10-8 23-2-10 9zm21-13l11-4 23-1-12 3zm11-4l12-1 23-1-12 1zm-28 38l8-13 23-2-8 14zm-1 107l0-23 22-2 0 23zm0-22l2-22 22-1-1 22zm60 206l-10-24 22-2 10 24z"/>
<path fill="#f9ff06" d="M4150 3113l-14-11 23-3 13 12zm-74-90l-11-22 22-2 11 22zm-54-159l-3-25 22-2 3 25zm0-130l4-19 23-1-5 19zm141 388l-14-10 23-2 13 9zm-124-370l3-21 23-1-4 20zm18 40l1-23 22-2-1 24zm1-21l2-22 22-2-2 22zm35-75l7-15 23-1-7 15zm21-1l7-16 22-1-7 15zm7-14l8-14 22-1-8 13zm20-2l8-13 23-2-8 14zm8-12l9-11 23-1-9 11zm13 11l8-14 22-1-8 13zm14 12l7-15 22-2-7 16zm5 115l0-24 22-2 1 24zm15-117l7-15 23-1-7 15zm55-53l12-1 23-1-12 1zm12-1l12 2 23-2-12-2zm-13 355l-10-24 22-2 10 24zm-18-45l-8-24 22-2 8 25z"/>
<path fill="#fff500" d="M4137 3103l-14-14 23-2 13 14zm-98-168l-7-25 22-2 7 26zm0-96l-2-25 22-1 3 24zm19-25l-1-24 22-1 1 24zm2-64l3-20 22-2-3 21zm3-19l4-19 23-1-5 19zm4-17l6-18 22-1-5 17zm11 55l2-22 23-1-2 22zm2-20l4-21 22-1-3 20zm3-19l5-19 22-2-4 19zm5-18l6-17 22-2-6 18zm16 16l5-19 22-1-5 19zm4-17l6-18 23-1-6 17zm21-2l6-17 22-2-6 18zm6-16l6-15 23-2-7 16zm15 14l5-17 23-1-6 17zm5-15l7-16 22-1-6 15zm5 92l1-23 22-1-1 23zm1-21l2-22 22-2-2 22zm22-22l3-21 23-1-4 20zm152 358l-14-11 23-3 13 12zm-124-396l6-18 22-1-5 17zm137 405l-13-10 22-2 14 9z"/>
<path fill="#ffe500" d="M4076 2979l-9-24 22-2 9 25zm3-166l-1-24 22-2 1 24zm-1-22l0-24 23-1-1 23zm20-2l1-23 22-2 0 23zm1-21l2-22 22-2-2 22zm2-21l3-20 22-2-3 21zm19 19l1-22 23-2-2 22zm1-20l4-21 22-2-3 21zm4-19l4-19 22-2-4 19zm15 59l0-23 22-2 0 23zm0-22l2-22 22-1-2 22zm2-20l3-21 23-1-4 21zm3-19l5-19 22-2-5 20zm16 82l-1-24 22-2 1 24zm2-65l3-20 22-2-3 21zm3-19l4-19 23-1-5 19zm4-17l6-17 22-2-6 17zm13 122l-2-25 22-1 2 24zm139 261l-14-14 23-2 13 14zm-61-80l-11-22 22-2 11 22zm-54-159l-3-25 22-2 3 25zm0-130l4-19 23-1-5 19z"/>
<path fill="#ffd500" d="M4087 3042l-12-20 22-3 12 21zm-1-41l-10-23 22-2 10 23zm-19-44l-8-25 22-2 8 25zm-20-242l5-17 23-1-6 17zm13 123l-2-25 22-2 2 25zm20-2l-2-25 23-2 2 25zm19-25l-1-24 23-1 0 24zm21-1l-1-24 22-2 1 24zm-1-23l1-23 22-1-1 23zm21 21l-1-24 23-2 0 25zm23 22l-2-25 22-2 2 25zm57 138l-9-24 22-2 9 25zm4-47l-7-25 22-2 7 25z"/>
<path fill="#ffc400" d="M4124 3091l-13-16 22-2 13 16zm47 21l-14-12 22-2 14 12zm-75-90l-11-23 22-2 12 23zm-53-159l-4-26 22-1 4 25zm-1-130l5-19 22-2-4 19zm142 387l-14-9 22-3 14 10zm-87-142l-10-24 23-2 9 24zm-34-117l-3-25 22-2 3 25zm21-1l-4-26 22-2 4 26zm20-2l-3-25 22-2 3 25zm-3-24l-2-24 22-2 2 25zm24 22l-4-25 23-2 3 26zm-3-23l-2-25 22-2 2 25zm20-2l-2-25 22-1 2 25zm88 159l-10-23 22-2 10 23zm-19-44l-8-25 22-2 8 25z"/>
<path fill="#ffb400" d="M4158 3102l-14-14 22-3 14 14zm-99-168l-7-26 22-1 8 25zm47 66l-10-24 22-2 11 24zm-18-45l-8-25 22-1 8 25zm29 21l-9-24 22-2 9 24zm-9-22l-8-25 22-2 9 25zm-7-23l-8-26 23-2 7 26zm-7-24l-6-25 22-2 6 25zm-6-24l-5-25 23-2 4 26zm33 46l-7-25 22-2 7 25zm-7-23l-6-26 23-2 5 26zm-5-24l-5-26 22-2 5 26zm26 22l-6-26 22-1 6 25zm-6-24l-4-25 22-2 4 25zm16-25l-3-25 22-2 4 25zm55 115l-10-24 22-2 10 24zm-34-117l-3-25 22-2 3 26zm149 248l-14-12 22-2 14 12zm-128-249l-4-26 22-1 4 25zm-1-130l5-19 22-2-4 19zm5-18l5-17 23-1-6 17zm137 405l-14-9 22-3 14 10zm-56-81l-12-21 22-2 12 21z"/>
<path fill="#ffa400" d="M4026 2888l-4-26 22-1 5 25zm165 222l-13-11 22-3 13 12zm-74-90l-11-22 22-2 11 22zm-37-88l-7-25 22-2 7 25zm-7-23l-6-26 22-2 6 26zm-5-24l-5-26 22-1 5 25zm136 234l-13-10 22-2 14 9zm-66-101l-12-22 23-2 11 22zm-11-20l-10-23 22-2 10 23zm21-2l-11-23 22-2 11 23zm-10-21l-9-24 22-2 9 24zm-9-23l-8-25 22-2 8 25zm39 43l-10-24 22-2 10 24zm-10-22l-9-24 22-2 9 24zm-8-22l-9-25 22-2 9 25zm-8-23l-7-26 22-2 7 26zm47 65l-11-23 23-2 10 23zm-10-21l-9-25 22-2 9 25zm-9-23l-8-25 22-2 8 25zm-8-23l-7-25 22-2 7 25zm-6-24l-6-25 22-2 6 26zm-6-23l-5-26 22-2 5 26zm59 113l-10-24 22-2 10 24zm-18-44l-9-25 23-2 8 25zm110 143l-13-14 22-3 14 14zm-61-80l-11-23 22-2 11 23zm69 66l-13-16 22-2 13 15z"/>
<path fill="#ff9400" d="M4032 2912l-6-26 22-2 6 26zm76 129l-12-21 22-2 12 21zm70 59l-13-14 22-2 13 14zm-50-61l-12-21 23-2 11 21zm84 70l-14-12 22-2 14 11zm-13-11l-14-13 22-3 14 14zm-50-60l-12-21 22-2 12 21zm76 79l-14-9 23-3 13 10zm-56-81l-11-21 22-2 11 21zm-11-19l-11-22 22-2 11 22zm32 18l-12-21 22-2 12 21zm-11-20l-11-22 22-2 11 22zm20-1l-11-22 22-2 11 22zm95 88l-14-11 23-2 13 11zm-74-90l-11-22 22-2 11 22zm-37-88l-7-25 22-2 7 26zm-7-23l-6-26 22-2 6 26zm-6-24l-4-26 22-1 5 25zm137 234l-14-10 23-2 13 9zm-104-188l-7-26 22-1 7 25z"/>
<path fill="#ff8400" d="M4145 3089l-14-16 22-2 14 16zm20-1l-13-16 22-2 13 15zm21-2l-14-16 23-2 13 16zm-13-14l-13-18 22-2 13 18zm-12-16l-13-20 22-2 13 19zm71 51l-13-11 22-3 14 12zm-13-10l-13-14 22-2 13 14zm-13-13l-13-15 22-3 13 16zm-12-14l-13-18 22-2 13 18zm-13-16l-12-19 22-3 12 20zm64 61l-13-9 22-2 14 9zm8-9l-14-12 23-2 13 11zm-13-11l-14-14 23-2 13 14zm-13-12l-13-16 22-2 13 16zm-13-14l-13-18 22-2 13 17zm-12-17l-13-19 22-2 13 19zm64 62l-14-10 23-2 13 10zm7-10l-13-12 22-2 14 12zm-13-10l-13-14 22-2 14 13zm-49-61l-12-21 22-2 12 21zm75 79l-13-9 22-2 14 9zm-5-20l-14-14 23-2 13 14zm-64-194l-6-26 22-2 6 26zm-5-24l-5-26 22-1 5 25z"/>
<path fill="#ff7300" d="M4111 3076l-13-17 23-3 12 18zm-12-16l-12-19 22-2 12 19zm53 13l-12-17 22-3 13 18zm-12-16l-12-19 22-2 12 19zm107 24l-13-16 22-2 14 16zm-12-14l-13-18 22-2 13 18zm-13-16l-12-20 22-2 12 20zm46 29l-13-16 22-2 13 16zm-37-49l-12-20 22-3 12 21zm58 47l-14-16 22-2 14 16zm-37-48l-12-21 22-2 12 21z"/>
<path fill="#ff6300" d="M4053 2910l-6-25 22-2 6 25zm-6-24l-5-25 22-2 5 26zm208 179l-13-17 22-3 13 18zm-12-16l-13-19 23-2 12 19z"/>
<path fill="#ff5300" d="M4191 2875l-5-25 22-2 5 26zm93 171l-12-19 22-2 12 19z"/>
<path fill="#ff4300" d="M4197 2899l-6-25 22-2 6 25zm99 163l-13-17 23-3 13 18z"/>
<path fill="#f30" d="M4132 3075l-13-18 22-2 13 18zm-12-16l-13-20 22-2 13 20z"/>
<path fill="#ff1200" d="M4276 3064l-13-18 22-2 13 18zm-13-16l-12-20 22-2 13 20z"/></g><path fill="#ff4300" d="M410.7 303.7L411.8 303.9L412.9 304.6L413.9 305.6L414.3 306.6L414.2 307.3L413.5 307.6L412.3 307.4L411.1 306.8L410.2 305.9L409.7 304.9L409.9 304.1Z"/><path fill="#ff0200" d="M411.1 304.4L411.8 304.5L412.6 305L413.3 305.7L413.6 306.3L413.5 306.8L413 307L412.2 306.9L411.4 306.5L410.8 305.9L410.5 305.2L410.6 304.6Z"/><path fill="#c00000" d="M411.5 305L411.9 305.1L412.4 305.4L412.7 305.7L412.8 306.1L412.8 306.3L412.5 306.4L412.1 306.4L411.7 306.1L411.4 305.8L411.2 305.4L411.3 305.2Z"/><path fill="#ff7300" d="M404.3 285.8L405.3 286.1L406.1 287.1L406.6 288.4L406.7 289.8L406.3 290.8L405.4 291.3L404.4 291L403.5 290L402.9 288.7L402.9 287.3L403.4 286.3Z"/><path fill="#f30" d="M404.4 286.7L405.1 286.9L405.7 287.5L406 288.4L406.1 289.4L405.8 290.1L405.2 290.4L404.5 290.2L403.9 289.6L403.5 288.6L403.5 287.7L403.9 287Z"/><path fill="#f10000" d="M404.6 287.6L405 287.7L405.3 288L405.5 288.5L405.5 289L405.3 289.4L405 289.5L404.6 289.4L404.3 289.1L404.1 288.6L404.1 288.1L404.3 287.7Z"/><path fill="#ffe500" d="M405.4 269.7L406.3 269.8L406.7 270.4L406.6 271.3L406.1 272.3L405.3 273.1L404.3 273.5L403.4 273.3L402.9 272.6L402.9 271.6L403.5 270.7L404.4 270Z"/><path fill="#ffb400" d="M405.2 270.2L405.8 270.3L406.1 270.7L406 271.4L405.7 272L405.1 272.6L404.4 272.8L403.9 272.7L403.5 272.2L403.5 271.6L403.9 270.9L404.5 270.4Z"/><path fill="#ff7300" d="M405 270.8L405.3 270.9L405.5 271.1L405.5 271.4L405.3 271.8L405 272L404.6 272.2L404.3 272.1L404.1 271.9L404.1 271.5L404.3 271.2L404.6 270.9Z"/><path fill="#b8ff47" d="M413.5 264.7L414.2 264.6L414.3 264.5L413.9 264.4L412.9 264.4L411.8 264.5L410.7 264.7L409.9 264.7L409.7 264.7L410.2 264.7L411.1 264.7L412.3 264.7Z"/><path fill="#e9ff16" d="M413 264.6L413.5 264.5L413.6 264.5L413.3 264.4L412.6 264.4L411.8 264.5L411.1 264.6L410.6 264.6L410.5 264.6L410.8 264.6L411.4 264.6L412.2 264.6Z"/><path fill="#ffe500" d="M412.5 264.6L412.8 264.5L412.8 264.5L412.7 264.5L412.4 264.5L411.9 264.5L411.5 264.5L411.3 264.6L411.2 264.6L411.4 264.6L411.7 264.6L412.1 264.6Z"/><path fill="#f20" d="M427.2 302.4L428.3 302.7L429.4 303.4L430.4 304.4L430.8 305.3L430.7 306L430 306.3L428.8 306.2L427.6 305.6L426.7 304.6L426.2 303.6L426.4 302.8Z"/><path fill="#e10000" d="M427.6 303.1L428.3 303.3L429.1 303.7L429.8 304.4L430.1 305.1L430 305.6L429.5 305.8L428.7 305.7L427.9 305.2L427.3 304.6L427 303.9L427.1 303.4Z"/><path fill="#900000" d="M428 303.8L428.4 303.9L428.9 304.1L429.2 304.4L429.3 304.8L429.3 305.1L429 305.2L428.6 305.1L428.2 304.9L427.9 304.5L427.7 304.2L427.8 303.9Z"/><path fill="#ff5300" d="M420.8 284.6L421.8 284.8L422.6 285.8L423.1 287.1L423.2 288.5L422.8 289.6L421.9 290L420.9 289.7L420 288.8L419.4 287.4L419.4 286L419.9 285Z"/><path fill="#f20" d="M420.9 285.4L421.6 285.6L422.2 286.3L422.5 287.2L422.6 288.1L422.3 288.8L421.7 289.1L421 288.9L420.4 288.3L420 287.4L420 286.4L420.4 285.7Z"/><path fill="#d00000" d="M421.1 286.3L421.5 286.4L421.8 286.8L422 287.2L422 287.7L421.8 288.1L421.5 288.3L421.1 288.2L420.8 287.8L420.6 287.3L420.6 286.8L420.8 286.5Z"/><path fill="#ffc400" d="M421.9 268.4L422.8 268.6L423.2 269.2L423.1 270.1L422.6 271.1L421.8 271.9L420.8 272.2L419.9 272L419.4 271.3L419.4 270.3L420 269.4L420.9 268.7Z"/><path fill="#ff9400" d="M421.7 269L422.3 269.1L422.6 269.5L422.5 270.1L422.2 270.8L421.6 271.3L420.9 271.6L420.4 271.4L420 270.9L420 270.3L420.4 269.6L421 269.2Z"/><path fill="#ff5300" d="M421.5 269.5L421.8 269.6L422 269.8L422 270.2L421.8 270.5L421.5 270.8L421.1 270.9L420.8 270.8L420.6 270.6L420.6 270.3L420.8 269.9L421.1 269.6Z"/><path fill="#e9ff16" d="M430 263.4L430.7 263.3L430.8 263.2L430.4 263.1L429.4 263.2L428.3 263.3L427.2 263.4L426.4 263.4L426.2 263.4L426.7 263.4L427.6 263.4L428.8 263.5Z"/><path fill="#ffe500" d="M429.5 263.4L430 263.3L430.1 263.2L429.8 263.2L429.1 263.2L428.3 263.3L427.6 263.3L427.1 263.3L427 263.4L427.3 263.4L427.9 263.4L428.7 263.4Z"/><path fill="#ffb400" d="M429 263.3L429.3 263.3L429.3 263.2L429.2 263.2L428.9 263.2L428.4 263.2L428 263.3L427.8 263.3L427.7 263.3L427.9 263.3L428.2 263.3L428.6 263.3Z"/><path fill="#e0ff20" d="M409.9 265.9L410.1 266L410.4 266.1L410.6 266.3L410.8 266.4L411.1 266.6L411.3 266.7L411.5 266.9L411.8 267.1L412 267.2L412.2 267.4L412.5 267.6L412.7 267.8L412.9 268L413.2 268.2L413.4 268.4L413.6 268.6L413.9 268.9L414.1 269.1L414.3 269.3L414.5 269.6L414.8 269.8L415 270.1L415.2 270.4L415.4 270.6L415.7 270.9L415.9 271.2L416.1 271.5L416.3 271.8L416.5 272.1L416.8 272.4L417 272.7L417.2 273L417.4 273.3L417.6 273.6L417.8 274L418 274.3L418.2 274.6L418.4 275L418.6 275.3L418.8 275.7L419 276L419.2 276.4L419.4 276.7L419.6 277.1L419.8 277.5L419.9 277.8L420.1 278.2L420.3 278.6L420.5 279L420.7 279.4L420.8 279.7L421 280.1L421.2 280.5L421.3 280.9L421.5 281.3L421.6 281.7L421.8 282.1L421.9 282.5L422.1 282.9L422.2 283.4L422.4 283.8L422.5 284.2L422.6 284.6L422.7 285L422.9 285.4L423 285.8L423.1 286.3L423.2 286.7L423.3 287.1L423.4 287.5L423.6 288L423.7 288.4L423.7 288.8L423.8 289.2L423.9 289.6L424 290.1L424.1 290.5L424.2 290.9L424.2 291.3L424.3 291.8L424.4 292.2L424.4 292.6L424.5 293L424.6 293.4L424.6 293.8L424.7 294.3L424.7 294.7L424.7 295.1L424.8 295.5L424.8 295.9L424.8 296.3L424.9 296.7L424.9 297.1L424.9 297.5L424.9 297.9L424.9 298.3L424.9 298.7L424.9 299.1L424.9 299.5L424.9 299.8L424.9 300.2L424.9 300.6L424.8 301L424.8 301.3L424.8 301.7L424.7 302.1L424.7 302.4L424.7 302.8L424.6 303.1L424.6 303.5L424.5 303.8L424.4 304.1L424.4 304.5L424.3 304.8L424.2 305.1L424.2 305.4L424.1 305.8L424 306.1L423.9 306.4L423.8 306.7L423.7 306.9L423.7 307.2L423.6 307.5L423.4 307.8L423.3 308.1L423.2 308.3L423.1 308.6L423 308.8L422.9 309.1L422.7 309.3L422.6 309.5L422.5 309.8L422.4 310L422.2 310.2L422.1 310.4L421.9 310.6L421.8 310.8L421.6 311L421.5 311.2L421.3 311.4L421.2 311.5L421 311.7L420.8 311.8L420.7 312L420.5 312.1L420.3 312.3L420.1 312.4L419.9 312.5L419.8 312.6L419.6 312.7L419.4 312.8L419.2 312.9L419 313L418.8 313.1L418.6 313.2L418.4 313.2L418.2 313.3L418 313.3L417.8 313.4L417.6 313.4L417.4 313.4L417.2 313.4L417 313.4L416.8 313.5L416.5 313.4L416.3 313.4L416.1 313.4L415.9 313.4L415.7 313.4L415.4 313.3L415.2 313.3L415 313.2L414.8 313.1L414.5 313.1L414.3 313L414.1 312.9L413.9 312.8L413.6 312.7L413.4 312.6L441 310.5L441.2 310.6L441.5 310.7L441.7 310.8L441.9 310.9L442.2 311L442.4 311L442.6 311.1L442.8 311.2L443.1 311.2L443.3 311.2L443.5 311.3L443.7 311.3L443.9 311.3L444.2 311.3L444.4 311.3L444.6 311.3L444.8 311.3L445 311.3L445.2 311.3L445.4 311.3L445.6 311.2L445.8 311.2L446 311.1L446.2 311L446.4 311L446.6 310.9L446.8 310.8L447 310.7L447.2 310.6L447.4 310.5L447.6 310.4L447.7 310.3L447.9 310.2L448.1 310L448.3 309.9L448.4 309.7L448.6 309.6L448.8 309.4L448.9 309.3L449.1 309.1L449.2 308.9L449.4 308.7L449.5 308.5L449.7 308.3L449.8 308.1L450 307.9L450.1 307.7L450.2 307.4L450.4 307.2L450.5 307L450.6 306.7L450.7 306.5L450.8 306.2L451 305.9L451.1 305.7L451.2 305.4L451.3 305.1L451.4 304.8L451.5 304.5L451.6 304.3L451.6 304L451.7 303.6L451.8 303.3L451.9 303L451.9 302.7L452 302.4L452.1 302L452.1 301.7L452.2 301.4L452.2 301L452.3 300.7L452.3 300.3L452.4 300L452.4 299.6L452.4 299.2L452.5 298.9L452.5 298.5L452.5 298.1L452.5 297.7L452.5 297.4L452.5 297L452.5 296.6L452.5 296.2L452.5 295.8L452.5 295.4L452.5 295L452.5 294.6L452.5 294.2L452.4 293.8L452.4 293.4L452.4 293L452.3 292.6L452.3 292.2L452.2 291.7L452.2 291.3L452.1 290.9L452.1 290.5L452 290.1L451.9 289.6L451.9 289.2L451.8 288.8L451.7 288.4L451.6 288L451.6 287.5L451.5 287.1L451.4 286.7L451.3 286.3L451.2 285.8L451.1 285.4L451 285L450.8 284.6L450.7 284.2L450.6 283.7L450.5 283.3L450.4 282.9L450.2 282.5L450.1 282.1L450 281.7L449.8 281.2L449.7 280.8L449.5 280.4L449.4 280L449.2 279.6L449.1 279.2L448.9 278.8L448.8 278.4L448.6 278L448.4 277.6L448.3 277.2L448.1 276.9L447.9 276.5L447.7 276.1L447.6 275.7L447.4 275.4L447.2 275L447 274.6L446.8 274.3L446.6 273.9L446.4 273.5L446.2 273.2L446 272.9L445.8 272.5L445.6 272.2L445.4 271.8L445.2 271.5L445 271.2L444.8 270.9L444.6 270.6L444.4 270.3L444.2 270L443.9 269.7L443.7 269.4L443.5 269.1L443.3 268.8L443.1 268.5L442.8 268.3L442.6 268L442.4 267.7L442.2 267.5L441.9 267.2L441.7 267L441.5 266.8L441.2 266.5L441 266.3L440.8 266.1L440.6 265.9L440.3 265.7L440.1 265.5L439.9 265.3L439.6 265.1L439.4 264.9L439.2 264.8L438.9 264.6L438.7 264.5L438.5 264.3L438.2 264.2L438 264L437.8 263.9L437.5 263.8Z"/><g transform="scale(.1)"><path fill="#0000a0" d="M4075 2662l14 10 11-2-14-9zm13 8l14 12 11-1-14-12zm13 11l14 14 11-2-14-14zm13 12l14 16 11-1-14-16zm13 14l13 18 11-1-13-18zm12 16l13 20 11-1-13-20zm12 18l12 21 11-1-12-21zm11 19l12 23 11-1-12-23zm11 21l10 24 12-2-11-23zm10 21l9 25 11-1-9-25zm9 23l8 25 11-1-8-25zm7 23l8 26 11-1-7-26zm194-210l15 10 11-2-15-10zm14 8l14 12 11-1-14-12zm13 10l14 15 11-2-14-14zm13 13l14 16 11-1-14-17zm12 14l14 18 11-1-13-18zm13 16l13 20 11-1-13-20zm12 18l12 21 11-1-12-21zm11 19l12 23 11-2-12-22zm11 21l10 23 11-1-10-24zm9 21l10 25 11-1-9-25zm9 23l9 25 11-1-9-25z"/>
<path fill="#0000b0" d="M4206 2872l6 26 11-1-6-26zm6 23l5 26 11-1-5-26zm4 24l4 26 11-1-3-26zm3 24l3 25 11-1-2-25zm2 23l1 24 11-1 0-24zm1 22l-1 23 12 0 0-24zm0 21l-3 23 12-1 2-22zm-2 21l-4 21 12-1 3-21zm-4 19l-4 19 11-1 5-19zm-4 17l-6 18 11-1 7-18zm-5 16l-8 16 12-1 7-16zm-7 14l-9 14 12-1 8-14zm-8 12l-10 12 12-1 10-11zm-9 10l-10 9 11 0 11-9zm335-294l7 25 12-1-8-25zm7 23l6 26 11-1-6-26zm6 24l4 26 12-1-5-26zm4 24l3 25 12-1-4-25zm3 23l2 25 12 0-3-26zm2 23l1 25 11-1-1-25zm1 23l-1 23 12-1 0-23zm-1 21l-2 22 12 0 2-23zm-2 20l-3 21 11 0 4-21zm-3 19l-5 20 12-1 5-19z"/>
<path fill="#0000c0" d="M4174 3126l-12 7 11 0 12-7zm-10 5l-13 5 11 0 13-5zm-11 4l-14 2 10-1 14-1zm-12 2l-14-2 10-2 15 3zm-13-1l-14-5 11-1 14 4zm-13-3l-14-8 11-1 14 7zm416-91l-6 17 11 0 6-18zm-6 15l-7 16 11 0 8-16zm-6 14l-9 14 12 0 8-14zm-8 12l-10 12 12 0 9-12zm-9 10l-11 10 12 0 11-10zm-9 8l-12 7 11 0 12-7zm-11 6l-12 4 11 1 12-5zm-10 4l-14 1 10 0 14-2zm-12 2l-15-2 11-2 14 2zm-13-1l-14-5 10-2 15 5zm-13-4l-14-7 11-2 14 8z"/>
<path fill="#0000f1" d="M4085 2661l15 10 11-1-15-10zm13 9l15 12 11-2-15-12zm13 10l15 14 11-1-15-14zm13 12l14 16 11-1-14-16zm272-45l15 12 11-2-15-12z"/>
<path fill="#0002ff" d="M4137 2707l14 18 11-2-14-18zm12 16l13 19 11-1-12-20zm12 17l13 22 11-2-13-21zm12 20l11 22 11-1-11-23zm10 20l11 24 11-1-11-24zm10 22l10 24 11-1-10-24zm9 22l8 25 11-1-8-25zm8 23l7 26 11-1-7-26zm173-208l15 9 11-1-15-10zm26 18l15 14 11-1-14-14zm13 13l14 16 12-2-14-16zm13 14l14 18 11-1-14-18zm13 16l13 20 11-2-13-19zm12 18l12 21 11-1-12-22zm11 19l11 22 11-1-11-22zm10 20l11 24 11-1-10-24zm10 22l10 24 11-1-10-24zm9 22l8 26 12-1-9-26z"/>
<path fill="#0012ff" d="M4216 2871l7 26 11-1-6-26zm6 24l5 25 11 0-5-26zm5 23l3 26 11-1-3-26zm3 24l2 25 11-1-2-25zm2 23l0 24 12-1-1-24zm0 22l0 24 11-1 1-24zm276-163l7 26 11-1-7-26zm7 24l6 26 11-1-6-26zm5 24l5 26 11-1-5-26zm5 23l3 26 11-1-3-25zm3 24l2 25 11-1-2-25zm2 23l1 25 11-1-1-25z"/>
<path fill="#02f" d="M4232 3008l-2 23 11-1 2-22zm-2 21l-4 21 12-1 3-21zm301-65l-1 24 11-1 1-23zm-1 22l-2 22 11-1 2-22z"/>
<path fill="#03f" d="M4227 3048l-5 19 11 0 5-20zm-5 17l-6 18 12 0 6-18zm-5 16l-8 16 12 0 7-16zm-7 14l-8 14 11 0 9-14zm-8 12l-9 12 11 0 10-12zm-8 10l-11 9 11 0 11-9zm-99-456l15 9 11-1-15-10zm13 8l15 12 11-2-14-12zm14 10l14 14 11-1-14-14zm406 327l-3 21 11-1 3-21zm-3 19l-5 20 12-1 4-20zm-4 17l-7 18 12 0 6-18zm-6 16l-7 16 11 0 7-16zm-7 14l-8 14 11 0 9-14zm-7 12l-10 12 11 0 10-12z"/>
<path fill="#0043ff" d="M4184 3125l-12 7 12 0 11-7zm-10 5l-13 5 11 0 13-4zm-35 5l-15-5 11-1 15 5zm-13-3l-15-8 11-1 15 7zm9-441l14 17 11-2-14-16zm12 15l14 18 11-1-14-19zm13 16l13 20 11-2-13-19zm12 18l12 21 11-1-12-22zm11 19l11 22 11-1-11-22zm10 20l11 24 11-1-10-24zm10 22l10 24 11-1-10-24zm170-161l14 9 12-1-15-10zm13 8l15 12 11-2-15-12zm13 10l14 14 12-1-15-14zm62 80l11 22 11-1-11-23zm10 20l11 24 11-1-11-24zm21 336l-11 10 12 0 10-10zm-10 8l-11 7 11 0 12-7z"/>
<path fill="#0053ff" d="M4163 3135l-14 1 10-1 15-1zm-12 2l-14-3 10-1 15 2zm61-314l9 26 11-1-9-26zm200-153l14 16 11-1-14-16zm13 15l13 18 12-2-14-18zm12 16l13 19 11-1-13-20zm12 17l12 22 12-2-13-21zm32 62l9 24 12-1-10-24zm9 22l8 25 11-1-8-25zm-18 306l-13 4 11 0 13-4zm-10 4l-15 1 11-1 14-1zm-13 2l-14-2 11-2 14 2zm-12-1l-15-5 11-2 15 5zm-13-4l-15-7 11-2 15 7z"/>
<path fill="#0063ff" d="M4220 2846l7 26 11-1-7-26zm7 24l6 26 11-1-6-26zm5 24l5 26 11-1-4-26zm5 23l3 26 12-1-4-25zm3 24l2 25 11-1-2-25zm2 23l1 24 11 0-1-25zm256-139l7 26 11-1-7-26zm6 24l6 26 12-1-6-26z"/>
<path fill="#0073ff" d="M4243 2986l-1 24 11-1 1-23zm-1 22l-2 22 11-1 2-22zm-136-348l14 10 11-2-14-10zm13 8l14 12 11-1-14-12zm13 10l14 14 11-1-14-14zm378 195l5 25 11 0-5-26zm4 23l4 26 11-1-3-26zm4 24l2 25 11-1-2-25zm2 23l0 24 12-1-1-24zm0 22l0 24 11-1 1-24z"/>
<path fill="#0084ff" d="M4240 3028l-3 21 11-1 4-21zm-95-337l14 16 11-1-14-17zm13 14l13 18 11-1-13-18zm24 34l12 21 11-1-12-21zm11 19l12 23 11-2-12-22zm11 21l10 23 11-1-10-24zm10 21l9 25 11-1-9-25zm149-160l14 10 11-2-14-9zm13 8l14 12 11-1-14-12zm13 11l14 14 11-2-14-14zm72 100l10 24 11-2-10-23zm59 227l-2 23 11-1 2-22z"/>
<path fill="#0094ff" d="M4237 3047l-5 19 12 0 4-20zm-4 17l-6 18 11 0 6-18zm-6 16l-7 16 11 0 8-16zm-7 14l-8 14 11 0 9-14zm-7 12l-10 12 12 0 9-12zm-9 10l-11 10 12 0 10-10zm-34-395l13 20 11-1-13-20zm52 102l9 25 11-1-8-25zm180-152l14 16 11-1-14-16zm13 14l13 18 11-1-13-18zm12 16l13 20 11-1-13-20zm12 18l12 21 11-1-12-21zm11 19l12 23 11-1-12-23zm21 42l9 25 11-1-9-25zm8 23l9 25 11-1-8-25zm39 204l-4 21 12-1 3-21z"/>
<path fill="#00a4ff" d="M4194 3124l-11 7 11 0 12-7zm36-278l8 25 11-1-8-25zm257-20l8 26 11-1-8-26zm28 200l-5 19 11 0 5-20zm-5 17l-6 18 12 0 6-18zm-5 16l-8 16 12 0 7-16zm-7 14l-9 14 12 0 9-14zm-8 12l-9 12 11 0 10-12zm-8 10l-11 9 11 0 11-9z"/>
<path fill="#00b4ff" d="M4184 3130l-13 4 11 0 13-4zm-48 1l-15-7 11-2 15 7zm101-262l6 26 11-1-6-26zm6 24l4 26 12-1-5-26zm4 24l4 25 11-1-4-25zm3 23l2 25 12 0-2-26zm2 23l1 25 11-1 0-25zm1 23l-1 23 12-1 0-23zm241-136l6 26 11-1-6-26zm10 47l4 26 11-1-4-26zm3 24l2 25 12-1-2-25zm2 23l1 24 11-1 0-24zm-37 159l-12 7 12 0 11-7z"/>
<path fill="#00c4ff" d="M4174 3134l-15 1 11-1 14-1zm-12 2l-15-2 11-2 14 2zm-13-1l-15-5 11-2 15 5zm103-128l-2 22 12 0 2-23zm-136-348l13 10 23-3-14-9zm13 8l14 12 22-2-14-12zm13 11l14 14 22-3-14-14zm358 195l4 26 12-1-5-26zm10 93l-1 23 12 0 0-24zm-48 142l-13 5 11 0 13-4zm-11 5l-14 1 10-1 15-1zm-12 2l-14-3 10-1 15 2zm-13-2l-14-5 11-1 14 5zm-12-3l-15-8 11-1 15 7z"/>
<path fill="#00d4ff" d="M4155 2690l13 16 23-2-14-16zm48 67l11 23 22-2-11-23zm11 21l10 23 22-2-10-23zm128-136l14 9 22-2-14-9zm13 8l14 12 22-2-14-12zm13 10l14 14 22-2-13-14zm141 327l-2 23 12-1 2-22z"/>
<path fill="#00e5ff" d="M4250 3027l-3 21 11 0 4-21zm-58-289l12 21 22-2-12-21zm32 62l9 24 22-2-9-24zm206-60l11 22 22-2-11-22zm10 21l10 23 22-2-10-23zm10 21l9 24 22-1-9-25z"/>
<path fill="#00f5ff" d="M4247 3046l-4 20 11-1 5-19zm-4 18l-6 17 11 0 6-18zm-6 15l-7 16 12 0 7-16zm-6 14l-9 14 12 0 8-14zm-8 12l-10 12 12 0 9-12zm-9 10l-10 10 11 0 11-10zm-46-411l13 18 22-2-13-18zm12 17l13 19 22-2-13-20zm52 101l9 25 22-2-8-25zm149-149l14 16 22-3-14-15zm37 48l12 21 22-2-12-21zm41 84l8 25 22-2-8-25zm49 203l-4 21 11-1 4-21zm-20 66l-9 14 12-1 8-14zm-8 12l-10 12 12-1 10-11z"/>
<path fill="#06fff9" d="M4205 3123l-12 7 11 0 12-7zm189-436l13 18 22-2-13-18zm12 16l13 20 22-2-13-20zm98 324l-4 19 11-1 5-19zm-4 17l-6 18 11-1 6-18zm-6 16l-7 16 12-1 7-16zm-23 36l-10 9 11 0 11-9z"/>
<path fill="#16ffe9" d="M4195 3129l-13 4 11 1 13-5zm-49 1l-14-7 11-2 14 8zm94-285l7 25 22-1-7-26zm20 95l2 24 23-1-3-25zm2 23l1 24 22-2-1-24zm-126-305l14 9 22-2-13-10zm13 8l14 12 22-3-13-11zm317 162l8 25 22-2-7-25zm21 94l2 25 22-2-2-24zm1 23l1 24 22-1 0-24zm-26 159l-12 7 11 0 12-7z"/>
<path fill="#26ffd9" d="M4184 3133l-14 1 10-1 14-1zm-25 1l-14-5 11-2 14 5zm88-265l6 25 22-2-6-25zm10 47l4 25 22-1-4-26zm6 69l-1 23 23-1 0-24zm-100-309l13 14 22-2-13-14zm158-32l14 9 22-2-13-10zm14 8l13 11 23-2-14-12zm148 247l4 25 22-2-4-25zm6 69l0 23 22-2 0-23zm-37 141l-13 5 11 0 13-5zm-49 2l-14-8 11-1 14 7z"/>
<path fill="#37ffc8" d="M4172 3135l-15-2 11-2 14 2zm81-243l4 26 22-2-4-25zm9 114l-2 22 23-1 2-22zm-38-250l11 22 22-2-11-22zm10 20l11 24 22-2-10-24zm10 22l9 24 23-2-10-24zm104-136l13 14 22-2-13-14zm72 100l10 24 22-2-10-24zm53 89l6 26 22-2-6-25zm6 24l5 26 22-2-5-26zm-38 238l-14 2 10-1 14-1zm-12 2l-15-2 11-2 14 3zm-13-1l-14-5 11-1 14 5z"/>
<path fill="#47ffb8" d="M4176 2689l13 15 22-2-13-16zm37 48l11 21 23-2-12-21zm196 5l11 22 22-2-11-22zm20 42l10 24 22-2-10-24zm59 205l-1 22 22-1 2-22z"/>
<path fill="#57ffa8" d="M4260 3027l-3 20 22-1 4-21zm-20 66l-8 13 23-1 8-13zm-8 12l-9 11 23-1 9-11zm21-285l8 25 22-2-8-25zm-96-164l13 10 23-3-14-9zm13 8l14 12 22-2-14-12zm191 10l13 16 22-2-13-16zm77 132l8 25 22-2-8-25z"/>
<path fill="#67ff98" d="M4247 3079l-7 15 23-1 7-15zm-23 36l-10 9 22-1 10-9zm-41-440l14 13 22-2-14-14zm215 48l11 20 23-2-12-21zm89 286l-4 21 23-1 3-21zm-20 67l-8 13 22-1 8-14zm-8 12l-9 11 22-1 9-11z"/>
<path fill="#7f8" d="M4257 3046l-4 19 22-2 5-19zm-4 17l-6 17 22-1 6-17zm-39 60l-11 6 23-1 11-6zm67-185l2 25 22-2-2-25zm2 23l1 24 22-1-1-25zm-39-207l12 23 22-2-11-23zm11 21l10 23 22-2-10-23zm46-130l13 10 23-3-14-9zm13 8l14 12 22-2-14-12zm13 11l14 13 22-2-14-14zm123 434l-10 9 23-2 10-8z"/>
<path fill="#8f7" d="M4188 2703l13 18 22-3-12-17zm13 16l12 19 22-2-12-19zm60 125l7 25 22-2-7-25zm22 139l0 24 22-2 1-23zm-87-296l13 16 23-2-14-16zm69 109l9 25 22-2-9-25zm123-53l11 23 23-2-12-23zm11 21l10 23 22-2-10-23zm10 21l9 25 22-2-9-25zm37 44l7 26 22-2-7-25zm20 95l2 25 22-2-2-25zm2 23l1 24 22-2-1-24zm15 81l-4 19 22-1 5-19zm-10 34l-7 15 23-1 7-16zm-33 44l-11 6 23-1 11-7z"/>
<path fill="#98ff67" d="M4155 3129l-13-7 23-2 13 7zm123-214l3 25 22-2-3-25zm-45-180l12 21 22-2-12-21zm41 84l8 25 22-2-8-25zm-97-164l14 9 23-2-14-10zm14 8l13 11 23-2-14-12zm149 13l13 16 23-2-14-16zm123 224l3 26 22-2-3-25zm6 69l-1 23 22-1 1-23zm10 77l-6 17 23-1 5-18zm-97 66l-14-7 23-2 13 7z"/>
<path fill="#a8ff57" d="M4203 3129l-11 4 23-2 11-4zm-35 4l-13-5 23-2 13 4zm115-128l-2 22 22-2 2-22zm-79-332l13 14 23-2-14-14zm76-26l14 9 22-2-13-10zm13 8l14 12 22-3-13-11zm84 69l12 21 22-2-12-21zm41 84l8 25 22-2-8-25zm-45-119l13 17 23-2-13-17zm13 16l12 19 22-2-12-19zm43 407l-11 3 23-1 11-4z"/>
<path fill="#b8ff47" d="M4217 2685l13 16 22-2-13-16zm48 68l11 22 22-2-11-22zm11 20l10 24 22-2-10-24zm31-108l13 14 22-2-13-14zm161 326l-2 22 22-2 2-22zm-74 124l-13-4 23-2 13 4z"/>
<path fill="#c8ff37" d="M4192 3133l-12 0 23-1 12-1zm-12 1l-12-2 23-2 12 2zm81-43l-8 14 22-2 8-13zm-8 13l-9 11 23-2 9-11zm-44-403l13 18 22-2-13-18zm72 141l8 25 22-2-7-25zm20 94l3 25 22-1-2-25zm2 23l1 25 22-2 0-24zm-74-259l13 17 23-2-13-17zm13 16l12 19 22-2-12-19zm12 18l12 20 22-2-12-21zm31 61l10 24 22-2-10-24zm-87-142l14 9 22-2-13-9zm13 8l14 12 22-2-13-12zm13 10l14 14 22-2-13-14zm36-23l13 10 23-3-14-9zm13 8l13 12 23-2-14-12zm47 22l13 15 22-2-13-16zm37 48l11 21 22-2-11-21zm11 19l11 22 22-2-11-22zm10 20l11 24 22-2-11-24zm10 22l9 24 22-2-9-24zm37 44l7 25 23-2-8-25zm20 94l2 25 23-1-2-25zm2 24l1 24 22-2 0-24zm-29 166l-12 1 23-2 12-1z"/>
<path fill="#d9ff26" d="M4268 2867l6 26 22-2-6-26zm5 24l5 25 22-1-5-26zm8 134l-3 21 22-2 3-20zm-37 89l-10 8 23-1 10-9zm-23-397l13 20 22-2-13-20zm77 196l4 25 22-1-4-26zm6 69l-1 23 23-2 0-23zm-10-165l8 25 22-2-8-25zm-57-133l14 16 22-3-13-15zm13 14l13 18 22-2-13-18zm12 16l13 20 22-2-12-20zm12 18l12 21 22-2-12-21zm12 19l11 22 22-2-11-22zm-67-100l13 10 23-2-14-10zm13 9l13 11 23-2-14-12zm13 10l13 14 23-3-14-13zm-6-20l14 9 22-2-13-9zm13 8l14 12 22-3-13-11zm13 10l14 14 22-2-13-14zm21-1l14 14 22-3-14-14zm13 12l13 16 23-2-14-16zm33 13l13 18 22-3-13-17zm13 16l12 19 22-2-12-19zm52 101l8 25 22-2-8-25zm51 162l-1 23 23-2 0-23zm5-118l6 26 22-2-6-26zm-15 236l-9 12 23-2 9-11zm-32 28l-12-2 23-2 12 2z"/>
<path fill="#e9ff16" d="M4268 3077l-7 16 22-2 7-15zm35-74l-2 22 23-1 2-22zm-1-163l7 26 22-2-7-25zm-6-68l10 23 22-2-10-23zm10 21l9 24 22-1-9-25zm-48-111l13 16 22-2-13-16zm13 15l13 17 22-2-13-18zm12 16l12 19 23-2-13-19zm12 17l12 21 22-2-12-21zm-17-49l14 16 22-3-13-16zm13 14l13 18 22-2-13-18zm13 16l12 19 22-2-12-19zm8-18l13 18 22-2-13-18zm12 17l13 19 22-2-13-20zm12 17l12 21 22-2-12-21zm11 19l11 23 22-2-11-23zm11 21l10 23 22-2-10-23zm10 22l9 24 22-2-9-24zm-15-99l13 18 22-2-13-18zm12 16l13 20 22-2-13-20zm77 196l4 25 22-1-4-26zm16-25l5 25 22-2-5-25zm8 134l-3 21 22-2 3-21zm-20 66l-8 14 23-2 8-13zm-17 22l-10 9 23-1 10-9z"/>
<path fill="#f9ff06" d="M4234 3122l-10 6 23-2 10-6zm88-187l2 25 22-2-2-25zm2 23l1 24 22-2-1-24zm-9-142l8 25 22-2-8-25zm-9-66l11 22 22-2-11-22zm11 20l10 23 22-2-10-23zm9 22l10 24 22-2-9-24zm-11-63l12 21 22-2-11-21zm12 19l11 22 22-2-11-22zm10 21l10 23 23-2-11-23zm10 21l9 24 22-2-9-24zm29 21l9 25 22-2-9-25zm29 22l7 25 22-2-7-25zm42 159l-2 22 23-1 2-22z"/>
<path fill="#fff500" d="M4176 3128l-13-7 22-3 13 7zm133-264l6 26 22-2-6-26zm5 24l5 25 22-2-5-25zm5 23l3 26 22-2-3-25zm6 69l-1 23 22-1 1-23zm-2-141l7 25 22-2-7-25zm6 23l6 26 22-2-6-25zm6-48l9 25 22-2-9-25zm21-1l8 24 22-1-8-25zm28 21l7 25 22-1-7-26zm28 22l5 26 23-2-6-26zm5 24l5 25 22-1-5-26zm5 24l3 25 22-2-3-25zm3 23l2 25 22-2-2-25zm2 23l1 24 22-1-1-25zm26 113l-7 16 22-2 7-15zm-34 44l-10 7 23-2 10-6z"/>
<path fill="#ffe500" d="M4288 2865l6 26 22-2-6-25zm6 24l4 26 23-2-5-26zm7 135l-3 20 23-1 3-21zm-20 66l-8 13 23-1 8-13zm-7 12l-9 11 22-1 9-11zm-9 10l-10 9 23-2 9-8zm59-110l-2 22 22-2 2-22zm11-116l5 26 22-2-5-26zm4 24l4 25 22-2-3-25zm4 23l2 25 22-2-2-24zm0-96l7 26 22-2-7-26zm7 24l6 25 22-1-6-26zm14-25l7 25 22-2-7-25zm6 23l6 26 22-2-5-26zm21-1l6 25 22-2-6-25zm6 23l4 26 22-2-4-25zm4 24l3 25 23-1-4-26zm3 24l2 24 22-1-2-25zm23 43l0 24 22-2 1-23zm5-118l6 26 22-2-6-25zm-14 237l-9 11 22-1 9-11zm-57 22l-13-7 22-2 14 7z"/>
<path fill="#ffd500" d="M4224 3127l-12 4 23-1 12-4zm121-171l0 24 22-1 0-24zm0 23l0 23 22-2 0-23zm11-94l4 25 22-2-4-25zm4 23l3 26 22-2-3-25zm3 24l2 25 22-2-2-25zm13-49l5 26 22-2-5-26zm5 24l3 25 22-2-3-25zm3 23l2 25 22-2-2-24zm22 22l1 24 22-2-1-24zm1 22l-1 23 22-1 1-24zm20 20l-2 22 22-2 2-22zm11-116l4 26 23-2-5-26zm7 135l-3 20 22-1 4-21zm-20 66l-8 13 23-1 8-13zm-16 22l-10 9 23-2 9-8z"/>
<path fill="#ffc400" d="M4278 3044l-5 19 23-1 4-19zm-5 18l-5 17 22-2 6-17zm-85 69l-12-4 22-3 13 5zm100-55l-7 15 23-1 7-16zm-33 44l-11 6 23-1 11-6zm67-98l-3 21 22-2 3-21zm23-22l-2 22 22-1 2-22zm20-45l1 24 22-2-1-24zm1 22l-1 23 22-1 1-23zm20-24l0 24 23-1-1-24zm0 23l0 23 22-2 1-23zm20 19l-2 22 23-1 1-22zm3 118l-11 4 22-2 12-3z"/>
<path fill="#ffb400" d="M4196 3126l-13-7 23-2 13 7zm123-85l-5 19 23-1 4-20zm-10 33l-7 16 22-2 7-15zm-7 14l-8 14 23-2 8-13zm-8 12l-9 12 23-2 9-11zm-9 10l-10 9 23-1 10-9zm58-90l-4 21 23-2 3-20zm22-21l-2 22 22-2 2-22zm-2 20l-3 20 22-1 3-21zm23-22l-2 22 22-2 2-22zm18 19l-3 20 22-1 4-21zm21-2l-3 21 22-2 3-20zm-20 66l-8 14 22-2 8-13zm-8 13l-9 11 23-2 9-11zm35-28l-7 15 23-1 7-16zm-33 44l-11 6 23-1 11-6zm64-79l-5 19 23-1 4-20zm-89 87l-13-5 22-2 13 5z"/>
<path fill="#ffa400" d="M4314 3058l-5 18 22-2 6-17zm-39 60l-10 7 23-2 10-6zm64-79l-4 19 22-1 5-19zm-4 18l-6 17 23-1 5-18zm-6 16l-7 15 23-1 7-16zm-6 14l-8 13 22-1 8-14zm-8 12l-9 11 22-1 9-11zm45-61l-5 19 23-2 4-19zm-4 17l-6 18 22-2 6-17zm28-38l-4 21 23-2 3-20zm-3 19l-5 19 22-1 5-19zm20-1l-4 19 22-2 4-19zm21-2l-5 19 23-1 4-19zm-10 33l-7 16 22-2 7-15zm-24 37l-10 8 23-1 10-9zm-48 12l-13-7 23-2 13 7zm118-68l-5 18 22-2 6-17z"/>
<path fill="#ff9400" d="M4244 3126l-11 3 23-1 11-4zm-27-2l-13-7 22-2 14 7zm89-15l-10 9 23-2 10-8zm-10 8l-11 6 23-1 11-7zm54-46l-7 16 23-2 6-15zm-7 14l-8 13 23-1 8-13zm-8 12l-9 11 23-1 9-11zm-9 10l-9 9 22-1 10-9zm50-53l-6 17 23-1 6-18zm-6 16l-6 15 22-1 7-16zm-6 14l-8 13 22-1 8-14zm-8 12l-9 11 23-1 8-12zm-9 10l-10 9 23-2 10-9zm50-54l-6 17 22-1 6-17zm-6 16l-7 15 23-1 7-15zm-7 14l-8 13 23-1 8-13zm-8 12l-9 11 23-1 9-11zm-8 10l-10 9 22-1 10-9zm49-53l-6 17 23-2 6-17zm-39 60l-10 6 23-2 10-6z"/>
<path fill="#ff8400" d="M4298 3043l-4 19 22-2 5-19zm-4 17l-6 17 23-1 5-17zm-85 70l-13-5 23-2 13 4zm56-6l-11 4 23-2 11-3zm-35 4l-13-5 22-2 13 5zm55-5l-11 3 23-1 11-4zm-35 3l-13-4 23-2 13 4zm-12-3l-14-7 23-2 13 7zm79-8l-11 7 23-2 10-6zm-11 6l-11 4 23-2 11-3zm-35 4l-13-5 23-2 12 5zm-13-4l-13-7 22-2 14 7zm79-7l-10 6 22-1 11-7zm-10 6l-12 3 23-1 11-4zm-48 0l-14-7 23-3 13 7zm79-8l-11 6 23-1 11-6zm-11 6l-11 4 23-2 11-4zm-48 0l-13-7 23-2 13 7zm21-1l-14-7 23-3 13 7zm68-2l-11 3 23-1 11-4z"/>
<path fill="#ff7300" d="M4212 3131l-11 1 23-2 11-1zm62-5l-12 1 23-2 12-1zm-12 2l-12-2 23-2 12 2zm33-3l-12 1 23-2 12-1zm-12 1l-12-2 22-2 13 2zm32-3l-12 1 23-2 12-1zm-12 1l-12-1 23-2 12 1zm-12-1l-13-4 23-2 13 4zm45-1l-12 0 23-1 12-1zm-12 1l-12-2 23-2 12 2zm-12-1l-13-5 23-2 13 4zm56-6l-12 4 23-1 12-4zm-36 4l-13-4 23-3 13 5zm110-88l-4 19 22-2 5-19zm-89 87l-13-5 23-2 13 4z"/>
<path fill="#ff6300" d="M4201 3132l-13-2 23-2 13 2zm53-4l-12 1 23-2 12-1zm-12 1l-13-2 23-2 13 2zm114-9l-11 1 23-2 11-1zm-11 1l-13-2 23-2 13 2zm93-72l-6 17 22-1 6-17zm-40 68l-12 1 23-2 11-1z"/>
<path fill="#ff5300" d="M4386 3118l-13-2 23-2 13 2z"/>
<path fill="#f30" d="M4233 3129l-12 1 23-1 12-1zm-12 2l-12-2 23-2 12 2z"/>
<path fill="#f20" d="M4377 3118l-12 1 23-1 12-1zm-12 2l-12-2 23-2 12 2z"/></g><path fill="#b8ff47" d="M423.6 273.8L424.4 273.5L424.5 272.7L424.1 271.6L423.2 270.7L422 270.1L420.8 269.9L420.1 270.3L420 271L420.4 271.9L421.3 272.9L422.5 273.6Z"/><path fill="#e9ff16" d="M423.2 273.2L423.7 272.9L423.8 272.4L423.5 271.7L422.9 271.1L422.1 270.6L421.3 270.5L420.8 270.7L420.7 271.2L421 271.9L421.6 272.5L422.4 273Z"/><path fill="#ffe500" d="M422.8 272.5L423 272.4L423.1 272.1L422.9 271.7L422.6 271.4L422.2 271.2L421.8 271.1L421.5 271.2L421.4 271.5L421.6 271.8L421.9 272.2L422.4 272.4Z"/><path fill="#fff500" d="M430 291.7L430.9 291.3L431.4 290.2L431.3 288.9L430.8 287.5L429.9 286.6L428.8 286.3L428 286.7L427.6 287.8L427.6 289.1L428.2 290.5L429 291.4Z"/><path fill="#ffc400" d="M429.9 290.9L430.4 290.6L430.8 289.8L430.8 288.9L430.4 288L429.8 287.3L429.1 287.1L428.5 287.4L428.2 288.2L428.2 289.1L428.6 290L429.2 290.7Z"/><path fill="#ff9400" d="M429.7 290L430 289.8L430.2 289.4L430.2 289L430 288.5L429.6 288.1L429.3 288L429 288.2L428.8 288.6L428.8 289.1L429 289.5L429.3 289.9Z"/><path fill="#ff9400" d="M428.8 307.9L429.9 307.6L430.8 306.9L431.3 305.9L431.4 305L430.9 304.3L430 304.1L429 304.4L428.2 305.2L427.6 306.2L427.6 307.1L428 307.7Z"/><path fill="#ff6300" d="M429.1 307.3L429.8 307.1L430.4 306.6L430.8 306L430.8 305.3L430.4 304.9L429.9 304.7L429.2 305L428.6 305.5L428.2 306.2L428.2 306.8L428.5 307.2Z"/><path fill="#f20" d="M429.3 306.8L429.6 306.6L430 306.4L430.2 306L430.2 305.7L430 305.5L429.7 305.4L429.3 305.5L429 305.8L428.8 306.1L428.8 306.5L429 306.7Z"/><path fill="#ff4300" d="M420.8 312.8L422 312.8L423.2 312.8L424.1 312.9L424.5 312.9L424.4 312.9L423.6 312.9L422.5 313L421.3 313.1L420.4 313.2L420 313.1L420.1 313Z"/><path fill="#ff0200" d="M421.3 312.9L422.1 312.9L422.9 312.9L423.5 312.9L423.8 312.9L423.7 312.9L423.2 313L422.4 313L421.6 313.1L421 313.1L420.7 313.1L420.8 313Z"/><path fill="#b00000" d="M421.8 313L422.2 313L422.6 313L422.9 313L423.1 313L423 313L422.8 313L422.4 313L421.9 313.1L421.6 313.1L421.4 313.1L421.5 313Z"/><path fill="#c8ff37" d="M440.1 272.6L440.9 272.2L441 271.4L440.6 270.4L439.7 269.5L438.5 268.9L437.3 268.7L436.6 269L436.5 269.7L436.9 270.7L437.8 271.7L439 272.4Z"/><path fill="#f9ff06" d="M439.7 271.9L440.2 271.7L440.3 271.1L440 270.4L439.4 269.8L438.6 269.4L437.8 269.3L437.3 269.5L437.2 270L437.5 270.6L438.1 271.3L438.9 271.8Z"/><path fill="#ffc400" d="M439.3 271.2L439.5 271.1L439.6 270.8L439.4 270.5L439.1 270.1L438.7 269.9L438.3 269.8L438 270L437.9 270.2L438.1 270.6L438.4 270.9L438.9 271.2Z"/><path fill="#fff500" d="M446.5 290.5L447.4 290L447.9 289L447.8 287.6L447.3 286.3L446.4 285.3L445.3 285L444.5 285.4L444.1 286.5L444.1 287.9L444.7 289.2L445.5 290.2Z"/><path fill="#ffc400" d="M446.4 289.6L446.9 289.3L447.3 288.6L447.3 287.6L446.9 286.7L446.3 286.1L445.6 285.9L445 286.2L444.7 286.9L444.7 287.8L445.1 288.8L445.7 289.4Z"/><path fill="#ff8400" d="M446.2 288.7L446.5 288.6L446.7 288.2L446.7 287.7L446.5 287.2L446.1 286.9L445.8 286.8L445.5 286.9L445.3 287.3L445.3 287.8L445.5 288.3L445.8 288.6Z"/><path fill="#ff8400" d="M445.3 306.6L446.4 306.3L447.3 305.6L447.8 304.7L447.9 303.7L447.4 303L446.5 302.8L445.5 303.2L444.7 304L444.1 305L444.1 305.9L444.5 306.5Z"/><path fill="#ff4300" d="M445.6 306.1L446.3 305.9L446.9 305.4L447.3 304.7L447.3 304.1L446.9 303.6L446.4 303.5L445.7 303.7L445.1 304.2L444.7 304.9L444.7 305.5L445 306Z"/><path fill="#ff0200" d="M445.8 305.5L446.1 305.4L446.5 305.1L446.7 304.8L446.7 304.4L446.5 304.2L446.2 304.1L445.8 304.2L445.5 304.5L445.3 304.9L445.3 305.2L445.5 305.4Z"/><path fill="#f30" d="M437.3 311.6L438.5 311.6L439.7 311.6L440.6 311.6L441 311.6L440.9 311.6L440.1 311.6L439 311.7L437.8 311.9L436.9 311.9L436.5 311.8L436.6 311.7Z"/><path fill="#f10000" d="M437.8 311.7L438.6 311.6L439.4 311.7L440 311.7L440.3 311.7L440.2 311.7L439.7 311.7L438.9 311.8L438.1 311.8L437.5 311.9L437.2 311.8L437.3 311.7Z"/><path fill="#a00000" d="M438.3 311.7L438.7 311.7L439.1 311.7L439.4 311.7L439.6 311.7L439.5 311.7L439.3 311.8L438.9 311.8L438.4 311.8L438.1 311.8L437.9 311.8L438 311.8Z"/></g></g>
<defs><linearGradient id="jet" x1="0" y1="1" x2="0" y2="0"><stop offset="0%" stop-color="#00008f"/><stop offset="12.5%" stop-color="#0000ff"/><stop offset="25%" stop-color="#0080ff"/><stop offset="37.5%" stop-color="#00ffff"/><stop offset="50%" stop-color="#80ff80"/><stop offset="62.5%" stop-color="#ffff00"/><stop offset="75%" stop-color="#ff8000"/><stop offset="87.5%" stop-color="#ff0000"/><stop offset="100%" stop-color="#800000"/></linearGradient></defs>
<rect x="519.8" y="221.2" width="10.0" height="139.2" fill="url(#jet)"/>
<path d="M528.6 351.4L529.8 351.4M528.6 331.9L529.8 331.9M528.6 312.3L529.8 312.3M528.6 292.8L529.8 292.8M528.6 273.2L529.8 273.2M528.6 253.7L529.8 253.7M528.6 234.1L529.8 234.1" stroke="#262626" stroke-width=".4" fill="none"/>
<text x="32.7" y="43.3" font-size="7.4" text-anchor="end">1</text>
<text x="32.7" y="64.8" font-size="7.4" text-anchor="end">0.8</text>
<text x="32.7" y="86.5" font-size="7.4" text-anchor="end">0.6</text>
<text x="32.7" y="108.5" font-size="7.4" text-anchor="end">0.4</text>
<text x="32.7" y="129.4" font-size="7.4" text-anchor="end">0.2</text>
<text x="32.7" y="137.2" font-size="7.4" text-anchor="end">0.1</text>
<text x="68.3" y="158" font-size="7.4" text-anchor="middle">0.05</text>
<text x="116.5" y="177.9" font-size="7.4" text-anchor="middle">0</text>
<text x="131.5" y="178" font-size="7.4" text-anchor="middle">0</text>
<text x="167" y="169.8" font-size="7.4" text-anchor="middle">100</text>
<text x="198.2" y="161.2" font-size="7.4" text-anchor="middle">200</text>
<text x="229" y="152.4" font-size="7.4" text-anchor="middle">300</text>
<text x="15.6" y="87.9" font-size="8.1" text-anchor="middle" transform="rotate(-90 15.6 85)">Dimensionless pressure</text>
<text x="59.6" y="169.1" font-size="8.1" text-anchor="middle" transform="rotate(26 59.6 166.2)">z (m)</text>
<text x="189.7" y="175.1" font-size="8.1" text-anchor="middle" transform="rotate(-12.5 189.7 172.2)">Circumferential(Angle)</text>
<text x="304.3" y="48.3" font-size="7.4" text-anchor="end">1</text>
<text x="304.3" y="69" font-size="7.4" text-anchor="end">0.8</text>
<text x="304.3" y="89.2" font-size="7.4" text-anchor="end">0.6</text>
<text x="304.3" y="110" font-size="7.4" text-anchor="end">0.4</text>
<text x="304.3" y="130.2" font-size="7.4" text-anchor="end">0.2</text>
<text x="304.2" y="137.3" font-size="7.4" text-anchor="end">0.1</text>
<text x="289.6" y="89.9" font-size="8.1" text-anchor="middle" transform="rotate(-90 289.6 87)">Dimensionless pressure</text>
<text x="321.3" y="144.6" font-size="7.4" text-anchor="middle">0.05</text>
<text x="347.5" y="152.3" font-size="7.4" text-anchor="middle">0</text>
<text x="366.5" y="159.9" font-size="7.4" text-anchor="middle">-0.05</text>
<text x="389.6" y="167.4" font-size="7.4" text-anchor="middle">-0.1</text>
<text x="411.2" y="167.4" font-size="7.4" text-anchor="middle">-0.1</text>
<text x="434.8" y="159.8" font-size="7.4" text-anchor="middle">-0.05</text>
<text x="451.2" y="152" font-size="7.4" text-anchor="middle">0</text>
<text x="479" y="144.4" font-size="7.4" text-anchor="middle">0.05</text>
<text x="499.8" y="137" font-size="7.4" text-anchor="middle">0.1</text>
<text x="340.8" y="163.2" font-size="8.1" text-anchor="middle" transform="rotate(23 340.8 160.3)">x (m)</text>
<text x="456.2" y="163.7" font-size="8.1" text-anchor="middle" transform="rotate(-17 456.2 160.8)">y (m)</text>
<text x="36.4" y="255.9" font-size="7.4" text-anchor="end">1</text>
<text x="36.4" y="276.6" font-size="7.4" text-anchor="end">0.8</text>
<text x="36.4" y="296.8" font-size="7.4" text-anchor="end">0.6</text>
<text x="36.4" y="317.6" font-size="7.4" text-anchor="end">0.4</text>
<text x="36.4" y="337.8" font-size="7.4" text-anchor="end">0.2</text>
<text x="36.3" y="344.9" font-size="7.4" text-anchor="end">0.1</text>
<text x="21.7" y="297.4" font-size="8.1" text-anchor="middle" transform="rotate(-90 21.7 294.6)">Dimensionless pressure</text>
<text x="53.4" y="352.2" font-size="7.4" text-anchor="middle">0.05</text>
<text x="79.6" y="359.9" font-size="7.4" text-anchor="middle">0</text>
<text x="98.6" y="367.5" font-size="7.4" text-anchor="middle">-0.05</text>
<text x="121.7" y="375" font-size="7.4" text-anchor="middle">-0.1</text>
<text x="143.3" y="375" font-size="7.4" text-anchor="middle">-0.1</text>
<text x="166.9" y="367.4" font-size="7.4" text-anchor="middle">-0.05</text>
<text x="183.3" y="359.6" font-size="7.4" text-anchor="middle">0</text>
<text x="211.1" y="352" font-size="7.4" text-anchor="middle">0.05</text>
<text x="231.9" y="344.6" font-size="7.4" text-anchor="middle">0.1</text>
<text x="72.9" y="370.7" font-size="8.1" text-anchor="middle" transform="rotate(23 72.9 367.9)">x (m)</text>
<text x="188.3" y="371.2" font-size="8.1" text-anchor="middle" transform="rotate(-17 188.3 368.4)">y (m)</text>
<text x="278.1" y="233" font-size="7.4" text-anchor="end">0.1</text>
<text x="278.1" y="255.5" font-size="7.4" text-anchor="end">0.05</text>
<text x="278.1" y="278.3" font-size="7.4" text-anchor="end">0</text>
<text x="278.1" y="300.7" font-size="7.4" text-anchor="end">-0.05</text>
<text x="278.1" y="322.6" font-size="7.4" text-anchor="end">-0.1</text>
<text x="278.1" y="330.6" font-size="7.4" text-anchor="end">0.1</text>
<text x="300.8" y="349.4" font-size="7.4" text-anchor="middle">0</text>
<text x="324.3" y="368.8" font-size="7.4" text-anchor="middle">-0.1</text>
<text x="347" y="372.1" font-size="7.4" text-anchor="middle">-0.1</text>
<text x="376" y="369.1" font-size="7.4" text-anchor="middle">0</text>
<text x="412.3" y="366.6" font-size="7.4" text-anchor="middle">0.1</text>
<text x="445.3" y="364.4" font-size="7.4" text-anchor="middle">0.2</text>
<text x="478.6" y="362" font-size="7.4" text-anchor="middle">0.3</text>
<text x="511.5" y="359.4" font-size="7.4" text-anchor="middle">0.4</text>
<text x="258.6" y="278.9" font-size="8.1" text-anchor="middle" transform="rotate(-90 258.6 276)">y (m)</text>
<text x="290.4" y="355.7" font-size="8.1" text-anchor="middle" transform="rotate(38.5 290.4 352.8)">x (m)</text>
<text x="429" y="374.4" font-size="8.1" text-anchor="middle">z (m)</text>
<text x="532.2" y="236.4" font-size="5.8">0.9</text>
<text x="532.2" y="255.9" font-size="5.8">0.8</text>
<text x="532.2" y="275.4" font-size="5.8">0.7</text>
<text x="532.2" y="294.7" font-size="5.8">0.6</text>
<text x="532.2" y="314.4" font-size="5.8">0.5</text>
<text x="532.2" y="334.1" font-size="5.8">0.4</text>
<text x="532.2" y="353.5" font-size="5.8">0.3</text>
<text class="cap" x="125.8" y="207.7" font-size="10.4" text-anchor="middle">(<tspan font-weight="bold">a</tspan>)</text>
<text class="cap" x="395.6" y="207.7" font-size="10.4" text-anchor="middle">(<tspan font-weight="bold">b</tspan>)</text>
<text class="cap" x="125.7" y="403.5" font-size="10.4" text-anchor="middle">(<tspan font-weight="bold">c</tspan>)</text>
<text class="cap" x="395.6" y="403.5" font-size="10.4" text-anchor="middle">(<tspan font-weight="bold">d</tspan>)</text>
</svg>
</body></html>
